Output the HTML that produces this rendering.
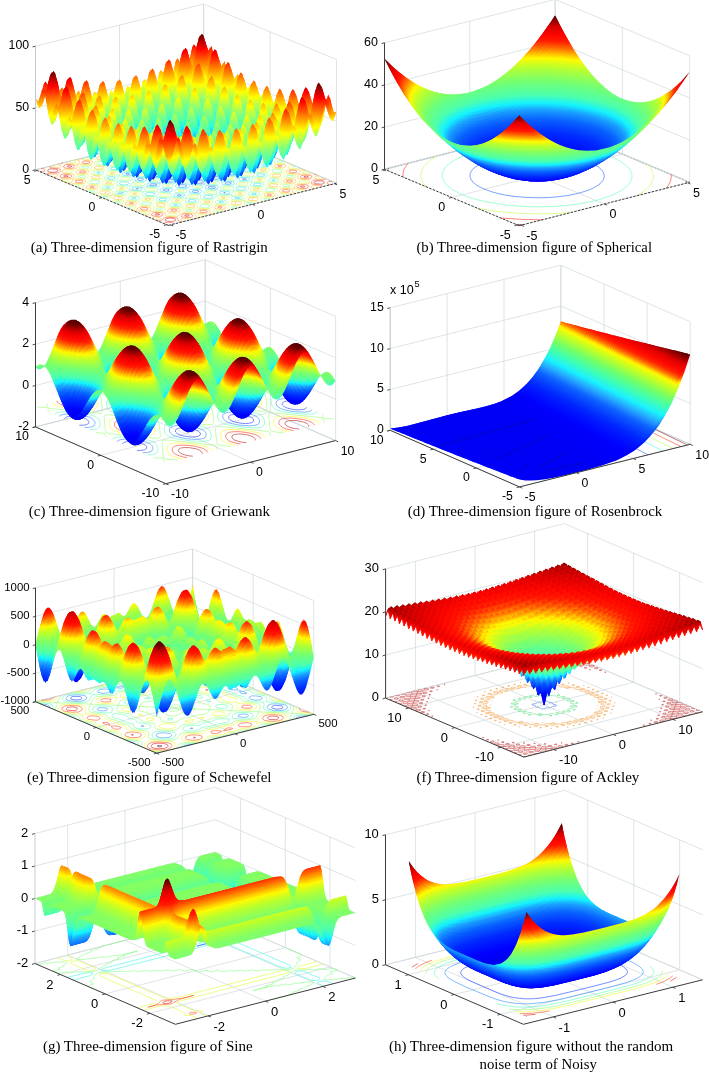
<!DOCTYPE html>
<html><head><meta charset="utf-8"><title>Three-dimension figures of benchmark functions</title>
<style>html,body{margin:0;padding:0;background:#fff}svg{display:block}</style></head>
<body><svg width="709" height="1073" viewBox="0 0 709 1073" font-family="'Liberation Sans',Arial,sans-serif" fill="#000">
<defs><linearGradient id="ga" gradientUnits="userSpaceOnUse" x1="842" y1="1152" x2="718" y2="659"><stop offset="0" stop-color="#0000e6"/><stop offset="0.1" stop-color="#000dff"/><stop offset="0.2" stop-color="#004cff"/><stop offset="0.3" stop-color="#0da6ff"/><stop offset="0.37" stop-color="#1af7f2"/><stop offset="0.43" stop-color="#52ffa8"/><stop offset="0.5" stop-color="#80ff80"/><stop offset="0.625" stop-color="#ffff00"/><stop offset="0.75" stop-color="#ff8000"/><stop offset="0.875" stop-color="#ff0000"/><stop offset="0.94" stop-color="#bf0000"/><stop offset="1" stop-color="#660000"/></linearGradient>
<clipPath id="ca"><rect x="0" y="0" width="356" height="258"/></clipPath>
<linearGradient id="gb" gradientUnits="userSpaceOnUse" x1="2596" y1="1128" x2="2463" y2="609"><stop offset="0" stop-color="#0000e6"/><stop offset="0.1" stop-color="#0000ff"/><stop offset="0.2" stop-color="#002bff"/><stop offset="0.28" stop-color="#0861ff"/><stop offset="0.34" stop-color="#1a9eff"/><stop offset="0.385" stop-color="#14f2ff"/><stop offset="0.44" stop-color="#4cffad"/><stop offset="0.53" stop-color="#73ff73"/><stop offset="0.63" stop-color="#b8ff2e"/><stop offset="0.695" stop-color="#fffa00"/><stop offset="0.735" stop-color="#ffad00"/><stop offset="0.775" stop-color="#ff6100"/><stop offset="0.82" stop-color="#ff1a00"/><stop offset="0.86" stop-color="#ff0500"/><stop offset="0.92" stop-color="#d90000"/><stop offset="1" stop-color="#590000"/></linearGradient>
<clipPath id="cb"><rect x="356" y="0" width="353" height="258"/></clipPath>
<linearGradient id="gc" gradientUnits="userSpaceOnUse" x1="830" y1="2311" x2="734" y2="1933"><stop offset="0" stop-color="#0000e6"/><stop offset="0.1" stop-color="#0000ff"/><stop offset="0.2" stop-color="#002bff"/><stop offset="0.28" stop-color="#0861ff"/><stop offset="0.34" stop-color="#1a9eff"/><stop offset="0.385" stop-color="#14f2ff"/><stop offset="0.44" stop-color="#4cffad"/><stop offset="0.53" stop-color="#73ff73"/><stop offset="0.63" stop-color="#b8ff2e"/><stop offset="0.695" stop-color="#fffa00"/><stop offset="0.735" stop-color="#ffad00"/><stop offset="0.775" stop-color="#ff6100"/><stop offset="0.82" stop-color="#ff1a00"/><stop offset="0.86" stop-color="#ff0500"/><stop offset="0.92" stop-color="#d90000"/><stop offset="1" stop-color="#590000"/></linearGradient>
<clipPath id="cc"><rect x="0" y="256" width="356" height="266"/></clipPath>
<linearGradient id="gd" gradientUnits="userSpaceOnUse" x1="2598" y1="2434" x2="2492" y2="2011"><stop offset="0" stop-color="#0000f2"/><stop offset="0.08" stop-color="#0000ff"/><stop offset="0.17" stop-color="#0026ff"/><stop offset="0.264" stop-color="#0d61ff"/><stop offset="0.327" stop-color="#26a6ff"/><stop offset="0.39" stop-color="#1af2ff"/><stop offset="0.47" stop-color="#40ffb2"/><stop offset="0.555" stop-color="#73ff66"/><stop offset="0.64" stop-color="#bfff26"/><stop offset="0.7" stop-color="#fffa00"/><stop offset="0.725" stop-color="#ffb800"/><stop offset="0.75" stop-color="#ff6b00"/><stop offset="0.79" stop-color="#ff2100"/><stop offset="0.83" stop-color="#ff0800"/><stop offset="0.9" stop-color="#de0000"/><stop offset="1" stop-color="#590000"/></linearGradient>
<clipPath id="cd"><rect x="356" y="256" width="353" height="266"/></clipPath>
<linearGradient id="ge" gradientUnits="userSpaceOnUse" x1="784" y1="3719" x2="673" y2="3272"><stop offset="0" stop-color="#0000e6"/><stop offset="0.1" stop-color="#0000ff"/><stop offset="0.2" stop-color="#002bff"/><stop offset="0.28" stop-color="#0861ff"/><stop offset="0.34" stop-color="#1a9eff"/><stop offset="0.385" stop-color="#14f2ff"/><stop offset="0.44" stop-color="#4cffad"/><stop offset="0.53" stop-color="#73ff73"/><stop offset="0.63" stop-color="#b8ff2e"/><stop offset="0.695" stop-color="#fffa00"/><stop offset="0.735" stop-color="#ffad00"/><stop offset="0.775" stop-color="#ff6100"/><stop offset="0.82" stop-color="#ff1a00"/><stop offset="0.86" stop-color="#ff0500"/><stop offset="0.92" stop-color="#d90000"/><stop offset="1" stop-color="#590000"/></linearGradient>
<clipPath id="ce"><rect x="0" y="520" width="356" height="270"/></clipPath>
<linearGradient id="gf" gradientUnits="userSpaceOnUse" x1="2620" y1="3786" x2="2507" y2="3340"><stop offset="0" stop-color="#0000e6"/><stop offset="0.1" stop-color="#0000ff"/><stop offset="0.2" stop-color="#002bff"/><stop offset="0.28" stop-color="#0861ff"/><stop offset="0.34" stop-color="#1a9eff"/><stop offset="0.385" stop-color="#14f2ff"/><stop offset="0.44" stop-color="#4cffad"/><stop offset="0.53" stop-color="#73ff73"/><stop offset="0.63" stop-color="#b8ff2e"/><stop offset="0.695" stop-color="#fffa00"/><stop offset="0.735" stop-color="#ffad00"/><stop offset="0.775" stop-color="#ff6100"/><stop offset="0.82" stop-color="#ff1a00"/><stop offset="0.86" stop-color="#ff0500"/><stop offset="0.92" stop-color="#d90000"/><stop offset="1" stop-color="#590000"/></linearGradient>
<clipPath id="cf"><rect x="356" y="520" width="353" height="270"/></clipPath>
<linearGradient id="gg" gradientUnits="userSpaceOnUse" x1="877" y1="5138" x2="725" y2="4546"><stop offset="0" stop-color="#0000e6"/><stop offset="0.1" stop-color="#0000ff"/><stop offset="0.2" stop-color="#002bff"/><stop offset="0.28" stop-color="#0861ff"/><stop offset="0.34" stop-color="#1a9eff"/><stop offset="0.385" stop-color="#14f2ff"/><stop offset="0.44" stop-color="#4cffad"/><stop offset="0.53" stop-color="#73ff73"/><stop offset="0.63" stop-color="#b8ff2e"/><stop offset="0.695" stop-color="#fffa00"/><stop offset="0.735" stop-color="#ffad00"/><stop offset="0.775" stop-color="#ff6100"/><stop offset="0.82" stop-color="#ff1a00"/><stop offset="0.86" stop-color="#ff0500"/><stop offset="0.92" stop-color="#d90000"/><stop offset="1" stop-color="#590000"/></linearGradient>
<clipPath id="cg"><rect x="0" y="786" width="356" height="290"/></clipPath>
<linearGradient id="gh" gradientUnits="userSpaceOnUse" x1="2617" y1="5122" x2="2495" y2="4628"><stop offset="0" stop-color="#0000e6"/><stop offset="0.1" stop-color="#0000ff"/><stop offset="0.2" stop-color="#002bff"/><stop offset="0.28" stop-color="#0861ff"/><stop offset="0.34" stop-color="#1a9eff"/><stop offset="0.385" stop-color="#14f2ff"/><stop offset="0.44" stop-color="#4cffad"/><stop offset="0.53" stop-color="#73ff73"/><stop offset="0.63" stop-color="#b8ff2e"/><stop offset="0.695" stop-color="#fffa00"/><stop offset="0.735" stop-color="#ffad00"/><stop offset="0.775" stop-color="#ff6100"/><stop offset="0.82" stop-color="#ff1a00"/><stop offset="0.86" stop-color="#ff0500"/><stop offset="0.92" stop-color="#d90000"/><stop offset="1" stop-color="#590000"/></linearGradient>
<clipPath id="ch"><rect x="356.5" y="786" width="353" height="290"/></clipPath></defs>
<rect width="709" height="1073" fill="#fff"/>
<g clip-path="url(#ca)"><path d="M168.4 225.4L35.5 169.8M35.5 169.8L35.5 46.2M252.4 204.3L119.5 148.7M119.5 148.7L119.5 25.1M336.5 183.2L203.6 127.6M203.6 127.6L203.6 4M168.4 225.4L336.5 183.2M336.5 183.2L336.5 59.6M102 197.6L270.1 155.4M270.1 155.4L270.1 31.8M35.5 169.8L203.6 127.6M203.6 127.6L203.6 4M35.5 169.8L203.6 127.6M203.6 127.6L336.5 183.2M35.5 108L203.6 65.8M203.6 65.8L336.5 121.4M35.5 46.2L203.6 4M203.6 4L336.5 59.6M35.5 169.8L203.6 127.6M336.5 183.2L203.6 127.6" fill="none" stroke="#ccd6d9" stroke-width=".65"/>
<g transform="scale(.2)"><g fill="none" stroke-width="3">
<path stroke="#317fff" d="M1126 965l-7-2 1-1 4 0zM896 981l-3 0-7-4 11-3 9 3zM985 962l-16 0-8-4 4-5 13-1 7 0 8 4 0 2zM1056 942l-7 0-8-4 0-2 6-4 21-1 9 4 0 2-6 4zM1140 921l-8 0-7-4 0-2 8-4 15 0 9 3-4 6zM1221 899l-9-4 10-3 10 4zM924 936l-16 1-10-2-7-4 1-1 5-5 12-2 12 1 11 2 2 6-1 1zM996 917l-18-2-6-4 1-4 6-4 15-1 10 1 11 3 2 5 0 1-8 4zM1080 896l-20-2-5-4 1-4 9-3 20 0 10 2 2 4-5 5zM836 956l-16-2-5-4 2-2 11-3 7 0 11 3 0 5zM1161 874l-14-1-5-5 1-2 10-3 8 0 11 3 0 5zM773 929l-21-2-3-5 2-2 11-2 20 2 2 5-1 1zM845 910l-15-2-5-5 6-6 13-1 11 0 13 2 3 5-2 3-8 4zM932 890l-10 0-12-2-4-5 1-3 7-4 14-1 10 0 12 2 4 5-1 3-7 4zM1016 869l-11 0-13-2-3-5 2-3 8-4 19 0 12 2 5 5-1 1-5 5zM1098 847l-20-2-2-5 1-1 10-3 21 2 3 5-2 2zM690 944l-8 1 4-3 4 1zM1174 823l-4-1 0-1 8-1zM881 862l-15 1-10-1-11-3-2-5 8-5 13-1 18 2 6 4-1 4zM707 902l-8 0-11-3 0-5 11-3 14 1 5 5-1 2zM779 883l-14-3-2-4 5-5 16-2 16 2 5 4-1 4-9 3zM951 842l-12-1-11-2-2-6 1-1 9-3 16-1 10 2 7 4-1 1-5 5zM1032 820l-7 0-11-3 0-5 10-3 16 2 5 4-2 2zM638 873l-10-4 12-3 8 4zM727 854l-15 0-9-3 4-6 13-1 8 0 7 4 0 2zM798 834l-6 0-9-4 0-2 6-4 22-1 8 4 0 2-6 4zM882 813l-7 0-8-4 0-2 8-4 16 0 8 4-4 5zM963 791l-9-3 10-4 10 4zM740 803l-4 0-2-3 7 2z"/>
<path stroke="#3fdff9" d="M1112 1015l-15-2-1-5 15-1 5 1 2 2zM1197 994l-17 0-4-1-1-1 3-6 18 1 3 0 2 2 0 3zM1280 973l-15 0-6-1-1-1 7-5 13 1zM1055 991l-25 0-10-3-2-6 5-4 12-2 25 2 6 4-2 6zM1140 971l-13 1-17-1-10-3-2-5 1-3 7-4 14-1 22 2 7 4-1 6zM1223 949l-12 2-19-1-10-3-1-5 2-3 8-4 16 0 15 2 7 4 0 3zM888 1027l-17 0-3-1 9-4 6 0zM967 1011l-15-1-10-3 0-5 1-2 11-2 20 1 6 4-3 5zM1293 929l-15-1-10-2 0-6 1-1 10-3 21 1 7 4-3 5zM1371 905l-12-2 1-2 14-2 1 1-2 5zM996 966l-15 1-26-2-8-3 0-9 5-5 13-1 35 1 8 4 1 5-5 6zM1081 946l-14 1-32-2-8-3 0-6 2-5 5-5 16 0 32 2 9 3 0 6-3 5zM1164 924l-12 2-35-2-7-3-1-6 3-5 8-4 16 0 26 2 9 3 0 5-1 4zM830 1002l-12 2-15-1-8-3 1-5 9-3 20 0 9 4zM908 986l-16 0-14-1-8-4-1-4 4-6 11-2 30 1 9 3 0 6-5 4zM1234 904l-31-1-8-4 0-4 4-6 10-2 17 0 13 1 9 4 1 5-5 4zM1313 881l-21 0-8-4 0-1 4-6 12-2 14 2 9 3-1 5zM847 960l-26 0-14-2-6-4 0-6 4-5 11-3 34 1 12 3 0 1 1 4-6 9zM920 941l-37-2-5-4 2-10 3-3 0-3 14-1 19 1 21 1 13 2-2 3 1 3-5 10-9 3zM1007 922l-47-3-1-3-2-1 4-13 3-5 55 2 14 2-3 2 2 4-4 9-7 5zM1091 901l-48-2-3-5 4-13 7-4 48 2 11 3 1 5-2 7-5 5zM1173 878l-27 0-15-1-5-5 1-6 4-5 10-3 34 2 11 3 3 5-1 3-5 5zM757 979l-25-2-6-4 2-6 9-4 25 1 11 2 1 6-5 5zM1236 856l-16-2-5-4 0-3 5-5 12-2 19 1 10 3 1 2 1 3-2 3-9 3zM661 995l-2-1-1-4 3-2 5 0 14 2-4 4zM1328 831l-15 0-3-5 2-2 7 0 14 2zM875 916l-47-2-13-3-4-4 3-10 4-3-1-2 15-1 55 2-1 6-5 12zM962 896l-73-3 3-5-1-1 4-12 2-1 1-5 73 3-3 5 1 1-4 12-2 1zM1043 873l-15 1-55-2 1-6 5-12 6-5 47 2 13 3 4 4-3 10-4 3zM705 950l-12 2-17 0-12-3-5-4 3-6 9-3 24 0 13 2 4 5-1 2zM784 934l-33-1-12-2-4-5 1-5 4-6 10-2 34 1 15 1 1 6-2 5-4 5zM1110 852l-34-1-15-1-1-6 2-5 4-5 10-3 33 1 12 2 4 5-1 5-4 6zM1189 829l-24 0-13-2-4-5 1-2 6-5 12-2 17 0 12 3 5 4-3 6zM614 968l-16 1-6-2-2-2 2-3 3-2 18 1 3 1 0 5zM1265 805l-21-1 0-6 7-2 17 2 2 2-2 3zM809 888l-48-2-11-3-1-5 2-7 5-5 13-2 48 2 3 5-2 7-2 6zM878 868l-37-2-14-2 3-2-2-4 4-9 7-5 14-1 47 3 1 3 2 1-4 13-3 5zM963 847l-40-2-13-2 2-3-1-3 5-10 9-3 37 0 15 2 5 4-2 10-3 3 0 3zM628 925l-19-1-10-3-2-5 2-3 9-3 17-1 15 2 5 4 0 3-5 5zM702 907l-17-2-11-3-3-5 1-3 5-5 10-2 27 0 15 1 5 5-1 6-4 5-10 3zM1044 825l-34-1-12-3 0-1-1-4 6-9 10-2 26 0 14 2 6 4 0 6-4 5zM1123 802l-25-1-11-2-1-6 5-5 12-2 25 2 6 4-2 6zM548 941l-7 0-14-2 5-5 15 0 3 5zM1199 777l-5 0-14-2 4-4 15-1 2 1 1 4zM740 859l-16 0-26-2-9-3 0-5 1-4 6-4 12-2 35 2 7 3 1 6-3 5zM826 839l-16 0-32-2-9-3 0-6 3-5 7-4 14-1 32 2 8 3 0 6-2 5zM908 817l-13 1-35-1-8-4-1-5 5-6 8-3 15-1 26 2 8 3 0 9zM572 895l-12 2-14-2-9-3 1-5 9-3 21 0 8 4zM651 878l-17 0-13-1-9-4-1-4 5-5 10-3 31 1 8 4 0 4-4 6zM976 796l-30-1-9-3 0-5 5-5 10-3 16 0 14 1 8 4 1 4-4 6zM1055 773l-20 0-9-4 0-1 4-5 12-2 15 1 8 3-1 5zM581 849l-21-1-7-4 3-5 11-3 15 1 10 2 0 6-1 1zM653 830l-15-2-7-4 0-3 6-5 12-2 18 1 11 3 1 5-2 3-8 4zM740 810l-22-2-7-4 1-6 8-4 13-1 17 1 10 3 2 5-1 3-7 4zM825 789l-25-2-6-4 2-6 9-3 25 0 10 3 2 6-5 4zM906 767l-20-1-6-4 3-5 10-3 15 1 10 3 0 5-1 2zM487 866l-2-1 2-5 2 0 12 2-1 2zM983 743l-6 0-5-4 3-1 17 1zM682 779l-21-1-2-2 0-3 4-2 6-1 15 2 1 1zM595 799l-13-1-3-5 16-1 6 1 1 1zM749 758l-5-1-2-2 6-5 15 2 1 5z"/>
<path stroke="#82ffa9" d="M1087 1061l-3-1 13-2zM1178 1043l-17-2-4-4 2-2 13-2 12 3 1 2zM1259 1022l-18-1-5-4 6-4 14-1 11 3 2 2-3 4M1332 1001l-8-1-5-4 8-4 7 0 13 3-1 5zM1412 979l8-4 3 1zM1123 1019l-15 1-15-1-11-2-4-5 0-4 5-5 13-2 22 1 13 2 5 5-1 1-4 6zM1194 1000l-21-1-12-2-3-5 1-7 6-4 15-1 20 1 14 3 4 4-3 7-7 4zM1279 979l-23 0-12-3-3-5 2-7 8-4 29 1 13 3 5 4-1 5-6 4zM945 1057l-15-2-3-5 9-3 21 1 2 5-2 2zM1019 1039l-15-3-4-4 4-6 11-3 17 1 13 2 5 4-5 6-10 3zM1344 957l-14-2-4-5 4-6 10-3 18 1 13 2 5 4-5 7-11 2zM1440 934l-8 0-14-2 0-5 1-2 12-2 14 3 5 4-1 1zM1066 996l-51-1-12-3 2-1-1-5 1-6-1-3 1-2-10-3-18-1-22-1-13 2-6 5-5 11-8 4-4-1-55-3-5 1-5-4 3-12-2-5-11-3-17-1-23-1-12 2 0 2-4 4-3 6-4 4 0 1-13 2-50-4-5-4 0-8 2-4-2-4 4-2-8 1-9-2-37-2-14-2-3-5 4-12-3-3 4-3-8 1-11-1-36-3-11-2-1-6 3-11 8-4 53 1 9-3 3-6 1-7-5-4-51-4-12-3 4-1 3-13 3-5-2-2 13-1 52 1 8-4 4-6 1-7-6-4-52-4 0-1-5-3 5-12 5-5 13-1 36 1 12-1 6 2-2-3 6-3 5-12 6-4 15-1 37 1 10-1 8 2-3-3 5-4 1-3 5-8 8-4 16 0 35 1 12 3-2 1 1 5-1 6 1 3-1 2 10 3 18 1 22 1 13-2 6-5 5-11 8-4 4 1 55 3 5-1 5 4-3 12 2 5 11 3 17 1 23 1 12-2 0-2 4-4 3-6 4-4 0-1 13-2 50 4 5 4 0 8-2 4 2 4-4 2 8-1 9 2 37 2 14 2 3 5-4 12 3 3-4 3 8-1 11 1 36 3 11 2 1 6-3 11-8 4-53-1-9 3-4 7 0 6 5 4 51 4 12 3-4 1-1 6-5 12 2 2-13 1-52-1-8 4-4 6-1 7 6 4 52 4 0 1 5 3-5 12-5 5-13 1-36-1-12 1-6-2 2 3-6 3-5 12-6 4-15 1-37-1-10 1-8-2 3 3-5 4-1 3-5 8zM888 1034l-24-1-10-4-2-5 2-5 9-3 16 0 21 2 7 4-2 5-6 4zM962 1015l-23-1-11-3-1-5 2-11 11-3 51 3 6 4-2 2-2 6-5 5-11 3zM1287 933l-25 0-11-3 2-4-1-2 3-6 0-5 10-3 34 2 15 2 6 4-1 8-5 4-11 3zM1383 910l-31 0-10-3-1-5 5-7 12-2 16 0 14 2 7 4 0 2-3 6zM794 1051l-12-3-1-3 6-4 21 0 6 4-6 5zM1445 887l-11-3 0-2 4-5 15-1 7 1 7 4-7 5zM1059 972l19 1 6-5-1-2 3-6-2-5-9-3-33-2-14 2-6 4-4 10 7 4zM1142 952l20 0 4-6 2-7 0-5-10-3-31-1-14 1-8 4-3 4-1 6 7 4zM829 1009l-24-1-15-1-8-4-1-5 2-6 0-2 8-4 52 2 9 3-6 11-5 5zM1324 886l-50-1-8-4 3-4 2-6 2-2 1-4 13-2 19 1 21 2 9 4 1 5-4 7zM736 1026l-19-1-8-4 0-6 8-4 14-1 17 2 9 3-1 6-7 4zM1387 863l-18-2-8-3 0-6 7-4 14-2 18 2 8 3 1 7-8 3zM654 1041l-10-3 11 2zM1473 835l-2 1-7-4zM913 965l11-1 8-3 3-7-3-5-11-3-28-1-12 1-6 5-2 7 5 4 15 2zM1002 942l3 0 8-4 2-4-3-5-11-3-21-1-13 1-7 4-1 6 5 5 15 2zM1085 921l5 0 6-4 1-4-2-5-11-3-19-1-14 1-8 4-2 7 6 4 14 2 15 0zM1160 903l16-2 5-5 2-5-1-5-12-3-22-1-15 1-8 4-3 5-1 4 6 4 14 2zM688 999l-13 2-15-1-13-2-7-4 1-6 0-1 8-4 14-1 22 1 12 2 0 6-2 4zM1339 836l-14 1-29-2-5-4 3-7 6-5 14-1 22 2 10 2 3 5-2 5zM594 1016l-18 0-3-5 3-2 13-2 11 3 1 2zM1399 811l-6 0-6-4 8-4 9 0 12 2-2 6zM758 959l18 0 10-3 3-10-3-5-12-3-33-1-12 2-5 5-2 6-2 2 3 5zM850 936l6 0 8-4 3-6-4-4-12-3-21-1-12 2-6 5-2 4 5 5 13 2zM1096 874l12-1 5-5 2-4-3-5-13-2-29 0-9 3-2 6 4 5 13 3zM1172 855l13 1 12-3 4-5 3-7 0-5-15-2-39 0-10 3-3 5-1 5 5 5 13 2zM914 914l23 0 8-4 1-4-3-5-12-2-14-1-13 2-7 4-1 4 5 4zM997 894l11 0 14-1 6-5 1-3-3-4-12-3-26 1-8 3-1 5 4 4zM612 974l-21-1-12-2-5-5 2-7 8-3 14-1 21 0 14 2 2 5-3 7-7 4zM1262 810l-21 0-14-2-2-5 3-7 7-4 13-1 21 1 12 2 5 5-2 7-8 3zM1353 778l0 4-3 2-13 2-13-2-3-5 8-4 18 1M507 987l0-4 3-2 13-2 13 2 3 5-8 4-18-1M691 931l19 0 10-3 3-5 1-5-5-5-13-2-31-2-12 3-4 5-3 7 0 5 15 2zM781 909l9-1 9-3 2-7-4-4-13-3-19 0-13 1-5 5-2 4 3 5 13 2zM869 887l3-1 8-3 1-5-4-4-14-3-11 0-14 1-6 5-1 3 3 4 12 3zM953 866l3-1 7-4 1-4-5-4-13-2-23 0-8 4-1 4 3 5 12 2 14 1zM1028 847l14-2 6-5 2-4-5-5-13-2-28 0-8 4-3 6 4 4 12 3zM1104 828l15 0 12-2 5-5 2-6 2-2-3-5-16-1-37-1-10 3-3 10 3 5 12 3zM546 947l-22-2-10-2-3-5 2-5 8-4 14-1 29 2 5 4-3 7-6 5zM1197 783l-22-1-12-2 0-6 2-4 7-4 13-2 15 1 13 2 7 4-1 7-8 4zM465 962l-9 0-12-2 2-6 15 0 6 0 6 4zM1271 758l-11-3-1-2 7-4 18 0 3 5-3 2zM708 883l19-1 8-4 4-9-6-4-14-2-22-1-13 2-5 5-2 5 1 5 12 3zM794 861l15-1 8-4 2-7-6-4-29-2-14 1-6 4-1 4 2 5 11 3zM877 840l16-1 7-4 1-6-5-5-27-2-14 1-8 4-2 4 3 5 11 3zM957 820l10 0 12-1 6-5 2-7-5-4-15-2-31 0-8 3-3 7 3 5 11 3zM573 902l-40-3-9-4-1-5 4-7 9-4 50 1 8 4-3 4-2 6-2 2-1 4zM1069 779l-52-2-9-3 6-11 5-5 12-2 24 1 15 1 8 4 1 5-2 6 0 2zM478 919l-18-2-8-3-1-6 8-4 14-2 18 2 8 3 0 6-7 4zM1129 755l-17-2-9-3 0-6 8-4 13-1 19 1 8 4 0 6-8 4zM396 933l-10-3 3-1zM1215 728l-10-3 3-1zM745 834l10-4 3-4 1-6-7-4-39-3-15 0-4 6-2 7 0 5 10 3 31 1zM829 813l3 0 6-4 3-4 1-6-7-4-36-3-17 0-6 5 1 2-3 6 2 5 9 3 33 2zM595 855l-49-4-6-4 0-6 6-6 11-3 41 0 11 3-2 4 1 2-3 6 0 5zM920 773l-51-3-6-4 2-2 2-6 5-5 11-3 15 0 23 1 11 3 1 5-2 11zM422 888l-15 1-7-1-7-4 0-1 7-4 16-1 10 3 0 2zM502 872l-16 0-14-2-7-4 0-2 3-6 9-3 31 0 10 3 1 5 0 2-5 5zM981 749l-21-2-7-4 2-5 6-4 11-3 24 1 10 4 2 3-2 7-9 3zM1073 724l-21 0-6-4 6-5 16-1 10 3 1 3zM609 805l-29-1-13-3-5-4 1-5 6-4 12-2 23 0 12 3 3 5-2 7zM680 785l-20-1-14-3-4-4 3-7 7-4 14-1 21 1 12 2 3 5-1 7-6 4zM764 764l-22-1-13-2-5-5 5-7 8-3 15-1 15 1 11 2 4 5 0 4-5 5zM429 842l-14-3-5-4 10-4 8 0 14 2 0 5-1 2zM503 823l-14-2-5-4 5-7 11-2 18 0 12 2 4 5-4 6-10 3zM828 741l-13-2-5-4 5-6 10-3 19 0 12 3 4 4-4 6-11 3zM924 718l-21-1-2-5 2-2 12-2 15 2 3 5zM533 773l-7 0-13-3 1-5 14-1 8 1 5 4zM688 732l-12-3-1-2 7-5 17 2 4 4-2 2zM440 790l-3-1 12-2zM764 708l9-4 3 1zM601 743l18 1 5 4-6 4-14 1-11-3-2-2 3-4"/>
<path stroke="#d9ff54" d="M1009 1085l-14-2-5-4 0-3 9-3 13 0 13 3 0 5M1083 1067l-14-3-5-4-1-2 3-6 11-2 25 1 11 2 3 5M1160 1047l-14-2-5-4 0-7 4-5 13-2 30 2 11 3 3 5M1240 1027l-14-2-5-4 1-9 4-4-5-4-16 1-37-2-13 2-7 4-6 9 1 3-8 3-54-1-13 1 0 2-5 4-3 5-5 5-10 3-43-1-13-2-2-5 1-2-1-9-8-4-26-1-18-1-11 3-5 4-8 11-12 2-31-1-19-1-10-3 1-11-2-5-9-3-17-2-27 0-11 2-7 11-6 5-14 1-42-3-8-4-1-5 1-6-2-4 1-1-12-2-53-4-5-4 2-3 1-9-4-5-12-2-36-2-15-2-8 4 2 3-6 9-8 4-15 0M1323 1006l-14-2-5-4 1-10 8-3 17 0 20 1 11 3 3 5M1409 985l-14-2-6-5 3-8 10-2 26 1 11 3 3 4M1500 962l-17-2-4-4 3-4 12-2 8 0 11 3 2 5M955 1062l-27-1-12-3-4-4 1-10 9-3 36 1 15 2 3 5-3 6-6 5zM1450 938l-35 1-13-3-2-5 2-6 3-5 13-2 28 2 13 2 5 4-1 4-4 5zM863 1079l-7 0-12-2-4-5 0-2 8-4 14-1 18 3 4 4-1 2-7 4zM1513 916l-18-3-3-5 1-1 6-4 19-1 13 2 5 4-1 3-8 3zM1049 1019l8 1 6-4 2-6-1-5-8-4-32-2-12 2-6 5-2 2-1 6 9 4zM1296 957l13 0 0-3 3-3 2-9-9-4-26-1-15 1-8 3-4 5 1 6 8 3zM1114 998l23-1 7-4 1-3-1-6-8-3-17-1-21 1-7 4-1 2 0 6 8 3zM1197 977l10 0 14-1 6-4 0-8-8-4-23-1-14 1-8 4-1 2-1 6 9 3zM806 1056l-27-2-10-3-3-5 1-6 7-5 16 0 35 2 6 4-5 9-7 4zM1456 892l-29-1-10-3 0-6 3-5 5-5 15-1 33 3 7 4 0 5-2 4-8 3zM1550 861l-5 4-13 2-8 0-10-3 0-5 7-3 17 0M698 1067l4-6 13-1 13 1 6 4-1 2-8 4-15 1M881 1012l21 0 10-3 3-6-2-5-10-3-27-1-11 2-6 5-1 5 7 4zM971 989l11 0 8-4 0-6-10-4-15 0-12 1-6 5 0 3 7 4zM1059 967l5 0 7-5-1-3-10-4-21 1-6 5 0 1 7 4zM1141 946l7 0 5-5-1-3-9-3-20 0-7 4-1 3 8 3zM1218 927l16-2 5-5-1-4-9-3-8 0-16 0-9 4-1 5 7 3zM1294 908l17 0 12-2 5-7-1-5-10-3-16-1-16 0-9 3-3 3-1 6 8 4zM1492 836l-6 5-13 1-25-1-8-3 3-8 8-4 15-1M748 1006l7 0 11-2 3-6 0-3-3-5-10-3-32-1-10 3-5 5-2 6 3 4zM1326 861l7 0 11-2 5-9-1-4 1-2-13-2-34-1-11 3-4 5 0 5 6 4 14 2zM626 1036l5-4 13-2 25 1 9 4-2 6-1 2-9 3-14 1M820 982l12 0 10-3 1-2-1-5-11-3-16-1-11 2-5 7 5 4zM912 959l7-4-1-3-11-3-15 2-3 3 4 4zM1164 896l2-6-12-2-10 0-8 4 5 4 9 1zM1233 879l8 0 11-2 5-6-2-3-11-3-20 0-10 3-2 5 6 4zM981 937l11 0 5-5-18-1-1 1zM1062 916l14 0 3-4-16-2-2 1zM1431 811l-6 4-13 2-21 0-16-2-5-4 5-10 8-3 15-1M684 978l13-3 4-5 0-2-4-5-11-3-25 0-11 2-6 9 5 4 13 3zM1262 833l13-3 6-8-3-5-13-2-26 0-11 2-4 6 0 2 5 5 13 2zM558 1008l6-4 13-2 29 1 12 2 0 6-5 6-8 4-15 1M756 954l8 0 10-3 1-2-3-5-12-2-8 0-11 2-4 4 4 4zM1168 851l5 0 12-3 2-2 0-4-1-1-13-3-12 0-10 4-1 2 4 4zM831 930l12 0 6-4-3-1-16 0zM920 907l3-1-3 0zM1003 886l4-1-3 0zM1078 868l17-1 0-4-13-1-5 5zM1368 784l-6 5-13 1-29 0-9-1-13 1 2 5-2 2-2 10 5 5 13 2 36 2 12 3-3 17 4 3 0 1 49 5 9 3 1 5-3 9-7 4-49 1-11 2-5 9 0 5 7 4 49 5 6 4-2 3-1 7-2 2 0 4-9 3-51 0-9 3-4 6-1 3 0 3-1 2 9 4 48 5 4 4-4 9-5 5-11 2-50 0-7 4-10 17-13 2-37-1-14 1-8 4-5 9 0 2-5 5 11 3 11-1 27 2 12 3 2 5M615 950l6 0 11-2 4-6 0-2-5-5-13-2-23-1-10 3-6 8 3 5 13 2zM1193 805l6 0 11-2 6-9-5-4-13-3-25 0-10 3-4 5 0 2 4 5 11 3zM492 981l6-5 13-1 29 0 9 1 13-1-2-5 2-2 2-10-5-5-13-2-36-2-12-3 3-17-4-3 0-1-49-5-9-3-1-5 3-9 7-4 49-1 11-2 5-9 0-5-7-4-49-5-6-4 2-3 1-7 2-2 0-4 9-3 51 0 9-3 4-6 1-3 0-3 1-2-9-4-48-5-4-4 4-9 5-5 11-2 50 0 7-4 10-17 13-2 37 1 14-1 8-4 5-9 0-2 5-5-11-3-11 1-27-2-12-3-2-5M687 927l12 0 10-4 1-2-4-4-14-3-5 0-12 3-2 2 1 5zM1100 823l8 0 11-2 4-4-4-4-15-2-8 0-10 3-1 2 3 5zM765 902l13 1 5-5-3-1-15 1zM853 880l3 0 1-1zM937 859l3 0 0-1zM1011 840l19 0-1-5-12 0-6 4zM1302 757l-6 4-13 2-29-1-12-2 0-6 5-6 8-4 15-1M429 954l6-4 13-2 21 0 16 2 5 4-5 10-8 3-15 1M543 924l15 0 11-3 4-5 0-5-6-4-14-2-26-1-11 2-5 9 1 4-1 2 13 2zM1121 779l15 0 10-3 5-5 2-6-3-4-17-2-28 0-11 2-3 6 0 3 3 5 10 3zM616 900l20 0 10-3 2-5-6-4-15-2-8 0-11 2-4 4 1 5zM706 877l10 0 8-4-5-4-9-1-14 1-2 6zM795 855l4-1-1-5-14 0-3 4zM878 834l4-1-3-5-11 0-5 5zM953 816l15-2 3-3-4-4-19-1-7 4 1 3zM1029 796l16 1 11-2 5-7-5-4-16-1-12 0-10 3-1 2 2 6zM1234 729l-5 4-13 2-25-1-9-4 2-6 1-2 9-3 14-1M368 929l6-5 13-1 25 1 8 3-3 8-8 4-15 1M561 875l14 0 9-3 3-3 1-6-8-4-14-2-17 0-12 2-4 5-1 2 1 5 10 3zM653 852l11-4 1-5-7-3-20-2-12 2-5 5 1 4 9 3zM902 789l5 0 6-5 0-3-7-4-12-1-16 0-8 4-1 1 1 5 10 4 15 0zM974 771l10 0 11-2 6-5 1-5-7-4-21-2-16 0-10 3-3 6 2 5 10 3zM717 830l20 0 7-4 1-3-8-3-11-2-14 1-5 5 1 3zM800 810l21-1 6-5 0-1-7-4-8-1-16 0-7 5 1 3zM420 894l-33-3-7-4 0-5 2-4 8-3 14-2 29 1 10 3 0 6-3 5-5 5zM1086 730l-16 0-35-2-6-4 5-9 7-4 13-2 27 2 10 3 3 5-1 6zM1162 698l-4 6-13 1-13-1-6-4 1-2 8-4 15-1M310 904l5-4 13-2 8 0 10 3 0 5-7 3-17 0M572 828l24-1 8-3 4-5-1-6-8-3-14-2-19-1-15 1 0 3-3 3-2 9 9 4zM658 806l20-1 8-4 1-2 1-6-9-3-16-2-10 0-14 1-6 4 0 8 8 4zM741 785l21-1 7-4 1-2 0-6-8-3-24-2-15 1-7 4-1 3 1 6 8 3zM820 766l16 0 12-2 6-5 2-2 1-6-9-4-45-2-6 4-2 6 1 5 8 4zM442 847l-28-2-13-2-5-4 1-4 4-5 9-3 35-1 13 3 2 5-2 6-3 5zM938 724l-36-1-15-2-3-5 3-6 6-5 12-2 27 1 12 3 4 4-1 10zM347 864l-18-3-5-4 1-3 8-3 19-1 13 2 3 5-1 1-6 4zM998 700l-18-3-4-4 1-2 7-4 20-1 12 2 4 5 0 2-8 4zM360 803l17 2 4 4-3 4-12 2-8 0-11-3-2-5M451 780l14 2 6 5-3 8-10 2-26-1-11-3-3-4M537 759l14 2 5 4-1 10-8 3-17 0-20-1-11-3-3-5M620 738l14 2 5 4-1 9-4 4 5 4 16-1 37 2 13-2 7-4 6-9-1-3 8-3 54 1 13-1 0-2 5-4 3-5 5-5 10-3 43 1 13 2 2 5-1 2 1 9 8 4 26 1 18 1 11-3 5-4 8-11 12-2 31 1 19 1 10 3-1 11 2 5 9 3 17 2 27 0 11-2 7-11 6-5 14-1 42 3 8 4 1 5-1 6 2 4-1 1 12 2 53 4 5 4-2 3-1 9 4 5 12 2 36 2 15 2 8-4-2-3 6-9 8-4 15 0M700 718l14 2 5 4 0 7-4 5-13 2-30-2-11-3-3-5M777 698l14 3 5 4 1 2-3 6-11 2-25-1-11-2-3-5M851 680l14 2 5 4 0 3-9 3-13 0-13-3 0-5"/>
<path stroke="#ffc22e" d="M844 1121zM923 1107l-14-2-6-5 1-3 7-5 25 0 12 3 2 5M995 1089l-13-3-6-4 0-11-4-2 0-3-4 1-56-2-10 3-9 10-7 4-13 2-12-1-18-1-12-2-4-5-1-11-8-3-55-3-4-1-2 2-5 2-8 11-8 3-15 1M1069 1070l-15-2-5-4 2-4-1-7-7-4-15-2-25 0-11 2-6 5-5 10 10 3 38 2 13 2 0 6M1142 1052l-8 0 0 2M1391 989l-5 0-4 2M1483 966l-17-1-4-5 2-2 0-7 3-3-6-4-49-1-10 4-5 7 2 5 10 4 33 2 12 3 1 5M1575 943l-15-2-5-4 1-4 6-4 14-1 12 1 11 2 3 5M1664 915l-1 0zM1099 1046l19 0 9-4 0-9-7-4-15-1-13 0-12 1-7 5-1 2 1 5 9 3zM1185 1024l15 0 7-5 0-6-7-4-22-1-13 1-8 5 1 6 10 3zM1268 1003l16 0 6-5 0-6-7-4-20-1-13 1-8 4-2 2 1 5 10 3zM1347 983l11 1 13-2 5-5 0-6-7-4-16-2-21 1-9 4-3 4 1 5 10 3zM1619 889l-6 5-13 1-12 0-13-2-3-5 2-3 8-4 15-1M883 1061l4 0 11-2-1-1 3-5-2-7-8-3-15-2-20 0-10 3-7 6 0 5-2 1 9 4zM1461 916l4 0 10-2 0-2 4-6 0-5 1-1-8-4-39 0-10 3-6 6 1 5 9 3 19 3zM757 1091l5-4 14-2 24 2 4 5-3 4-8 4-15 0M956 1037l7 0 10-3 1-7-9-3-19-1-12 2-4 5 0 3 8 3zM1369 934l14-2 4-6 0-3-8-3-19-1-5 0-11 4-1 6 9 3zM1028 1014l14 0 8-4 0-2-8-3-6-1-13 2-4 4zM1115 992l8-1 4-2-8-4-9 1-3 2zM1198 971l9-1 3-2-8-4-8 1-5 3zM1275 951l6 1 13-2 4-4-8-4-15 0-8 4 0 2zM1562 865l-7 5-13 1-34 0-14 1 2 2-4 5-2 7 0 6 9 3 32 3 13 3 5 4-1 4-3 6-8 4-14 1-33 0-11 2-4 6-3 8 0 5-3 1 8 0 5 2 33 3 11 3 4 4M805 1031l8 0 11-3 1-2 0-6-9-3-20-1-11 3-4 6 7 4zM1383 885l8 1 11-3 2-3 0-5-10-3-20-1-11 3-3 6 7 4zM684 1061l4-6 14-1 38 2 12-2 2-6 0-5-2-5-9-3-24-2-16 1-9 3-7 6-1 5-7 4-17 0M882 1006l7 0 9-3 0-1-10-3-11 2-1 1zM1294 902l15-2 1-2-13-3-10 3zM1503 841l-5 5-14 1-34 0-11 2-6 5 0 8 7 4 47 4 9-4 0-3 4-7 0-2 7-4 18 0M672 1025l7-1 5-5 0-3-3-4-10-3-29-1-10 3-6 9 6 4 15 2zM1413 839l11-3 5-6-1-6-12-2-27-1-12 2-5 5 0 5 6 4 20 2zM611 1031l1-2-7-1M728 1000l15 1 10-3 0-4-12-3-6 0-10 3-1 1zM1307 855l14 1 10-3 0-4-12-3-6 0-10 3-1 1zM1445 817l2 2 5 1M583 998l17 0 11-3 5-6-4-4-11-3-23 0-9 3-4 6 4 4zM1327 811l20 0 9-3 4-6-2-5-13-2-20 0-11 2-5 5 0 2 5 4zM666 971l7 1 11-3-1-2-9-2-10 3zM1244 826l7 1 11-3-1-2-9-2-11 3zM541 969l5-1 5-5 0-2-5-4-13-3-20 0-9 3-4 6 2 5 13 2 20 0zM1280 783l11-3 4-6-4-4-14-3-17 0-11 3-5 5 0 1 4 4 11 3zM599 943l9 2 11-3-3-3-7-1-11 3zM1177 798l9 2 10-3-2-3-7-1-11 3zM464 944l7 0 12-2 5-5 0-5-6-4-20-2-17 0-9 3-5 6 1 6 12 2zM1207 757l11 0 10-3 6-9-6-4-15-2-21 0-11 2-5 5 0 3 3 4 10 3zM541 919l6 0 10-3 1-1-5-5-14-1-10 3 0 4zM1119 774l6 0 10-3 1-1-4-5-15-1-10 3 0 4zM415 948l-2-2-5-1M1249 734l-1 2 7 1M486 894l11-3 3-6-7-4-24-2-11 3-2 3 0 5 10 3zM1064 749l11-3 3-5 1-1-7-4-25-2-11 3-1 2 0 6 9 3zM357 924l5-5 14-1 34 0 11-2 6-5 0-8-7-4-47-4-9 4 0 3-4 7 0 2-7 4-18 0M560 870l13-3-7-4-15 2-1 2zM972 766l12-3-6-4-7 0-9 3 0 1zM1176 704l-4 6-14 1-38-2-12 2-2 6 0 5 2 5 9 3 24 2 16-1 9-3 7-6 1-5 7-4 17 0M298 900l7-5 13-1 34 0 14-1-2-2 4-5 2-7 0-6-9-3-32-3-13-3-5-4 2-6 2-4 8-4 14-1 33 0 11-2 4-6 3-8 0-5 3-1-8 0-5-2-33-3-11-3-4-4M406 869l21 0 10-3 6-6-1-5-9-3-19-3-19 0-10 2 0 2-3 4-1 7-1 1 8 4zM500 846l5 0 11-4 1-6-9-3-20-2-11 2-4 6 0 3 8 3zM912 742l14-2 2-1 2-4 0-3-8-3-25-1-10 3 0 1-1 6 9 3zM985 724l20 0 10-3 7-6 0-5 2-1-9-4-18-1-24 0-11 2 1 1-3 5 2 7 8 3zM570 823l15 0 8-4 0-2-8-3-6-1-13 2-4 4zM658 801l8-1 5-3-9-3-9 1-3 2zM741 780l9-1 3-2-8-4-8 1-4 2zM818 760l6 1 13-2 4-4-9-4-14 0-8 4 0 2zM1103 674l-5 4-14 2-24-2-4-5 3-4 8-4 15 0M241 876l6-5 13-1 12 0 13 2 3 5-2 3-8 4-15 1M507 800l21-1 9-4 3-4-1-5-10-3-16-1-11-1-13 2-5 5 0 6 7 4zM593 778l17-1 8-4 2-2-1-5-10-3-17-1-16 0-6 5 0 6 7 4zM675 757l20-1 7-4 1-1-1-6-10-3-17-1-15 0-7 5 0 6 7 4zM755 737l13 0 12-1 7-5 1-2-1-5-9-3-20-2-16 0-9 4 0 9 7 4zM197 850l-1 0zM1016 644l-1 0zM285 822l15 2 5 4-1 4-6 4-14 1-12-1-11-2-3-5M377 799l17 1 4 5-2 2 0 7-3 3 6 4 49 1 10-4 5-7-2-5-10-4-33-2-12-3-1-5M469 776l5 0 4-2M718 713l8 0 0-2M791 695l15 2 5 4-2 4 1 7 7 4 15 2 25 0 11-2 6-5 5-10-10-3-38-2-13-2 0-6M865 676l13 3 6 4 0 11 4 2 0 3 4-1 56 2 10-3 9-10 7-4 13-2 18 1 12 1 12 2 4 5 1 11 8 3 55 3 4 1 2-2 5-2 8-11 8-3 15-1M937 658l14 2 6 5-1 3-7 5-25 0-12-3-2-5"/>
<path stroke="#ff602e" d="M910 1110l-14-2-5-4-2-11-6-4-37-3-16 1-10 3-9 10-8 4-15 1M979 1092l-12 4M1557 947l-12 4M1655 923l-16-2-4-4 2-6 8-4 16 0M820 1118l5-5 14-1 17 0 12 3 2 5M934 1087l16 1 10-3 3-6-1-4-7-4-15-2-17 0-11 3-6 6 0 5 10 3zM1512 942l16 1 10-3 3-6 1-5-7-4-16-1-19 0-10 3-5 5 2 5 9 3zM1008 1063l18 0 9-3 1-4-7-4-16-1-11 2-3 7zM1100 1040l5 0 5-2-2-4-2-1-15 1-2 3zM1348 978l9-1 1-2-6-4-9 0-7 4zM1422 959l13 1 11-2 4-6-7-4-21 0-10 3 0 5zM1178 1015l3 0-1-1zM1262 994l3 0zM1629 894l-7 4-12 2-33 0-12 2-5 5-2 7 1 5 10 3 31 3 11 3 4 5M783 1081l16 0 12-2 4-6-2-5-8-4-17-2-15 1-10 3-4 4-2 6 9 3zM1527 894l19 0 9-3 4-5 0-6-8-3-18-1-13 0-12 2-6 5 2 6 8 3zM743 1086l-8-4-2 0M863 1055l10 1 11-3 0-3-8-4-10 0-10 2-2 4zM1441 910l10 1 10-3 2-4-9-3-10 0-11 2-1 4zM1574 871l-1 0 10 4M726 1050l12-2 1-1 1-6-10-3-16 0-10 3-2 4 7 4zM1470 864l3 0 10-3 0-6-10-3-12-1-12 2-4 6 7 4zM649 1020l5 0 12-2 0-3-13-2-7 4zM1393 833l9 1 8-4 0-1-7-2-14 1zM593 989l3 0zM1330 804l3-1zM527 962l3-1zM1264 776l3 0zM467 938l5-2-5-4-9-1-8 4 0 1 7 2zM1206 752l4-1 4-3-3-3-5 0-12 2 0 3zM387 913l12 1 12-2 4-6-7-4-21-1-10 3 0 6zM1130 727l16 0 10-3 2-4-7-4-17-1-12 2-2 7zM327 889l13 0 12-2 6-5-2-6-8-3-17-2-17 0-9 3-4 5 0 6 8 3zM1070 703l17-1 10-3 4-4 2-6-9-3-17-2-16 0-12 2-4 6 2 5 8 4zM286 894l1 0-10-4M406 864l10 0 11-2 1-4-9-3-10-1-10 3-2 4zM984 719l10 0 10-2 2-4-9-3-10-1-11 3 0 3zM1117 679l8 4 2 0M231 871l7-4 12-2 33 0 12-2 5-5 2-7-1-5-10-3-31-3-11-3-4-5M341 841l19 0 10-3 5-5-2-5-9-3-32-3-10 3-3 6-1 5 7 4zM436 818l12-4 0-5-10-3-13-1-11 2-4 6 7 4zM848 714l10-2 3-7-9-3-18 0-9 3-1 4 7 4zM920 696l17 0 11-3 6-6 0-5-10-3-16-1-18-1-10 3-3 6 1 4 7 4zM508 794l9 0 7-4-12-3-9 1-1 2zM597 772l1-1-3 0zM680 751l2-1-3 0zM754 732l15-1 2-3-11-3-5 0-5 2 2 4zM1040 647l-5 5-14 1-17 0-12-3-2-5M205 842l16 2 4 4-2 6-8 4-16 0M303 818l12-4M881 673l12-4M950 655l14 2 5 4 2 11 6 4 16 2 37 0 10-3 9-10 8-4 15-1"/>
<path stroke="#d02e2e" d="M855 1107l7 0 12-2 4-5-1-4-8-4-14-2-15 1-10 3-3 3-1 6 10 3zM1598 920l11 1 10-4 3-8-7-4-28-1-12 2-5 5 2 5 9 3zM934 1082l12-3-6-4-5-1-11 3 0 2zM1512 937l12-3-6-4-6-1-10 3 0 2zM783 1075l14-2 1-2-8-3-6 0-9 4zM1527 888l6 0 9-3-8-4-14 2-1 2zM326 884l14-2 1-2-8-3-6 0-9 3zM1070 697l6 0 9-4-8-3-14 2-1 2zM262 861l11 0 12-2 5-5-2-5-9-3-28-2-10 4-3 8 7 4zM1005 675l15-1 10-3 3-3 1-6-10-3-19-1-7 0-12 2-4 5 1 4 8 4zM342 835l6 1 10-3 0-2-12-3-10 3zM920 690l5 1 11-3 0-2-12-3-10 3z"/>
</g>
<g fill="url(#ga)">
<path transform="translate(-660 -276)" d="M846 796l8 20 9-3 8-24 16-64 8-12 9 11 8 32 16 77 9 19 8-6 8-26 17-66 8-12 8 11 25 106 8 16 8-8 9-28 16-68 8-13 9 11 24 102 8 14 9-9 24-100 9-14 8 11 25 98 8 12 8-11 25-104 8-14 8 10 25 95 8 10 9-14 24-107 9-15 8 10 24 91 9 8 8-16 25-111 8-15 8 10 25 87 8 6 8-19 25-114 8-15 9 9 16 60 8 23 9 4 8-21 24-118 9-15 8 8 16 58 9 22 8 1 8-22 25-122 8-15 8 8 17 55 8 20 8-1 9-24-9-28-8 24-8 1-8-20-17-55-8-8-8 15-25 122-8 22-8-1-9-22-16-58-8-8-9 15-24 118-9 21-8-4-8-23-17-60-8-9-8 15-25 114-8 19-8-6-25-87-8-10-8 15-25 111-8 16-9-8-24-91-9-9-8 14-25 107-8 14-8-10-25-95-8-10-8 14-25 104-8 11-8-12-25-98-8-10-9 13-24 100-9 9-8-14-25-102-8-11-8 13-17 68-8 28-8 8-8-16-25-106-8-11-8 12-17 66-8 26-8 6-9-19-16-77-8-32-9-11-8 12-16 64-9 24-8 3-8-20z"/>
<path transform="translate(-652 -273)" d="M846 784l8 20 9-3 8-24 16-64 8-12 9 11 8 32 16 78 9 18 8-5 8-26 17-66 8-13 8 11 25 106 8 16 8-8 9-27 16-69 8-13 9 11 24 102 8 15 9-10 24-100 9-13 8 10 25 99 8 12 8-12 25-104 8-14 8 10 25 95 8 10 9-14 24-107 9-14 8 9 24 92 9 7 8-16 25-111 8-14 8 9 25 87 8 6 8-18 25-115 8-15 9 9 16 60 8 23 9 4 8-21 24-118 9-15 8 9 16 57 9 22 8 1 8-22 25-122 8-15 8 8 17 55 8 20 8 0 9-25-17-20-8 25-8 1-8-20-17-56-8-8-8 16-25 121-8 23-9-1-8-22-16-58-8-8-9 15-24 118-9 20-8-3-8-24-17-60-8-8-8 14-25 115-8 18-8-5-25-88-8-9-9 14-24 112-9 16-8-8-24-91-9-10-8 14-25 108-8 14-8-10-25-95-8-10-8 14-25 103-8 12-9-12-24-99-9-10-8 13-24 100-9 10-8-14-25-102-8-11-8 13-17 68-8 28-8 7-8-16-25-106-8-11-9 13-16 66-8 26-9 5-8-18-16-78-8-31-9-12-8 13-16 64-9 24-8 3-8-21z"/>
<path transform="translate(-644 -270)" d="M846 747l8 21 9-4 8-24 16-64 8-12 9 11 8 32 16 78 9 18 8-5 8-26 17-66 8-13 8 11 25 106 8 16 8-7 9-28 16-68 8-13 9 10 24 103 8 14 9-10 24-100 9-13 8 10 25 99 8 12 8-12 25-104 8-13 8 10 25 95 8 9 9-14 24-107 9-14 8 10 24 91 9 7 8-16 25-111 8-14 8 9 25 87 8 6 8-18 25-115 8-15 9 9 16 60 8 24 9 3 8-20 24-119 9-15 8 9 16 58 9 21 8 2 8-23 25-122 8-15 8 8 17 56 8 20 8-1 9-25-17 42-8 25-8 0-8-20-17-55-8-8-8 15-25 122-8 22-9-1-8-22-16-57-8-9-9 15-24 118-9 21-8-4-8-23-17-60-8-9-8 15-25 115-8 18-8-6-25-87-8-9-9 14-24 111-9 16-8-7-24-92-9-9-8 14-25 107-8 14-8-10-25-95-8-10-8 14-25 104-8 12-9-12-24-99-9-10-8 13-24 100-9 10-8-15-25-102-8-11-8 13-17 69-8 27-8 8-8-16-25-106-8-11-9 13-16 66-8 26-9 5-8-18-16-78-8-32-9-11-8 12-16 64-9 24-8 3-8-20z"/>
<path transform="translate(-636 -266)" d="M846 711l8 21 9-3 8-25 16-63 8-13 9 12 8 31 16 78 9 18 8-5 8-26 17-66 8-13 8 11 25 106 8 16 8-7 9-28 16-68 8-13 9 10 24 103 8 14 9-10 24-100 9-13 8 10 25 99 8 12 8-12 25-104 8-13 8 10 25 95 8 10 9-14 24-108 9-14 8 10 24 91 9 8 8-17 25-111 8-14 8 9 25 88 8 5 8-18 25-115 8-15 9 9 16 60 8 24 9 3 8-20 24-118 9-16 8 9 16 58 9 22 8 1 8-23 25-122 8-15 8 8 17 56 8 20 8-1 9-25-17 66-8 25-8 1-8-20-17-56-8-8-8 15-25 122-8 23-9-2-8-21-16-58-8-9-9 15-24 119-9 20-8-3-8-24-17-60-8-9-8 15-25 115-8 18-8-6-25-87-8-9-9 14-24 111-9 16-8-7-24-92-9-9-8 14-25 107-8 14-8-9-25-95-8-10-8 13-25 104-8 12-9-12-24-99-9-10-8 13-24 100-9 10-8-14-25-103-8-10-8 13-17 68-8 28-8 7-8-16-25-106-8-11-9 13-16 66-8 26-9 5-8-18-16-78-8-32-9-11-8 12-16 64-9 24-8 4-8-21z"/>
<path transform="translate(-628 -263)" d="M846 701l8 21 9-3 8-24 16-64 8-13 9 12 8 31 16 78 9 19 8-6 8-26 17-66 8-13 8 11 25 106 8 17 8-8 9-28 16-68 8-13 9 11 24 102 8 14 9-10 24-99 9-14 8 10 25 99 8 12 8-12 25-103 8-14 8 10 25 95 8 10 9-14 24-108 9-14 8 10 24 91 9 8 8-16 25-111 8-15 8 9 25 88 8 5 8-18 25-115 8-14 9 8 16 60 8 24 9 3 8-20 24-118 9-15 8 8 16 58 9 22 8 1 8-23 25-121 8-16 8 8 17 56 8 20 8-1 9-25-17 39-8 25-8 1-8-20-17-56-8-8-8 16-25 121-8 23-9-1-8-22-16-58-8-8-9 15-24 118-9 20-8-3-8-24-17-60-8-8-8 14-25 115-8 18-8-5-25-88-8-9-9 14-24 112-9 16-8-8-24-91-9-10-8 14-25 108-8 14-8-10-25-95-8-10-8 14-25 103-8 12-9-12-24-99-9-10-8 13-24 100-9 10-8-14-25-102-8-11-8 13-17 68-8 28-8 7-8-16-25-106-8-11-9 13-16 66-8 26-9 5-8-18-16-78-8-31-9-12-8 13-16 64-9 24-8 3-8-21z"/>
<path transform="translate(-620 -259)" d="M846 728l8 20 9-3 8-24 16-64 8-12 9 11 8 32 16 77 9 19 8-6 8-26 17-66 8-12 8 10 25 106 8 17 8-8 9-28 16-68 8-13 9 11 24 102 8 14 9-10 24-99 9-14 8 11 25 98 8 12 8-12 25-103 8-14 8 10 25 95 8 10 9-14 24-108 9-14 8 10 24 91 9 8 8-16 25-111 8-15 8 9 25 88 8 5 8-18 25-115 8-14 9 9 16 59 8 24 9 4 8-21 24-118 9-15 8 8 16 58 9 22 8 1 8-22 25-122 8-16 8 9 17 55 8 20 8-1 9-24-17-23-8 24-8 1-8-20-17-56-8-8-8 16-25 122-8 22-9-1-8-22-16-58-8-8-9 15-24 118-9 20-8-3-8-24-17-60-8-8-8 14-25 115-8 18-8-5-25-88-8-9-9 15-24 111-9 16-8-8-24-91-9-10-8 14-25 108-8 14-8-10-25-95-8-10-8 14-25 103-8 12-9-12-24-99-9-10-8 14-24 99-9 10-8-14-25-102-8-11-8 13-17 68-8 28-8 8-8-17-25-106-8-11-9 13-16 66-8 26-9 6-8-19-16-77-8-32-9-12-8 13-16 64-9 24-8 3-8-20z"/>
<path transform="translate(-612 -256)" d="M846 778l8 21 9-3 8-25 16-63 8-13 9 12 8 31 16 78 9 18 8-5 8-26 17-66 8-13 8 11 25 106 8 16 8-7 9-28 16-68 8-13 9 11 24 102 8 14 9-10 24-100 9-13 8 10 25 99 8 12 8-12 25-103 8-14 8 10 25 95 8 10 9-14 24-108 9-14 8 10 24 91 9 8 8-17 25-111 8-14 8 9 25 88 8 5 8-18 25-115 8-15 9 9 16 60 8 24 9 3 8-20 24-118 9-15 8 8 16 58 9 22 8 1 8-23 25-121 8-16 8 8 17 56 8 20 8-1 9-25-17-83-8 24-8 1-8-20-17-55-8-8-8 15-25 122-8 22-9-1-8-22-16-58-8-8-9 15-24 118-9 21-8-4-8-24-17-59-8-9-8 15-25 114-8 19-8-6-25-87-8-10-9 15-24 111-9 16-8-8-24-91-9-10-8 15-25 107-8 14-8-10-25-95-8-10-8 14-25 104-8 11-9-12-24-98-9-11-8 14-24 100-9 9-8-14-25-102-8-11-8 13-17 68-8 28-8 8-8-17-25-105-8-11-9 12-16 66-8 26-9 6-8-19-16-77-8-32-9-11-8 12-16 64-9 24-8 3-8-20z"/>
<path transform="translate(-604 -253)" d="M846 828l8 20 9-3 8-24 16-64 8-12 9 11 8 32 16 78 9 18 8-5 8-26 17-66 8-13 8 11 25 106 8 16 8-7 9-28 16-68 8-13 9 10 24 102 8 15 9-10 24-100 9-13 8 10 25 99 8 12 8-12 25-104 8-14 8 10 25 95 8 10 9-14 24-107 9-14 8 9 24 92 9 7 8-16 25-111 8-14 8 9 25 87 8 6 8-18 25-115 8-15 9 9 16 60 8 24 9 3 8-20 24-119 9-15 8 9 16 57 9 22 8 2 8-23 25-122 8-15 8 8 17 56 8 20 8-1 9-25-17-107-8 24-8 1-8-20-17-55-8-8-8 15-25 122-8 22-9-1-8-22-16-58-8-8-9 15-24 118-9 21-8-4-8-23-17-60-8-9-8 15-25 114-8 19-8-6-25-87-8-10-9 15-24 111-9 16-8-8-24-91-9-9-8 14-25 107-8 14-8-10-25-95-8-10-8 14-25 104-8 11-9-12-24-98-9-10-8 13-24 100-9 9-8-14-25-102-8-11-8 13-17 68-8 28-8 8-8-16-25-106-8-11-9 12-16 66-8 26-9 6-8-19-16-77-8-32-9-11-8 12-16 64-9 24-8 3-8-20z"/>
<path transform="translate(-596 -249)" d="M846 851l8 21 9-3 8-25 16-64 8-12 9 11 8 32 16 78 9 18 8-5 8-26 17-66 8-13 8 11 25 106 8 16 8-7 9-28 16-68 8-13 9 10 24 103 8 14 9-10 24-100 9-13 8 10 25 99 8 12 8-12 25-104 8-13 8 10 25 95 8 9 9-14 24-107 9-14 8 10 24 91 9 8 8-17 25-111 8-14 8 9 25 88 8 5 8-18 25-115 8-15 9 9 16 60 8 24 9 3 8-20 24-119 9-15 8 9 16 58 9 22 8 1 8-23 25-122 8-15 8 8 17 56 8 20 8-1 9-25-17-79-8 24-8 1-8-20-17-56-8-8-8 16-25 122-8 22-9-1-8-22-16-58-8-8-9 15-24 118-9 21-8-4-8-24-17-59-8-9-8 14-25 115-8 18-8-5-25-88-8-9-9 15-24 111-9 16-8-8-24-91-9-10-8 14-25 108-8 14-8-10-25-95-8-10-8 14-25 103-8 12-9-12-24-98-9-11-8 14-24 99-9 10-8-14-25-102-8-11-8 13-17 68-8 28-8 8-8-17-25-106-8-10-9 12-16 66-8 26-9 6-8-19-16-77-8-32-9-11-8 12-16 64-9 24-8 3-8-20z"/>
<path transform="translate(-588 -246)" d="M846 838l8 21 9-4 8-24 16-64 8-12 9 11 8 32 16 78 9 18 8-5 8-26 17-66 8-13 8 11 25 106 8 16 8-7 9-28 16-68 8-13 9 10 24 103 8 14 9-10 24-100 9-13 8 10 25 99 8 12 8-12 25-104 8-13 8 10 25 95 8 9 9-14 24-107 9-14 8 10 24 91 9 7 8-16 25-111 8-14 8 9 25 87 8 6 8-18 25-115 8-15 9 9 16 60 8 24 9 3 8-20 24-119 9-15 8 9 16 58 9 21 8 2 8-23 25-122 8-15 8 8 17 56 8 20 8-1 9-25-17-17-8 25-8 1-8-20-17-56-8-8-8 15-25 122-8 23-9-2-8-21-16-58-8-9-9 15-24 119-9 20-8-3-8-24-17-60-8-9-8 15-25 115-8 18-8-5-25-88-8-9-9 14-24 111-9 17-8-8-24-91-9-10-8 14-25 107-8 14-8-9-25-95-8-10-8 13-25 104-8 12-9-12-24-99-9-10-8 13-24 100-9 10-8-14-25-103-8-10-8 13-17 68-8 28-8 7-8-16-25-106-8-11-9 13-16 66-8 26-9 5-8-18-16-78-8-32-9-11-8 12-16 64-9 24-8 4-8-21z"/>
<path transform="translate(-579 -242)" d="M846 800l8 20 9-3 8-24 16-64 8-12 9 11 8 32 16 78 9 18 8-5 8-26 17-66 8-13 8 11 25 106 8 16 8-7 9-28 16-68 8-13 9 10 24 102 8 15 9-10 24-100 9-13 8 10 25 99 8 12 8-12 25-104 8-14 8 10 25 95 8 10 9-14 24-107 9-14 8 9 24 92 9 7 8-16 25-111 8-14 8 9 25 87 8 6 8-18 25-115 8-15 9 9 16 60 8 24 9 3 8-20 24-119 9-15 8 9 16 57 9 22 8 2 8-23 25-122 8-15 8 8 17 56 8 20 8-1 9-25-17 44-8 25-8 1-8-20-17-56-8-8-8 16-25 121-8 23-9-1-8-22-16-58-8-8-9 15-24 118-9 20-8-3-8-24-17-60-8-8-8 14-25 115-8 18-8-5-25-88-8-9-9 15-24 111-9 16-8-8-24-91-9-10-8 14-25 108-8 14-8-10-25-95-8-10-8 14-25 103-8 12-9-12-24-99-9-10-8 14-24 99-9 10-8-14-25-102-8-11-8 13-17 68-8 28-8 8-8-17-25-106-8-11-9 13-16 66-8 26-9 5-8-18-16-78-8-31-9-12-8 13-16 64-9 24-8 3-8-21z"/>
<path transform="translate(-571 -239)" d="M846 762l8 21 9-3 8-24 16-64 8-13 9 12 8 31 16 78 9 18 8-5 8-26 17-66 8-13 8 11 25 106 8 17 8-8 9-28 16-68 8-13 9 11 24 102 8 14 9-10 24-99 9-14 8 10 25 99 8 12 8-12 25-103 8-14 8 10 25 95 8 10 9-14 24-108 9-14 8 10 24 91 9 8 8-16 25-112 8-14 8 9 25 88 8 5 8-18 25-115 8-14 9 8 16 60 8 24 9 3 8-20 24-118 9-15 8 8 16 58 9 22 8 1 8-23 25-121 8-16 8 8 17 56 8 20 8-1 9-25-17 69-8 25-8 1-8-20-17-56-8-8-8 16-25 121-8 23-9-1-8-22-16-58-8-8-9 15-24 118-9 20-8-3-8-24-17-60-8-8-8 14-25 115-8 18-8-5-25-88-8-9-9 14-24 112-9 16-8-8-24-91-9-10-8 14-25 108-8 14-8-10-25-95-8-10-8 14-25 103-8 12-9-12-24-99-9-10-8 13-24 100-9 10-8-14-25-102-8-11-8 13-17 68-8 28-8 7-8-16-25-106-8-11-9 13-16 66-8 26-9 5-8-18-16-78-8-31-9-12-8 13-16 64-9 24-8 3-8-21z"/>
<path transform="translate(-563 -236)" d="M846 751l8 20 9-3 8-24 16-64 8-12 9 11 8 32 16 77 9 19 8-6 8-26 17-66 8-12 8 11 25 106 8 16 8-8 9-28 16-68 8-13 9 11 24 102 8 14 9-9 24-100 9-13 8 10 25 98 8 12 8-11 25-104 8-14 8 10 25 95 8 10 9-14 24-107 9-14 8 9 24 91 9 8 8-16 25-111 8-15 8 10 25 87 8 6 8-19 25-114 8-15 9 9 16 60 8 23 9 4 8-21 24-118 9-15 8 8 16 58 9 22 8 1 8-22 25-122 8-15 8 8 17 55 8 20 8-1 9-24-17 42-8 25-8 1-8-20-17-56-8-8-8 15-25 122-8 23-9-2-8-21-16-58-8-9-9 15-24 119-9 20-8-3-8-24-17-60-8-9-8 15-25 115-8 18-8-5-25-88-8-9-9 14-24 111-9 17-8-8-24-91-9-10-8 14-25 107-8 14-8-9-25-95-8-10-8 13-25 104-8 12-9-12-24-99-9-10-8 13-24 100-9 10-8-14-25-103-8-10-8 13-17 68-8 28-8 7-8-16-25-106-8-11-9 13-16 66-8 26-9 5-8-18-16-78-8-32-9-11-8 12-16 64-9 24-8 4-8-21z"/>
<path transform="translate(-555 -232)" d="M846 775l8 21 9-4 8-24 16-64 8-12 9 11 8 32 16 78 9 18 8-5 8-26 17-66 8-13 8 11 25 106 8 16 8-7 9-28 16-68 8-13 9 10 24 103 8 14 9-10 24-100 9-13 8 10 25 99 8 12 8-12 25-104 8-13 8 9 25 95 8 10 9-14 24-107 9-14 8 9 24 92 9 7 8-16 25-111 8-14 8 9 25 87 8 6 8-18 25-115 8-15 9 9 16 60 8 24 9 3 8-20 24-119 9-15 8 9 16 58 9 21 8 2 8-23 25-122 8-15 8 8 17 56 8 20 8-1 9-25-17-19-8 24-8 1-8-20-17-55-8-9-8 16-25 122-8 22-9-1-8-22-16-58-8-8-9 15-24 118-9 21-8-4-8-24-17-59-8-9-8 15-25 114-8 19-8-6-25-87-8-10-9 15-24 111-9 16-8-8-24-91-9-10-8 14-25 108-8 14-8-10-25-95-8-10-8 14-25 103-8 12-9-12-24-98-9-11-8 14-24 100-9 9-8-14-25-102-8-11-8 13-17 68-8 28-8 8-8-17-25-105-8-11-9 12-16 66-8 26-9 6-8-19-16-77-8-32-9-11-8 12-16 64-9 24-8 3-8-20z"/>
<path transform="translate(-547 -229)" d="M846 824l8 21 9-3 8-25 16-64 8-12 9 11 8 32 16 78 9 18 8-5 8-26 17-66 8-13 8 11 25 106 8 16 8-7 9-28 16-68 8-13 9 10 24 103 8 14 9-10 24-100 9-13 8 10 25 99 8 12 8-12 25-104 8-13 8 10 25 95 8 9 9-14 24-107 9-14 8 10 24 91 9 8 8-17 25-111 8-14 8 9 25 88 8 5 8-18 25-115 8-15 9 9 16 60 8 24 9 3 8-20 24-119 9-15 8 9 16 58 9 22 8 1 8-23 25-122 8-15 8 8 17 56 8 20 8-1 9-25-17-80-8 25-8 1-8-20-17-56-8-8-8 15-25 122-8 23-9-2-8-22-16-57-8-9-9 15-24 119-9 20-8-3-8-24-17-60-8-9-8 15-25 115-8 18-8-6-25-87-8-9-9 14-24 111-9 16-8-7-24-92-9-9-8 14-25 107-8 14-8-10-25-95-8-10-8 14-25 104-8 12-9-12-24-99-9-10-8 13-24 100-9 10-8-15-25-102-8-10-8 13-17 68-8 28-8 7-8-16-25-106-8-11-9 13-16 66-8 26-9 5-8-18-16-78-8-32-9-11-8 12-16 64-9 24-8 4-8-21z"/>
<path transform="translate(-539 -225)" d="M846 872l8 21 9-3 8-24 16-64 8-13 9 12 8 31 16 78 9 18 8-5 8-26 17-66 8-13 8 11 25 106 8 17 8-8 9-28 16-68 8-13 9 11 24 102 8 14 9-10 24-99 9-14 8 10 25 99 8 12 8-12 25-103 8-14 8 10 25 95 8 10 9-14 24-108 9-14 8 10 24 91 9 8 8-16 25-111 8-15 8 9 25 88 8 5 8-18 25-115 8-14 9 8 16 60 8 24 9 3 8-20 24-118 9-15 8 8 16 58 9 22 8 1 8-23 25-121 8-16 8 8 17 56 8 20 8-1 9-25-17-104-8 25-8 1-8-20-17-56-8-8-8 16-25 121-8 23-9-1-8-22-16-58-8-9-9 16-24 118-9 20-8-3-8-24-17-60-8-9-8 15-25 115-8 18-8-5-25-88-8-9-9 14-24 111-9 17-8-8-24-91-9-10-8 14-25 108-8 14-8-10-25-95-8-10-8 13-25 104-8 12-9-12-24-99-9-10-8 13-24 100-9 10-8-14-25-103-8-10-8 13-17 68-8 28-8 7-8-16-25-106-8-11-9 13-16 66-8 26-9 5-8-18-16-78-8-31-9-12-8 13-16 63-9 25-8 3-8-21z"/>
<path transform="translate(-531 -222)" d="M846 894l8 21 9-3 8-24 16-64 8-13 9 12 8 31 16 78 9 18 8-5 8-26 17-66 8-13 8 11 25 106 8 17 8-8 9-28 16-68 8-13 9 11 24 102 8 14 9-10 24-100 9-13 8 10 25 99 8 12 8-12 25-103 8-14 8 10 25 95 8 10 9-14 24-108 9-14 8 10 24 91 9 8 8-16 25-112 8-14 8 9 25 88 8 5 8-18 25-115 8-14 9 8 16 60 8 24 9 3 8-20 24-118 9-15 8 8 16 58 9 22 8 1 8-23 25-121 8-16 8 8 17 56 8 20 8-1 9-25-17-77-8 25-8 1-8-20-17-56-8-8-8 16-25 121-8 23-9-1-8-22-16-58-8-8-9 15-24 118-9 20-8-3-8-24-17-60-8-8-8 14-25 115-8 18-8-5-25-88-8-9-9 15-24 111-9 16-8-8-24-91-9-10-8 14-25 108-8 14-8-10-25-95-8-10-8 14-25 103-8 12-9-12-24-99-9-10-8 14-24 99-9 10-8-14-25-102-8-11-8 13-17 68-8 28-8 8-8-17-25-106-8-11-9 13-16 66-8 26-9 5-8-18-16-78-8-31-9-12-8 13-16 64-9 24-8 3-8-21z"/>
<path transform="translate(-523 -219)" d="M846 880l8 21 9-4 8-24 16-64 8-12 9 11 8 32 16 78 9 18 8-5 8-26 17-66 8-13 8 11 25 106 8 16 8-7 9-28 16-68 8-13 9 10 24 103 8 14 9-10 24-100 9-13 8 10 25 99 8 12 8-12 25-104 8-13 8 9 25 95 8 10 9-14 24-107 9-14 8 9 24 92 9 7 8-16 25-111 8-14 8 9 25 87 8 6 8-18 25-115 8-15 9 9 16 60 8 24 9 3 8-20 24-119 9-15 8 9 16 57 9 22 8 2 8-23 25-122 8-15 8 8 17 56 8 20 8-1 9-25-17-14-8 24-8 1-8-20-17-55-8-9-8 16-25 122-8 22-9-1-8-22-16-58-8-8-9 15-24 118-9 21-8-4-8-24-17-59-8-9-8 15-25 114-8 19-8-6-25-87-8-10-9 15-24 111-9 16-8-8-24-91-9-10-8 14-25 108-8 14-8-10-25-95-8-10-8 14-25 103-8 12-9-12-24-98-9-11-8 14-24 100-9 9-8-14-25-102-8-11-8 13-17 68-8 28-8 8-8-17-25-105-8-11-9 12-16 66-8 26-9 6-8-19-16-77-8-32-9-11-8 12-16 64-9 24-8 3-8-20z"/>
<path transform="translate(-515 -215)" d="M846 840l8 21 9-3 8-24 16-64 8-13 9 12 8 31 16 78 9 18 8-5 8-26 17-66 8-13 8 11 25 106 8 17 8-8 9-28 16-68 8-13 9 11 24 102 8 14 9-10 24-99 9-14 8 10 25 99 8 12 8-12 25-103 8-14 8 10 25 95 8 10 9-14 24-108 9-14 8 10 24 91 9 8 8-16 25-111 8-15 8 9 25 88 8 5 8-18 25-115 8-14 9 8 16 60 8 24 9 3 8-20 24-118 9-15 8 8 16 58 9 22 8 1 8-23 25-121 8-16 8 8 17 56 8 20 8-1 9-25-17 48-8 24-8 1-8-20-17-55-8-9-8 16-25 122-8 22-9-1-8-22-16-58-8-8-9 15-24 118-9 21-8-4-8-24-17-59-8-9-8 15-25 114-8 19-8-6-25-87-8-10-9 15-24 111-9 16-8-8-24-91-9-10-8 14-25 108-8 14-8-10-25-95-8-10-8 14-25 103-8 12-9-12-24-98-9-11-8 14-24 100-9 9-8-14-25-102-8-11-8 13-17 68-8 28-8 8-8-17-25-105-8-11-9 12-16 66-8 26-9 6-8-19-16-77-8-32-9-11-8 12-16 64-9 24-8 3-8-20z"/>
<path transform="translate(-506 -212)" d="M846 801l8 21 9-3 8-25 16-64 8-12 9 11 8 32 16 78 9 18 8-5 8-26 17-66 8-13 8 11 25 106 8 16 8-7 9-28 16-68 8-13 9 10 24 103 8 14 9-10 24-100 9-13 8 10 25 99 8 12 8-12 25-104 8-13 8 10 25 95 8 9 9-14 24-107 9-14 8 10 24 91 9 8 8-17 25-111 8-14 8 9 25 88 8 5 8-18 25-115 8-15 9 9 16 60 8 24 9 3 8-20 24-118 9-16 8 9 16 58 9 22 8 1 8-23 25-122 8-15 8 8 17 56 8 20 8-1 9-25-17 72-8 25-8 1-8-20-17-56-8-8-8 16-25 121-8 23-9-1-8-22-16-58-8-9-9 16-24 118-9 20-8-3-8-24-17-60-8-9-8 15-25 115-8 18-8-5-25-88-8-9-9 14-24 111-9 17-8-8-24-91-9-10-8 14-25 108-8 14-8-10-25-95-8-10-8 13-25 104-8 12-9-12-24-99-9-10-8 13-24 100-9 10-8-14-25-103-8-10-8 13-17 68-8 28-8 7-8-16-25-106-8-11-9 13-16 66-8 26-9 5-8-18-16-78-8-31-9-12-8 13-16 63-9 25-8 3-8-21z"/>
<path transform="translate(-498 -208)" d="M846 788l8 20 9-3 8-24 16-64 8-12 9 11 8 32 16 77 9 19 8-6 8-26 17-66 8-12 8 11 25 106 8 16 8-8 9-28 16-68 8-13 9 11 24 102 8 14 9-9 24-100 9-13 8 10 25 98 8 12 8-11 25-104 8-14 8 10 25 95 8 10 9-14 24-107 9-14 8 9 24 91 9 8 8-16 25-111 8-15 8 10 25 87 8 6 8-19 25-114 8-15 9 9 16 60 8 23 9 4 8-21 24-118 9-15 8 8 16 58 9 22 8 1 8-22 25-122 8-15 8 8 17 55 8 20 8-1 9-24-17 46-8 24-8 1-8-20-17-55-8-9-8 16-25 122-8 22-9-1-8-22-16-58-8-8-9 15-24 118-9 21-8-4-8-24-17-59-8-9-8 15-25 114-8 19-8-6-25-87-8-10-9 15-24 111-9 16-8-8-24-91-9-10-8 15-25 107-8 14-8-10-25-95-8-10-8 14-25 103-8 12-9-12-24-98-9-11-8 14-24 100-9 9-8-14-25-102-8-11-8 13-17 68-8 28-8 8-8-17-25-105-8-11-9 12-16 66-8 26-9 6-8-19-16-77-8-32-9-11-8 12-16 64-9 24-8 3-8-20z"/>
<path transform="translate(-490 -205)" d="M846 810l8 21 9-3 8-25 16-63 8-13 9 12 8 31 16 78 9 18 8-5 8-26 17-66 8-13 8 11 25 106 8 16 8-7 9-28 16-68 8-13 9 10 24 103 8 14 9-10 24-100 9-13 8 10 25 99 8 12 8-12 25-104 8-13 8 10 25 95 8 10 9-14 24-108 9-14 8 10 24 91 9 8 8-17 25-111 8-14 8 9 25 88 8 5 8-18 25-115 8-15 9 9 16 60 8 24 9 3 8-20 24-118 9-16 8 9 16 58 9 22 8 1 8-23 25-121 8-16 8 8 17 56 8 20 8-1 9-25-17-16-8 25-8 1-8-20-17-56-8-8-8 16-25 121-8 23-9-1-8-22-16-58-8-8-9 15-24 118-9 20-8-3-8-24-17-60-8-8-8 14-25 115-8 18-8-5-25-88-8-9-9 15-24 111-9 16-8-8-24-91-9-10-8 14-25 108-8 14-8-10-25-95-8-10-8 14-25 103-8 12-9-12-24-99-9-10-8 14-24 99-9 10-8-14-25-102-8-11-8 13-17 68-8 28-8 8-8-17-25-106-8-11-9 13-16 66-8 26-9 6-8-19-16-78-8-31-9-12-8 13-16 64-9 24-8 3-8-21z"/>
<path transform="translate(-482 -202)" d="M846 858l8 20 9-3 8-24 16-64 8-12 9 11 8 32 16 77 9 19 8-6 8-26 17-66 8-12 8 11 25 106 8 16 8-8 9-28 16-68 8-13 9 11 24 102 8 14 9-9 24-100 9-14 8 11 25 98 8 12 8-11 25-104 8-14 8 10 25 95 8 10 9-14 24-107 9-14 8 9 24 91 9 8 8-16 25-111 8-15 8 10 25 87 8 6 8-19 25-114 8-15 9 9 16 60 8 23 9 4 8-21 24-118 9-15 8 8 16 58 9 22 8 1 8-22 25-122 8-15 8 8 17 55 8 20 8-1 9-24-17-77-8 25-8 1-8-20-17-56-8-8-8 15-25 122-8 23-9-2-8-22-16-57-8-9-9 15-24 119-9 20-8-3-8-24-17-60-8-9-8 15-25 115-8 18-8-6-25-87-8-9-9 14-24 111-9 16-8-7-24-92-9-9-8 14-25 107-8 14-8-10-25-95-8-10-8 14-25 104-8 12-9-12-24-99-9-10-8 13-24 100-9 10-8-15-25-102-8-10-8 13-17 68-8 28-8 7-8-16-25-106-8-11-9 13-16 66-8 26-9 5-8-18-16-78-8-32-9-11-8 12-16 64-9 24-8 4-8-21z"/>
<path transform="translate(-474 -198)" d="M846 905l8 20 9-3 8-24 16-64 8-12 9 11 8 32 16 77 9 19 8-6 8-26 17-66 8-12 8 10 25 106 8 17 8-8 9-28 16-68 8-13 9 11 24 102 8 14 9-10 24-99 9-14 8 11 25 98 8 12 8-12 25-103 8-14 8 10 25 95 8 10 9-14 24-108 9-14 8 10 24 91 9 8 8-16 25-111 8-15 8 9 25 88 8 5 8-18 25-115 8-14 9 9 16 59 8 24 9 4 8-21 24-118 9-15 8 8 16 58 9 22 8 1 8-22 25-122 8-16 8 8 17 56 8 20 8-1 9-24-17-101-8 24-8 1-8-20-17-56-8-8-8 16-25 122-8 22-9-1-8-22-16-58-8-8-9 15-24 118-9 20-8-3-8-24-17-59-8-9-8 14-25 115-8 18-8-5-25-88-8-9-9 15-24 111-9 16-8-8-24-91-9-10-8 14-25 108-8 14-8-10-25-95-8-10-8 14-25 103-8 12-9-12-24-99-9-10-8 14-24 99-9 10-8-14-25-102-8-11-8 13-17 68-8 28-8 8-8-17-25-106-8-11-9 13-16 66-8 26-9 6-8-19-16-77-8-32-9-11-8 12-16 64-9 24-8 3-8-20z"/>
<path transform="translate(-466 -195)" d="M846 925l8 21 9-3 8-25 16-63 8-13 9 12 8 31 16 78 9 18 8-5 8-26 17-66 8-13 8 11 25 106 8 16 8-7 9-28 16-68 8-13 9 10 24 103 8 14 9-10 24-100 9-13 8 10 25 99 8 12 8-12 25-104 8-13 8 10 25 95 8 10 9-15 24-107 9-14 8 10 24 91 9 8 8-17 25-111 8-14 8 9 25 88 8 5 8-18 25-115 8-15 9 9 16 60 8 24 9 3 8-20 24-118 9-16 8 9 16 58 9 22 8 1 8-23 25-122 8-15 8 8 17 56 8 20 8-1 9-25-17-74-8 25-8 1-8-20-17-56-8-8-8 15-25 122-8 23-9-2-8-22-16-57-8-9-9 15-24 119-9 20-8-3-8-24-17-60-8-9-8 15-25 115-8 18-8-6-25-87-8-9-9 14-24 111-9 16-8-7-24-92-9-9-8 14-25 107-8 14-8-10-25-95-8-10-8 14-25 104-8 12-9-12-24-99-9-10-8 13-24 100-9 10-8-15-25-102-8-10-8 13-17 68-8 28-8 7-8-16-25-106-8-11-9 13-16 66-8 26-9 5-8-18-16-78-8-32-9-11-8 12-16 64-9 24-8 3-8-20z"/>
<path transform="translate(-458 -192)" d="M846 910l8 20 9-3 8-24 16-64 8-12 9 11 8 32 16 77 9 19 8-6 8-26 17-66 8-12 8 11 25 105 8 17 8-8 9-28 16-68 8-13 9 11 24 102 8 14 9-9 24-100 9-14 8 11 25 98 8 12 8-12 25-103 8-14 8 10 25 95 8 10 9-14 24-108 9-14 8 10 24 91 9 8 8-16 25-111 8-15 8 10 25 87 8 6 8-19 25-114 8-15 9 9 16 59 8 24 9 4 8-21 24-118 9-15 8 8 16 58 9 22 8 1 8-22 25-122 8-16 8 9 17 55 8 20 8-1 9-24-17-12-8 24-8 1-8-20-17-55-8-8-8 15-25 122-8 22-9-1-8-22-16-58-8-8-9 15-24 118-9 21-8-4-8-23-17-60-8-9-8 15-25 114-8 19-8-6-25-87-8-10-9 15-24 111-9 16-8-8-24-91-9-9-8 14-25 107-8 14-8-10-25-95-8-10-8 14-25 104-8 11-9-12-24-98-9-11-8 14-24 100-9 9-8-14-25-102-8-11-8 13-17 68-8 28-8 8-8-16-25-106-8-11-9 12-16 66-8 26-9 6-8-19-16-77-8-32-9-11-8 12-16 64-9 24-8 3-8-20z"/>
<path transform="translate(-450 -188)" d="M846 869l8 20 9-3 8-24 16-64 8-12 9 11 8 32 16 77 9 19 8-6 8-26 17-66 8-12 8 11 25 105 8 17 8-8 9-28 16-68 8-13 9 11 24 102 8 14 9-9 24-100 9-14 8 11 25 98 8 12 8-12 25-103 8-14 8 10 25 95 8 10 9-14 24-108 9-14 8 10 24 91 9 8 8-16 25-111 8-15 8 9 25 88 8 5 8-18 25-115 8-14 9 9 16 59 8 24 9 4 8-21 24-118 9-15 8 8 16 58 9 22 8 1 8-22 25-122 8-16 8 9 17 55 8 20 8-1 9-24-17 49-8 25-8 1-8-20-17-56-8-8-8 16-25 122-8 22-9-1-8-22-16-58-8-8-9 15-24 118-9 20-8-3-8-24-17-60-8-8-8 14-25 115-8 18-8-5-25-88-8-9-9 15-24 111-9 16-8-8-24-91-9-10-8 14-25 108-8 14-8-10-25-95-8-10-8 14-25 103-8 12-9-12-24-99-9-10-8 14-24 99-9 10-8-14-25-102-8-11-8 13-17 68-8 28-8 8-8-17-25-106-8-11-9 13-16 66-8 26-9 6-8-19-16-77-8-32-9-12-8 13-16 64-9 24-8 3-8-21z"/>
<path transform="translate(-442 -185)" d="M846 828l8 20 9-3 8-24 16-64 8-12 9 11 8 32 16 77 9 19 8-6 8-26 17-66 8-12 8 11 25 106 8 16 8-8 9-28 16-68 8-13 9 11 24 102 8 14 9-9 24-100 9-14 8 11 25 98 8 12 8-11 25-104 8-14 8 10 25 95 8 10 9-14 24-107 9-15 8 10 24 91 9 8 8-16 25-111 8-15 8 10 25 87 8 6 8-19 25-114 8-15 9 9 16 60 8 23 9 4 8-21 24-118 9-15 8 8 16 58 9 22 8 1 8-22 25-122 8-15 8 8 17 55 8 20 8-1 9-24-17 75-8 25-8 0-8-20-17-55-8-8-8 15-25 122-8 22-9-1-8-22-16-57-8-9-9 15-24 118-9 21-8-4-8-23-17-60-8-9-8 15-25 114-8 19-8-6-25-87-8-9-9 14-24 111-9 16-8-8-24-91-9-9-8 14-25 107-8 14-8-10-25-95-8-10-8 14-25 104-8 12-9-12-24-99-9-10-8 13-24 100-9 10-8-15-25-102-8-11-8 13-17 69-8 27-8 8-8-16-25-106-8-11-9 12-16 67-8 26-9 5-8-18-16-78-8-32-9-11-8 12-16 64-9 24-8 3-8-20z"/>
<path transform="translate(-434 -181)" d="M846 812l8 21 9-3 8-24 16-64 8-13 9 12 8 31 16 78 9 19 8-6 8-26 17-66 8-13 8 11 25 106 8 17 8-8 9-28 16-68 8-13 9 11 24 102 8 14 9-10 24-99 9-14 8 10 25 99 8 12 8-12 25-103 8-14 8 10 25 95 8 10 9-14 24-108 9-14 8 10 24 91 9 8 8-16 25-111 8-15 8 9 25 88 8 5 8-18 25-115 8-14 9 8 16 60 8 24 9 3 8-20 24-118 9-15 8 8 16 58 9 22 8 1 8-23 25-121 8-16 8 8 17 56 8 20 8-1 9-25-17 50-8 24-8 1-8-20-17-55-8-8-8 15-25 122-8 22-9-1-8-22-16-58-8-8-9 15-24 118-9 21-8-4-8-23-17-60-8-9-8 15-25 114-8 19-8-6-25-87-8-10-9 15-24 111-9 16-8-8-24-91-9-9-8 14-25 107-8 14-8-10-25-95-8-10-8 14-25 104-8 12-9-13-24-98-9-10-8 13-24 100-9 9-8-14-25-102-8-11-8 13-17 68-8 28-8 8-8-16-25-106-8-11-9 12-16 66-8 26-9 6-8-19-16-77-8-32-9-11-8 12-16 64-9 24-8 3-8-20z"/>
<path transform="translate(-425 -178)" d="M846 833l8 21 9-4 8-24 16-64 8-12 9 11 8 32 16 78 9 18 8-5 8-26 17-66 8-13 8 11 25 106 8 16 8-7 9-28 16-68 8-13 9 10 24 103 8 14 9-10 24-100 9-13 8 10 25 99 8 12 8-12 25-104 8-13 8 10 25 95 8 9 9-14 24-107 9-14 8 9 24 92 9 7 8-16 25-111 8-14 8 9 25 87 8 6 8-18 25-115 8-15 9 9 16 60 8 24 9 3 8-20 24-119 9-15 8 9 16 58 9 21 8 2 8-23 25-122 8-15 8 8 17 56 8 20 8-1 9-25-17-12-8 25-8 0-8-20-17-55-8-8-8 15-25 122-8 22-9-1-8-22-16-57-8-9-9 15-24 118-9 21-8-4-8-23-17-60-8-9-8 15-25 115-8 18-8-6-25-87-8-9-9 14-24 111-9 16-8-7-24-92-9-9-8 14-25 107-8 14-8-10-25-95-8-10-8 14-25 104-8 12-9-12-24-99-9-10-8 13-24 100-9 10-8-15-25-102-8-11-8 14-17 68-8 27-8 8-8-16-25-106-8-11-9 13-16 66-8 26-9 5-8-18-16-78-8-32-9-11-8 12-16 64-9 24-8 3-8-20z"/>
<path transform="translate(-417 -175)" d="M846 879l8 20 9-3 8-24 16-64 8-12 9 11 8 32 16 78 9 18 8-5 8-26 17-66 8-13 8 11 25 106 8 16 8-7 9-28 16-68 8-13 9 10 24 102 8 15 9-10 24-100 9-13 8 10 25 99 8 12 8-12 25-104 8-14 8 10 25 95 8 10 9-14 24-107 9-14 8 9 24 92 9 7 8-16 25-111 8-14 8 9 25 87 8 6 8-18 25-115 8-15 9 9 16 60 8 24 9 3 8-20 24-119 9-15 8 9 16 57 9 22 8 2 8-23 25-122 8-15 8 8 17 56 8 20 8-1 9-25-17-73-8 24-8 1-8-20-17-55-8-8-8 15-25 122-8 22-9-1-8-22-16-58-8-8-9 15-24 118-9 21-8-4-8-24-17-59-8-9-8 15-25 114-8 19-8-6-25-87-8-10-9 15-24 111-9 16-8-8-24-91-9-10-8 15-25 107-8 14-8-10-25-95-8-10-8 14-25 104-8 11-9-12-24-98-9-11-8 14-24 100-9 9-8-14-25-102-8-11-8 13-17 68-8 28-8 8-8-17-25-105-8-11-9 12-16 66-8 26-9 6-8-19-16-77-8-32-9-11-8 12-16 64-9 24-8 3-8-20z"/>
<path transform="translate(-409 -171)" d="M846 924l8 21 9-3 8-25 16-63 8-13 9 12 8 31 16 78 9 18 8-5 8-26 17-66 8-13 8 11 25 106 8 16 8-7 9-28 16-68 8-13 9 11 24 102 8 14 9-10 24-100 9-13 8 10 25 99 8 12 8-12 25-103 8-14 8 10 25 95 8 10 9-14 24-108 9-14 8 10 24 91 9 8 8-17 25-111 8-14 8 9 25 88 8 5 8-18 25-115 8-15 9 9 16 60 8 24 9 3 8-20 24-118 9-15 8 8 16 58 9 22 8 1 8-23 25-121 8-16 8 8 17 56 8 20 8-1 9-25-17-98-8 25-8 1-8-20-17-56-8-8-8 16-25 121-8 23-9-1-8-22-16-58-8-8-9 15-24 118-9 20-8-3-8-24-17-60-8-9-8 15-25 115-8 18-8-5-25-88-8-9-9 14-24 112-9 16-8-8-24-91-9-10-8 14-25 108-8 14-8-10-25-95-8-10-8 14-25 103-8 12-9-12-24-99-9-10-8 13-24 100-9 10-8-14-25-102-8-11-8 13-17 68-8 28-8 7-8-16-25-106-8-11-9 13-16 66-8 26-9 5-8-18-16-78-8-31-9-12-8 13-16 64-9 24-8 3-8-21z"/>
<path transform="translate(-401 -168)" d="M846 944l8 20 9-3 8-24 16-64 8-12 9 11 8 32 16 77 9 19 8-6 8-26 17-66 8-12 8 11 25 106 8 16 8-8 9-28 16-68 8-13 9 11 24 102 8 14 9-9 24-100 9-14 8 11 25 98 8 12 8-11 25-104 8-14 8 10 25 95 8 10 9-14 24-107 9-14 8 9 24 91 9 8 8-16 25-111 8-15 8 10 25 87 8 6 8-19 25-114 8-15 9 9 16 60 8 23 9 4 8-21 24-118 9-15 8 8 16 58 9 22 8 1 8-22 25-122 8-15 8 8 17 55 8 20 8-1 9-24-17-72-8 25-8 1-8-20-17-56-8-8-8 15-25 122-8 23-9-2-8-21-16-58-8-9-9 15-24 119-9 20-8-3-8-24-17-60-8-9-8 15-25 115-8 18-8-5-25-88-8-9-9 14-24 111-9 17-8-8-24-91-9-10-8 14-25 107-8 14-8-9-25-95-8-10-8 13-25 104-8 12-9-12-24-99-9-10-8 13-24 100-9 10-8-14-25-103-8-10-8 13-17 68-8 28-8 7-8-16-25-106-8-11-9 13-16 66-8 26-9 5-8-18-16-78-8-32-9-11-8 12-16 64-9 24-8 4-8-21z"/>
<path transform="translate(-393 -164)" d="M846 927l8 20 9-3 8-24 16-64 8-12 9 11 8 32 16 78 9 18 8-5 8-26 17-66 8-13 8 11 25 106 8 16 8-8 9-27 16-69 8-13 9 11 24 102 8 15 9-10 24-100 9-13 8 10 25 99 8 12 8-12 25-104 8-14 8 10 25 95 8 10 9-14 24-107 9-14 8 9 24 91 9 8 8-16 25-111 8-14 8 9 25 87 8 6 8-19 25-114 8-15 9 9 16 60 8 23 9 4 8-21 24-118 9-15 8 9 16 57 9 22 8 1 8-22 25-122 8-15 8 8 17 55 8 20 8 0 9-25-17-9-8 24-8 1-8-20-17-56-8-8-8 16-25 122-8 22-9-1-8-22-16-58-8-8-9 15-24 118-9 21-8-4-8-24-17-59-8-9-8 14-25 115-8 18-8-5-25-88-8-9-9 15-24 111-9 16-8-8-24-91-9-10-8 14-25 108-8 14-8-10-25-95-8-10-8 14-25 103-8 12-9-12-24-98-9-11-8 14-24 99-9 10-8-14-25-102-8-11-8 13-17 68-8 28-8 8-8-17-25-106-8-10-9 12-16 66-8 26-9 6-8-19-16-77-8-32-9-11-8 12-16 64-9 24-8 3-8-20z"/>
<path transform="translate(-385 -161)" d="M846 884l8 21 9-3 8-24 16-64 8-13 9 12 8 31 16 78 9 18 8-5 8-26 17-66 8-13 8 11 25 106 8 16 8-7 9-28 16-68 8-13 9 11 24 102 8 14 9-10 24-100 9-13 8 10 25 99 8 12 8-12 25-103 8-14 8 10 25 95 8 10 9-14 24-108 9-14 8 10 24 91 9 8 8-16 25-112 8-14 8 9 25 88 8 5 8-18 25-115 8-14 9 8 16 60 8 24 9 3 8-20 24-118 9-15 8 8 16 58 9 22 8 1 8-23 25-121 8-16 8 8 17 56 8 20 8-1 9-25-17 53-8 25-8 1-8-20-17-56-8-8-8 15-25 122-8 23-9-2-8-22-16-57-8-9-9 15-24 119-9 20-8-3-8-24-17-60-8-9-8 15-25 115-8 18-8-6-25-87-8-9-9 14-24 111-9 16-8-7-24-92-9-9-8 14-25 107-8 14-8-10-25-95-8-10-8 14-25 104-8 12-9-12-24-99-9-10-8 13-24 100-9 10-8-15-25-102-8-10-8 13-17 68-8 28-8 7-8-16-25-106-8-11-9 13-16 66-8 26-9 5-8-18-16-78-8-32-9-11-8 12-16 64-9 24-8 3-8-20z"/>
<path transform="translate(-377 -158)" d="M846 842l8 20 9-3 8-24 16-64 8-12 9 11 8 32 16 78 9 18 8-5 8-27 17-66 8-12 8 11 25 106 8 16 8-8 9-27 16-69 8-13 9 11 24 102 8 15 9-10 24-100 9-13 8 10 25 99 8 12 8-12 25-104 8-14 8 10 25 95 8 10 9-14 24-107 9-14 8 9 24 91 9 8 8-16 25-111 8-14 8 9 25 87 8 6 8-19 25-114 8-15 9 9 16 60 8 23 9 4 8-21 24-118 9-15 8 9 16 57 9 22 8 1 8-22 25-122 8-15 8 8 17 55 8 20 8 0 9-25-17 78-8 25-8 1-8-20-17-56-8-8-8 15-25 122-8 23-9-2-8-21-16-58-8-9-9 15-24 119-9 20-8-3-8-24-17-60-8-9-8 15-25 115-8 18-8-6-25-87-8-9-9 14-24 111-9 16-8-7-24-92-9-9-8 14-25 107-8 14-8-10-25-95-8-9-8 13-25 104-8 12-9-12-24-99-9-10-8 13-24 100-9 10-8-14-25-103-8-10-8 13-17 68-8 28-8 7-8-16-25-106-8-11-9 13-16 66-8 26-9 5-8-18-16-78-8-32-9-11-8 12-16 64-9 24-8 4-8-21z"/>
<path transform="translate(-369 -154)" d="M846 825l8 20 9-3 8-24 16-64 8-12 9 11 8 32 16 77 9 19 8-6 8-26 17-66 8-12 8 11 25 106 8 16 8-8 9-28 16-68 8-13 9 11 24 102 8 14 9-9 24-100 9-13 8 10 25 98 8 12 8-11 25-104 8-14 8 10 25 95 8 10 9-14 24-107 9-14 8 9 24 91 9 8 8-16 25-111 8-15 8 10 25 87 8 6 8-19 25-114 8-15 9 9 16 60 8 23 9 4 8-21 24-118 9-15 8 8 16 58 9 22 8 1 8-22 25-122 8-15 8 8 17 55 8 20 8-1 9-24-17 53-8 24-8 1-8-20-17-55-8-9-8 16-25 122-8 22-9-1-8-22-16-58-8-8-9 15-24 118-9 21-8-4-8-24-17-59-8-9-8 14-25 115-8 18-8-5-25-88-8-9-9 15-24 111-9 16-8-8-24-91-9-10-8 14-25 108-8 14-8-10-25-95-8-10-8 14-25 103-8 12-9-12-24-98-9-11-8 14-24 100-9 9-8-14-25-102-8-11-8 13-17 68-8 28-8 8-8-17-25-105-8-11-9 12-16 66-8 26-9 6-8-19-16-77-8-32-9-11-8 12-16 64-9 24-8 3-8-20z"/>
<path transform="translate(-361 -151)" d="M846 844l8 20 9-3 8-24 16-64 8-12 9 11 8 32 16 77 9 19 8-6 8-26 17-66 8-12 8 11 25 105 8 17 8-8 9-28 16-68 8-13 9 11 24 102 8 14 9-9 24-100 9-14 8 11 25 98 8 12 8-12 25-103 8-14 8 10 25 95 8 10 9-14 24-107 9-15 8 10 24 91 9 8 8-16 25-111 8-15 8 10 25 87 8 6 8-19 25-114 8-15 9 9 16 59 8 24 9 4 8-21 24-118 9-15 8 8 16 58 9 22 8 1 8-22 25-122 8-16 8 9 17 55 8 20 8-1 9-24-17-9-8 25-8 1-8-20-17-56-8-8-8 15-25 122-8 23-9-2-8-22-16-57-8-9-9 15-24 119-9 20-8-3-8-24-17-60-8-9-8 15-25 115-8 18-8-6-25-87-8-9-9 14-24 111-9 16-8-7-24-92-9-9-8 14-25 107-8 14-8-10-25-95-8-9-8 13-25 104-8 12-9-12-24-99-9-10-8 13-24 100-9 10-8-14-25-103-8-10-8 13-17 68-8 28-8 7-8-16-25-106-8-11-9 13-16 66-8 26-9 5-8-18-16-78-8-32-9-11-8 12-16 64-9 24-8 4-8-21z"/>
<path transform="translate(-353 -147)" d="M846 888l8 20 9-3 8-24 16-64 8-12 9 11 8 32 16 77 9 19 8-6 8-26 17-66 8-12 8 11 25 106 8 16 8-8 9-28 16-68 8-13 9 11 24 102 8 14 9-9 24-100 9-13 8 10 25 99 8 12 8-12 25-104 8-14 8 10 25 95 8 10 9-14 24-107 9-14 8 9 24 91 9 8 8-16 25-111 8-14 8 9 25 87 8 6 8-19 25-114 8-15 9 9 16 60 8 23 9 4 8-21 24-118 9-15 8 9 16 57 9 22 8 1 8-22 25-122 8-15 8 8 17 55 8 20 8-1 9-24-17-70-8 25-8 1-8-20-17-56-8-8-8 15-25 122-8 23-9-2-8-22-16-57-8-9-9 15-24 119-9 20-8-3-8-24-17-60-8-9-8 15-25 115-8 18-8-6-25-87-8-9-9 14-24 111-9 16-8-7-24-92-9-9-8 14-25 107-8 14-8-10-25-95-8-10-8 14-25 104-8 12-9-12-24-99-9-10-8 13-24 100-9 10-8-15-25-102-8-10-8 13-17 68-8 28-8 7-8-16-25-106-8-11-9 13-16 66-8 26-9 5-8-18-16-78-8-32-9-11-8 12-16 64-9 24-8 4-8-21z"/>
<path transform="translate(-344 -144)" d="M846 932l8 20 9-3 8-24 16-64 8-12 9 11 8 32 16 77 9 19 8-6 8-26 17-66 8-12 8 11 25 106 8 16 8-8 9-28 16-68 8-13 9 11 24 102 8 14 9-9 24-100 9-14 8 11 25 98 8 12 8-11 25-104 8-14 8 10 25 95 8 10 9-14 24-107 9-14 8 9 24 91 9 8 8-16 25-111 8-15 8 10 25 87 8 6 8-19 25-114 8-15 9 9 16 60 8 23 9 4 8-21 24-118 9-15 8 8 16 58 9 22 8 1 8-22 25-122 8-15 8 8 17 55 8 20 8-1 9-24-17-95-8 25-8 0-8-20-17-55-8-8-8 15-25 122-8 22-9-1-8-22-16-57-8-9-9 15-24 118-9 21-8-4-8-23-17-60-8-9-8 15-25 114-8 19-8-6-25-87-8-9-9 14-24 111-9 16-8-8-24-91-9-9-8 14-25 107-8 14-8-10-25-95-8-10-8 14-25 104-8 12-9-12-24-99-9-10-8 13-24 100-9 10-8-15-25-102-8-11-8 13-17 69-8 27-8 8-8-16-25-106-8-11-9 13-16 66-8 26-9 5-8-18-16-78-8-32-9-11-8 12-16 64-9 24-8 3-8-20z"/>
<path transform="translate(-336 -141)" d="M846 950l8 20 9-3 8-24 16-64 8-12 9 11 8 32 16 78 9 18 8-5 8-26 17-66 8-13 8 11 25 106 8 16 8-8 9-27 16-68 8-14 9 11 24 102 8 15 9-10 24-100 9-13 8 10 25 99 8 12 8-12 25-104 8-14 8 10 25 95 8 10 9-14 24-107 9-14 8 9 24 92 9 7 8-16 25-111 8-14 8 9 25 87 8 6 8-18 25-115 8-15 9 9 16 60 8 23 9 4 8-21 24-118 9-15 8 9 16 57 9 22 8 1 8-22 25-122 8-15 8 8 17 55 8 20 8 0 9-25-17-69-8 25-8 1-8-20-17-56-8-8-8 15-25 122-8 23-9-2-8-22-16-57-8-9-9 15-24 119-9 20-8-3-8-24-17-60-8-9-8 15-25 115-8 18-8-6-25-87-8-9-9 14-24 111-9 16-8-7-24-92-9-9-8 14-25 107-8 14-8-10-25-95-8-9-8 13-25 104-8 12-9-12-24-99-9-10-8 13-24 100-9 10-8-14-25-103-8-10-8 13-17 68-8 28-8 7-8-16-25-106-8-11-9 13-16 66-8 26-9 5-8-18-16-78-8-32-9-11-8 12-16 64-9 24-8 4-8-21z"/>
<path transform="translate(-328 -137)" d="M846 932l8 20 9-3 8-24 16-64 8-12 9 11 8 32 16 77 9 19 8-6 8-26 17-66 8-12 8 11 25 106 8 16 8-8 9-28 16-68 8-13 9 11 24 102 8 14 9-9 24-100 9-14 8 11 25 98 8 12 8-11 25-104 8-14 8 10 25 95 8 10 9-14 24-107 9-14 8 9 24 91 9 8 8-16 25-111 8-15 8 10 25 87 8 6 8-19 25-114 8-15 9 9 16 60 8 23 9 4 8-21 24-118 9-15 8 8 16 58 9 22 8 1 8-22 25-122 8-15 8 8 17 55 8 20 8-1 9-24-17-7-8 25-8 1-8-20-17-56-8-8-8 15-25 122-8 23-9-2-8-22-16-57-8-9-9 15-24 119-9 20-8-3-8-24-17-60-8-9-8 15-25 115-8 18-8-6-25-87-8-9-9 14-24 111-9 16-8-7-24-92-9-9-8 14-25 107-8 14-8-10-25-95-8-10-8 14-25 104-8 12-9-12-24-99-9-10-8 13-24 100-9 10-8-15-25-102-8-10-8 13-17 68-8 28-8 7-8-16-25-106-8-11-9 13-16 66-8 26-9 5-8-18-16-78-8-32-9-11-8 12-16 64-9 24-8 3-8-20z"/>
<path transform="translate(-320 -134)" d="M846 888l8 20 9-3 8-24 16-64 8-12 9 11 8 32 16 77 9 19 8-6 8-26 17-66 8-12 8 11 25 106 8 16 8-8 9-28 16-68 8-13 9 11 24 102 8 14 9-9 24-100 9-13 8 10 25 99 8 12 8-12 25-104 8-14 8 10 25 95 8 10 9-14 24-107 9-14 8 9 24 91 9 8 8-16 25-111 8-14 8 9 25 87 8 6 8-19 25-114 8-15 9 9 16 60 8 23 9 4 8-21 24-118 9-15 8 9 16 57 9 22 8 1 8-22 25-122 8-15 8 8 17 55 8 20 8-1 9-24-17 55-8 25-8 1-8-20-17-56-8-8-8 15-25 122-8 23-9-2-8-21-16-58-8-9-9 15-24 119-9 20-8-3-8-24-17-60-8-9-8 15-25 115-8 18-8-6-25-87-8-9-9 14-24 111-9 16-8-7-24-91-9-10-8 14-25 107-8 14-8-9-25-95-8-10-8 13-25 104-8 12-9-12-24-99-9-10-8 13-24 100-9 10-8-14-25-103-8-10-8 13-17 68-8 28-8 7-8-16-25-106-8-11-9 13-16 66-8 26-9 5-8-18-16-78-8-32-9-11-8 12-16 64-9 24-8 4-8-21z"/>
<path transform="translate(-312 -131)" d="M846 844l8 20 9-3 8-24 16-64 8-12 9 11 8 32 16 77 9 19 8-6 8-26 17-66 8-12 8 11 25 105 8 17 8-8 9-28 16-68 8-13 9 11 24 102 8 14 9-9 24-100 9-14 8 11 25 98 8 12 8-12 25-103 8-14 8 10 25 95 8 10 9-14 24-107 9-15 8 10 24 91 9 8 8-16 25-111 8-15 8 10 25 87 8 6 8-19 25-114 8-15 9 9 16 59 8 24 9 4 8-21 24-118 9-15 8 8 16 58 9 22 8 1 8-22 25-122 8-16 8 9 17 55 8 20 8-1 9-24-17 81-8 25-8 1-8-20-17-56-8-8-8 15-25 122-8 23-9-2-8-22-16-57-8-9-9 15-24 119-9 20-8-3-8-24-17-60-8-9-8 15-25 115-8 18-8-6-25-87-8-9-9 14-24 111-9 16-8-7-24-92-9-9-8 14-25 107-8 14-8-10-25-95-8-10-8 14-25 104-8 12-9-12-24-99-9-10-8 13-24 100-9 10-8-15-25-102-8-10-8 13-17 68-8 28-8 7-8-16-25-106-8-11-9 13-16 66-8 26-9 5-8-18-16-78-8-32-9-11-8 12-16 64-9 24-8 3-8-20z"/>
<path transform="translate(-304 -127)" d="M846 825l8 20 9-3 8-24 16-64 8-12 9 11 8 32 16 77 9 19 8-6 8-26 17-66 8-12 8 11 25 106 8 16 8-8 9-28 16-68 8-13 9 11 24 102 8 14 9-9 24-100 9-13 8 10 25 98 8 12 8-11 25-104 8-14 8 10 25 95 8 10 9-14 24-107 9-14 8 9 24 91 9 8 8-16 25-111 8-15 8 10 25 87 8 6 8-19 25-114 8-15 9 9 16 60 8 23 9 4 8-21 24-118 9-15 8 8 16 58 9 22 8 1 8-22 25-122 8-15 8 8 17 55 8 20 8-1 9-24-17 56-8 25-8 1-8-20-17-56-8-8-8 15-25 122-8 23-9-2-8-22-16-57-8-9-9 15-24 119-9 20-8-3-8-24-17-60-8-9-8 15-25 115-8 18-8-6-25-87-8-9-9 14-24 111-9 16-8-7-24-92-9-9-8 14-25 107-8 14-8-10-25-95-8-9-8 13-25 104-8 12-9-12-24-99-9-10-8 13-24 100-9 10-8-14-25-103-8-10-8 13-17 68-8 28-8 7-8-16-25-106-8-11-9 13-16 66-8 26-9 5-8-18-16-78-8-32-9-11-8 12-16 64-9 24-8 4-8-21z"/>
<path transform="translate(-296 -124)" d="M846 842l8 20 9-3 8-24 16-64 8-12 9 11 8 32 16 78 9 18 8-5 8-27 17-66 8-12 8 11 25 106 8 16 8-8 9-27 16-69 8-13 9 11 24 102 8 15 9-10 24-100 9-13 8 10 25 99 8 12 8-12 25-104 8-14 8 10 25 95 8 10 9-14 24-107 9-14 8 9 24 91 9 8 8-16 25-111 8-14 8 9 25 87 8 6 8-19 25-114 8-15 9 9 16 60 8 23 9 4 8-21 24-118 9-15 8 9 16 57 9 22 8 1 8-22 25-122 8-15 8 8 17 55 8 20 8 0 9-25-17-5-8 25-8 0-8-20-17-55-8-8-8 15-25 122-8 22-9-1-8-22-16-57-8-9-9 15-24 118-9 21-8-4-8-23-17-60-8-9-8 15-25 114-8 19-8-6-25-87-8-9-9 14-24 111-9 16-8-8-24-91-9-9-8 14-25 107-8 14-8-10-25-95-8-10-8 14-25 104-8 12-9-12-24-99-9-10-8 13-24 100-9 10-8-15-25-102-8-11-8 13-17 69-8 27-8 8-8-16-25-106-8-11-9 13-16 66-8 26-9 5-8-18-16-78-8-32-9-11-8 12-16 64-9 24-8 3-8-20z"/>
<path transform="translate(-288 -120)" d="M846 884l8 21 9-3 8-24 16-64 8-13 9 12 8 31 16 78 9 18 8-5 8-26 17-66 8-13 8 11 25 106 8 16 8-7 9-28 16-68 8-13 9 11 24 102 8 14 9-10 24-100 9-13 8 10 25 99 8 12 8-12 25-103 8-14 8 10 25 95 8 10 9-14 24-108 9-14 8 10 24 91 9 8 8-16 25-112 8-14 8 9 25 88 8 5 8-18 25-115 8-14 9 8 16 60 8 24 9 3 8-20 24-118 9-15 8 8 16 58 9 22 8 1 8-23 25-121 8-16 8 8 17 56 8 20 8-1 9-25-17-66-8 25-8 1-8-20-17-56-8-8-8 15-25 122-8 23-9-2-8-22-16-57-8-9-9 15-24 119-9 20-8-3-8-24-17-60-8-9-8 15-25 115-8 18-8-6-25-87-8-9-9 14-24 111-9 16-8-7-24-92-9-9-8 14-25 107-8 14-8-10-25-95-8-10-8 14-25 104-8 12-9-12-24-99-9-10-8 13-24 100-9 10-8-15-25-102-8-10-8 13-17 68-8 28-8 7-8-16-25-106-8-11-9 13-16 66-8 26-9 5-8-18-16-78-8-32-9-11-8 12-16 64-9 24-8 4-8-21z"/>
<path transform="translate(-280 -117)" d="M846 927l8 20 9-3 8-24 16-64 8-12 9 11 8 32 16 78 9 18 8-5 8-26 17-66 8-13 8 11 25 106 8 16 8-8 9-27 16-69 8-13 9 11 24 102 8 15 9-10 24-100 9-13 8 10 25 99 8 12 8-12 25-104 8-14 8 10 25 95 8 10 9-14 24-107 9-14 8 9 24 91 9 8 8-16 25-111 8-14 8 9 25 87 8 6 8-19 25-114 8-15 9 9 16 60 8 23 9 4 8-21 24-118 9-15 8 9 16 57 9 22 8 1 8-22 25-122 8-15 8 8 17 55 8 20 8 0 9-25-17-92-8 25-8 1-8-20-17-56-8-8-8 15-25 122-8 23-9-2-8-22-16-57-8-9-9 15-24 119-9 20-8-3-8-24-17-60-8-9-8 15-25 115-8 18-8-6-25-87-8-9-9 14-24 111-9 16-8-7-24-92-9-9-8 14-25 107-8 14-8-10-25-95-8-9-8 13-25 104-8 12-9-12-24-99-9-10-8 13-24 100-9 10-8-14-25-103-8-10-8 13-17 68-8 28-8 7-8-16-25-106-8-11-9 13-16 66-8 26-9 5-8-18-16-78-8-32-9-11-8 12-16 64-9 24-8 4-8-21z"/>
<path transform="translate(-271 -114)" d="M846 944l8 20 9-3 8-24 16-64 8-12 9 11 8 32 16 77 9 19 8-6 8-26 17-66 8-12 8 11 25 106 8 16 8-8 9-28 16-68 8-13 9 11 24 102 8 14 9-9 24-100 9-14 8 11 25 98 8 12 8-11 25-104 8-14 8 10 25 95 8 10 9-14 24-107 9-14 8 9 24 91 9 8 8-16 25-111 8-15 8 10 25 87 8 6 8-19 25-114 8-15 9 9 16 60 8 23 9 4 8-21 24-118 9-15 8 8 16 58 9 22 8 1 8-22 25-122 8-15 8 8 17 55 8 20 8-1 9-24-17-66-8 24-8 1-8-20-17-55-8-9-8 16-25 122-8 22-9-1-8-22-16-58-8-8-9 15-24 118-9 21-8-4-8-24-17-59-8-9-8 14-25 115-8 18-8-5-25-88-8-9-9 15-24 111-9 16-8-8-24-91-9-10-8 14-25 108-8 14-8-10-25-95-8-10-8 14-25 103-8 12-9-12-24-98-9-11-8 14-24 100-9 9-8-14-25-102-8-11-8 13-17 68-8 28-8 8-8-17-25-105-8-11-9 12-16 66-8 26-9 6-8-19-16-77-8-32-9-11-8 12-16 64-9 24-8 3-8-20z"/>
<path transform="translate(-263 -110)" d="M846 924l8 21 9-3 8-25 16-63 8-13 9 12 8 31 16 78 9 18 8-5 8-26 17-66 8-13 8 11 25 106 8 16 8-7 9-28 16-68 8-13 9 11 24 102 8 14 9-10 24-100 9-13 8 10 25 99 8 12 8-12 25-103 8-14 8 10 25 95 8 10 9-14 24-108 9-14 8 10 24 91 9 8 8-17 25-111 8-14 8 9 25 88 8 5 8-18 25-115 8-15 9 9 16 60 8 24 9 3 8-20 24-118 9-15 8 8 16 58 9 22 8 1 8-23 25-121 8-16 8 8 17 56 8 20 8-1 9-25-17-4-8 25-8 1-8-20-17-56-8-8-8 15-25 122-8 23-9-2-8-21-16-58-8-9-9 15-24 119-9 20-8-3-8-24-17-60-8-9-8 15-25 115-8 18-8-6-25-87-8-9-9 14-24 111-9 16-8-7-24-92-9-9-8 14-25 107-8 14-8-10-25-95-8-9-8 13-25 104-8 12-9-12-24-99-9-10-8 13-24 100-9 10-8-14-25-103-8-10-8 13-17 68-8 28-8 7-8-16-25-106-8-11-9 13-16 66-8 26-9 5-8-18-16-78-8-32-9-11-8 12-16 64-9 24-8 4-8-21z"/>
<path transform="translate(-255 -107)" d="M846 879l8 20 9-3 8-24 16-64 8-12 9 11 8 32 16 78 9 18 8-5 8-26 17-66 8-13 8 11 25 106 8 16 8-7 9-28 16-68 8-13 9 10 24 102 8 15 9-10 24-100 9-13 8 10 25 99 8 12 8-12 25-104 8-14 8 10 25 95 8 10 9-14 24-107 9-14 8 9 24 92 9 7 8-16 25-111 8-14 8 9 25 87 8 6 8-18 25-115 8-15 9 9 16 60 8 24 9 3 8-20 24-119 9-15 8 9 16 57 9 22 8 2 8-23 25-122 8-15 8 8 17 56 8 20 8-1 9-25-17 58-8 25-8 1-8-20-17-56-8-8-8 15-25 122-8 23-9-2-8-22-16-57-8-9-9 15-24 119-9 20-8-3-8-24-17-60-8-9-8 15-25 115-8 18-8-6-25-87-8-9-9 14-24 111-9 16-8-7-24-92-9-9-8 14-25 107-8 14-8-10-25-95-8-10-8 14-25 104-8 12-9-12-24-99-9-10-8 13-24 100-9 10-8-15-25-102-8-10-8 13-17 68-8 28-8 7-8-16-25-106-8-11-9 13-16 66-8 26-9 5-8-18-16-78-8-32-9-11-8 12-16 64-9 24-8 3-8-20z"/>
<path transform="translate(-247 -103)" d="M846 833l8 21 9-4 8-24 16-64 8-12 9 11 8 32 16 78 9 18 8-5 8-26 17-66 8-13 8 11 25 106 8 16 8-7 9-28 16-68 8-13 9 10 24 103 8 14 9-10 24-100 9-13 8 10 25 99 8 12 8-12 25-104 8-13 8 10 25 95 8 9 9-14 24-107 9-14 8 9 24 92 9 7 8-16 25-111 8-14 8 9 25 87 8 6 8-18 25-115 8-15 9 9 16 60 8 24 9 3 8-20 24-119 9-15 8 9 16 58 9 21 8 2 8-23 25-122 8-15 8 8 17 56 8 20 8-1 9-25-17 85-8 24-8 1-8-20-17-56-8-8-8 16-25 122-8 22-9-1-8-22-16-58-8-8-9 15-24 118-9 21-8-4-8-24-17-59-8-9-8 14-25 115-8 18-8-5-25-88-8-9-9 15-24 111-9 16-8-8-24-91-9-10-8 14-25 108-8 14-8-10-25-95-8-10-8 14-25 103-8 12-9-12-24-98-9-11-8 14-24 99-9 10-8-14-25-102-8-11-8 13-17 68-8 28-8 8-8-17-25-106-8-10-9 12-16 66-8 26-9 6-8-19-16-77-8-32-9-11-8 12-16 64-9 24-8 3-8-20z"/>
<path transform="translate(-239 -100)" d="M846 812l8 21 9-3 8-24 16-64 8-13 9 12 8 31 16 78 9 19 8-6 8-26 17-66 8-13 8 11 25 106 8 17 8-8 9-28 16-68 8-13 9 11 24 102 8 14 9-10 24-99 9-14 8 10 25 99 8 12 8-12 25-103 8-14 8 10 25 95 8 10 9-14 24-108 9-14 8 10 24 91 9 8 8-16 25-111 8-15 8 9 25 88 8 5 8-18 25-115 8-14 9 8 16 60 8 24 9 3 8-20 24-118 9-15 8 8 16 58 9 22 8 1 8-23 25-121 8-16 8 8 17 56 8 20 8-1 9-25-17 60-8 25-8 1-8-20-17-56-8-8-8 15-25 122-8 23-9-2-8-21-16-58-8-9-9 15-24 119-9 20-8-3-8-24-17-60-8-9-8 15-25 115-8 18-8-5-25-88-8-9-9 14-24 111-9 17-8-8-24-91-9-10-8 14-25 107-8 14-8-9-25-95-8-10-8 13-25 104-8 12-9-12-24-99-9-10-8 13-24 100-9 10-8-14-25-103-8-10-8 13-17 68-8 28-8 7-8-16-25-106-8-11-9 13-16 66-8 26-9 5-8-18-16-78-8-32-9-11-8 12-16 64-9 24-8 4-8-21z"/>
<path transform="translate(-231 -97)" d="M846 828l8 20 9-3 8-24 16-64 8-12 9 11 8 32 16 77 9 19 8-6 8-26 17-66 8-12 8 11 25 106 8 16 8-8 9-28 16-68 8-13 9 11 24 102 8 14 9-9 24-100 9-14 8 11 25 98 8 12 8-11 25-104 8-14 8 10 25 95 8 10 9-14 24-107 9-15 8 10 24 91 9 8 8-16 25-111 8-15 8 10 25 87 8 6 8-19 25-114 8-15 9 9 16 60 8 23 9 4 8-21 24-118 9-15 8 8 16 58 9 22 8 1 8-22 25-122 8-15 8 8 17 55 8 20 8-1 9-24-17-2-8 25-8 1-8-20-17-56-8-8-8 16-25 121-8 23-9-1-8-22-16-58-8-8-9 15-24 118-9 20-8-3-8-24-17-60-8-9-8 15-25 115-8 18-8-5-25-88-8-9-9 14-24 112-9 16-8-8-24-91-9-10-8 14-25 108-8 14-8-10-25-95-8-10-8 14-25 103-8 12-9-12-24-99-9-10-8 13-24 100-9 10-8-14-25-102-8-11-8 13-17 68-8 28-8 7-8-16-25-106-8-11-9 13-16 66-8 26-9 5-8-18-16-78-8-31-9-12-8 13-16 64-9 24-8 3-8-21z"/>
<path transform="translate(-223 -93)" d="M846 869l8 20 9-3 8-24 16-64 8-12 9 11 8 32 16 77 9 19 8-6 8-26 17-66 8-12 8 11 25 105 8 17 8-8 9-28 16-68 8-13 9 11 24 102 8 14 9-9 24-100 9-14 8 11 25 98 8 12 8-12 25-103 8-14 8 10 25 95 8 10 9-14 24-108 9-14 8 10 24 91 9 8 8-16 25-111 8-15 8 9 25 88 8 5 8-18 25-115 8-14 9 9 16 59 8 24 9 4 8-21 24-118 9-15 8 8 16 58 9 22 8 1 8-22 25-122 8-16 8 9 17 55 8 20 8-1 9-24-17-63-8 24-8 1-8-20-17-55-8-8-8 15-25 122-8 22-9-1-8-22-16-58-8-8-9 15-24 118-9 21-8-4-8-24-17-59-8-9-8 15-25 114-8 19-8-6-25-87-8-10-9 15-24 111-9 16-8-8-24-91-9-10-8 15-25 107-8 14-8-10-25-95-8-10-8 14-25 104-8 11-9-12-24-98-9-11-8 14-24 100-9 9-8-14-25-102-8-11-8 13-17 68-8 28-8 8-8-17-25-105-8-11-9 12-16 66-8 26-9 6-8-19-16-77-8-32-9-11-8 12-16 64-9 24-8 3-8-20z"/>
<path transform="translate(-215 -90)" d="M846 910l8 20 9-3 8-24 16-64 8-12 9 11 8 32 16 77 9 19 8-6 8-26 17-66 8-12 8 11 25 105 8 17 8-8 9-28 16-68 8-13 9 11 24 102 8 14 9-9 24-100 9-14 8 11 25 98 8 12 8-12 25-103 8-14 8 10 25 95 8 10 9-14 24-108 9-14 8 10 24 91 9 8 8-16 25-111 8-15 8 10 25 87 8 6 8-19 25-114 8-15 9 9 16 59 8 24 9 4 8-21 24-118 9-15 8 8 16 58 9 22 8 1 8-22 25-122 8-16 8 9 17 55 8 20 8-1 9-24-17-89-8 25-8 0-8-20-17-55-8-8-8 15-25 122-8 22-9-1-8-22-16-57-8-9-9 15-24 118-9 21-8-4-8-23-17-60-8-9-8 15-25 115-8 18-8-6-25-87-8-9-9 14-24 111-9 16-8-7-24-92-9-9-8 14-25 107-8 14-8-10-25-95-8-10-8 14-25 104-8 12-9-12-24-99-9-10-8 13-24 100-9 10-8-15-25-102-8-11-8 14-17 68-8 27-8 8-8-16-25-106-8-11-9 13-16 66-8 26-9 5-8-18-16-78-8-32-9-11-8 12-16 64-9 24-8 3-8-20z"/>
<path transform="translate(-207 -86)" d="M846 925l8 21 9-3 8-25 16-63 8-13 9 12 8 31 16 78 9 18 8-5 8-26 17-66 8-13 8 11 25 106 8 16 8-7 9-28 16-68 8-13 9 10 24 103 8 14 9-10 24-100 9-13 8 10 25 99 8 12 8-12 25-104 8-13 8 10 25 95 8 10 9-15 24-107 9-14 8 10 24 91 9 8 8-17 25-111 8-14 8 9 25 88 8 5 8-18 25-115 8-15 9 9 16 60 8 24 9 3 8-20 24-118 9-16 8 9 16 58 9 22 8 1 8-23 25-122 8-15 8 8 17 56 8 20 8-1 9-25-17-63-8 24-8 1-8-20-17-55-8-8-8 15-25 122-8 22-9-1-8-22-16-58-8-8-9 15-24 118-9 21-8-4-8-23-17-60-8-9-8 15-25 114-8 19-8-6-25-87-8-10-9 15-24 111-9 16-8-8-24-91-9-9-8 14-25 107-8 14-8-10-25-95-8-10-8 14-25 104-8 12-9-13-24-98-9-10-8 13-24 100-9 9-8-14-25-102-8-11-8 13-17 68-8 28-8 8-8-16-25-106-8-11-9 12-16 66-8 26-9 6-8-19-16-77-8-32-9-11-8 12-16 64-9 24-8 3-8-20z"/>
<path transform="translate(-199 -83)" d="M846 905l8 20 9-3 8-24 16-64 8-12 9 11 8 32 16 77 9 19 8-6 8-26 17-66 8-12 8 10 25 106 8 17 8-8 9-28 16-68 8-13 9 11 24 102 8 14 9-10 24-99 9-14 8 11 25 98 8 12 8-12 25-103 8-14 8 10 25 95 8 10 9-14 24-108 9-14 8 10 24 91 9 8 8-16 25-111 8-15 8 9 25 88 8 5 8-18 25-115 8-14 9 9 16 59 8 24 9 4 8-21 24-118 9-15 8 8 16 58 9 22 8 1 8-22 25-122 8-16 8 8 17 56 8 20 8-1 9-24-17-2-8 25-8 0-8-20-17-55-8-8-8 15-25 122-8 22-9-1-8-22-16-57-8-9-9 15-24 118-9 21-8-4-8-23-17-60-8-9-8 15-25 114-8 19-8-6-25-87-8-9-9 14-24 111-9 16-8-8-24-91-9-9-8 14-25 107-8 14-8-10-25-95-8-10-8 14-25 104-8 12-9-12-24-99-9-10-8 13-24 100-9 10-8-15-25-102-8-11-8 13-17 69-8 27-8 8-8-16-25-106-8-11-9 12-16 67-8 26-9 5-8-18-16-78-8-32-9-11-8 12-16 64-9 24-8 3-8-20z"/>
<path transform="translate(-190 -80)" d="M846 858l8 20 9-3 8-24 16-64 8-12 9 11 8 32 16 77 9 19 8-6 8-26 17-66 8-12 8 11 25 106 8 16 8-8 9-28 16-68 8-13 9 11 24 102 8 14 9-9 24-100 9-14 8 11 25 98 8 12 8-11 25-104 8-14 8 10 25 95 8 10 9-14 24-107 9-14 8 9 24 91 9 8 8-16 25-111 8-15 8 10 25 87 8 6 8-19 25-114 8-15 9 9 16 60 8 23 9 4 8-21 24-118 9-15 8 8 16 58 9 22 8 1 8-22 25-122 8-15 8 8 17 55 8 20 8-1 9-24-17 60-8 25-8 1-8-20-17-56-8-8-8 16-25 122-8 22-9-1-8-22-16-58-8-8-9 15-24 118-9 20-8-3-8-24-17-60-8-8-8 14-25 115-8 18-8-5-25-88-8-9-9 15-24 111-9 16-8-8-24-91-9-10-8 14-25 108-8 14-8-10-25-95-8-10-8 14-25 103-8 12-9-12-24-99-9-10-8 14-24 99-9 10-8-14-25-102-8-11-8 13-17 68-8 28-8 8-8-17-25-106-8-11-9 13-16 66-8 26-9 6-8-19-16-77-8-32-9-12-8 13-16 64-9 24-8 3-8-21z"/>
<path transform="translate(-182 -76)" d="M846 810l8 21 9-3 8-25 16-63 8-13 9 12 8 31 16 78 9 18 8-5 8-26 17-66 8-13 8 11 25 106 8 16 8-7 9-28 16-68 8-13 9 10 24 103 8 14 9-10 24-100 9-13 8 10 25 99 8 12 8-12 25-104 8-13 8 10 25 95 8 10 9-14 24-108 9-14 8 10 24 91 9 8 8-17 25-111 8-14 8 9 25 88 8 5 8-18 25-115 8-15 9 9 16 60 8 24 9 3 8-20 24-118 9-16 8 9 16 58 9 22 8 1 8-23 25-121 8-16 8 8 17 56 8 20 8-1 9-25-17 88-8 24-8 1-8-20-17-55-8-8-8 15-25 122-8 22-9-1-8-22-16-58-8-8-9 15-24 118-9 21-8-4-8-23-17-60-8-9-8 15-25 114-8 19-8-6-25-87-8-10-9 15-24 111-9 16-8-8-24-91-9-9-8 14-25 107-8 14-8-10-25-95-8-10-8 14-25 104-8 11-9-12-24-98-9-11-8 14-24 100-9 9-8-14-25-102-8-11-8 13-17 68-8 28-8 8-8-16-25-106-8-11-9 12-16 66-8 26-9 6-8-19-16-77-8-32-9-11-8 12-16 64-9 24-8 3-8-20z"/>
<path transform="translate(-174 -73)" d="M846 788l8 20 9-3 8-24 16-64 8-12 9 11 8 32 16 77 9 19 8-6 8-26 17-66 8-12 8 11 25 106 8 16 8-8 9-28 16-68 8-13 9 11 24 102 8 14 9-9 24-100 9-13 8 10 25 98 8 12 8-11 25-104 8-14 8 10 25 95 8 10 9-14 24-107 9-14 8 9 24 91 9 8 8-16 25-111 8-15 8 10 25 87 8 6 8-19 25-114 8-15 9 9 16 60 8 23 9 4 8-21 24-118 9-15 8 8 16 58 9 22 8 1 8-22 25-122 8-15 8 8 17 55 8 20 8-1 9-24-17 63-8 25-8 1-8-20-17-56-8-8-8 15-25 122-8 23-9-2-8-22-16-57-8-9-9 15-24 119-9 20-8-3-8-24-17-60-8-9-8 15-25 115-8 18-8-6-25-87-8-9-9 14-24 111-9 16-8-7-24-92-9-9-8 14-25 107-8 14-8-10-25-95-8-10-8 14-25 104-8 12-9-12-24-99-9-10-8 13-24 100-9 10-8-15-25-102-8-10-8 13-17 68-8 28-8 7-8-16-25-106-8-11-9 13-16 66-8 26-9 5-8-18-16-78-8-32-9-11-8 12-16 64-9 24-8 3-8-20z"/>
<path transform="translate(-166 -70)" d="M846 801l8 21 9-3 8-25 16-64 8-12 9 11 8 32 16 78 9 18 8-5 8-26 17-66 8-13 8 11 25 106 8 16 8-7 9-28 16-68 8-13 9 10 24 103 8 14 9-10 24-100 9-13 8 10 25 99 8 12 8-12 25-104 8-13 8 10 25 95 8 9 9-14 24-107 9-14 8 10 24 91 9 8 8-17 25-111 8-14 8 9 25 88 8 5 8-18 25-115 8-15 9 9 16 60 8 24 9 3 8-20 24-118 9-16 8 9 16 58 9 22 8 1 8-23 25-122 8-15 8 8 17 56 8 20 8-1 9-25-17 3-8 24-8 1-8-20-17-56-8-8-8 16-25 122-8 22-9-1-8-22-16-58-8-8-9 15-24 118-9 20-8-3-8-24-17-59-8-9-8 14-25 115-8 18-8-5-25-88-8-9-9 15-24 111-9 16-8-8-24-91-9-10-8 14-25 108-8 14-8-10-25-95-8-10-8 14-25 103-8 12-9-12-24-99-9-10-8 14-24 99-9 10-8-14-25-102-8-11-8 13-17 68-8 28-8 8-8-17-25-106-8-11-9 13-16 66-8 26-9 6-8-19-16-77-8-32-9-11-8 12-16 64-9 24-8 3-8-20z"/>
<path transform="translate(-158 -66)" d="M846 840l8 21 9-3 8-24 16-64 8-13 9 12 8 31 16 78 9 18 8-5 8-26 17-66 8-13 8 11 25 106 8 17 8-8 9-28 16-68 8-13 9 11 24 102 8 14 9-10 24-99 9-14 8 10 25 99 8 12 8-12 25-103 8-14 8 10 25 95 8 10 9-14 24-108 9-14 8 10 24 91 9 8 8-16 25-111 8-15 8 9 25 88 8 5 8-18 25-115 8-14 9 8 16 60 8 24 9 3 8-20 24-118 9-15 8 8 16 58 9 22 8 1 8-23 25-121 8-16 8 8 17 56 8 20 8-1 9-25-17-59-8 25-8 1-8-20-17-56-8-8-8 15-25 122-8 23-9-2-8-22-16-57-8-9-9 15-24 119-9 20-8-3-8-24-17-60-8-9-8 15-25 115-8 18-8-6-25-87-8-9-9 14-24 111-9 16-8-7-24-92-9-9-8 14-25 107-8 14-8-10-25-95-8-10-8 14-25 104-8 12-9-12-24-99-9-10-8 13-24 100-9 10-8-15-25-102-8-10-8 13-17 68-8 28-8 7-8-16-25-106-8-11-9 13-16 66-8 26-9 5-8-18-16-78-8-32-9-11-8 12-16 64-9 24-8 4-8-21z"/>
<path transform="translate(-150 -63)" d="M846 880l8 21 9-4 8-24 16-64 8-12 9 11 8 32 16 78 9 18 8-5 8-26 17-66 8-13 8 11 25 106 8 16 8-7 9-28 16-68 8-13 9 10 24 103 8 14 9-10 24-100 9-13 8 10 25 99 8 12 8-12 25-104 8-13 8 9 25 95 8 10 9-14 24-107 9-14 8 9 24 92 9 7 8-16 25-111 8-14 8 9 25 87 8 6 8-18 25-115 8-15 9 9 16 60 8 24 9 3 8-20 24-119 9-15 8 9 16 57 9 22 8 2 8-23 25-122 8-15 8 8 17 56 8 20 8-1 9-25-17-86-8 25-8 1-8-20-17-56-8-8-8 16-25 121-8 23-9-1-8-22-16-58-8-8-9 15-24 118-9 20-8-3-8-24-17-60-8-8-8 14-25 115-8 18-8-5-25-88-8-9-9 15-24 111-9 16-8-8-24-91-9-10-8 14-25 108-8 14-8-10-25-95-8-10-8 14-25 103-8 12-9-12-24-99-9-10-8 14-24 99-9 10-8-14-25-102-8-11-8 13-17 68-8 28-8 8-8-17-25-106-8-11-9 13-16 66-8 26-9 6-8-19-16-78-8-31-9-12-8 13-16 64-9 24-8 3-8-21z"/>
<path transform="translate(-142 -59)" d="M846 894l8 21 9-3 8-24 16-64 8-13 9 12 8 31 16 78 9 18 8-5 8-26 17-66 8-13 8 11 25 106 8 17 8-8 9-28 16-68 8-13 9 11 24 102 8 14 9-10 24-100 9-13 8 10 25 99 8 12 8-12 25-103 8-14 8 10 25 95 8 10 9-14 24-108 9-14 8 10 24 91 9 8 8-16 25-112 8-14 8 9 25 88 8 5 8-18 25-115 8-14 9 8 16 60 8 24 9 3 8-20 24-118 9-15 8 8 16 58 9 22 8 1 8-23 25-121 8-16 8 8 17 56 8 20 8-1 9-25-17-60-8 24-8 1-8-20-17-55-8-9-8 16-25 122-8 22-9-1-8-22-16-58-8-8-9 15-24 118-9 21-8-4-8-24-17-59-8-9-8 15-25 114-8 19-8-6-25-87-8-10-9 15-24 111-9 16-8-8-24-91-9-10-8 15-25 107-8 14-8-10-25-95-8-10-8 14-25 103-8 12-9-12-24-98-9-11-8 14-24 100-9 9-8-14-25-102-8-11-8 13-17 68-8 28-8 8-8-17-25-105-8-11-9 12-16 66-8 26-9 6-8-19-16-77-8-32-9-11-8 12-16 64-9 24-8 3-8-20z"/>
<path transform="translate(-134 -56)" d="M846 872l8 21 9-3 8-24 16-64 8-13 9 12 8 31 16 78 9 18 8-5 8-26 17-66 8-13 8 11 25 106 8 17 8-8 9-28 16-68 8-13 9 11 24 102 8 14 9-10 24-99 9-14 8 10 25 99 8 12 8-12 25-103 8-14 8 10 25 95 8 10 9-14 24-108 9-14 8 10 24 91 9 8 8-16 25-111 8-15 8 9 25 88 8 5 8-18 25-115 8-14 9 8 16 60 8 24 9 3 8-20 24-118 9-15 8 8 16 58 9 22 8 1 8-23 25-121 8-16 8 8 17 56 8 20 8-1 9-25-17 1-8 25-8 1-8-20-17-56-8-8-8 16-25 121-8 23-9-1-8-22-16-58-8-9-9 16-24 118-9 20-8-3-8-24-17-60-8-9-8 15-25 115-8 18-8-5-25-88-8-9-9 14-24 111-9 17-8-8-24-91-9-10-8 14-25 108-8 14-8-10-25-95-8-10-8 13-25 104-8 12-9-12-24-99-9-10-8 13-24 100-9 10-8-14-25-103-8-10-8 13-17 68-8 28-8 7-8-16-25-106-8-11-9 13-16 66-8 26-9 5-8-18-16-78-8-31-9-12-8 13-16 63-9 25-8 3-8-21z"/>
<path transform="translate(-126 -53)" d="M846 824l8 21 9-3 8-25 16-64 8-12 9 11 8 32 16 78 9 18 8-5 8-26 17-66 8-13 8 11 25 106 8 16 8-7 9-28 16-68 8-13 9 10 24 103 8 14 9-10 24-100 9-13 8 10 25 99 8 12 8-12 25-104 8-13 8 10 25 95 8 9 9-14 24-107 9-14 8 10 24 91 9 8 8-17 25-111 8-14 8 9 25 88 8 5 8-18 25-115 8-15 9 9 16 60 8 24 9 3 8-20 24-119 9-15 8 9 16 58 9 22 8 1 8-23 25-122 8-15 8 8 17 56 8 20 8-1 9-25-17 64-8 24-8 1-8-20-17-55-8-9-8 16-25 122-8 22-9-1-8-22-16-58-8-8-9 15-24 118-9 21-8-4-8-24-17-59-8-9-8 15-25 114-8 19-8-6-25-87-8-10-9 15-24 111-9 16-8-8-24-91-9-10-8 14-25 108-8 14-8-10-25-95-8-10-8 14-25 103-8 12-9-12-24-98-9-11-8 14-24 100-9 9-8-14-25-102-8-11-8 13-17 68-8 28-8 8-8-17-25-105-8-11-9 12-16 66-8 26-9 6-8-19-16-77-8-32-9-11-8 12-16 64-9 24-8 3-8-20z"/>
<path transform="translate(-118 -49)" d="M846 775l8 21 9-4 8-24 16-64 8-12 9 11 8 32 16 78 9 18 8-5 8-26 17-66 8-13 8 11 25 106 8 16 8-7 9-28 16-68 8-13 9 10 24 103 8 14 9-10 24-100 9-13 8 10 25 99 8 12 8-12 25-104 8-13 8 9 25 95 8 10 9-14 24-107 9-14 8 9 24 92 9 7 8-16 25-111 8-14 8 9 25 87 8 6 8-18 25-115 8-15 9 9 16 60 8 24 9 3 8-20 24-119 9-15 8 9 16 58 9 21 8 2 8-23 25-122 8-15 8 8 17 56 8 20 8-1 9-25-17 91-8 24-8 1-8-20-17-55-8-9-8 16-25 122-8 22-9-1-8-22-16-58-8-8-9 15-24 118-9 21-8-4-8-24-17-59-8-9-8 15-25 114-8 19-8-6-25-87-8-10-9 15-24 111-9 16-8-8-24-91-9-10-8 14-25 108-8 14-8-10-25-95-8-10-8 14-25 103-8 12-9-12-24-98-9-11-8 14-24 100-9 9-8-14-25-102-8-11-8 13-17 68-8 28-8 8-8-17-25-105-8-11-9 12-16 66-8 26-9 6-8-19-16-77-8-32-9-11-8 12-16 64-9 24-8 3-8-20z"/>
<path transform="translate(-109 -46)" d="M846 751l8 20 9-3 8-24 16-64 8-12 9 11 8 32 16 77 9 19 8-6 8-26 17-66 8-12 8 11 25 106 8 16 8-8 9-28 16-68 8-13 9 11 24 102 8 14 9-9 24-100 9-13 8 10 25 98 8 12 8-11 25-104 8-14 8 10 25 95 8 10 9-14 24-107 9-14 8 9 24 91 9 8 8-16 25-111 8-15 8 10 25 87 8 6 8-19 25-114 8-15 9 9 16 60 8 23 9 4 8-21 24-118 9-15 8 8 16 58 9 22 8 1 8-22 25-122 8-15 8 8 17 55 8 20 8-1 9-24-17 66-8 25-8 1-8-20-17-56-8-8-8 16-25 121-8 23-9-1-8-22-16-58-8-8-9 15-24 118-9 20-8-3-8-24-17-60-8-8-8 14-25 115-8 18-8-5-25-88-8-9-9 15-24 111-9 16-8-8-24-91-9-10-8 14-25 108-8 14-8-10-25-95-8-10-8 14-25 103-8 12-9-12-24-99-9-10-8 14-24 99-9 10-8-14-25-102-8-11-8 13-17 68-8 28-8 8-8-17-25-106-8-11-9 13-16 66-8 26-9 5-8-18-16-78-8-31-9-12-8 13-16 64-9 24-8 3-8-21z"/>
<path transform="translate(-101 -42)" d="M846 762l8 21 9-3 8-24 16-64 8-13 9 12 8 31 16 78 9 18 8-5 8-26 17-66 8-13 8 11 25 106 8 17 8-8 9-28 16-68 8-13 9 11 24 102 8 14 9-10 24-99 9-14 8 10 25 99 8 12 8-12 25-103 8-14 8 10 25 95 8 10 9-14 24-108 9-14 8 10 24 91 9 8 8-16 25-112 8-14 8 9 25 88 8 5 8-18 25-115 8-14 9 8 16 60 8 24 9 3 8-20 24-118 9-15 8 8 16 58 9 22 8 1 8-23 25-121 8-16 8 8 17 56 8 20 8-1 9-25-17 6-8 25-8 1-8-20-17-56-8-8-8 16-25 121-8 23-9-1-8-22-16-58-8-9-9 16-24 118-9 20-8-3-8-24-17-60-8-9-8 15-25 115-8 18-8-5-25-88-8-9-9 14-24 111-9 17-8-8-24-91-9-10-8 14-25 108-8 14-8-10-25-95-8-10-8 13-25 104-8 12-9-12-24-99-9-10-8 13-24 100-9 10-8-14-25-103-8-10-8 13-17 68-8 28-8 7-8-16-25-106-8-11-9 13-16 66-8 26-9 5-8-18-16-78-8-31-9-12-8 13-16 63-9 25-8 3-8-21z"/>
<path transform="translate(-93 -39)" d="M846 800l8 20 9-3 8-24 16-64 8-12 9 11 8 32 16 78 9 18 8-5 8-26 17-66 8-13 8 11 25 106 8 16 8-7 9-28 16-68 8-13 9 10 24 102 8 15 9-10 24-100 9-13 8 10 25 99 8 12 8-12 25-104 8-14 8 10 25 95 8 10 9-14 24-107 9-14 8 9 24 92 9 7 8-16 25-111 8-14 8 9 25 87 8 6 8-18 25-115 8-15 9 9 16 60 8 24 9 3 8-20 24-119 9-15 8 9 16 57 9 22 8 2 8-23 25-122 8-15 8 8 17 56 8 20 8-1 9-25-17-56-8 25-8 1-8-20-17-56-8-8-8 15-25 122-8 23-9-2-8-22-16-57-8-9-9 15-24 119-9 20-8-3-8-24-17-60-8-9-8 15-25 115-8 18-8-6-25-87-8-9-9 14-24 111-9 16-8-7-24-92-9-9-8 14-25 107-8 14-8-10-25-95-8-10-8 14-25 104-8 12-9-12-24-99-9-10-8 13-24 100-9 10-8-15-25-102-8-10-8 13-17 68-8 28-8 7-8-16-25-106-8-11-9 13-16 66-8 26-9 5-8-18-16-78-8-32-9-11-8 12-16 64-9 24-8 4-8-21z"/>
<path transform="translate(-85 -36)" d="M846 838l8 21 9-4 8-24 16-64 8-12 9 11 8 32 16 78 9 18 8-5 8-26 17-66 8-13 8 11 25 106 8 16 8-7 9-28 16-68 8-13 9 10 24 103 8 14 9-10 24-100 9-13 8 10 25 99 8 12 8-12 25-104 8-13 8 10 25 95 8 9 9-14 24-107 9-14 8 10 24 91 9 7 8-16 25-111 8-14 8 9 25 87 8 6 8-18 25-115 8-15 9 9 16 60 8 24 9 3 8-20 24-119 9-15 8 9 16 58 9 21 8 2 8-23 25-122 8-15 8 8 17 56 8 20 8-1 9-25-17-82-8 24-8 1-8-20-17-55-8-9-8 16-25 122-8 22-9-1-8-22-16-58-8-8-9 15-24 118-9 21-8-4-8-24-17-59-8-9-8 15-25 114-8 19-8-6-25-87-8-10-9 15-24 111-9 16-8-8-24-91-9-10-8 14-25 108-8 14-8-10-25-95-8-10-8 14-25 103-8 12-9-12-24-98-9-11-8 14-24 100-9 9-8-14-25-102-8-11-8 13-17 68-8 28-8 8-8-17-25-105-8-11-9 12-16 66-8 26-9 6-8-19-16-77-8-32-9-11-8 12-16 64-9 24-8 3-8-20z"/>
<path transform="translate(-77 -32)" d="M846 851l8 21 9-3 8-25 16-64 8-12 9 11 8 32 16 78 9 18 8-5 8-26 17-66 8-13 8 11 25 106 8 16 8-7 9-28 16-68 8-13 9 10 24 103 8 14 9-10 24-100 9-13 8 10 25 99 8 12 8-12 25-104 8-13 8 10 25 95 8 9 9-14 24-107 9-14 8 10 24 91 9 8 8-17 25-111 8-14 8 9 25 88 8 5 8-18 25-115 8-15 9 9 16 60 8 24 9 3 8-20 24-119 9-15 8 9 16 58 9 22 8 1 8-23 25-122 8-15 8 8 17 56 8 20 8-1 9-25-17-58-8 25-8 1-8-20-17-56-8-8-8 15-25 122-8 23-9-2-8-21-16-58-8-9-9 15-24 119-9 20-8-3-8-24-17-60-8-9-8 15-25 115-8 18-8-5-25-88-8-9-9 14-24 111-9 17-8-8-24-91-9-10-8 14-25 107-8 14-8-9-25-95-8-10-8 13-25 104-8 12-9-12-24-99-9-10-8 13-24 100-9 10-8-14-25-103-8-10-8 13-17 68-8 28-8 7-8-16-25-106-8-11-9 13-16 66-8 26-9 5-8-18-16-78-8-32-9-11-8 12-16 64-9 24-8 4-8-21z"/>
<path transform="translate(-69 -29)" d="M846 828l8 20 9-3 8-24 16-64 8-12 9 11 8 32 16 78 9 18 8-5 8-26 17-66 8-13 8 11 25 106 8 16 8-7 9-28 16-68 8-13 9 10 24 102 8 15 9-10 24-100 9-13 8 10 25 99 8 12 8-12 25-104 8-14 8 10 25 95 8 10 9-14 24-107 9-14 8 9 24 92 9 7 8-16 25-111 8-14 8 9 25 87 8 6 8-18 25-115 8-15 9 9 16 60 8 24 9 3 8-20 24-119 9-15 8 9 16 57 9 22 8 2 8-23 25-122 8-15 8 8 17 56 8 20 8-1 9-25-17 3-8 25-8 1-8-20-17-56-8-8-8 16-25 121-8 23-9-1-8-22-16-58-8-8-9 15-24 118-9 20-8-3-8-24-17-60-8-8-8 14-25 115-8 18-8-5-25-88-8-9-9 14-24 112-9 16-8-8-24-91-9-10-8 14-25 108-8 14-8-10-25-95-8-10-8 14-25 103-8 12-9-12-24-99-9-10-8 13-24 100-9 10-8-14-25-102-8-11-8 13-17 68-8 28-8 7-8-16-25-106-8-11-9 13-16 66-8 26-9 5-8-18-16-78-8-31-9-12-8 13-16 64-9 24-8 3-8-21z"/>
<path transform="translate(-61 -25)" d="M846 778l8 21 9-3 8-25 16-63 8-13 9 12 8 31 16 78 9 18 8-5 8-26 17-66 8-13 8 11 25 106 8 16 8-7 9-28 16-68 8-13 9 11 24 102 8 14 9-10 24-100 9-13 8 10 25 99 8 12 8-12 25-103 8-14 8 10 25 95 8 10 9-14 24-108 9-14 8 10 24 91 9 8 8-17 25-111 8-14 8 9 25 88 8 5 8-18 25-115 8-15 9 9 16 60 8 24 9 3 8-20 24-118 9-15 8 8 16 58 9 22 8 1 8-23 25-121 8-16 8 8 17 56 8 20 8-1 9-25-17 66-8 25-8 1-8-20-17-56-8-8-8 16-25 121-8 23-9-1-8-22-16-58-8-8-9 15-24 118-9 20-8-3-8-24-17-60-8-8-8 14-25 115-8 18-8-5-25-88-8-9-9 15-24 111-9 16-8-8-24-91-9-10-8 14-25 108-8 14-8-10-25-95-8-10-8 14-25 103-8 12-9-12-24-99-9-10-8 14-24 99-9 10-8-14-25-102-8-11-8 13-17 68-8 28-8 8-8-17-25-106-8-11-9 13-16 66-8 26-9 5-8-18-16-78-8-31-9-12-8 13-16 64-9 24-8 3-8-21z"/>
<path transform="translate(-53 -22)" d="M846 728l8 20 9-3 8-24 16-64 8-12 9 11 8 32 16 77 9 19 8-6 8-26 17-66 8-12 8 10 25 106 8 17 8-8 9-28 16-68 8-13 9 11 24 102 8 14 9-10 24-99 9-14 8 11 25 98 8 12 8-12 25-103 8-14 8 10 25 95 8 10 9-14 24-108 9-14 8 10 24 91 9 8 8-16 25-111 8-15 8 9 25 88 8 5 8-18 25-115 8-14 9 9 16 59 8 24 9 4 8-21 24-118 9-15 8 8 16 58 9 22 8 1 8-22 25-122 8-16 8 9 17 55 8 20 8-1 9-24-17 93-8 25-8 1-8-20-17-56-8-8-8 15-25 122-8 23-9-2-8-21-16-58-8-9-9 15-24 119-9 20-8-3-8-24-17-60-8-9-8 15-25 115-8 18-8-5-25-88-8-9-9 14-24 111-9 17-8-8-24-91-9-10-8 14-25 107-8 14-8-9-25-95-8-10-8 13-25 104-8 12-9-12-24-99-9-10-8 13-24 100-9 10-8-14-25-103-8-10-8 13-17 68-8 28-8 7-8-16-25-106-8-11-9 13-16 66-8 26-9 5-8-18-16-78-8-32-9-11-8 12-16 64-9 24-8 4-8-21z"/>
<path transform="translate(-45 -19)" d="M846 701l8 21 9-3 8-24 16-64 8-13 9 12 8 31 16 78 9 19 8-6 8-26 17-66 8-13 8 11 25 106 8 17 8-8 9-28 16-68 8-13 9 11 24 102 8 14 9-10 24-99 9-14 8 10 25 99 8 12 8-12 25-103 8-14 8 10 25 95 8 10 9-14 24-108 9-14 8 10 24 91 9 8 8-16 25-111 8-15 8 9 25 88 8 5 8-18 25-115 8-14 9 8 16 60 8 24 9 3 8-20 24-118 9-15 8 8 16 58 9 22 8 1 8-23 25-121 8-16 8 8 17 56 8 20 8-1 9-25-17 71-8 24-8 1-8-20-17-56-8-8-8 16-25 122-8 22-9-1-8-22-16-58-8-8-9 15-24 118-9 21-8-4-8-24-17-59-8-9-8 14-25 115-8 18-8-5-25-88-8-9-9 15-24 111-9 16-8-8-24-91-9-10-8 14-25 108-8 14-8-10-25-95-8-10-8 14-25 103-8 12-9-12-24-98-9-11-8 14-24 99-9 10-8-14-25-102-8-11-8 13-17 68-8 28-8 8-8-17-25-106-8-10-9 12-16 66-8 26-9 6-8-19-16-77-8-32-9-11-8 12-16 64-9 24-8 3-8-20z"/>
<path transform="translate(-36 -15)" d="M846 711l8 21 9-3 8-25 16-63 8-13 9 12 8 31 16 78 9 18 8-5 8-26 17-66 8-13 8 11 25 106 8 16 8-7 9-28 16-68 8-13 9 10 24 103 8 14 9-10 24-100 9-13 8 10 25 99 8 12 8-12 25-104 8-13 8 10 25 95 8 10 9-14 24-108 9-14 8 10 24 91 9 8 8-17 25-111 8-14 8 9 25 88 8 5 8-18 25-115 8-15 9 9 16 60 8 24 9 3 8-20 24-118 9-16 8 9 16 58 9 22 8 1 8-23 25-122 8-15 8 8 17 56 8 20 8-1 9-25-17 10-8 24-8 1-8-20-17-55-8-8-8 15-25 122-8 22-9-1-8-22-16-58-8-8-9 15-24 118-9 21-8-4-8-23-17-60-8-9-8 15-25 114-8 19-8-6-25-87-8-10-9 15-24 111-9 16-8-8-24-91-9-9-8 14-25 107-8 14-8-10-25-95-8-10-8 14-25 104-8 11-9-12-24-98-9-10-8 13-24 100-9 9-8-14-25-102-8-11-8 13-17 68-8 28-8 8-8-16-25-106-8-11-9 12-16 66-8 26-9 6-8-19-16-77-8-32-9-11-8 12-16 64-9 24-8 3-8-20z"/>
<path transform="translate(-28 -12)" d="M846 747l8 21 9-4 8-24 16-64 8-12 9 11 8 32 16 78 9 18 8-5 8-26 17-66 8-13 8 11 25 106 8 16 8-7 9-28 16-68 8-13 9 10 24 103 8 14 9-10 24-100 9-13 8 10 25 99 8 12 8-12 25-104 8-13 8 10 25 95 8 9 9-14 24-107 9-14 8 10 24 91 9 7 8-16 25-111 8-14 8 9 25 87 8 6 8-18 25-115 8-15 9 9 16 60 8 24 9 3 8-20 24-119 9-15 8 9 16 58 9 21 8 2 8-23 25-122 8-15 8 8 17 56 8 20 8-1 9-25-17-52-8 24-8 1-8-20-17-55-8-8-8 15-25 122-8 22-9-1-8-22-16-58-8-8-9 15-24 118-9 21-8-4-8-24-17-59-8-9-8 15-25 114-8 19-8-6-25-87-8-10-9 15-24 111-9 16-8-8-24-91-9-10-8 15-25 107-8 14-8-10-25-95-8-10-8 14-25 104-8 11-9-12-24-98-9-11-8 14-24 100-9 9-8-14-25-102-8-11-8 13-17 68-8 28-8 8-8-17-25-105-8-11-9 12-16 66-8 26-9 6-8-19-16-77-8-32-9-11-8 12-16 64-9 24-8 3-8-20z"/>
<path transform="translate(-20 -8)" d="M846 784l8 20 9-3 8-24 16-64 8-12 9 11 8 32 16 78 9 18 8-5 8-26 17-66 8-13 8 11 25 106 8 16 8-8 9-27 16-69 8-13 9 11 24 102 8 15 9-10 24-100 9-13 8 10 25 99 8 12 8-12 25-104 8-14 8 10 25 95 8 10 9-14 24-107 9-14 8 9 24 92 9 7 8-16 25-111 8-14 8 9 25 87 8 6 8-18 25-115 8-15 9 9 16 60 8 23 9 4 8-21 24-118 9-15 8 9 16 57 9 22 8 1 8-22 25-122 8-15 8 8 17 55 8 20 8 0 9-25-17-79-8 24-8 1-8-20-17-56-8-8-8 16-25 122-8 22-9-1-8-22-16-58-8-8-9 15-24 118-9 20-8-3-8-24-17-60-8-8-8 14-25 115-8 18-8-5-25-88-8-9-9 15-24 111-9 16-8-8-24-91-9-10-8 14-25 108-8 14-8-10-25-95-8-10-8 14-25 103-8 12-9-12-24-99-9-10-8 14-24 99-9 10-8-14-25-102-8-11-8 13-17 68-8 28-8 8-8-17-25-106-8-11-9 13-16 66-8 26-9 6-8-19-16-77-8-32-9-12-8 13-16 64-9 24-8 3-8-20z"/>
<path transform="translate(-12 -5)" d="M846 796l8 20 9-3 8-24 16-64 8-12 9 11 8 32 16 77 9 19 8-6 8-26 17-66 8-12 8 11 25 106 8 16 8-8 9-28 16-68 8-13 9 11 24 102 8 14 9-9 24-100 9-14 8 11 25 98 8 12 8-11 25-104 8-14 8 10 25 95 8 10 9-14 24-107 9-15 8 10 24 91 9 8 8-16 25-111 8-15 8 10 25 87 8 6 8-19 25-114 8-15 9 9 16 60 8 23 9 4 8-21 24-118 9-15 8 8 16 58 9 22 8 1 8-22 25-122 8-15 8 8 17 55 8 20 8-1 9-24-17-56-8 25-8 1-8-20-17-56-8-8-8 16-25 121-8 23-9-1-8-22-16-58-8-8-9 15-24 118-9 20-8-3-8-24-17-60-8-8-8 14-25 115-8 18-8-5-25-88-8-9-9 14-24 112-9 16-8-8-24-91-9-10-8 14-25 108-8 14-8-10-25-95-8-10-8 14-25 103-8 12-9-12-24-99-9-10-8 13-24 100-9 10-8-14-25-102-8-11-8 13-17 68-8 28-8 7-8-16-25-106-8-11-9 13-16 66-8 26-9 5-8-18-16-78-8-31-9-12-8 13-16 64-9 24-8 3-8-21z"/>
<path transform="translate(-4 -2)" d="M846 771l8 21 9-4 8-24 16-64 8-12 9 11 8 32 16 78 9 18 8-5 8-26 17-66 8-13 8 11 25 106 8 16 8-7 9-28 16-68 8-13 9 10 24 103 8 14 9-10 24-100 9-13 8 10 25 99 8 12 8-12 25-104 8-13 8 10 25 95 8 9 9-14 24-107 9-14 8 10 24 91 9 8 8-17 25-111 8-14 8 9 25 87 8 6 8-18 25-115 8-15 9 9 16 60 8 24 9 3 8-20 24-119 9-15 8 9 16 58 9 21 8 2 8-23 25-122 8-15 8 8 17 56 8 20 8-1 9-25-17 6-8 25-8 1-8-20-17-56-8-8-8 15-25 122-8 23-9-2-8-21-16-58-8-9-9 15-24 119-9 20-8-3-8-24-17-60-8-9-8 15-25 115-8 18-8-6-25-87-8-9-9 14-24 111-9 16-8-7-24-92-9-9-8 14-25 107-8 14-8-9-25-95-8-10-8 13-25 104-8 12-9-12-24-99-9-10-8 13-24 100-9 10-8-14-25-103-8-10-8 13-17 68-8 28-8 7-8-16-25-106-8-11-9 13-16 66-8 26-9 5-8-18-16-78-8-32-9-11-8 12-16 64-9 24-8 4-8-21z"/>
</g></g>
<path d="M170.4 224.9l2.7 1.1M252.4 204.3l2.7 1.1M334.5 183.7l2.7 1.1M166.8 224.7l-2.9 0.7M102 197.6l-2.9 0.7M37.1 170.5l-2.9 0.7M35.5 169.8l-2.9 0.7M35.5 108l-2.9 0.7M35.5 46.2l-2.9 0.7" fill="none" stroke="#3c3c3c" stroke-width=".9"/>
<path d="M168.4 225.4L336.5 183.2M168.4 225.4L35.5 169.8" fill="none" stroke="#3c3c3c" stroke-width="1" stroke-dasharray="2.4 1.4"/>
<path d="M35.5 169.8L35.5 46.2" fill="none" stroke="#b9c3c6" stroke-width=".8"/>
<g font-size="12.3"><text x="175.5" y="239.1">-5</text><text x="257.6" y="218.5">0</text><text x="339.6" y="197.9">5</text><g text-anchor="end"><text x="160.2" y="238">-5</text><text x="95.4" y="210.9">0</text><text x="30.5" y="183.7">5</text><text x="29.1" y="172.8">0</text><text x="29.1" y="111">50</text><text x="29.1" y="49.2">100</text></g></g></g>
<g clip-path="url(#cb)"><path d="M519.1 225.7L384.5 169.3M384.5 169.3L384.5 42.8M604.4 204L469.8 147.6M469.8 147.6L469.8 21.1M689.7 182.3L555.1 125.9M555.1 125.9L555.1 -0.6M519.1 225.7L689.7 182.3M689.7 182.3L689.7 55.8M451.8 197.5L622.4 154.1M622.4 154.1L622.4 27.6M384.5 169.3L555.1 125.9M555.1 125.9L555.1 -0.6M384.5 169.3L555.1 125.9M555.1 125.9L689.7 182.3M384.5 127.1L555.1 83.7M555.1 83.7L689.7 140.1M384.5 85L555.1 41.6M555.1 41.6L689.7 98M384.5 42.8L555.1 -0.6M555.1 -0.6L689.7 55.8M384.5 169.3L555.1 125.9M689.7 182.3L555.1 125.9" fill="none" stroke="#ccd6d9" stroke-width=".65"/><path d="M384.5 169.3L555.1 125.9M689.7 182.3L555.1 125.9" fill="none" stroke="#c3cbcd" stroke-width="1.7" stroke-dasharray="2 1.3"/>
<g transform="scale(.2)"><g fill="none" stroke-width="3">
<path stroke="#2363ff" d="M2836 978l-39 5-46 4-44 2-50-1-41-2-45-4-42-6-37-8-33-9-28-10-32-14-20-12-15-13-10-15-4-13 1-14 6-13 13-15 19-13 23-13 26-10 29-9 44-11 37-6 40-5 44-3 40-1 44 1 39 2 45 4 42 6 37 8 33 9 28 10 32 14 20 12 15 13 10 15 4 13-1 14-6 13-13 15-19 13-23 13-26 10-29 9-33 8z"/>
<path stroke="#62ffb6" d="M2886 1021l-52 6-58 5-63 2-58 0-56-3-66-6-58-8-51-9-45-11-49-16-33-14-35-20-25-19-11-12-6-9-5-10-3-11-1-11 1-8 3-10 4-8 8-11 9-11 24-19 29-16 34-15 48-16 42-10 59-12 58-7 65-6 63-2 58 0 56 3 66 6 58 8 51 9 45 11 49 16 33 14 35 20 25 19 11 12 6 9 5 10 3 11 1 11-1 8-3 10-4 8-8 11-9 11-24 19-29 16-34 15-48 16-54 13z"/>
<path stroke="#c2ff46" d="M2860 1061l-55 5-63 3-65 0-64-1-54-4-65-6-57-8-50-9M3240 824l14 18 6 10 4 10 2 11 1 11-4 18-4 9-6 12-18 20-24 20-27 16M2131 934l-14-18-6-10-4-10-2-11-1-11 4-18 4-9 6-12 18-20 24-20 27-16M2511 697l55-5 63-3 65 0 64 1 54 4 65 6 57 8 50 9"/>
<path stroke="#ff341f" d="M2713 1099l-105-2-105-7M3356 873l0 17-4 17-9 18-12 16M2015 885l0-17 4-18 9-17 12-16M2658 659l105 2 105 7"/>
<path stroke="#6d1f1f" d="M2616 1123l-36-1M3433 905l-5 12M1938 853l5-12M2755 635l36 1"/>
</g>
<g fill="url(#gb)">
<path transform="translate(-669 -280)" d="M2600 591l21 22 43 39 42 33 22 15 42 25 22 10 21 9 21 8 22 6 21 5 21 4 22 2 21 1 21-1 22-2 21-3 21-5 22-6 21-8 21-8 22-11 21-11 42-28 22-16 42-35 43-42 43-46 21-26 43-55 42-60 22-33-9-17-21 32-43 61-42 55-22 26-42 46-43 42-21 18-43 33-43 27-21 12-21 10-22 9-21 8-21 6-22 5-21 3-21 2-22 1-21-1-21-2-21-4-22-5-21-6-21-8-22-9-21-10-21-12-43-28-43-34-21-18-43-42z"/>
<path transform="translate(-660 -277)" d="M2600 605l42 41 22 19 42 33 22 15 42 25 22 10 21 10 21 7 22 7 21 4 21 4 22 2 21 1 21-1 22-2 21-3 21-5 22-6 21-7 21-9 22-10 21-12 42-27 43-33 21-19 43-41 43-47 21-25 43-56 21-29 43-63-17-34-21 32-43 60-43 56-21 25-43 47-42 41-22 19-42 33-43 27-21 12-22 10-21 9-21 7-22 6-21 5-21 3-22 2-21 1-21-1-22-2-21-4-21-4-22-7-21-7-21-10-22-10-21-12-42-28-43-33-21-19-43-41z"/>
<path transform="translate(-652 -273)" d="M2600 617l42 42 22 19 42 33 43 28 21 12 22 10 21 9 21 8 22 7 21 4 21 4 22 2 21 1 21-1 22-2 21-3 21-5 22-6 21-7 21-9 22-10 21-12 42-28 43-32 21-19 43-41 43-47 21-26 43-55 21-29 43-64-17-33-21 33-43 60-43 55-21 26-43 46-42 42-43 35-21 16-43 28-21 11-22 11-21 8-21 8-22 6-21 5-21 3-22 2-21 1-21-1-22-2-21-4-21-5-22-6-21-8-21-9-22-10-42-25-21-15-43-33-43-39-21-22z"/>
<path transform="translate(-644 -270)" d="M2600 630l42 42 22 18 42 34 43 28 21 12 22 10 21 9 21 8 22 6 21 5 21 4 22 2 21 1 21-1 22-2 21-3 21-5 22-6 21-8 21-9 22-10 21-11 42-28 43-33 21-18 43-42 43-46 21-26 43-55 21-30 43-63-17-33-43 64-21 29-43 55-21 26-43 47-42 41-22 19-42 32-43 28-21 12-22 10-21 9-21 7-22 6-21 5-21 3-22 2-21 1-21-1-22-2-21-4-21-5-22-6-21-8-21-9-22-10-42-25-21-15-43-33-21-19-43-42z"/>
<path transform="translate(-635 -266)" d="M2600 642l42 42 22 19 42 33 43 28 21 12 22 10 21 9 21 8 22 6 21 5 21 4 22 2 21 1 21-1 22-2 21-3 21-5 22-6 21-7 21-9 22-11 21-11 42-28 43-33 21-18 43-41 43-47 21-26 43-55 42-60 22-33-17-32-43 64-21 29-43 55-21 26-43 47-42 41-22 18-42 33-43 28-21 12-22 10-21 9-21 7-22 6-21 5-21 3-22 2-21 1-21-1-22-2-21-4-21-5-22-6-21-8-21-9-22-10-21-12-42-28-43-33-21-19-43-42z"/>
<path transform="translate(-627 -263)" d="M2600 654l42 42 22 19 42 33 43 28 21 12 22 10 21 9 21 8 22 6 21 5 21 4 22 2 21 1 21-1 22-2 21-3 21-5 22-6 21-8 21-8 22-11 21-11 42-28 43-33 21-18 43-41 43-47 21-26 43-55 21-29 43-64-17-31-43 63-21 30-43 55-21 26-43 46-42 42-22 18-42 33-43 27-21 12-22 10-21 9-21 8-22 6-21 5-21 3-22 2-21 1-21-1-22-2-21-4-21-5-22-6-21-8-21-9-22-11-21-11-42-28-43-34-21-18-43-42z"/>
<path transform="translate(-618 -259)" d="M2600 666l42 41 22 19 42 34 43 27 21 12 22 11 21 9 21 8 22 6 21 5 21 3 22 3 21 0 21 0 22-2 21-4 21-4 22-6 21-8 21-9 22-10 21-12 42-27 43-33 21-19 43-41 43-47 21-25 43-55 21-30 43-63-17-31-21 33-43 60-43 55-21 26-43 47-42 41-22 18-42 33-43 28-21 11-22 11-21 9-21 7-22 6-21 5-21 3-22 2-21 1-21-1-22-2-21-4-21-5-22-6-21-8-21-9-22-10-21-12-42-28-43-33-21-19-43-42z"/>
<path transform="translate(-610 -256)" d="M2600 677l42 42 22 18 42 34 43 28 21 12 22 10 21 9 21 8 22 6 21 5 21 4 22 2 21 1 21-1 22-2 21-3 21-5 22-6 21-8 21-9 22-10 21-11 42-28 43-33 21-18 43-42 43-46 21-26 43-55 21-30 43-63-17-30-43 64-21 29-43 55-21 26-43 46-42 42-22 18-42 33-43 28-21 11-22 11-21 8-21 8-22 6-21 5-21 3-22 2-21 1-21-1-22-2-21-4-21-5-22-6-21-8-21-9-22-10-21-12-42-28-43-33-21-19-43-42z"/>
<path transform="translate(-601 -252)" d="M2600 688l42 42 22 18 42 34 43 28 21 11 22 11 21 9 21 8 22 6 21 5 21 3 22 3 21 0 21 0 22-2 21-3 21-5 22-6 21-8 21-9 22-10 21-12 42-27 43-33 21-19 43-41 43-47 21-25 43-55 21-30 43-63-17-29-43 63-21 30-43 55-21 25-43 47-42 41-22 19-42 33-43 27-21 12-22 10-21 9-21 8-22 6-21 4-21 4-22 2-21 0-21-1-22-2-21-3-21-5-22-7-21-7-21-9-22-11-21-12-42-27-43-34-21-19-43-41z"/>
<path transform="translate(-593 -249)" d="M2600 698l21 22 43 39 42 33 43 28 21 12 22 10 21 9 21 8 22 7 21 4 21 4 22 2 21 1 21-1 22-2 21-3 21-5 22-6 21-7 21-9 22-10 21-12 42-28 43-32 21-19 43-41 43-47 21-25 43-56 21-29 43-64-17-28-43 63-21 30-43 55-21 25-43 47-42 42-22 18-42 33-43 27-21 12-22 10-21 9-21 8-22 6-21 5-21 3-22 2-21 0-21 0-22-2-21-4-21-5-22-6-21-8-21-9-22-11-21-11-42-28-43-34-21-18-43-42z"/>
<path transform="translate(-585 -245)" d="M2600 709l42 41 22 19 42 33 22 15 42 25 22 11 21 9 21 7 22 7 21 5 21 3 22 2 21 1 21 0 22-2 21-4 21-4 22-7 21-7 21-9 22-10 21-12 42-27 43-33 21-19 43-41 43-47 21-25 43-55 21-30 43-63-17-28-43 63-21 30-43 55-21 25-43 47-42 41-22 19-42 33-43 27-21 12-22 10-21 9-21 8-22 6-21 4-21 4-22 2-21 0-21 0-22-3-21-3-21-5-22-6-21-8-21-9-22-11-21-11-42-28-43-34-21-18-43-42z"/>
<path transform="translate(-576 -241)" d="M2600 719l42 41 22 19 42 33 22 15 42 25 22 10 21 10 21 7 22 7 21 4 21 4 22 2 21 1 21-1 22-2 21-3 21-5 22-6 21-7 21-9 22-10 21-12 42-27 43-33 21-19 43-41 43-47 21-25 43-56 42-60 22-32-17-28-43 64-21 29-43 55-21 26-43 47-42 41-22 18-42 33-43 28-21 12-22 10-21 9-21 7-22 6-21 5-21 3-22 2-21 1-21-1-22-2-21-4-21-5-22-6-21-8-21-9-22-10-21-12-42-28-43-33-43-39-21-22z"/>
<path transform="translate(-568 -238)" d="M2600 728l21 22 43 38 42 34 43 28 21 11 22 11 21 9 21 8 22 6 21 5 21 4 22 2 21 0 21 0 22-2 21-3 21-5 22-6 21-8 21-9 22-10 21-12 42-27 43-33 21-18 43-42 43-47 21-25 43-55 21-30 43-63-17-26-43 63-21 30-43 55-21 25-43 47-42 41-22 19-42 33-43 27-21 12-22 10-21 9-21 7-22 6-21 5-21 4-22 2-21 0-21-1-22-2-21-3-21-5-22-7-21-7-21-9-22-11-42-25-21-15-43-33-21-19-43-41z"/>
<path transform="translate(-559 -234)" d="M2600 737l42 42 22 19 42 33 43 28 21 12 22 10 21 9 21 8 22 6 21 5 21 4 22 2 21 1 21-1 22-2 21-3 21-5 22-6 21-8 21-8 22-11 21-11 42-28 43-33 21-18 43-42 43-46 21-26 43-55 21-29 43-64-17-26-21 33-43 60-43 55-21 26-43 47-42 41-22 19-42 32-43 28-21 12-22 10-21 9-21 7-22 6-21 5-21 3-22 2-21 1-21-1-22-2-21-4-21-5-22-6-21-8-21-9-22-10-42-25-21-15-43-33-21-19-43-42z"/>
<path transform="translate(-551 -231)" d="M2600 746l42 42 22 18 42 34 43 28 21 11 22 11 21 9 21 8 22 6 21 5 21 3 22 3 21 0 21 0 22-2 21-3 21-5 22-6 21-8 21-9 22-10 21-12 42-27 43-33 21-19 22-19 42-44 43-50 43-55 21-30 43-63-17-25-43 63-21 30-43 55-21 25-43 47-42 41-22 19-42 33-43 27-21 12-22 10-21 9-21 8-22 6-21 5-21 3-22 2-21 0-21 0-22-3-21-3-21-5-22-6-21-8-21-9-22-11-21-11-42-28-43-34-43-39-21-21z"/>
<path transform="translate(-543 -227)" d="M2600 754l21 22 43 39 42 33 43 28 21 12 22 10 21 9 21 8 22 6 21 5 21 4 22 2 21 1 21-1 22-2 21-3 21-5 22-6 21-7 21-9 22-10 21-12 42-28 43-33 21-18 43-41 43-47 21-26 43-55 21-29 43-64-17-24-43 63-21 30-43 55-21 26-43 46-42 42-22 18-42 33-43 28-21 11-22 10-21 9-21 8-22 6-21 5-21 3-22 2-21 1-21-1-22-2-21-4-21-5-22-6-21-8-21-9-22-10-21-12-42-28-43-33-21-19-43-42z"/>
<path transform="translate(-534 -224)" d="M2600 763l42 41 22 19 42 33 43 28 21 12 22 10 21 10 21 7 22 7 21 5 21 3 22 2 21 1 21-1 22-2 21-3 21-5 22-6 21-7 21-9 22-10 21-12 42-27 43-33 21-19 43-41 43-47 21-25 43-55 21-30 43-63-17-24-43 63-21 30-43 55-42 49-43 44-21 20-22 19-42 33-43 27-21 12-22 10-21 9-21 8-22 6-21 4-21 4-22 2-21 0-21 0-22-3-21-3-21-5-22-6-21-8-21-9-22-11-21-11-42-28-43-34-21-18-43-42z"/>
<path transform="translate(-526 -220)" d="M2600 770l42 42 22 19 42 33 22 15 42 25 22 10 21 9 21 8 22 6 21 5 21 4 22 2 21 1 21-1 22-2 21-3 21-5 22-6 21-7 21-9 22-11 21-11 42-28 43-33 21-18 43-41 43-47 21-26 43-55 21-29 43-64-17-23-43 64-21 29-43 55-21 26-43 47-42 41-22 18-42 33-43 28-21 11-22 11-21 9-21 7-22 6-21 5-21 3-22 2-21 1-21-1-22-2-21-4-21-5-22-6-21-8-21-9-22-10-21-12-42-28-43-33-43-39-21-22z"/>
<path transform="translate(-517 -217)" d="M2600 778l42 41 22 19 42 34 43 27 21 12 22 11 21 9 21 7 22 7 21 5 21 3 22 2 21 1 21 0 22-2 21-4 21-4 22-7 21-7 21-9 22-10 21-12 42-27 43-33 21-19 43-41 43-47 21-25 43-55 21-30 43-63-17-22-43 63-21 29-43 56-21 25-43 47-42 41-22 19-42 33-43 27-21 12-22 10-21 9-21 7-22 6-21 5-21 3-22 2-21 1-21-1-22-2-21-4-21-4-22-7-21-7-21-10-22-10-21-12-42-28-43-33-21-19-43-41z"/>
<path transform="translate(-509 -213)" d="M2600 785l42 41 22 19 42 34 22 14 42 25 22 11 21 9 21 8 22 6 21 5 21 3 22 3 21 0 21 0 22-2 21-4 21-4 22-6 21-8 21-9 22-10 21-12 42-27 43-33 21-19 43-41 43-47 21-25 43-55 21-30 43-63-17-22-43 64-21 29-43 55-21 26-43 47-42 41-22 18-42 33-43 28-21 11-22 11-21 9-21 7-22 6-21 5-21 3-22 2-21 1-21-1-22-2-21-4-21-5-22-6-21-8-21-9-22-10-42-25-21-15-43-33-21-19-43-42z"/>
<path transform="translate(-501 -210)" d="M2600 792l42 41 22 19 42 33 43 28 21 12 22 10 21 10 21 7 22 7 21 5 21 3 22 2 21 1 21-1 22-2 21-3 21-5 22-6 21-7 21-9 22-10 21-12 42-27 43-33 21-19 43-41 43-47 21-25 43-55 21-30 43-63-17-21-43 63-21 30-43 55-21 25-43 47-42 41-22 19-42 33-43 27-21 12-22 10-21 9-21 7-22 7-21 4-21 4-22 2-21 0-21-1-22-2-21-3-21-5-22-7-21-7-21-9-22-11-21-12-42-28-43-33-21-19-43-41z"/>
<path transform="translate(-492 -206)" d="M2600 798l42 42 22 18 42 34 43 28 21 11 22 11 21 9 21 8 22 6 21 5 21 3 22 3 21 0 21 0 22-2 21-3 21-5 22-6 21-8 21-9 22-10 21-12 42-27 43-33 21-19 43-41 43-47 21-25 43-55 42-61 22-32-17-20-43 63-21 30-43 55-21 25-43 47-42 41-22 19-42 33-43 27-21 12-22 10-21 9-21 8-22 6-21 4-21 4-22 2-21 0-21-1-22-2-21-3-21-5-22-7-21-7-21-9-22-11-42-25-21-14-43-34-21-19-43-41z"/>
<path transform="translate(-484 -203)" d="M2600 804l42 42 22 18 42 34 43 28 21 11 22 11 21 9 21 8 22 6 21 5 21 4 22 2 21 0 21 0 22-2 21-3 21-5 22-6 21-8 21-9 22-10 21-12 42-27 43-33 21-18 43-42 43-47 21-25 43-55 21-30 43-63-17-19-43 63-21 29-43 56-21 25-43 47-42 41-22 19-42 33-43 27-21 12-22 10-21 9-21 7-22 6-21 5-21 3-22 2-21 1-21-1-22-2-21-4-21-4-22-7-21-7-21-10-22-10-21-12-42-28-43-33-21-19-43-41z"/>
<path transform="translate(-475 -199)" d="M2600 810l21 21 43 39 42 33 43 28 21 12 22 11 21 9 21 7 22 7 21 5 21 3 22 2 21 1 21 0 22-2 21-4 21-4 22-7 21-7 21-9 22-10 21-12 42-27 43-33 21-19 43-41 43-47 21-25 43-55 42-61 22-32-17-19-21 32-43 61-43 55-21 25-43 47-42 41-22 19-42 33-43 27-21 12-22 10-21 9-21 8-22 6-21 4-21 4-22 2-21 0-21 0-22-3-21-3-21-5-22-6-21-8-21-9-22-11-21-11-42-28-43-34-21-18-43-42z"/>
<path transform="translate(-467 -196)" d="M2600 815l42 42 22 18 42 34 43 28 21 12 22 10 21 9 21 8 22 6 21 5 21 4 22 2 21 1 21-1 22-2 21-3 21-5 22-6 21-8 21-9 22-10 21-11 42-28 43-33 21-18 43-42 43-46 21-26 43-55 21-30 43-63-17-18-43 63-21 30-43 55-21 25-43 47-42 41-22 19-42 33-43 27-21 12-22 10-21 9-21 8-22 6-21 5-21 3-22 2-21 0-21 0-22-3-21-3-21-5-22-6-21-8-21-9-22-11-21-11-42-28-43-34-21-18-43-42z"/>
<path transform="translate(-458 -192)" d="M2600 820l42 42 22 18 42 34 43 28 21 12 22 10 21 9 21 8 22 6 21 5 21 4 22 2 21 1 21-1 22-2 21-3 21-5 22-6 21-8 21-9 22-10 21-11 42-28 43-33 21-18 43-42 43-46 21-26 43-55 42-61 22-32-17-17-21 32-43 61-43 55-21 25-43 47-42 41-22 19-42 33-43 27-21 12-22 10-21 9-21 7-22 6-21 5-21 4-22 2-21 0-21-1-22-2-21-3-21-5-22-7-21-7-21-9-22-11-21-12-42-28-43-33-43-39-21-21z"/>
<path transform="translate(-450 -189)" d="M2600 825l42 41 22 19 42 34 43 27 21 12 22 11 21 9 21 7 22 7 21 5 21 3 22 2 21 1 21 0 22-2 21-4 21-4 22-7 21-7 21-9 22-10 21-12 42-27 43-33 21-19 43-41 43-47 21-25 21-27 43-58 43-63-17-17-43 63-21 30-43 55-21 25-43 47-42 42-22 18-42 33-43 27-21 12-22 10-21 9-21 8-22 6-21 5-21 3-22 2-21 0-21 0-22-2-21-4-21-5-22-6-21-8-21-9-22-11-21-11-42-28-43-34-21-18-43-42z"/>
<path transform="translate(-442 -185)" d="M2600 829l42 42 22 18 42 34 43 28 21 12 22 10 21 9 21 8 22 6 21 5 21 4 22 2 21 1 21-1 22-2 21-3 21-5 22-6 21-8 21-9 22-10 21-12 42-27 43-33 21-18 43-42 43-46 21-26 43-55 21-30 43-63-17-16-21 32-43 61-43 55-21 26-43 46-42 42-22 18-42 33-43 27-21 12-22 10-21 9-21 8-22 6-21 5-21 3-22 2-21 1-21-1-22-2-21-4-21-5-22-6-21-8-21-9-22-11-21-11-42-28-43-34-21-18-43-42z"/>
<path transform="translate(-433 -182)" d="M2600 833l42 42 22 18 42 34 43 28 21 11 22 11 21 9 21 8 22 6 21 5 21 4 22 2 21 1 21-1 22-2 21-3 21-5 22-6 21-8 21-9 22-10 21-12 42-27 43-33 21-18 22-20 42-44 43-50 21-27 43-58 43-63-17-15-43 63-42 58-22 27-21 25-43 47-42 41-22 19-42 33-43 27-21 12-22 10-21 9-21 7-22 7-21 4-21 4-22 2-21 0-21-1-22-2-21-3-21-5-22-7-21-7-21-9-22-11-21-12-42-28-43-33-21-19-43-41z"/>
<path transform="translate(-425 -178)" d="M2600 837l42 41 22 19 42 33 43 28 21 12 22 11 21 9 21 7 22 7 21 5 21 3 22 2 21 1 21 0 22-2 21-4 21-5 22-6 21-7 21-9 22-10 21-12 42-27 43-33 21-19 43-41 43-47 21-25 43-55 21-30 43-63-17-15-43 63-21 30-43 55-21 25-43 47-42 42-22 18-42 33-43 27-21 12-22 10-21 9-21 8-22 6-21 5-21 3-22 2-21 0-21 0-22-2-21-4-21-5-22-6-21-8-21-9-22-11-21-11-42-28-43-34-21-18-43-42z"/>
<path transform="translate(-416 -174)" d="M2600 840l42 42 22 18 42 34 43 28 21 11 22 11 21 9 21 8 22 6 21 5 21 3 22 3 21 0 21 0 22-2 21-3 21-5 22-6 21-8 21-9 22-10 21-12 42-27 43-33 21-19 43-41 43-47 21-25 21-27 43-58 43-63-17-14-43 63-42 58-22 27-42 50-43 44-21 19-22 19-42 33-43 27-21 12-22 10-21 9-21 8-22 6-21 5-21 3-22 2-21 0-21 0-22-3-21-3-21-5-22-6-21-8-21-9-22-11-21-11-42-28-43-34-21-18-43-42z"/>
<path transform="translate(-408 -171)" d="M2600 843l42 42 22 18 42 34 43 27 21 12 22 11 21 9 21 8 22 6 21 5 21 3 22 3 21 0 21 0 22-2 21-4 21-4 22-6 21-8 21-9 22-10 21-12 42-27 43-33 21-19 22-20 42-44 43-49 21-27 43-58 43-63-17-13-43 63-21 30-43 55-21 25-43 47-42 41-22 19-42 33-43 27-21 12-22 10-21 9-21 7-22 6-21 5-21 4-22 1-21 1-21-1-22-2-21-3-21-5-22-7-21-7-21-9-22-11-21-12-42-28-43-33-21-19-43-41z"/>
<path transform="translate(-400 -167)" d="M2600 845l42 42 22 19 42 33 43 28 21 12 22 10 21 9 21 8 22 6 21 5 21 4 22 2 21 1 21-1 22-2 21-3 21-5 22-6 21-7 21-9 22-10 21-12 42-28 43-32 21-19 43-41 43-47 21-26 21-26 43-58 43-64-17-12-43 63-42 58-22 27-21 25-43 47-42 41-22 19-42 33-43 27-21 12-22 10-21 9-21 8-22 6-21 4-21 4-22 2-21 0-21 0-22-3-21-3-21-5-22-6-21-8-21-9-22-11-21-12-42-27-43-34-21-18-43-42z"/>
<path transform="translate(-391 -164)" d="M2600 848l42 41 22 19 42 33 43 28 21 12 22 11 21 9 21 7 22 7 21 5 21 3 22 2 21 1 21 0 22-2 21-4 21-4 22-7 21-7 21-9 22-10 21-12 42-27 43-33 21-19 43-41 43-47 21-25 43-55 21-30 43-63-17-12-43 63-42 58-22 27-42 49-43 44-21 20-22 19-42 33-43 27-21 12-22 10-21 9-21 8-22 6-21 4-21 4-22 2-21 0-21 0-22-3-21-3-21-5-22-6-21-8-21-9-22-11-21-12-42-27-43-34-21-19-43-41z"/>
<path transform="translate(-383 -160)" d="M2600 850l21 21 43 39 42 33 43 28 21 12 22 11 21 9 21 7 22 7 21 5 21 3 22 2 21 1 21 0 22-2 21-4 21-5 22-6 21-7 21-9 22-10 21-12 42-27 43-33 21-19 43-41 43-47 21-25 43-55 42-61 22-32-17-12-43 64-42 58-22 26-21 26-43 47-42 41-22 18-42 33-43 28-21 11-22 11-21 9-21 7-22 6-21 5-21 3-22 2-21 1-21-1-22-2-21-4-21-5-22-6-21-8-21-9-22-10-21-12-42-28-43-33-21-19-43-42z"/>
<path transform="translate(-374 -157)" d="M2600 851l42 42 22 19 42 33 43 28 21 12 22 10 21 9 21 8 22 6 21 5 21 4 22 2 21 1 21-1 22-2 21-3 21-5 22-6 21-8 21-8 22-11 21-11 42-28 43-33 21-18 43-42 43-46 21-26 43-55 21-29 43-64-17-10-43 63-21 30-43 55-21 25-43 47-42 41-22 19-42 33-43 27-21 12-22 10-21 9-21 7-22 6-21 5-21 4-22 2-21 0-21-1-22-2-21-3-21-5-22-7-21-7-21-9-22-11-21-12-42-28-43-33-21-19-43-41z"/>
<path transform="translate(-366 -153)" d="M2600 852l42 42 22 19 42 33 43 28 21 12 22 10 21 9 21 8 22 6 21 5 21 4 22 2 21 1 21-1 22-2 21-3 21-5 22-6 21-7 21-9 22-11 21-11 42-28 43-33 21-18 43-41 43-47 21-26 43-55 21-29 43-64-17-9-21 32-43 61-43 55-21 25-43 47-42 41-22 19-42 33-43 27-21 12-22 10-21 9-21 7-22 6-21 5-21 3-22 2-21 1-21-1-22-2-21-3-21-5-22-7-21-7-21-10-22-10-21-12-42-28-43-33-43-39-21-21z"/>
<path transform="translate(-358 -150)" d="M2600 853l21 22 43 39 42 33 43 28 21 12 22 10 21 9 21 8 22 6 21 5 21 4 22 2 21 1 21-1 22-2 21-3 21-5 22-6 21-8 21-8 22-11 21-11 42-28 43-33 21-18 43-42 43-46 21-26 43-55 42-60 22-33-17-9-43 63-21 30-43 55-21 26-43 46-42 42-22 18-42 33-43 28-21 11-22 10-21 9-21 8-22 6-21 5-21 3-22 2-21 1-21-1-22-2-21-4-21-5-22-6-21-8-21-9-22-10-21-12-42-28-43-33-21-19-43-42z"/>
<path transform="translate(-349 -146)" d="M2600 854l42 41 22 19 42 34 43 27 21 12 22 11 21 9 21 7 22 7 21 5 21 3 22 2 21 1 21 0 22-2 21-4 21-4 22-7 21-7 21-9 22-10 21-12 42-27 43-33 21-19 43-41 43-47 21-25 43-55 21-30 43-63-17-9-43 64-21 29-43 55-21 26-43 47-42 41-22 18-42 33-43 28-21 11-22 11-21 9-21 7-22 6-21 5-21 3-22 2-21 1-21-1-22-2-21-4-21-5-22-6-21-8-21-9-22-10-21-12-42-28-43-33-21-19-43-42z"/>
<path transform="translate(-341 -143)" d="M2600 854l42 42 22 18 42 34 43 28 21 11 22 11 21 9 21 8 22 6 21 5 21 3 22 3 21 0 21 0 22-2 21-4 21-4 22-6 21-8 21-9 22-10 21-12 42-27 43-33 21-19 22-20 42-44 43-49 21-27 43-58 43-63-17-8-21 33-43 60-43 55-21 26-43 46-42 42-22 18-42 33-43 28-21 11-22 11-21 8-21 8-22 6-21 5-21 3-22 2-21 1-21-1-22-2-21-4-21-5-22-6-21-8-21-9-22-10-21-12-42-28-43-33-43-39-21-22z"/>
<path transform="translate(-332 -139)" d="M2600 854l42 41 22 19 42 34 43 27 21 12 22 11 21 9 21 7 22 7 21 5 21 3 22 2 21 1 21 0 22-2 21-4 21-4 22-7 21-7 21-9 22-10 21-12 42-27 43-33 21-19 43-41 43-47 21-25 43-55 21-30 43-63-17-7-43 63-21 30-43 55-21 25-43 47-42 41-22 19-42 33-43 27-21 12-22 10-21 9-21 7-22 7-21 4-21 4-22 2-21 0-21-1-22-2-21-3-21-5-22-7-21-7-21-9-22-11-21-12-42-28-43-33-21-19-43-41z"/>
<path transform="translate(-324 -136)" d="M2600 853l21 22 43 39 42 33 43 28 21 12 22 10 21 9 21 8 22 6 21 5 21 4 22 2 21 1 21-1 22-2 21-3 21-5 22-6 21-8 21-8 22-11 21-11 42-28 43-33 21-18 43-42 43-46 21-26 43-55 42-60 22-33-17-6-43 63-42 58-22 27-42 49-43 44-21 20-22 19-42 33-43 27-21 12-22 10-21 9-21 8-22 6-21 4-21 4-22 2-21 0-21 0-22-3-21-3-21-5-22-6-21-8-21-9-22-11-21-12-42-27-43-34-21-18-43-42z"/>
<path transform="translate(-315 -132)" d="M2600 852l42 42 22 19 42 33 43 28 21 12 22 10 21 9 21 8 22 6 21 5 21 4 22 2 21 1 21-1 22-2 21-3 21-5 22-6 21-7 21-9 22-11 21-11 42-28 43-33 21-18 43-41 43-47 21-26 43-55 21-29 43-64-17-5-43 63-21 30-43 55-21 25-43 47-42 41-22 19-42 33-43 27-21 12-22 10-21 9-21 7-22 7-21 4-21 4-22 2-21 0-21-1-22-2-21-3-21-5-22-7-21-7-21-9-22-11-21-12-42-28-43-33-21-19-43-41z"/>
<path transform="translate(-307 -129)" d="M2600 851l42 42 22 19 42 33 43 28 21 12 22 10 21 9 21 8 22 6 21 5 21 4 22 2 21 1 21-1 22-2 21-3 21-5 22-6 21-8 21-8 22-11 21-11 42-28 43-33 21-18 43-42 43-46 21-26 43-55 21-29 43-64-17-5-21 33-43 60-43 55-21 26-43 46-42 42-22 18-42 33-43 28-21 11-22 11-21 8-21 8-22 6-21 5-21 3-22 2-21 1-21-1-22-2-21-4-21-5-22-6-21-8-21-9-22-10-21-12-42-28-43-33-43-39-21-22z"/>
<path transform="translate(-299 -125)" d="M2600 850l21 21 43 39 42 33 43 28 21 12 22 11 21 9 21 7 22 7 21 5 21 3 22 2 21 1 21 0 22-2 21-4 21-5 22-6 21-7 21-9 22-10 21-12 42-27 43-33 21-19 43-41 43-47 21-25 43-55 42-61 22-32-17-5-43 64-21 29-43 55-21 26-43 47-42 41-22 18-42 33-43 28-21 11-22 11-21 9-21 7-22 6-21 5-21 3-22 2-21 1-21-1-22-2-21-4-21-5-22-6-21-8-21-9-22-10-21-12-42-28-43-33-21-19-43-42z"/>
<path transform="translate(-290 -122)" d="M2600 848l42 41 22 19 42 33 43 28 21 12 22 11 21 9 21 7 22 7 21 5 21 3 22 2 21 1 21 0 22-2 21-4 21-4 22-7 21-7 21-9 22-10 21-12 42-27 43-33 21-19 43-41 43-47 21-25 43-55 21-30 43-63-17-4-43 63-21 30-43 55-21 26-43 46-42 42-22 18-42 33-43 28-21 11-22 10-21 9-21 8-22 6-21 5-21 3-22 2-21 1-21-1-22-2-21-4-21-5-22-6-21-8-21-9-22-10-21-12-42-28-43-33-21-19-43-42z"/>
<path transform="translate(-282 -118)" d="M2600 845l42 42 22 19 42 33 43 28 21 12 22 10 21 9 21 8 22 6 21 5 21 4 22 2 21 1 21-1 22-2 21-3 21-5 22-6 21-7 21-9 22-10 21-12 42-28 43-32 21-19 43-41 43-47 21-26 21-26 43-58 43-64-17-2-21 32-43 61-43 55-21 25-43 47-42 41-22 19-42 33-43 27-21 12-22 10-21 9-21 7-22 6-21 5-21 3-22 2-21 1-21-1-22-2-21-3-21-5-22-7-21-7-21-10-22-10-21-12-42-28-43-33-43-39-21-21z"/>
<path transform="translate(-273 -115)" d="M2600 843l42 42 22 18 42 34 43 27 21 12 22 11 21 9 21 8 22 6 21 5 21 3 22 3 21 0 21 0 22-2 21-4 21-4 22-6 21-8 21-9 22-10 21-12 42-27 43-33 21-19 22-20 42-44 43-49 21-27 43-58 43-63-17-2-43 63-21 30-43 55-21 25-43 47-42 41-22 19-42 33-43 27-21 12-22 10-21 9-21 7-22 6-21 5-21 4-22 2-21 0-21-1-22-2-21-3-21-5-22-7-21-7-21-9-22-11-21-12-42-28-43-33-21-19-43-41z"/>
<path transform="translate(-265 -111)" d="M2600 840l42 42 22 18 42 34 43 28 21 11 22 11 21 9 21 8 22 6 21 5 21 3 22 3 21 0 21 0 22-2 21-3 21-5 22-6 21-8 21-9 22-10 21-12 42-27 43-33 21-19 43-41 43-47 21-25 21-27 43-58 43-63-17-2-43 64-42 58-22 26-21 26-43 47-42 41-22 18-42 33-43 28-21 11-22 11-21 9-21 7-22 6-21 5-21 3-22 2-21 1-21-1-22-2-21-4-21-5-22-6-21-8-21-9-22-10-21-12-42-28-43-33-21-19-43-42z"/>
<path transform="translate(-257 -108)" d="M2600 837l42 41 22 19 42 33 43 28 21 12 22 11 21 9 21 7 22 7 21 5 21 3 22 2 21 1 21 0 22-2 21-4 21-5 22-6 21-7 21-9 22-10 21-12 42-27 43-33 21-19 43-41 43-47 21-25 43-55 21-30 43-63-17-1-43 63-42 58-22 27-42 49-43 44-21 20-22 19-42 33-43 27-21 12-22 10-21 9-21 8-22 6-21 4-21 4-22 2-21 0-21 0-22-3-21-3-21-5-22-6-21-8-21-9-22-11-21-12-42-27-43-34-21-19-43-41z"/>
<path transform="translate(-248 -104)" d="M2600 833l42 42 22 18 42 34 43 28 21 11 22 11 21 9 21 8 22 6 21 5 21 4 22 2 21 1 21-1 22-2 21-3 21-5 22-6 21-8 21-9 22-10 21-12 42-27 43-33 21-18 43-42 43-46 21-26 21-27 43-58 43-63-17 0-43 63-42 58-22 27-21 25-43 47-42 41-22 19-42 33-43 27-21 12-22 10-21 9-21 8-22 6-21 4-21 4-22 2-21 0-21 0-22-3-21-3-21-5-22-6-21-8-21-9-22-11-21-12-42-27-43-34-21-18-43-42z"/>
<path transform="translate(-240 -100)" d="M2600 829l42 42 22 18 42 34 43 28 21 12 22 10 21 9 21 8 22 6 21 5 21 4 22 2 21 1 21-1 22-2 21-3 21-5 22-6 21-8 21-9 22-10 21-12 42-27 43-33 21-18 43-42 43-46 21-26 43-55 21-30 43-63-17 1-43 63-21 30-43 55-21 25-43 47-42 41-22 19-42 33-43 27-21 12-22 10-21 9-21 7-22 6-21 5-21 4-22 1-21 1-21-1-22-2-21-3-21-5-22-7-21-7-21-9-22-11-21-12-42-28-43-33-21-19-43-41z"/>
<path transform="translate(-231 -97)" d="M2600 825l42 41 22 19 42 34 43 27 21 12 22 11 21 9 21 7 22 7 21 5 21 3 22 2 21 1 21 0 22-2 21-4 21-4 22-7 21-7 21-9 22-10 21-12 42-27 43-33 21-19 43-41 43-47 21-25 43-55 21-30 43-63-17 1-43 63-42 58-22 27-21 25-43 47-42 41-22 19-42 33-43 27-21 12-22 10-21 9-21 8-22 6-21 5-21 3-22 2-21 0-21 0-22-3-21-3-21-5-22-6-21-8-21-9-22-11-21-11-42-28-43-34-21-18-43-42z"/>
<path transform="translate(-223 -93)" d="M2600 820l42 42 22 18 42 34 43 28 21 12 22 10 21 9 21 8 22 6 21 5 21 4 22 2 21 1 21-1 22-2 21-3 21-5 22-6 21-8 21-9 22-10 21-11 42-28 43-33 21-18 43-42 43-46 21-26 43-55 42-61 22-32-17 2-43 63-21 30-43 55-21 25-43 47-42 42-22 18-42 33-43 27-21 12-22 10-21 9-21 8-22 6-21 5-21 3-22 2-21 0-21 0-22-2-21-4-21-5-22-6-21-8-21-9-22-11-21-11-42-28-43-34-21-18-43-42z"/>
<path transform="translate(-215 -90)" d="M2600 815l42 42 22 18 42 34 43 28 21 12 22 10 21 9 21 8 22 6 21 5 21 4 22 2 21 1 21-1 22-2 21-3 21-5 22-6 21-8 21-9 22-10 21-11 42-28 43-33 21-18 43-42 43-46 21-26 43-55 21-30 43-63-17 3-43 63-21 30-43 55-21 25-43 47-42 41-22 19-42 33-43 27-21 12-22 10-21 9-21 7-22 7-21 4-21 4-22 2-21 0-21-1-22-2-21-3-21-5-22-7-21-7-21-9-22-11-21-12-42-28-43-33-21-19-43-41z"/>
<path transform="translate(-206 -86)" d="M2600 810l21 21 43 39 42 33 43 28 21 12 22 11 21 9 21 7 22 7 21 5 21 3 22 2 21 1 21 0 22-2 21-4 21-4 22-7 21-7 21-9 22-10 21-12 42-27 43-33 21-19 43-41 43-47 21-25 43-55 42-61 22-32-17 3-21 32-43 61-43 55-21 26-43 46-42 42-22 18-42 33-43 27-21 12-22 10-21 9-21 8-22 6-21 5-21 3-22 2-21 1-21-1-22-2-21-4-21-5-22-6-21-8-21-9-22-11-21-11-42-28-43-34-21-18-43-42z"/>
<path transform="translate(-198 -83)" d="M2600 804l42 42 22 18 42 34 43 28 21 11 22 11 21 9 21 8 22 6 21 5 21 4 22 2 21 0 21 0 22-2 21-3 21-5 22-6 21-8 21-9 22-10 21-12 42-27 43-33 21-18 43-42 43-47 21-25 43-55 21-30 43-63-17 4-43 63-21 30-43 55-21 25-43 47-42 42-22 18-42 33-43 27-21 12-22 10-21 9-21 8-22 6-21 5-21 3-22 2-21 0-21 0-22-2-21-4-21-5-22-6-21-8-21-9-22-11-21-11-42-28-43-34-21-18-43-42z"/>
<path transform="translate(-189 -79)" d="M2600 798l42 42 22 18 42 34 43 28 21 11 22 11 21 9 21 8 22 6 21 5 21 3 22 3 21 0 21 0 22-2 21-3 21-5 22-6 21-8 21-9 22-10 21-12 42-27 43-33 21-19 43-41 43-47 21-25 43-55 42-61 22-32-17 5-21 32-43 61-43 55-21 25-43 47-42 41-22 19-42 33-43 27-21 12-22 10-21 9-21 7-22 6-21 5-21 4-22 2-21 0-21-1-22-2-21-3-21-5-22-7-21-7-21-9-22-11-21-12-42-28-43-33-43-39-21-21z"/>
<path transform="translate(-181 -76)" d="M2600 792l42 41 22 19 42 33 43 28 21 12 22 10 21 10 21 7 22 7 21 5 21 3 22 2 21 1 21-1 22-2 21-3 21-5 22-6 21-7 21-9 22-10 21-12 42-27 43-33 21-19 43-41 43-47 21-25 21-27 43-58 43-63-17 5-43 63-21 30-43 55-21 25-43 47-42 41-22 19-42 33-43 27-21 12-22 10-21 9-21 8-22 6-21 5-21 3-22 2-21 0-21 0-22-3-21-3-21-5-22-6-21-8-21-9-22-11-21-11-42-28-43-34-21-18-43-42z"/>
<path transform="translate(-172 -72)" d="M2600 785l42 41 22 19 42 34 43 27 21 12 22 11 21 9 21 8 22 6 21 5 21 3 22 3 21 0 21 0 22-2 21-4 21-4 22-6 21-8 21-9 22-10 21-12 42-27 43-33 21-19 43-41 43-47 21-25 43-55 21-30 43-63-17 6-21 32-43 61-43 55-21 25-43 47-42 41-22 19-42 33-43 27-21 12-22 10-21 9-21 8-22 6-21 4-21 4-22 2-21 0-21 0-22-3-21-3-21-5-22-6-21-8-21-9-22-11-21-11-42-28-43-34-21-18-43-42z"/>
<path transform="translate(-164 -69)" d="M2600 778l42 41 22 19 42 34 43 27 21 12 22 11 21 9 21 7 22 7 21 5 21 3 22 2 21 1 21 0 22-2 21-4 21-4 22-7 21-7 21-9 22-10 21-12 42-27 43-33 21-19 43-41 43-47 21-25 43-55 42-61 22-32-17 7-43 63-42 58-22 27-21 25-43 47-42 41-22 19-42 33-43 27-21 12-22 10-21 9-21 7-22 6-21 5-21 3-22 2-21 1-21-1-22-2-21-4-21-4-22-7-21-7-21-10-22-10-21-12-42-28-43-33-21-19-43-41z"/>
<path transform="translate(-156 -65)" d="M2600 770l42 42 22 19 42 33 22 15 42 25 22 10 21 9 21 8 22 6 21 5 21 4 22 2 21 1 21-1 22-2 21-3 21-5 22-6 21-7 21-9 22-11 21-11 42-28 43-33 21-18 43-41 43-47 21-26 43-55 21-29 43-64-17 8-43 63-21 30-43 55-21 25-43 47-42 41-22 19-42 33-43 27-21 12-22 10-21 9-21 8-22 6-21 4-21 4-22 2-21 0-21-1-22-2-21-3-21-5-22-7-21-7-21-9-22-11-21-12-42-27-43-34-21-19-43-41z"/>
<path transform="translate(-147 -62)" d="M2600 763l42 41 22 19 42 33 43 28 21 12 22 10 21 10 21 7 22 7 21 5 21 3 22 2 21 1 21-1 22-2 21-3 21-5 22-6 21-7 21-9 22-10 21-12 42-27 43-33 21-19 43-41 43-47 21-25 43-55 21-30 43-63-17 8-21 32-43 61-43 55-21 25-43 47-42 41-22 19-42 33-43 27-21 12-22 10-21 9-21 7-22 7-21 4-21 4-22 2-21 0-21-1-22-2-21-3-21-5-22-7-21-7-21-9-22-11-21-12-42-28-43-33-21-19-43-41z"/>
<path transform="translate(-139 -58)" d="M2600 754l21 22 43 39 42 33 43 28 21 12 22 10 21 9 21 8 22 6 21 5 21 4 22 2 21 1 21-1 22-2 21-3 21-5 22-6 21-7 21-9 22-10 21-12 42-28 43-33 21-18 43-41 43-47 21-26 43-55 21-29 43-64-17 9-43 64-21 29-43 55-21 26-43 47-42 41-22 18-42 33-43 28-21 11-22 11-21 9-21 7-22 6-21 5-21 3-22 2-21 1-21-1-22-2-21-4-21-5-22-6-21-8-21-9-22-10-42-25-21-15-43-33-21-19-43-42z"/>
<path transform="translate(-130 -55)" d="M2600 746l42 42 22 18 42 34 43 28 21 11 22 11 21 9 21 8 22 6 21 5 21 3 22 3 21 0 21 0 22-2 21-3 21-5 22-6 21-8 21-9 22-10 21-12 42-27 43-33 21-19 22-19 42-44 43-50 43-55 21-30 43-63-17 10-43 63-21 29-43 56-21 25-43 47-42 41-22 19-42 33-43 27-21 12-22 10-21 9-21 7-22 6-21 5-21 3-22 2-21 1-21-1-22-2-21-4-21-4-22-7-21-7-21-10-22-10-21-12-42-28-43-33-21-19-43-41z"/>
<path transform="translate(-122 -51)" d="M2600 737l42 42 22 19 42 33 43 28 21 12 22 10 21 9 21 8 22 6 21 5 21 4 22 2 21 1 21-1 22-2 21-3 21-5 22-6 21-8 21-8 22-11 21-11 42-28 43-33 21-18 43-42 43-46 21-26 43-55 21-29 43-64-17 10-43 64-21 29-43 55-21 26-43 47-42 41-22 18-42 33-43 28-21 11-22 11-21 9-21 7-22 6-21 5-21 3-22 2-21 1-21-1-22-2-21-4-21-5-22-6-21-8-21-9-22-10-21-12-42-28-43-33-43-39-21-22z"/>
<path transform="translate(-114 -48)" d="M2600 728l42 42 22 18 42 34 43 28 21 11 22 11 21 9 21 8 22 6 21 5 21 4 22 2 21 0 21 0 22-2 21-3 21-5 22-6 21-8 21-9 22-10 21-12 42-27 43-33 21-18 43-42 43-47 21-25 43-55 21-30 43-63-17 11-43 63-21 30-43 55-42 49-43 44-21 20-22 19-42 33-43 27-21 12-22 10-21 9-21 8-22 6-21 4-21 4-22 2-21 0-21 0-22-3-21-3-21-5-22-6-21-8-21-9-22-11-21-11-42-28-43-34-21-18-43-42z"/>
<path transform="translate(-105 -44)" d="M2600 719l42 41 22 19 42 33 22 15 42 25 22 10 21 10 21 7 22 7 21 4 21 4 22 2 21 1 21-1 22-2 21-3 21-5 22-6 21-7 21-9 22-10 21-12 42-27 43-33 21-19 43-41 43-47 21-25 43-56 21-29 43-63-17 11-43 63-21 30-43 55-21 26-43 46-42 42-22 18-42 33-43 28-21 11-22 10-21 9-21 8-22 6-21 5-21 3-22 2-21 1-21-1-22-2-21-4-21-5-22-6-21-8-21-9-22-10-21-12-42-28-43-33-21-19-43-42z"/>
<path transform="translate(-97 -41)" d="M2600 709l21 21 43 39 42 33 43 28 21 12 22 11 21 9 21 7 22 7 21 5 21 3 22 2 21 1 21 0 22-2 21-4 21-4 22-7 21-7 21-9 22-10 21-12 42-27 43-33 21-19 43-41 43-47 21-25 43-55 21-30 43-63-17 12-43 63-21 30-43 55-21 25-43 47-42 41-22 19-42 33-43 27-21 12-22 10-21 9-21 8-22 6-21 5-21 3-22 2-21 0-21 0-22-3-21-3-21-5-22-6-21-8-21-9-22-11-21-11-42-28-43-34-21-18-43-42z"/>
<path transform="translate(-88 -37)" d="M2600 698l42 42 22 19 42 33 43 28 21 12 22 10 21 9 21 8 22 7 21 4 21 4 22 2 21 1 21-1 22-2 21-3 21-5 22-6 21-7 21-9 22-10 21-12 42-28 43-32 21-19 22-20 42-44 43-49 43-56 42-60 22-33-17 13-43 64-21 29-43 55-21 26-43 47-42 41-22 19-42 32-43 28-21 12-22 10-21 9-21 7-22 6-21 5-21 3-22 2-21 1-21-1-22-2-21-4-21-5-22-6-21-8-21-9-22-10-42-25-21-15-43-33-21-19-43-42z"/>
<path transform="translate(-80 -33)" d="M2600 688l21 21 43 39 42 34 43 28 21 11 22 11 21 9 21 8 22 6 21 5 21 3 22 3 21 0 21 0 22-2 21-3 21-5 22-6 21-8 21-9 22-10 21-12 42-27 43-33 21-19 43-41 43-47 21-25 43-55 21-30 43-63-17 14-43 63-21 30-43 55-21 25-43 47-42 41-22 19-42 33-43 27-21 12-22 10-21 9-21 7-22 6-21 5-21 4-22 2-21 0-21-1-22-2-21-3-21-5-22-7-21-7-21-9-22-11-21-12-42-28-43-33-43-39-21-21z"/>
<path transform="translate(-72 -30)" d="M2600 677l42 42 22 18 42 34 22 14 42 26 22 10 21 9 21 8 22 6 21 5 21 4 22 2 21 1 21-1 22-2 21-3 21-5 22-6 21-8 21-9 22-10 21-11 42-28 43-33 21-18 43-42 43-46 21-26 43-55 42-61 22-32-17 14-21 33-43 60-43 55-42 50-43 44-21 20-22 18-42 33-43 28-21 12-22 10-21 9-21 7-22 6-21 5-21 3-22 2-21 1-21-1-22-2-21-4-21-5-22-6-21-8-21-9-22-10-21-12-42-28-43-33-21-19-43-42z"/>
<path transform="translate(-63 -26)" d="M2600 666l42 41 22 19 42 34 22 14 42 25 22 11 21 9 21 8 22 6 21 5 21 3 22 3 21 0 21 0 22-2 21-4 21-4 22-6 21-8 21-9 22-10 21-12 42-27 43-33 21-19 43-41 43-47 21-25 43-55 21-30 43-63-17 15-43 63-21 30-43 55-21 25-43 47-42 41-22 19-42 33-43 27-21 12-22 10-21 9-21 8-22 6-21 4-21 4-22 2-21 0-21 0-22-3-21-3-21-5-22-6-21-8-21-9-22-11-21-11-42-28-43-34-43-39-21-21z"/>
<path transform="translate(-55 -23)" d="M2600 654l42 42 22 19 42 33 43 28 21 12 22 10 21 9 21 8 22 6 21 5 21 4 22 2 21 1 21-1 22-2 21-3 21-5 22-6 21-8 21-8 22-11 21-11 42-28 43-33 21-18 43-41 43-47 21-26 43-55 21-29 43-64-17 16-21 32-43 61-43 55-21 25-43 47-42 42-22 18-42 33-43 27-21 12-22 10-21 9-21 8-22 6-21 5-21 3-22 2-21 0-21 0-22-2-21-4-21-5-22-6-21-8-21-9-22-11-42-25-21-14-43-34-21-18-43-42z"/>
<path transform="translate(-46 -19)" d="M2600 642l21 22 43 39 42 33 43 28 21 12 22 10 21 9 21 8 22 6 21 5 21 4 22 2 21 1 21-1 22-2 21-3 21-5 22-6 21-7 21-9 22-11 21-11 42-28 43-33 21-18 43-41 43-47 21-26 43-55 21-29 43-64-17 17-43 63-21 30-43 55-21 25-43 47-42 41-22 19-42 33-43 27-21 12-22 10-21 9-21 8-22 6-21 4-21 4-22 2-21 0-21-1-22-2-21-3-21-5-22-7-21-7-21-9-22-11-42-25-21-14-43-34-21-19-43-41z"/>
<path transform="translate(-38 -16)" d="M2600 630l42 42 22 18 42 34 22 14 42 26 22 10 21 9 21 8 22 6 21 5 21 4 22 2 21 1 21-1 22-2 21-3 21-5 22-6 21-8 21-9 22-10 21-11 42-28 22-16 42-35 43-42 43-46 21-26 43-55 21-30 43-63-17 17-43 64-21 29-43 55-21 26-43 46-42 42-22 18-42 33-43 28-21 11-22 11-21 8-21 8-22 6-21 5-21 3-22 2-21 1-21-1-22-2-21-4-21-5-22-6-21-8-21-9-22-10-21-12-42-28-43-33-21-19-43-42z"/>
<path transform="translate(-29 -12)" d="M2600 617l42 42 22 19 42 33 43 28 21 12 22 10 21 9 21 8 22 7 21 4 21 4 22 2 21 1 21-1 22-2 21-3 21-5 22-6 21-7 21-9 22-10 21-12 42-28 43-32 21-19 43-41 43-47 21-26 43-55 21-29 43-64-17 18-43 64-21 29-43 55-21 26-43 47-42 41-22 18-42 33-43 28-21 11-22 11-21 9-21 7-22 6-21 5-21 3-22 2-21 1-21-1-22-2-21-4-21-5-22-6-21-8-21-9-22-10-21-12-42-28-43-33-43-39-21-22z"/>
<path transform="translate(-21 -9)" d="M2600 605l42 41 22 19 42 33 22 15 42 25 22 10 21 10 21 7 22 7 21 4 21 4 22 2 21 1 21-1 22-2 21-3 21-5 22-6 21-7 21-9 22-10 21-12 42-27 43-33 21-19 43-41 43-47 21-25 43-56 21-29 43-63-17 18-43 63-21 30-43 55-21 26-43 46-42 42-43 35-21 16-43 27-21 12-22 10-21 9-21 8-22 6-21 5-21 3-22 2-21 1-21-1-22-2-21-4-21-5-22-6-21-8-21-9-22-11-42-25-21-14-43-34-21-18-43-42z"/>
<path transform="translate(-13 -5)" d="M2600 591l21 22 43 39 42 33 22 15 42 25 22 10 21 9 21 8 22 6 21 5 21 4 22 2 21 1 21-1 22-2 21-3 21-5 22-6 21-8 21-8 22-11 21-11 42-28 22-16 42-35 43-42 43-46 21-26 43-55 42-60 22-33-17 19-43 64-21 29-43 55-21 26-43 47-42 41-22 18-42 33-43 28-21 12-22 10-21 9-21 7-22 6-21 5-21 3-22 2-21 1-21-1-22-2-21-4-21-5-22-6-21-8-21-9-22-10-21-12-42-28-43-33-21-19-43-42z"/>
<path transform="translate(-4 -2)" d="M2600 578l42 41 22 19 42 33 43 28 21 12 22 11 21 9 21 7 22 7 21 5 21 3 22 2 21 1 21-1 22-1 21-4 21-5 22-6 21-7 21-9 22-10 21-12 42-27 43-33 21-19 43-41 43-47 21-25 43-55 42-61 22-32-17 19-43 64-21 29-43 55-21 26-43 47-42 41-22 19-42 32-43 28-21 12-22 10-21 9-21 7-22 6-21 5-21 3-22 2-21 1-21-1-22-2-21-4-21-5-22-6-21-8-21-9-22-10-42-25-21-15-43-33-21-19-43-42z"/>
</g></g>
<path d="M521.1 225.2l2.8 1.2M604.4 204l2.8 1.2M687.7 182.8l2.8 1.2M517.5 225l-2.9 0.7M451.8 197.5l-2.9 0.7M386.1 170l-2.9 0.7M384.5 169.3l-2.9 0.7M384.5 127.1l-2.9 0.7M384.5 85l-2.9 0.7M384.5 42.8l-2.9 0.7" fill="none" stroke="#3c3c3c" stroke-width=".9"/>
<path d="M519.1 225.7L689.7 182.3M519.1 225.7L384.5 169.3" fill="none" stroke="#3c3c3c" stroke-width="1" stroke-dasharray="2.4 1.4"/>
<path d="M384.5 169.3L384.5 42.8" fill="none" stroke="#3c3c3c" stroke-width="1"/>
<g font-size="12.5"><text x="526.3" y="239.6">-5</text><text x="609.6" y="218.4">0</text><text x="692.9" y="197.2">5</text><g text-anchor="end"><text x="510.8" y="238.5">-5</text><text x="445.1" y="211">0</text><text x="379.4" y="183.5">5</text><text x="378" y="172.3">0</text><text x="378" y="130.1">20</text><text x="378" y="88">40</text><text x="378" y="45.8">60</text></g></g></g>
<g clip-path="url(#cc)"><path d="M165.9 483.7L35.5 426.9M35.5 426.9L35.5 302.7M250.8 462.1L120.3 405.3M120.3 405.3L120.3 281.1M335.6 440.6L205.2 383.8M205.2 383.8L205.2 259.6M165.9 483.7L335.6 440.6M335.6 440.6L335.6 316.4M100.7 455.3L270.4 412.2M270.4 412.2L270.4 288M35.5 426.9L205.2 383.8M205.2 383.8L205.2 259.6M35.5 426.9L205.2 383.8M205.2 383.8L335.6 440.6M35.5 385.5L205.2 342.4M205.2 342.4L335.6 399.2M35.5 344.1L205.2 301M205.2 301L335.6 357.8M35.5 302.7L205.2 259.6M205.2 259.6L335.6 316.4M35.5 426.9L205.2 383.8M335.6 440.6L205.2 383.8" fill="none" stroke="#ccd6d9" stroke-width=".65"/>
<g transform="scale(.2)"><g fill="none" stroke-width="3">
<path stroke="#1f3dff" d="M977 2184l-20 1-21-2-18-3-14-4-11-4-9-6-6-6-1-9 7-7 9-2 5-2 20-1 32 3 29 8 10 4 8 6 5 6-1 9-9 6zM1227 2118l-25-2-17-4-15-3-11-5-9-5-5-6-2-8 1-3 9-7 5-1 9-2 21-1 30 4 28 7 10 5 8 5 4 7 0 7-8 7-13 3zM1533 2036l-6 8-13 4-18 1-27-1-17-4-14-3-12-5-8-5-6-6-1-3 0-5 2-4 9-5 16-3 22-1M611 2220l7-7 12-4 19-2 33 3 30 8 10 4 7 6 5 6-2 9-9 6-16 3-22 0M703 2055l-15 3-21 1-28-3-16-3-13-4-10-5-8-6-4-6 0-8 7-6 14-4 22-1 23 2 17 3 14 4 12 5 8 5 6 6 1 7-1 4zM957 1990l-20 1-27-2-20-4-14-4-10-5-7-6-5-6 1-8 9-6 14-4 20-1 31 4 23 5 11 5 9 5 6 6 1 7-1 3-7 7zM1244 1911l-6 7-13 4-19 1-33-3-29-7-11-5-7-6-5-6 2-9 10-5 16-3 22 0M322 2094l6-7 13-4 19-2 26 2 17 3 15 4 11 4 9 6 5 6 1 2 0 5-1 4-10 6-15 3-22 0"/>
<path stroke="#2c8cff" d="M983 2197l-24-1-31-3-34-7-13-4-12-4-9-6-6-6-6-9-1-10 4-8 8-6 14-4 19-1 24 0 41 5 25 4 20 7 11 5 8 5 6 6 4 9 0 10-4 7-10 6-14 3zM1253 2129l-24-1-35-3-30-6-17-4-11-5-9-5-7-6-6-11-1-10 5-8 10-5 14-4 20-1 24 1 38 4 32 7 13 4 10 5 8 5 6 6 4 7 1 11-4 8-9 6-13 3zM1561 2048l-8 7-13 4-18 2-23-1-28-2-27-4-30-7-11-5-9-5-6-5-5-7-3-7 1-9 6-7 10-5 15-3 21-1M584 2208l8-6 13-4 18-2 23 0 44 5 19 3 26 8 11 4 8 6 6 6 4 10 0 9-6 8-10 5-16 3-20 1M713 2069l-19 2-25-1-37-5-33-6-12-5-11-4-8-6-6-6-4-6-1-11 4-8 9-6 14-4 19-1 23 0 35 4 31 5 17 5 11 5 9 5 7 6 4 6 2 7 0 8-5 7-9 6zM982 2001l-18 2-25-1-41-4-32-7-13-4-10-5-8-5-6-6-4-7-1-12 5-8 9-5 15-4 20-1 24 1 31 3 33 6 14 4 11 5 9 5 7 6 4 6 3 7 0 7-4 8-9 6zM1271 1922l-8 7-13 4-18 2-22 0-45-5-19-4-26-7-10-5-8-5-6-6-5-10 1-10 5-7 11-5 15-3 20-1M295 2082l8-6 13-4 18-2 23 0 27 2 28 4 29 8 12 4 9 6 6 5 5 7 2 7-1 8-5 8-10 5-16 3-20 1"/>
<path stroke="#5efebd" d="M1027 2206l-20 1-24-1-38-3-57-8-31-7-11-5-9-5-6-6-4-6-4-10-2-10 1-10 4-8 8-6 14-4 19-1 51 3 43 4 36 6 29 8 10 5 8 5 5 6 6 14 2 12-2 9-4 8-9 6zM1297 2138l-20 1-24 0-41-4-58-7-30-8-12-4-8-6-7-5-4-7-4-11-1-11 1-9 5-8 8-5 15-4 20-1 49 3 41 5 36 5 29 8 10 5 8 6 5 6 7 13 1 11-1 9-4 8-8 6zM1585 2059l-8 6-13 5-18 1-23 0-55-5-47-6-30-8-11-4-9-5-6-6-5-7-4-14-1-8 2-9 5-8 10-5 15-3 21-1M560 2198l7-7 13-4 19-2 23 0 52 5 38 5 33 7 13 4 11 5 8 5 5 6 4 7 3 10 1 10-2 9-6 7-10 6-15 3-21 0M718 2081l-49-3-41-4-36-6-28-8-11-5-8-5-5-6-6-14-2-10 1-10 4-8 8-6 14-4 19-1 51 3 35 3 38 6 30 7 11 5 9 5 6 6 4 6 4 12 2 10-2 9-4 8-9 6-15 3zM988 2014l-51-3-42-5-37-6-28-7-10-5-8-6-6-6-3-6-3-9-1-11 1-9 5-7 9-6 14-4 20-1 25 1 58 6 37 5 30 7 11 5 9 5 6 6 5 7 3 9 2 11-1 9-4 8-8 6-13 4zM1296 1933l-8 6-12 5-19 1-23 0-52-4-39-5-33-7-13-4-10-5-8-6-6-6-3-6-3-10-1-10 2-9 5-8 10-5 16-3 20-1M271 2072l7-7 13-4 18-2 24 1 55 4 46 7 30 7 12 5 8 5 7 6 4 6 5 14 0 9-2 9-5 7-9 6-16 3-21 0"/>
<path stroke="#98ff6f" d="M820 2311l0-9-2-2 8-6 17 3 12 0 32 3M1087 2250l-3-9 1-6-6-6-12-4-205-22-28-3-20 1-2 6-2 2 1 6-1 4 6 51-1 4 2 6-1 9 6 3-12-2-13 1-30-3M1353 2182l-1-7-2-4 1-4-4-6-12-4-201-22-28-2-22 0-4 6-2 1 0 7-1 3 6 51 0 5 2 6-1 1 2 7 9 5 18 3 42 4M1621 2114l-1-7-2-4 3-4-3-6 20-1 31 3M1615 2072l-1 6 3 5-7 4 4 4-9-3-201-20-53-4-8 7 1 1-1 8 6 58 2 4-1 3 3 7 10 5 16 3 42 5M785 2191l9 1 3-4 4-2-1-6 2-4-7-55-3-7-1-7-7-5-14-4-40-5-185-19-21 1 1 3-5 5 1 3 0 7 4 45 2 14 3 3-2 4 6 6 16 4 62 6 158 16zM1055 2123l6 0 0-2 6-5-1-3 2-6-5-46-3-14-2-3 0-4-7-6-15-4-40-5-180-18-21 0-1 2-6 5 1 4-1 6 1 10 5 43 2 7 2 3 0 4 7 6 14 3 20 3 114 12 86 9zM1319 2056l13 0-1-3 4-5-1-4 1-6-5-45-2-14-2-4 1-4-6-6-15-3-220-23-16 0-9-1-2 4-5 3 1 5-1 4 6 55 3 8 1 6 8 6 14 4 60 7 137 14 28 2zM528 2184l1-3-2-6-5-4 2-3-11-1-8-2-26-3M1327 1947l-1 2 3 7 4 3-2 4 12 0 7 2 27 3M240 2058l1-6-3-4 7-4-3-5 8 3 202 21 53 3 7-6-1-1 1-9-6-58-2-4 1-3-3-7-9-5-17-3-41-4M235 2016l0 8 2 4-2 3 3 7-21 0-30-3M503 1948l0 8 2 3-1 4 5 6 12 5 201 21 27 2 23 0 3-5 3-2-1-6 1-3-6-52 1-4-2-6 0-1-2-7-9-5-17-4-42-4M769 1881l2 9 0 5 5 6 12 5 205 22 28 2 21 0 2-7 2-1-1-6 1-4-6-51 1-4-2-7 1-8-6-4 11 3 14-2 30 4M1035 1820l0 8 2 2-7 7-18-3-11 0-32-4"/>
<path stroke="#fdfb20" d="M1062 2256l-5-6-6-6-9-5-11-5-30-7-38-6-46-5-25-1-22 1-16 2-10 6-6 7-3 9 2 13 6 14 5 6 8 5 11 5 13 4 32 7M1328 2188l-5-6-6-6-9-5-11-5-30-7-37-6-42-4-48-1-17 2-11 5-6 7-3 9 1 14 6 14 6 6 8 5 10 5 28 8 18 3M1595 2121l-4-7-7-6-8-5-12-5-30-7-37-5-39-4-49-2-17 2-13 4-7 7-3 9 0 9 1 7 7 13 5 6 8 6 10 5 13 4 33 6M726 2176l10 1 17-2 12-5 7-7 3-8 0-13-6-14-5-6-7-6-9-5-27-8-35-6-41-5-43-3-21 1-16 2-11 6-6 7-2 9 1 10 5 14 5 6 8 6 9 5 27 8 35 6 51 6zM993 2109l12-1 17-2 11-5 6-7 3-8 0-5-1-7-2-7-3-7-5-6-8-6-9-5-27-8-35-6-40-5-39-2-22 0-17 2-11 5-7 7-2 9 0 4 0 8 2 7 4 6 5 6 7 6 9 5 27 8 35 6 54 6zM1259 2041l16 0 16-3 10-5 6-7 2-9 0-10-6-15-5-6-7-5-10-6-12-4-31-7-41-6-55-4-22 0-18 2-12 4-7 7-3 9 0 6 3 14 3 7 5 6 7 5 10 6 27 8 35 6 58 6zM260 2010l5 6 6 6 9 5 11 5 30 7 38 6 39 4 48 2 18-2 12-5 7-7 3-8 1-10-2-6-6-14-6-6-7-5-11-5-13-4-32-7M528 1942l4 6 7 6 8 6 12 4 30 8 37 5 42 4 47 1 17-2 12-5 6-7 3-8-1-15-7-13-5-6-8-6-10-5-29-7-17-4M794 1874l4 7 7 6 8 5 12 5 30 7 37 5 47 5 25 1 21 0 16-3 11-5 6-7 2-9-1-14-6-13-6-6-8-6-10-5-13-4-33-6"/>
<path stroke="#ff341f" d="M1039 2262l-4-7-7-5-9-6-11-4-30-8-37-5-25-1-21 0-16 3-11 5-6 7-1 10 1 3 5 9 12 9 11 5 27 8 18 3M1305 2194l-4-6-7-6-9-5-11-5-28-7-33-5-27-2-21 1-17 2-12 5-6 7-2 9 1 4 4 8 5 5 8 6 11 4 28 8 17 3M1573 2126l-5-6-6-6-9-5-12-5-23-6-35-5-27-3-23 1-17 2-12 4-8 7-2 8 1 7 4 6 6 6 8 6 10 5 13 4 32 7M708 2166l21-2 12-5 7-6 3-9-4-10-5-7-7-5-10-5-12-5-31-7-30-4-25-1-22 0-15 3-11 5-6 7-1 10 3 7 5 7 7 5 10 5 26 9 17 3 41 4zM976 2098l21-3 11-4 7-7 2-9-4-9-5-6-7-6-10-5-26-8-17-3-24-4-27-2-22 1-16 2-12 5-7 7-1 9 3 9 5 6 8 5 9 5 27 9 16 3 41 5zM1242 2030l24-3 11-5 6-7 1-9-3-8-5-6-8-6-9-5-27-8-17-3-21-3-27-2-23 0-17 2-12 4-8 7-2 8 3 11 5 6 8 6 10 5 12 4 30 7 30 4zM283 2004l4 7 7 5 9 6 11 4 24 6 35 6 27 2 22 0 17-2 13-5 7-6 3-9-2-6-3-7-6-6-8-5-11-5-12-4-33-7M550 1936l4 7 7 6 9 5 11 4 28 8 34 4 26 2 22 0 17-3 11-4 7-7 2-9-2-5-3-7-6-6-8-5-10-5-28-8-18-3M816 1869l5 6 6 6 9 5 12 5 29 7 37 5 26 2 21-1 16-3 11-5 6-7 1-9-1-4-6-9-12-9-10-5-28-8-17-3"/>
<path stroke="#b31f1f" d="M1010 2269l1-2-2-5-5-6-8-6-13-5-13-3-26-4-24 0-16 2-10 6-3 8 5 7 7 5 10 5 14 4 16 4 21 2M1276 2202l1-4-2-4-5-6-8-5-12-5-14-4-21-3-24-1-18 2-11 5-3 8 4 8 7 6 10 4 14 4 16 4 22 2M1543 2134l1-5-1-3-6-6-8-5-11-5-33-7-25-1-18 2-12 4-5 8 0 3 4 6 6 5 12 6 13 4 17 3 20 2M701 2153l14-5 5-8-3-6-6-6-9-5-13-5-34-6-23 0-17 2-10 6-2 5 0 4 2 3 7 6 9 5 12 5 16 3 19 3 17 0zM971 2084l11-5 3-8-2-5-6-6-10-5-12-4-28-6-25-1-18 2-10 5-3 6-1 3 3 4 6 6 9 5 12 5 16 3 20 3 18 0zM1237 2017l3-1 10-5 2-6 0-3-2-4-6-6-9-5-13-4-25-5-26-2-21 3-9 3-5 8 3 7 6 6 9 5 12 4 35 6 23 1zM312 1997l0 5 1 2 5 6 8 6 12 4 32 7 26 2 18-2 12-5 5-7-1-3-4-7-6-5-11-5-13-4-17-4-21-2M580 1929l-1 4 1 3 5 6 9 6 11 4 15 4 20 4 25 1 17-3 11-5 4-8-5-7-7-6-10-5-13-4-17-3-21-2M845 1861l0 2 1 6 5 6 9 5 13 5 13 4 26 3 23 1 16-3 11-5 2-9-4-6-7-6-11-5-13-4-16-3-22-2"/>
</g>
<g fill="url(#gc)">
<path transform="translate(-647 -282)" d="M835 2108l14 10 14-1 14-12 15-22 14-30 42-106 14-30 14-21 14-10 15 0 14 11 14 20 42 85 14 25 15 18 14 8 14-3 14-13 14-24 14-31 43-107 14-28 14-19 14-10 14 2 14 13 15 21 42 85 14 24 14 16 14 7 15-5 14-15 14-25 56-139 15-27 14-18 14-8 14 4 14 13 14 23 43 85 14 22 14 15 14 5 14-6 14-17-10 10-15 17-14 6-14-5-14-15-14-23-43-85-14-22-14-13-14-4-14 8-14 18-14 27-57 139-14 25-14 15-14 4-15-6-14-16-14-24-42-85-14-21-15-13-14-2-14 9-14 20-14 28-43 107-14 31-14 23-14 14-14 3-14-8-14-18-15-25-42-85-14-20-14-11-14 0-15 10-14 21-14 29-42 107-14 30-15 22-14 12-14 1-14-10z"/>
<path transform="translate(-636 -277)" d="M835 2098l14 10 14-1 14-12 15-22 14-30 42-106 14-29 14-21 14-11 15 0 14 11 14 20 42 85 14 25 15 18 14 8 14-2 14-14 14-24 14-31 43-106 14-29 14-19 14-9 14 2 14 12 15 21 42 85 14 24 14 16 14 7 15-5 14-15 14-25 56-139 15-27 14-18 14-7 14 3 14 14 14 22 43 85 14 23 14 14 14 5 14-6 14-17-21 15-14 17-15 6-14-5-14-15-14-22-42-85-15-22-14-14-14-4-14 8-14 18-14 27-57 139-14 25-14 15-14 5-14-7-15-16-14-24-42-85-14-21-14-13-15-2-14 10-14 19-14 28-42 107-15 31-14 24-14 13-14 3-14-8-14-18-14-25-43-85-14-20-14-11-14 0-14 10-15 21-14 30-42 106-14 30-14 22-15 12-14 1-14-10z"/>
<path transform="translate(-625 -272)" d="M835 2094l14 10 14-1 14-12 15-22 14-30 42-107 14-29 14-21 14-10 15 0 14 11 14 20 42 85 14 25 15 18 14 8 14-3 14-14 14-23 14-31 43-107 14-28 14-20 14-9 14 2 14 12 15 22 42 85 14 24 14 16 14 6 15-4 14-15 14-25 56-139 15-27 14-18 14-8 14 4 14 13 14 22 43 85 14 23 14 15 14 5 14-7 14-17-21 5-14 17-15 7-14-5-14-15-14-23-42-85-15-22-14-14-14-3-14 7-14 19-14 27-57 139-14 24-14 16-14 4-14-6-15-17-14-23-42-86-14-21-14-12-15-2-14 9-14 20-14 28-42 107-15 31-14 23-14 14-14 3-14-9-14-17-14-25-43-85-14-20-14-11-14-1-14 11-15 21-14 29-42 107-14 30-14 22-15 12-14 1-14-10z"/>
<path transform="translate(-614 -267)" d="M835 2095l14 10 14-1 14-12 15-22 14-30 42-107 14-29 14-21 14-10 15 0 14 11 14 20 42 85 14 25 15 18 14 8 14-3 14-14 14-23 14-31 43-107 14-28 14-20 14-9 14 2 14 13 15 21 42 85 14 24 14 16 14 6 15-4 14-15 14-25 56-139 15-27 14-18 14-8 14 4 14 13 14 22 43 85 14 23 14 15 14 5 14-6 14-17-21-6-14 17-15 6-14-5-14-15-14-23-42-85-15-22-14-13-14-4-14 8-14 18-14 27-57 139-14 25-14 15-14 4-14-6-15-16-14-24-42-85-14-21-14-13-15-2-14 9-14 20-14 28-42 107-15 31-14 23-14 14-14 3-14-8-14-18-14-25-43-85-14-20-14-11-14 0-14 10-15 21-14 29-42 107-14 30-14 22-15 12-14 1-14-10z"/>
<path transform="translate(-603 -263)" d="M835 2102l14 9 14-1 14-12 15-22 14-30 42-106 14-29 14-21 14-11 15 0 14 11 14 20 42 85 14 25 15 18 14 8 14-2 14-14 14-24 14-31 43-106 14-29 14-19 14-9 14 2 14 12 15 21 42 85 14 24 14 16 14 7 15-5 14-15 14-25 56-138 15-28 14-18 14-7 14 3 14 14 14 22 43 85 14 23 14 15 14 4 14-6 14-17-21-17-14 17-15 6-14-4-14-15-14-23-42-85-15-22-14-14-14-3-14 7-14 18-14 28-57 138-14 25-14 15-14 5-14-7-15-16-14-24-42-85-14-21-14-12-15-2-14 9-14 19-14 29-42 106-15 31-14 24-14 14-14 2-14-8-14-18-14-25-43-85-14-20-14-11-14 0-14 11-15 21-14 29-42 106-14 30-14 22-15 12-14 1-14-9z"/>
<path transform="translate(-592 -258)" d="M835 2113l14 10 14-1 14-12 15-22 14-30 42-107 14-29 14-21 14-10 15 0 14 11 14 20 42 85 14 25 15 18 14 8 14-3 14-13 14-24 14-31 43-107 14-28 14-20 14-9 14 2 14 13 15 21 42 85 14 24 14 16 14 7 15-5 14-15 14-25 56-139 15-27 14-18 14-8 14 4 14 13 14 22 43 85 14 23 14 15 14 5 14-6 14-17-21-28-14 17-15 6-14-4-14-15-14-23-42-85-15-22-14-14-14-3-14 7-14 18-14 28-57 138-14 25-14 16-14 4-14-6-15-17-14-24-42-85-14-21-14-12-15-2-14 9-14 19-14 29-42 106-15 32-14 23-14 14-14 2-14-8-14-18-14-24-43-86-14-20-14-11-14 0-14 11-15 21-14 29-42 106-14 30-14 23-15 11-14 1-14-9z"/>
<path transform="translate(-581 -253)" d="M835 2129l14 10 14-1 14-12 15-22 14-30 42-106 14-30 14-21 14-10 15 0 14 11 14 20 42 85 14 25 15 18 14 8 14-3 14-13 14-24 14-31 43-107 14-28 14-19 14-10 14 2 14 13 15 21 42 85 14 24 14 16 14 7 15-5 14-15 14-25 56-139 15-27 14-18 14-8 14 4 14 14 14 22 43 85 14 22 14 15 14 5 14-6 14-17-21-37-14 17-15 6-14-5-14-15-14-23-42-85-15-22-14-13-14-4-14 8-14 18-14 27-57 139-14 25-14 15-14 4-14-6-15-16-14-24-42-85-14-21-14-13-15-2-14 9-14 20-14 28-42 107-15 31-14 23-14 14-14 3-14-8-14-18-14-25-43-85-14-20-14-11-14 0-14 10-15 21-14 29-42 107-14 30-14 22-15 12-14 1-14-10z"/>
<path transform="translate(-570 -249)" d="M835 2149l14 10 14-1 14-12 15-22 14-30 42-107 14-29 14-21 14-10 15 0 14 11 14 20 42 85 14 25 15 18 14 8 14-3 14-14 14-23 14-31 43-107 14-28 14-20 14-9 14 2 14 13 15 21 42 85 14 24 14 16 14 6 15-4 14-15 14-25 56-139 15-27 14-18 14-8 14 4 14 13 14 22 43 85 14 23 14 15 14 5 14-6 14-17-21-46-14 17-15 6-14-4-14-15-14-23-42-85-15-22-14-14-14-3-14 7-14 18-14 28-57 138-14 25-14 16-14 4-14-6-15-17-14-24-42-85-14-21-14-12-15-2-14 9-14 20-14 28-42 107-15 31-14 23-14 14-14 2-14-8-14-17-14-25-43-85-14-20-14-11-14-1-14 11-15 21-14 29-42 107-14 30-14 22-15 12-14 1-14-10z"/>
<path transform="translate(-560 -244)" d="M835 2171l14 10 14-1 14-12 15-22 14-30 42-106 14-30 14-21 14-10 15 0 14 11 14 20 42 85 14 25 15 18 14 8 14-3 14-13 14-24 14-31 43-107 14-28 14-19 14-10 14 2 14 13 15 21 42 85 14 24 14 16 14 7 15-5 14-15 14-25 56-139 15-27 14-18 14-8 14 4 14 14 14 22 43 85 14 22 14 15 14 5 14-6 14-17-21-52-14 17-15 7-14-5-14-15-14-23-42-85-15-22-14-14-14-3-14 7-14 19-14 27-57 139-14 24-14 16-14 4-14-6-15-17-14-23-42-86-14-21-14-12-15-2-14 9-14 20-14 28-42 107-15 31-14 23-14 14-14 3-14-9-14-17-14-25-43-85-14-20-14-11-14-1-14 11-15 21-14 29-42 107-14 30-14 22-15 12-14 1-14-10z"/>
<path transform="translate(-549 -239)" d="M835 2195l14 10 14-1 14-12 15-22 14-30 42-107 14-29 14-21 14-11 15 1 14 11 14 20 42 85 14 25 15 17 14 9 14-3 14-14 14-23 14-31 43-107 14-28 14-20 14-9 14 2 14 12 15 21 42 86 14 24 14 16 14 6 15-4 14-16 14-24 56-139 15-27 14-19 14-7 14 3 14 14 14 22 43 85 14 23 14 15 14 5 14-7 14-17-21-55-14 17-15 6-14-4-14-15-14-23-42-85-15-22-14-14-14-3-14 7-14 18-14 28-57 138-14 25-14 16-14 4-14-6-15-17-14-24-42-85-14-21-14-12-15-2-14 9-14 19-14 29-42 106-15 32-14 23-14 14-14 2-14-8-14-18-14-24-43-86-14-20-14-11-14 0-14 11-15 21-14 29-42 106-14 30-14 23-15 11-14 1-14-9z"/>
<path transform="translate(-538 -234)" d="M835 2218l14 10 14-1 14-12 15-22 14-30 42-106 14-30 14-20 14-11 15 0 14 11 14 20 42 85 14 25 15 18 14 8 14-3 14-13 14-24 14-31 43-106 14-29 14-19 14-9 14 2 14 12 15 21 42 85 14 24 14 16 14 7 15-5 14-15 14-25 56-139 15-27 14-18 14-8 14 4 14 14 14 22 43 85 14 23 14 14 14 5 14-6 14-17-21-57-14 17-15 7-14-5-14-15-14-23-42-85-15-22-14-14-14-3-14 7-14 19-14 27-57 139-14 24-14 16-14 4-14-6-15-17-14-23-42-86-14-21-14-12-15-2-14 9-14 20-14 28-42 107-15 31-14 23-14 14-14 3-14-9-14-17-14-25-43-85-14-20-14-11-14-1-14 11-15 21-14 29-42 107-14 30-14 22-15 12-14 1-14-10z"/>
<path transform="translate(-527 -230)" d="M835 2241l14 9 14 0 14-12 15-22 14-30 42-107 14-29 14-21 14-11 15 1 14 11 14 20 42 85 14 25 15 17 14 8 14-2 14-14 14-23 14-32 43-106 14-28 14-20 14-9 14 2 14 12 15 21 42 85 14 24 14 17 14 6 15-4 14-16 14-25 56-138 15-28 14-18 14-7 14 3 14 14 14 22 43 85 14 23 14 15 14 4 14-6 14-17-21-55-14 17-15 6-14-5-14-14-14-23-42-85-15-22-14-14-14-4-14 8-14 18-14 27-57 139-14 25-14 15-14 5-14-7-15-16-14-24-42-85-14-21-14-12-15-2-14 9-14 19-14 28-42 107-15 31-14 24-14 13-14 3-14-8-14-18-14-25-43-85-14-20-14-11-14 0-14 11-15 20-14 30-42 106-14 30-14 22-15 12-14 1-14-10z"/>
<path transform="translate(-516 -225)" d="M835 2260l14 10 14-1 14-12 15-22 14-30 42-106 14-30 14-20 14-11 15 0 14 11 14 20 42 85 14 25 15 18 14 8 14-2 14-14 14-24 14-31 43-106 14-29 14-19 14-9 14 2 14 12 15 21 42 85 14 24 14 16 14 7 15-5 14-15 14-25 56-139 15-27 14-18 14-8 14 4 14 14 14 22 43 85 14 23 14 14 14 5 14-6 14-17-21-52-14 17-15 7-14-5-14-15-14-23-42-85-15-22-14-14-14-3-14 8-14 18-14 27-57 139-14 25-14 15-14 4-14-6-15-16-14-24-42-86-14-21-14-12-15-2-14 9-14 20-14 28-42 107-15 31-14 23-14 14-14 3-14-8-14-18-14-25-43-85-14-20-14-11-14-1-14 11-15 21-14 29-42 107-14 30-14 22-15 12-14 1-14-10z"/>
<path transform="translate(-505 -220)" d="M835 2277l14 9 14-1 14-11 15-22 14-31 42-106 14-29 14-21 14-11 15 0 14 11 14 20 42 86 14 24 15 18 14 8 14-2 14-14 14-23 14-32 43-106 14-29 14-19 14-9 14 2 14 12 15 21 42 85 14 24 14 17 14 6 15-4 14-16 14-25 56-138 15-28 14-18 14-7 14 3 14 14 14 22 43 85 14 23 14 15 14 4 14-6 14-17-21-45-14 17-15 6-14-5-14-15-14-22-42-86-15-22-14-13-14-4-14 8-14 18-14 27-57 139-14 25-14 15-14 5-14-7-15-16-14-24-42-85-14-21-14-13-15-2-14 10-14 19-14 28-42 107-15 31-14 24-14 13-14 3-14-8-14-18-14-25-43-85-14-20-14-11-14 0-14 10-15 21-14 29-42 107-14 30-14 22-15 12-14 1-14-10z"/>
<path transform="translate(-494 -215)" d="M835 2288l14 10 14-1 14-12 15-22 14-30 42-107 14-29 14-21 14-10 15 0 14 11 14 20 42 85 14 25 15 18 14 8 14-3 14-13 14-24 14-31 43-107 14-28 14-19 14-10 14 2 14 13 15 21 42 85 14 24 14 16 14 7 15-5 14-15 14-25 56-139 15-27 14-18 14-8 14 4 14 13 14 22 43 86 14 22 14 15 14 5 14-6 14-17-21-38-14 17-15 7-14-5-14-15-14-23-42-85-15-22-14-14-14-3-14 8-14 18-14 27-57 139-14 25-14 15-14 4-14-6-15-16-14-24-42-85-14-22-14-12-15-2-14 9-14 20-14 28-42 107-15 31-14 23-14 14-14 3-14-8-14-18-14-25-43-85-14-20-14-11-14-1-14 11-15 21-14 29-42 107-14 30-14 22-15 12-14 1-14-10z"/>
<path transform="translate(-484 -211)" d="M835 2295l14 10 14-1 14-12 15-22 14-30 42-107 14-29 14-21 14-11 15 1 14 11 14 20 42 85 14 25 15 17 14 9 14-3 14-14 14-23 14-31 43-107 14-28 14-20 14-9 14 2 14 12 15 21 42 85 14 24 14 17 14 6 15-4 14-16 14-25 56-138 15-27 14-19 14-7 14 3 14 14 14 22 43 85 14 23 14 15 14 4 14-6 14-17-21-27-14 17-15 6-14-5-14-15-14-23-42-85-15-22-14-13-14-4-14 8-14 18-14 27-57 139-14 25-14 15-14 5-14-7-15-16-14-24-42-85-14-21-14-13-15-2-14 9-14 20-14 28-42 107-15 31-14 24-14 13-14 3-14-8-14-18-14-25-43-85-14-20-14-11-14 0-14 10-15 21-14 29-42 107-14 30-14 22-15 12-14 1-14-10z"/>
<path transform="translate(-473 -206)" d="M835 2296l14 10 14-1 14-12 15-22 14-30 42-107 14-29 14-21 14-11 15 1 14 11 14 20 42 85 14 25 15 17 14 9 14-3 14-14 14-23 14-31 43-107 14-28 14-20 14-9 14 2 14 12 15 21 42 85 14 24 14 17 14 6 15-4 14-16 14-25 56-138 15-27 14-19 14-7 14 3 14 14 14 22 43 85 14 23 14 15 14 5 14-7 14-17-21-17-14 17-15 7-14-5-14-15-14-23-42-85-15-22-14-14-14-3-14 7-14 19-14 27-57 138-14 25-14 16-14 4-14-6-15-17-14-24-42-85-14-21-14-12-15-2-14 9-14 20-14 28-42 107-15 31-14 23-14 14-14 3-14-9-14-17-14-25-43-85-14-20-14-11-14-1-14 11-15 21-14 29-42 107-14 30-14 22-15 12-14 1-14-10z"/>
<path transform="translate(-462 -201)" d="M835 2291l14 10 14-1 14-12 15-22 14-30 42-106 14-30 14-21 14-10 15 0 14 11 14 20 42 85 14 25 15 18 14 8 14-3 14-13 14-24 14-31 43-107 14-28 14-19 14-10 14 2 14 13 15 21 42 85 14 24 14 16 14 7 15-5 14-15 14-25 56-139 15-27 14-18 14-8 14 4 14 13 14 23 43 85 14 22 14 15 14 5 14-6 14-17-21-6-14 17-15 6-14-5-14-15-14-22-42-85-15-23-14-13-14-4-14 8-14 18-14 27-57 139-14 25-14 15-14 5-14-7-15-16-14-24-42-85-14-21-14-13-15-2-14 10-14 19-14 28-42 107-15 31-14 24-14 13-14 3-14-8-14-18-14-25-43-85-14-20-14-11-14 0-14 10-15 21-14 30-42 106-14 30-14 22-15 12-14 1-14-10z"/>
<path transform="translate(-451 -196)" d="M835 2281l14 10 14-1 14-12 15-22 14-30 42-106 14-29 14-21 14-11 15 0 14 11 14 20 42 85 14 25 15 18 14 8 14-2 14-14 14-24 14-31 43-106 14-29 14-19 14-9 14 2 14 12 15 21 42 85 14 24 14 16 14 7 15-5 14-15 14-25 56-139 15-27 14-18 14-7 14 3 14 14 14 22 43 85 14 23 14 14 14 5 14-6 14-17-21 5-14 17-15 6-14-5-14-15-14-22-42-85-15-22-14-14-14-4-14 8-14 18-14 27-57 139-14 25-14 15-14 5-14-7-15-16-14-24-42-85-14-21-14-13-15-1-14 9-14 19-14 28-42 107-15 31-14 24-14 13-14 3-14-8-14-18-14-25-43-85-14-20-14-11-14 0-14 10-15 21-14 30-42 106-14 30-14 22-15 12-14 1-14-10z"/>
<path transform="translate(-440 -192)" d="M835 2267l14 10 14-1 14-12 15-22 14-30 42-107 14-29 14-21 14-11 15 1 14 11 14 20 42 85 14 25 15 18 14 8 14-3 14-14 14-23 14-31 43-107 14-28 14-20 14-9 14 2 14 12 15 21 42 86 14 24 14 16 14 6 15-4 14-15 14-25 56-139 15-27 14-18 14-8 14 3 14 14 14 22 43 85 14 23 14 15 14 5 14-7 14-17-21 15-14 17-15 7-14-5-14-15-14-23-42-85-15-22-14-14-14-3-14 7-14 19-14 27-57 138-14 25-14 16-14 4-14-6-15-17-14-23-42-86-14-21-14-12-15-2-14 9-14 20-14 28-42 107-15 31-14 23-14 14-14 3-14-9-14-17-14-25-43-85-14-20-14-11-14-1-14 11-15 21-14 29-42 107-14 30-14 22-15 12-14 1-14-10z"/>
<path transform="translate(-429 -187)" d="M835 2248l14 10 14-1 14-12 15-22 14-30 42-106 14-29 14-21 14-11 15 0 14 11 14 20 42 85 14 25 15 18 14 8 14-2 14-14 14-24 14-31 43-106 14-29 14-19 14-9 14 2 14 12 15 21 42 85 14 24 14 16 14 7 15-5 14-15 14-25 56-139 15-27 14-18 14-8 14 4 14 14 14 22 43 85 14 23 14 14 14 5 14-6 14-17-21 23-14 17-15 7-14-5-14-15-14-23-42-85-15-22-14-13-14-4-14 8-14 18-14 27-57 139-14 25-14 15-14 4-14-6-15-16-14-24-42-85-14-22-14-12-15-2-14 9-14 20-14 28-42 107-15 31-14 23-14 14-14 3-14-8-14-18-14-25-43-85-14-20-14-11-14 0-14 10-15 21-14 29-42 107-14 30-14 22-15 12-14 1-14-10z"/>
<path transform="translate(-418 -182)" d="M835 2227l14 10 14-1 14-12 15-22 14-30 42-107 14-29 14-21 14-10 15 0 14 11 14 20 42 85 14 25 15 18 14 8 14-3 14-14 14-23 14-31 43-107 14-28 14-20 14-9 14 2 14 13 15 21 42 85 14 24 14 16 14 6 15-4 14-15 14-25 56-139 15-27 14-18 14-8 14 4 14 13 14 22 43 85 14 23 14 15 14 5 14-6 14-17-21 30-14 17-15 6-14-5-14-14-14-23-42-85-15-22-14-14-14-3-14 7-14 18-14 27-57 139-14 25-14 15-14 5-14-7-15-16-14-24-42-85-14-21-14-12-15-2-14 9-14 19-14 29-42 106-15 31-14 24-14 14-14 2-14-8-14-18-14-25-43-85-14-20-14-11-14 0-14 11-15 21-14 29-42 106-14 30-14 22-15 12-14 1-14-10z"/>
<path transform="translate(-408 -178)" d="M835 2204l14 10 14-1 14-12 15-22 14-30 42-107 14-29 14-21 14-11 15 1 14 11 14 20 42 85 14 25 15 18 14 8 14-3 14-14 14-23 14-31 43-107 14-28 14-20 14-9 14 2 14 12 15 22 42 85 14 24 14 16 14 6 15-4 14-15 14-25 56-139 15-27 14-18 14-8 14 3 14 14 14 22 43 85 14 23 14 15 14 5 14-7 14-17-21 35-14 17-15 7-14-5-14-15-14-23-42-85-15-22-14-14-14-3-14 8-14 18-14 27-57 139-14 25-14 15-14 4-14-6-15-16-14-24-42-85-14-22-14-12-15-2-14 9-14 20-14 28-42 107-15 31-14 23-14 14-14 3-14-8-14-18-14-25-43-85-14-20-14-11-14 0-14 10-15 21-14 29-42 107-14 30-14 22-15 12-14 1-14-10z"/>
<path transform="translate(-397 -173)" d="M835 2180l14 10 14-1 14-12 15-22 14-30 42-106 14-30 14-20 14-11 15 0 14 11 14 20 42 85 14 25 15 18 14 8 14-3 14-13 14-24 14-31 43-106 14-29 14-19 14-9 14 2 14 12 15 21 42 85 14 24 14 16 14 7 15-5 14-15 14-25 56-139 15-27 14-18 14-8 14 4 14 14 14 22 43 85 14 23 14 14 14 5 14-6 14-17-21 37-14 17-15 6-14-4-14-15-14-23-42-85-15-22-14-14-14-3-14 7-14 18-14 28-57 138-14 25-14 16-14 4-14-6-15-17-14-24-42-85-14-21-14-12-15-2-14 9-14 19-14 29-42 106-15 32-14 23-14 14-14 2-14-8-14-17-14-25-43-85-14-20-14-11-14-1-14 11-15 21-14 29-42 106-14 31-14 22-15 11-14 1-14-9z"/>
<path transform="translate(-386 -168)" d="M835 2158l14 10 14-1 14-12 15-22 14-30 42-107 14-29 14-21 14-11 15 1 14 11 14 20 42 85 14 25 15 17 14 8 14-2 14-14 14-23 14-31 43-107 14-28 14-20 14-9 14 2 14 12 15 21 42 85 14 24 14 17 14 6 15-4 14-16 14-25 56-138 15-27 14-19 14-7 14 3 14 14 14 22 43 85 14 23 14 15 14 4 14-6 14-17-21 37-14 17-15 6-14-5-14-14-14-23-42-85-15-22-14-14-14-3-14 7-14 18-14 27-57 139-14 25-14 15-14 5-14-7-15-16-14-24-42-85-14-21-14-12-15-2-14 9-14 19-14 29-42 106-15 31-14 24-14 14-14 2-14-8-14-18-14-25-43-85-14-20-14-11-14 0-14 11-15 21-14 29-42 106-14 30-14 22-15 12-14 1-14-10z"/>
<path transform="translate(-375 -163)" d="M835 2137l14 10 14-1 14-12 15-22 14-30 42-107 14-29 14-21 14-10 15 0 14 11 14 20 42 85 14 25 15 18 14 8 14-3 14-13 14-24 14-31 43-107 14-28 14-20 14-9 14 2 14 13 15 21 42 85 14 24 14 16 14 7 15-5 14-15 14-25 56-139 15-27 14-18 14-8 14 4 14 13 14 22 43 85 14 23 14 15 14 5 14-6 14-17-21 33-14 17-15 7-14-5-14-15-14-23-42-85-15-22-14-14-14-3-14 8-14 18-14 27-57 139-14 25-14 15-14 4-14-6-15-16-14-24-42-86-14-21-14-12-15-2-14 9-14 20-14 28-42 107-15 31-14 23-14 14-14 3-14-8-14-18-14-25-43-85-14-20-14-11-14-1-14 11-15 21-14 29-42 107-14 30-14 22-15 12-14 1-14-10z"/>
<path transform="translate(-364 -159)" d="M835 2120l14 10 14-1 14-12 15-22 14-30 42-107 14-29 14-21 14-11 15 1 14 11 14 20 42 85 14 25 15 17 14 9 14-3 14-14 14-23 14-31 43-107 14-28 14-20 14-9 14 2 14 12 15 21 42 86 14 23 14 17 14 6 15-4 14-16 14-24 56-139 15-27 14-19 14-7 14 3 14 14 14 22 43 85 14 23 14 15 14 5 14-7 14-17-21 29-14 17-15 6-14-5-14-15-14-22-42-86-15-22-14-13-14-4-14 8-14 18-14 27-57 139-14 25-14 15-14 5-14-7-15-16-14-24-42-85-14-21-14-13-15-2-14 10-14 19-14 28-42 107-15 31-14 24-14 13-14 3-14-8-14-18-14-25-43-85-14-20-14-11-14 0-14 10-15 21-14 30-42 106-14 30-14 22-15 12-14 1-14-10z"/>
<path transform="translate(-353 -154)" d="M835 2107l14 10 14-1 14-12 15-22 14-30 42-107 14-29 14-21 14-11 15 1 14 11 14 20 42 85 14 25 15 17 14 8 14-2 14-14 14-23 14-31 43-107 14-28 14-20 14-9 14 2 14 12 15 21 42 85 14 24 14 17 14 6 15-4 14-16 14-25 56-138 15-28 14-18 14-7 14 3 14 14 14 22 43 85 14 23 14 15 14 4 14-6 14-17-21 21-14 17-15 6-14-4-14-15-14-23-42-85-15-22-14-14-14-3-14 7-14 18-14 28-57 138-14 25-14 16-14 4-14-6-15-17-14-24-42-85-14-21-14-12-15-2-14 9-14 20-14 28-42 106-15 32-14 23-14 14-14 2-14-8-14-17-14-25-43-85-14-20-14-11-14-1-14 11-15 21-14 29-42 107-14 30-14 22-15 12-14 0-14-9z"/>
<path transform="translate(-342 -149)" d="M835 2099l14 9 14-1 14-12 15-22 14-30 42-106 14-29 14-21 14-11 15 0 14 11 14 20 42 85 14 25 15 18 14 8 14-2 14-14 14-24 14-31 43-106 14-29 14-19 14-9 14 2 14 12 15 21 42 85 14 24 14 17 14 6 15-5 14-15 14-25 56-138 15-28 14-18 14-7 14 3 14 14 14 22 43 85 14 23 14 15 14 4 14-6 14-17-21 12-14 17-15 6-14-5-14-14-14-23-42-85-15-22-14-14-14-4-14 8-14 18-14 27-57 139-14 25-14 15-14 5-14-7-15-16-14-24-42-85-14-21-14-13-15-1-14 9-14 19-14 28-42 107-15 31-14 24-14 13-14 3-14-8-14-18-14-25-43-85-14-20-14-11-14 0-14 11-15 20-14 30-42 106-14 30-14 22-15 12-14 1-14-10z"/>
<path transform="translate(-331 -144)" d="M835 2096l14 10 14-1 14-12 15-22 14-30 42-107 14-29 14-21 14-11 15 1 14 11 14 20 42 85 14 25 15 17 14 9 14-3 14-14 14-23 14-31 43-107 14-28 14-20 14-9 14 2 14 12 15 21 42 85 14 24 14 17 14 6 15-4 14-16 14-25 56-138 15-27 14-19 14-7 14 3 14 14 14 22 43 85 14 23 14 15 14 5 14-7 14-17-21 2-14 17-15 6-14-5-14-15-14-22-42-86-15-22-14-13-14-4-14 8-14 18-14 27-57 139-14 25-14 15-14 5-14-7-15-16-14-24-42-85-14-21-14-13-15-2-14 10-14 19-14 28-42 107-15 31-14 24-14 13-14 3-14-8-14-18-14-25-43-85-14-20-14-11-14 0-14 10-15 21-14 30-42 106-14 30-14 22-15 12-14 1-14-10z"/>
<path transform="translate(-321 -140)" d="M835 2099l14 9 14-1 14-12 15-22 14-30 42-106 14-29 14-21 14-11 15 0 14 11 14 20 42 85 14 25 15 18 14 8 14-2 14-14 14-24 14-31 43-106 14-29 14-19 14-9 14 2 14 12 15 21 42 85 14 24 14 17 14 6 15-5 14-15 14-25 56-138 15-28 14-18 14-7 14 3 14 14 14 22 43 85 14 23 14 15 14 4 14-6 14-17-21-9-14 17-15 6-14-5-14-15-14-23-42-85-15-22-14-13-14-4-14 8-14 18-14 27-57 139-14 25-14 15-14 5-14-7-15-16-14-24-42-85-14-21-14-13-15-2-14 9-14 20-14 28-42 107-15 31-14 24-14 13-14 3-14-8-14-18-14-25-43-85-14-20-14-11-14 0-14 10-15 21-14 29-42 107-14 30-14 22-15 12-14 1-14-10z"/>
<path transform="translate(-310 -135)" d="M835 2107l14 10 14-1 14-12 15-22 14-30 42-107 14-29 14-21 14-11 15 1 14 11 14 20 42 85 14 25 15 17 14 8 14-2 14-14 14-23 14-31 43-107 14-28 14-20 14-9 14 2 14 12 15 21 42 85 14 24 14 17 14 6 15-4 14-16 14-25 56-138 15-28 14-18 14-7 14 3 14 14 14 22 43 85 14 23 14 15 14 4 14-6 14-17-21-20-14 17-15 6-14-5-14-15-14-22-42-85-15-22-14-14-14-4-14 8-14 18-14 27-57 139-14 25-14 15-14 5-14-7-15-16-14-24-42-85-14-21-14-13-15-2-14 10-14 19-14 28-42 107-15 31-14 24-14 13-14 3-14-8-14-18-14-25-43-85-14-20-14-11-14 0-14 10-15 21-14 30-42 106-14 30-14 22-15 12-14 1-14-10z"/>
<path transform="translate(-299 -130)" d="M835 2120l14 10 14-1 14-12 15-22 14-30 42-107 14-29 14-21 14-11 15 1 14 11 14 20 42 85 14 25 15 17 14 9 14-3 14-14 14-23 14-31 43-107 14-28 14-20 14-9 14 2 14 12 15 21 42 86 14 23 14 17 14 6 15-4 14-16 14-24 56-139 15-27 14-19 14-7 14 3 14 14 14 22 43 85 14 23 14 15 14 5 14-7 14-17-21-30-14 17-15 6-14-5-14-15-14-23-42-85-15-22-14-13-14-4-14 8-14 18-14 27-57 139-14 25-14 15-14 5-14-7-15-16-14-24-42-85-14-21-14-13-15-2-14 9-14 20-14 28-42 107-15 31-14 24-14 13-14 3-14-8-14-18-14-25-43-85-14-20-14-11-14 0-14 10-15 21-14 29-42 107-14 30-14 22-15 12-14 1-14-10z"/>
<path transform="translate(-288 -125)" d="M835 2137l14 10 14-1 14-12 15-22 14-30 42-107 14-29 14-21 14-10 15 0 14 11 14 20 42 85 14 25 15 18 14 8 14-3 14-13 14-24 14-31 43-107 14-28 14-20 14-9 14 2 14 13 15 21 42 85 14 24 14 16 14 7 15-5 14-15 14-25 56-139 15-27 14-18 14-8 14 4 14 13 14 22 43 85 14 23 14 15 14 5 14-6 14-17-21-40-14 17-15 6-14-5-14-15-14-22-42-86-15-22-14-13-14-4-14 8-14 18-14 27-57 139-14 25-14 15-14 5-14-7-15-16-14-24-42-85-14-21-14-13-15-2-14 10-14 19-14 28-42 107-15 31-14 24-14 13-14 3-14-8-14-18-14-25-43-85-14-20-14-11-14 0-14 10-15 21-14 30-42 106-14 30-14 22-15 12-14 1-14-10z"/>
<path transform="translate(-277 -121)" d="M835 2158l14 10 14-1 14-12 15-22 14-30 42-107 14-29 14-21 14-11 15 1 14 11 14 20 42 85 14 25 15 17 14 8 14-2 14-14 14-23 14-31 43-107 14-28 14-20 14-9 14 2 14 12 15 21 42 85 14 24 14 17 14 6 15-4 14-16 14-25 56-138 15-27 14-19 14-7 14 3 14 14 14 22 43 85 14 23 14 15 14 4 14-6 14-17-21-47-14 17-15 6-14-5-14-14-14-23-42-85-15-22-14-14-14-4-14 8-14 18-14 27-57 139-14 25-14 15-14 5-14-7-15-16-14-24-42-85-14-21-14-13-15-1-14 9-14 19-14 28-42 107-15 31-14 24-14 13-14 3-14-8-14-18-14-25-43-85-14-20-14-11-14 0-14 11-15 20-14 30-42 106-14 30-14 22-15 12-14 1-14-10z"/>
<path transform="translate(-266 -116)" d="M835 2180l14 10 14-1 14-12 15-22 14-30 42-106 14-30 14-20 14-11 15 0 14 11 14 20 42 85 14 25 15 18 14 8 14-3 14-13 14-24 14-31 43-106 14-29 14-19 14-9 14 2 14 12 15 21 42 85 14 24 14 16 14 7 15-5 14-15 14-25 56-139 15-27 14-18 14-8 14 4 14 14 14 22 43 85 14 23 14 14 14 5 14-6 14-17-21-53-14 17-15 6-14-4-14-15-14-23-42-85-15-22-14-14-14-3-14 7-14 18-14 28-57 138-14 25-14 16-14 4-14-6-15-17-14-24-42-85-14-21-14-12-15-2-14 9-14 20-14 28-42 106-15 32-14 23-14 14-14 2-14-8-14-17-14-25-43-85-14-20-14-11-14-1-14 11-15 21-14 29-42 107-14 30-14 22-15 12-14 0-14-9z"/>
<path transform="translate(-255 -111)" d="M835 2204l14 10 14-1 14-12 15-22 14-30 42-107 14-29 14-21 14-11 15 1 14 11 14 20 42 85 14 25 15 18 14 8 14-3 14-14 14-23 14-31 43-107 14-28 14-20 14-9 14 2 14 12 15 22 42 85 14 24 14 16 14 6 15-4 14-15 14-25 56-139 15-27 14-18 14-8 14 3 14 14 14 22 43 85 14 23 14 15 14 5 14-7 14-17-21-55-14 17-15 6-14-5-14-15-14-22-42-86-15-22-14-13-14-4-14 8-14 18-14 27-57 139-14 25-14 15-14 5-14-7-15-16-14-24-42-85-14-21-14-13-15-2-14 10-14 19-14 28-42 107-15 31-14 24-14 13-14 3-14-8-14-18-14-25-43-85-14-20-14-11-14 0-14 10-15 21-14 30-42 106-14 30-14 22-15 12-14 1-14-10z"/>
<path transform="translate(-245 -107)" d="M835 2227l14 10 14-1 14-12 15-22 14-30 42-107 14-29 14-21 14-10 15 0 14 11 14 20 42 85 14 25 15 18 14 8 14-3 14-14 14-23 14-31 43-107 14-28 14-20 14-9 14 2 14 13 15 21 42 85 14 24 14 16 14 6 15-4 14-15 14-25 56-139 15-27 14-18 14-8 14 4 14 13 14 22 43 85 14 23 14 15 14 5 14-6 14-17-21-57-14 17-15 7-14-5-14-15-14-23-42-85-15-22-14-14-14-3-14 8-14 18-14 27-57 139-14 25-14 15-14 4-14-6-15-16-14-24-42-86-14-21-14-12-15-2-14 9-14 20-14 28-42 107-15 31-14 23-14 14-14 3-14-8-14-18-14-25-43-85-14-20-14-11-14-1-14 11-15 21-14 29-42 107-14 30-14 22-15 12-14 1-14-10z"/>
<path transform="translate(-234 -102)" d="M835 2248l14 10 14-1 14-12 15-22 14-30 42-106 14-29 14-21 14-11 15 0 14 11 14 20 42 85 14 25 15 18 14 8 14-2 14-14 14-24 14-31 43-106 14-29 14-19 14-9 14 2 14 12 15 21 42 85 14 24 14 16 14 7 15-5 14-15 14-25 56-139 15-27 14-18 14-8 14 4 14 14 14 22 43 85 14 23 14 14 14 5 14-6 14-17-21-54-14 17-15 6-14-5-14-14-14-23-42-85-15-22-14-14-14-3-14 7-14 18-14 27-57 139-14 25-14 15-14 5-14-7-15-16-14-24-42-85-14-21-14-12-15-2-14 9-14 19-14 29-42 106-15 31-14 24-14 14-14 2-14-8-14-18-14-25-43-85-14-20-14-11-14 0-14 11-15 21-14 29-42 106-14 30-14 22-15 12-14 1-14-10z"/>
<path transform="translate(-223 -97)" d="M835 2267l14 10 14-1 14-12 15-22 14-30 42-107 14-29 14-21 14-11 15 1 14 11 14 20 42 85 14 25 15 18 14 8 14-3 14-14 14-23 14-31 43-107 14-28 14-20 14-9 14 2 14 12 15 21 42 86 14 24 14 16 14 6 15-4 14-15 14-25 56-139 15-27 14-18 14-8 14 3 14 14 14 22 43 85 14 23 14 15 14 5 14-7 14-17-21-49-14 17-15 6-14-4-14-15-14-23-42-85-15-22-14-14-14-3-14 7-14 18-14 28-57 138-14 25-14 16-14 4-14-6-15-17-14-24-42-85-14-21-14-12-15-2-14 9-14 19-14 29-42 106-15 32-14 23-14 14-14 2-14-8-14-17-14-25-43-85-14-20-14-11-14-1-14 11-15 21-14 29-42 106-14 31-14 22-15 11-14 1-14-9z"/>
<path transform="translate(-212 -92)" d="M835 2281l14 10 14-1 14-12 15-22 14-30 42-106 14-29 14-21 14-11 15 0 14 11 14 20 42 85 14 25 15 18 14 8 14-2 14-14 14-24 14-31 43-106 14-29 14-19 14-9 14 2 14 12 15 21 42 85 14 24 14 16 14 7 15-5 14-15 14-25 56-139 15-27 14-18 14-7 14 3 14 14 14 22 43 85 14 23 14 14 14 5 14-6 14-17-21-43-14 17-15 7-14-5-14-15-14-23-42-85-15-22-14-14-14-3-14 8-14 18-14 27-57 139-14 25-14 15-14 4-14-6-15-16-14-24-42-85-14-22-14-12-15-2-14 9-14 20-14 28-42 107-15 31-14 23-14 14-14 3-14-8-14-18-14-25-43-85-14-20-14-11-14 0-14 10-15 21-14 29-42 107-14 30-14 22-15 12-14 1-14-10z"/>
<path transform="translate(-201 -88)" d="M835 2291l14 10 14-1 14-12 15-22 14-30 42-106 14-30 14-21 14-10 15 0 14 11 14 20 42 85 14 25 15 18 14 8 14-3 14-13 14-24 14-31 43-107 14-28 14-19 14-10 14 2 14 13 15 21 42 85 14 24 14 16 14 7 15-5 14-15 14-25 56-139 15-27 14-18 14-8 14 4 14 13 14 23 43 85 14 22 14 15 14 5 14-6 14-17-21-34-14 17-15 6-14-5-14-14-14-23-42-85-15-22-14-14-14-3-14 7-14 18-14 27-57 139-14 25-14 15-14 5-14-7-15-16-14-24-42-85-14-21-14-12-15-2-14 9-14 19-14 29-42 106-15 31-14 24-14 14-14 2-14-8-14-18-14-25-43-85-14-20-14-11-14 0-14 11-15 21-14 29-42 106-14 30-14 22-15 12-14 1-14-10z"/>
<path transform="translate(-190 -83)" d="M835 2296l14 10 14-1 14-12 15-22 14-30 42-107 14-29 14-21 14-11 15 1 14 11 14 20 42 85 14 25 15 17 14 9 14-3 14-14 14-23 14-31 43-107 14-28 14-20 14-9 14 2 14 12 15 21 42 85 14 24 14 17 14 6 15-4 14-16 14-25 56-138 15-27 14-19 14-7 14 3 14 14 14 22 43 85 14 23 14 15 14 5 14-7 14-17-21-24-14 17-15 7-14-5-14-15-14-23-42-85-15-22-14-13-14-4-14 8-14 18-14 27-57 139-14 25-14 15-14 4-14-6-15-16-14-24-42-85-14-22-14-12-15-2-14 9-14 20-14 28-42 107-15 31-14 23-14 14-14 3-14-8-14-18-14-25-43-85-14-20-14-11-14 0-14 10-15 21-14 29-42 107-14 30-14 22-15 12-14 1-14-10z"/>
<path transform="translate(-179 -78)" d="M835 2295l14 10 14-1 14-12 15-22 14-30 42-107 14-29 14-21 14-11 15 1 14 11 14 20 42 85 14 25 15 17 14 9 14-3 14-14 14-23 14-31 43-107 14-28 14-20 14-9 14 2 14 12 15 21 42 85 14 24 14 17 14 6 15-4 14-16 14-25 56-138 15-27 14-19 14-7 14 3 14 14 14 22 43 85 14 23 14 15 14 4 14-6 14-17-21-13-14 17-15 7-14-5-14-15-14-23-42-85-15-22-14-14-14-3-14 7-14 19-14 27-57 138-14 25-14 16-14 4-14-6-15-17-14-23-42-86-14-21-14-12-15-2-14 9-14 20-14 28-42 107-15 31-14 23-14 14-14 3-14-9-14-17-14-25-43-85-14-20-14-11-14-1-14 11-15 21-14 29-42 107-14 30-14 22-15 12-14 1-14-10z"/>
<path transform="translate(-168 -73)" d="M835 2288l14 10 14-1 14-12 15-22 14-30 42-107 14-29 14-21 14-10 15 0 14 11 14 20 42 85 14 25 15 18 14 8 14-3 14-13 14-24 14-31 43-107 14-28 14-19 14-10 14 2 14 13 15 21 42 85 14 24 14 16 14 7 15-5 14-15 14-25 56-139 15-27 14-18 14-8 14 4 14 13 14 22 43 86 14 22 14 15 14 5 14-6 14-17-21-2-14 17-15 6-14-5-14-15-14-22-42-85-15-22-14-14-14-4-14 8-14 18-14 27-57 139-14 25-14 15-14 5-14-7-15-16-14-24-42-85-14-21-14-13-15-1-14 9-14 19-14 28-42 107-15 31-14 24-14 13-14 3-14-8-14-18-14-25-43-85-14-20-14-11-14 0-14 10-15 21-14 30-42 106-14 30-14 22-15 12-14 1-14-10z"/>
<path transform="translate(-158 -69)" d="M835 2277l14 9 14-1 14-11 15-22 14-31 42-106 14-29 14-21 14-11 15 0 14 11 14 20 42 86 14 24 15 18 14 8 14-2 14-14 14-23 14-32 43-106 14-29 14-19 14-9 14 2 14 12 15 21 42 85 14 24 14 17 14 6 15-4 14-16 14-25 56-138 15-28 14-18 14-7 14 3 14 14 14 22 43 85 14 23 14 15 14 4 14-6 14-17-21 9-14 17-15 6-14-5-14-15-14-22-42-85-15-23-14-13-14-4-14 8-14 18-14 27-57 139-14 25-14 15-14 5-14-7-15-16-14-24-42-85-14-21-14-13-15-2-14 10-14 19-14 28-42 107-15 31-14 24-14 13-14 3-14-8-14-18-14-25-43-85-14-20-14-11-14 0-14 10-15 21-14 30-42 106-14 30-14 22-15 12-14 1-14-10z"/>
<path transform="translate(-147 -64)" d="M835 2260l14 10 14-1 14-12 15-22 14-30 42-106 14-30 14-20 14-11 15 0 14 11 14 20 42 85 14 25 15 18 14 8 14-2 14-14 14-24 14-31 43-106 14-29 14-19 14-9 14 2 14 12 15 21 42 85 14 24 14 16 14 7 15-5 14-15 14-25 56-139 15-27 14-18 14-8 14 4 14 14 14 22 43 85 14 23 14 14 14 5 14-6 14-17-21 18-14 17-15 7-14-5-14-15-14-23-42-85-15-22-14-14-14-3-14 7-14 19-14 27-57 138-14 25-14 16-14 4-14-6-15-17-14-24-42-85-14-21-14-12-15-2-14 9-14 20-14 28-42 107-15 31-14 23-14 14-14 3-14-9-14-17-14-25-43-85-14-20-14-11-14-1-14 11-15 21-14 29-42 107-14 30-14 22-15 12-14 1-14-10z"/>
<path transform="translate(-136 -59)" d="M835 2241l14 9 14 0 14-12 15-22 14-30 42-107 14-29 14-21 14-11 15 1 14 11 14 20 42 85 14 25 15 17 14 8 14-2 14-14 14-23 14-32 43-106 14-28 14-20 14-9 14 2 14 12 15 21 42 85 14 24 14 17 14 6 15-4 14-16 14-25 56-138 15-28 14-18 14-7 14 3 14 14 14 22 43 85 14 23 14 15 14 4 14-6 14-17-21 27-14 17-15 6-14-5-14-15-14-23-42-85-15-22-14-13-14-4-14 8-14 18-14 27-57 139-14 25-14 15-14 5-14-7-15-16-14-24-42-85-14-21-14-13-15-2-14 9-14 20-14 28-42 107-15 31-14 24-14 13-14 3-14-8-14-18-14-25-43-85-14-20-14-11-14 0-14 10-15 21-14 29-42 107-14 30-14 22-15 12-14 1-14-10z"/>
<path transform="translate(-125 -54)" d="M835 2218l14 10 14-1 14-12 15-22 14-30 42-106 14-30 14-20 14-11 15 0 14 11 14 20 42 85 14 25 15 18 14 8 14-3 14-13 14-24 14-31 43-106 14-29 14-19 14-9 14 2 14 12 15 21 42 85 14 24 14 16 14 7 15-5 14-15 14-25 56-139 15-27 14-18 14-8 14 4 14 14 14 22 43 85 14 23 14 14 14 5 14-6 14-17-21 32-14 17-15 7-14-5-14-15-14-23-42-85-15-22-14-14-14-3-14 8-14 18-14 27-57 139-14 25-14 15-14 4-14-6-15-16-14-24-42-85-14-22-14-12-15-2-14 9-14 20-14 28-42 107-15 31-14 23-14 14-14 3-14-8-14-18-14-25-43-85-14-20-14-11-14-1-14 11-15 21-14 29-42 107-14 30-14 22-15 12-14 1-14-10z"/>
<path transform="translate(-114 -50)" d="M835 2195l14 10 14-1 14-12 15-22 14-30 42-107 14-29 14-21 14-11 15 1 14 11 14 20 42 85 14 25 15 17 14 9 14-3 14-14 14-23 14-31 43-107 14-28 14-20 14-9 14 2 14 12 15 21 42 86 14 24 14 16 14 6 15-4 14-16 14-24 56-139 15-27 14-19 14-7 14 3 14 14 14 22 43 85 14 23 14 15 14 5 14-7 14-17-21 37-14 17-15 6-14-5-14-15-14-22-42-86-15-22-14-13-14-4-14 8-14 18-14 27-57 139-14 25-14 15-14 5-14-7-15-16-14-24-42-85-14-21-14-13-15-2-14 10-14 19-14 28-42 107-15 31-14 24-14 13-14 3-14-8-14-18-14-25-43-85-14-20-14-11-14 0-14 10-15 21-14 29-42 107-14 30-14 22-15 12-14 1-14-10z"/>
<path transform="translate(-103 -45)" d="M835 2171l14 10 14-1 14-12 15-22 14-30 42-106 14-30 14-21 14-10 15 0 14 11 14 20 42 85 14 25 15 18 14 8 14-3 14-13 14-24 14-31 43-107 14-28 14-19 14-10 14 2 14 13 15 21 42 85 14 24 14 16 14 7 15-5 14-15 14-25 56-139 15-27 14-18 14-8 14 4 14 14 14 22 43 85 14 22 14 15 14 5 14-6 14-17-21 37-14 17-15 7-14-5-14-15-14-23-42-85-15-22-14-14-14-3-14 8-14 18-14 27-57 139-14 25-14 15-14 4-14-6-15-16-14-24-42-86-14-21-14-12-15-2-14 9-14 20-14 28-42 107-15 31-14 23-14 14-14 3-14-8-14-18-14-25-43-85-14-20-14-11-14-1-14 11-15 21-14 29-42 107-14 30-14 22-15 12-14 1-14-10z"/>
<path transform="translate(-92 -40)" d="M835 2149l14 10 14-1 14-12 15-22 14-30 42-107 14-29 14-21 14-10 15 0 14 11 14 20 42 85 14 25 15 18 14 8 14-3 14-14 14-23 14-31 43-107 14-28 14-20 14-9 14 2 14 13 15 21 42 85 14 24 14 16 14 6 15-4 14-15 14-25 56-139 15-27 14-18 14-8 14 4 14 13 14 22 43 85 14 23 14 15 14 5 14-6 14-17-21 36-14 17-15 6-14-5-14-14-14-23-42-85-15-22-14-14-14-4-14 8-14 18-14 27-57 139-14 25-14 15-14 5-14-7-15-16-14-24-42-85-14-21-14-12-15-2-14 9-14 19-14 28-42 107-15 31-14 24-14 13-14 3-14-8-14-18-14-25-43-85-14-20-14-11-14 0-14 11-15 20-14 30-42 106-14 30-14 22-15 12-14 1-14-10z"/>
<path transform="translate(-82 -36)" d="M835 2129l14 10 14-1 14-12 15-22 14-30 42-106 14-30 14-21 14-10 15 0 14 11 14 20 42 85 14 25 15 18 14 8 14-3 14-13 14-24 14-31 43-107 14-28 14-19 14-10 14 2 14 13 15 21 42 85 14 24 14 16 14 7 15-5 14-15 14-25 56-139 15-27 14-18 14-8 14 4 14 14 14 22 43 85 14 22 14 15 14 5 14-6 14-17-21 32-14 17-15 7-14-5-14-15-14-23-42-85-15-22-14-14-14-3-14 7-14 19-14 27-57 139-14 24-14 16-14 4-14-6-15-17-14-23-42-86-14-21-14-12-15-2-14 9-14 20-14 28-42 107-15 31-14 23-14 14-14 3-14-9-14-17-14-25-43-85-14-20-14-11-14-1-14 11-15 21-14 29-42 107-14 30-14 22-15 12-14 1-14-10z"/>
<path transform="translate(-71 -31)" d="M835 2113l14 10 14-1 14-12 15-22 14-30 42-107 14-29 14-21 14-10 15 0 14 11 14 20 42 85 14 25 15 18 14 8 14-3 14-13 14-24 14-31 43-107 14-28 14-20 14-9 14 2 14 13 15 21 42 85 14 24 14 16 14 7 15-5 14-15 14-25 56-139 15-27 14-18 14-8 14 4 14 13 14 22 43 85 14 23 14 15 14 5 14-6 14-17-21 26-14 17-15 6-14-4-14-15-14-23-42-85-15-22-14-14-14-3-14 7-14 18-14 28-57 138-14 25-14 16-14 4-14-6-15-17-14-24-42-85-14-21-14-12-15-2-14 9-14 19-14 29-42 106-15 32-14 23-14 14-14 2-14-8-14-18-14-24-43-86-14-20-14-11-14 0-14 11-15 21-14 29-42 106-14 30-14 23-15 11-14 1-14-9z"/>
<path transform="translate(-60 -26)" d="M835 2102l14 9 14-1 14-12 15-22 14-30 42-106 14-29 14-21 14-11 15 0 14 11 14 20 42 85 14 25 15 18 14 8 14-2 14-14 14-24 14-31 43-106 14-29 14-19 14-9 14 2 14 12 15 21 42 85 14 24 14 16 14 7 15-5 14-15 14-25 56-138 15-28 14-18 14-7 14 3 14 14 14 22 43 85 14 23 14 15 14 4 14-6 14-17-21 18-14 17-15 7-14-5-14-15-14-23-42-85-15-22-14-14-14-3-14 7-14 19-14 27-57 139-14 24-14 16-14 4-14-6-15-17-14-23-42-86-14-21-14-12-15-2-14 9-14 20-14 28-42 107-15 31-14 23-14 14-14 3-14-9-14-17-14-25-43-85-14-20-14-11-14-1-14 11-15 21-14 29-42 107-14 30-14 22-15 12-14 1-14-10z"/>
<path transform="translate(-49 -21)" d="M835 2095l14 10 14-1 14-12 15-22 14-30 42-107 14-29 14-21 14-10 15 0 14 11 14 20 42 85 14 25 15 18 14 8 14-3 14-14 14-23 14-31 43-107 14-28 14-20 14-9 14 2 14 13 15 21 42 85 14 24 14 16 14 6 15-4 14-15 14-25 56-139 15-27 14-18 14-8 14 4 14 13 14 22 43 85 14 23 14 15 14 5 14-6 14-17-21 8-14 17-15 6-14-4-14-15-14-23-42-85-15-22-14-14-14-3-14 7-14 18-14 28-57 138-14 25-14 16-14 4-14-6-15-17-14-24-42-85-14-21-14-12-15-2-14 9-14 20-14 28-42 107-15 31-14 23-14 14-14 2-14-8-14-17-14-25-43-85-14-20-14-11-14-1-14 11-15 21-14 29-42 107-14 30-14 22-15 12-14 1-14-10z"/>
<path transform="translate(-38 -17)" d="M835 2094l14 10 14-1 14-12 15-22 14-30 42-107 14-29 14-21 14-10 15 0 14 11 14 20 42 85 14 25 15 18 14 8 14-3 14-14 14-23 14-31 43-107 14-28 14-20 14-9 14 2 14 12 15 22 42 85 14 24 14 16 14 6 15-4 14-15 14-25 56-139 15-27 14-18 14-8 14 4 14 13 14 22 43 85 14 23 14 15 14 5 14-7 14-17-21-1-14 17-15 6-14-5-14-15-14-23-42-85-15-22-14-13-14-4-14 8-14 18-14 27-57 139-14 25-14 15-14 4-14-6-15-16-14-24-42-85-14-21-14-13-15-2-14 9-14 20-14 28-42 107-15 31-14 23-14 14-14 3-14-8-14-18-14-25-43-85-14-20-14-11-14 0-14 10-15 21-14 29-42 107-14 30-14 22-15 12-14 1-14-10z"/>
<path transform="translate(-27 -12)" d="M835 2098l14 10 14-1 14-12 15-22 14-30 42-106 14-29 14-21 14-11 15 0 14 11 14 20 42 85 14 25 15 18 14 8 14-2 14-14 14-24 14-31 43-106 14-29 14-19 14-9 14 2 14 12 15 21 42 85 14 24 14 16 14 7 15-5 14-15 14-25 56-139 15-27 14-18 14-7 14 3 14 14 14 22 43 85 14 23 14 14 14 5 14-6 14-17-21-13-14 17-15 6-14-4-14-15-14-23-42-85-15-22-14-14-14-3-14 7-14 18-14 28-57 138-14 25-14 16-14 4-14-6-15-17-14-24-42-85-14-21-14-12-15-2-14 9-14 19-14 29-42 106-15 32-14 23-14 14-14 2-14-8-14-18-14-24-43-86-14-20-14-11-14 0-14 11-15 21-14 29-42 106-14 30-14 23-15 11-14 1-14-9z"/>
<path transform="translate(-16 -7)" d="M835 2108l14 10 14-1 14-12 15-22 14-30 42-106 14-30 14-21 14-10 15 0 14 11 14 20 42 85 14 25 15 18 14 8 14-3 14-13 14-24 14-31 43-107 14-28 14-19 14-10 14 2 14 13 15 21 42 85 14 24 14 16 14 7 15-5 14-15 14-25 56-139 15-27 14-18 14-8 14 4 14 13 14 23 43 85 14 22 14 15 14 5 14-6 14-17-21-24-14 17-15 6-14-4-14-15-14-23-42-85-15-22-14-14-14-3-14 7-14 18-14 28-57 138-14 25-14 15-14 5-14-7-15-16-14-24-42-85-14-21-14-12-15-2-14 9-14 19-14 29-42 106-15 31-14 24-14 14-14 2-14-8-14-18-14-25-43-85-14-20-14-11-14 0-14 11-15 21-14 29-42 106-14 30-14 22-15 12-14 1-14-9z"/>
<path transform="translate(-5 -2)" d="M835 2123l14 10 14-1 14-12 15-22 14-30 42-107 14-29 14-21 14-11 15 1 14 11 14 20 42 85 14 25 15 17 14 9 14-3 14-14 14-23 14-31 43-107 14-28 14-20 14-9 14 2 14 12 15 21 42 85 14 24 14 17 14 6 15-4 14-16 14-25 56-138 15-27 14-19 14-7 14 3 14 14 14 22 43 85 14 23 14 15 14 5 14-7 14-17-21-33-14 17-15 6-14-5-14-15-14-23-42-85-15-22-14-13-14-4-14 8-14 18-14 27-57 139-14 25-14 15-14 4-14-6-15-16-14-24-42-85-14-21-14-13-15-2-14 9-14 20-14 28-42 107-15 31-14 23-14 14-14 3-14-8-14-18-14-25-43-85-14-20-14-11-14 0-14 10-15 21-14 29-42 107-14 30-14 22-15 12-14 1-14-10z"/>
</g></g>
<path d="M165.9 483.7l2.7 1.2M250.8 462.1l2.7 1.2M335.6 440.6l2.7 1.2M165.9 483.7l-2.9 0.7M100.7 455.3l-2.9 0.7M35.5 426.9l-2.9 0.7M35.5 426.9l-2.9 0.7M35.5 385.5l-2.9 0.7M35.5 344.1l-2.9 0.7M35.5 302.7l-2.9 0.7" fill="none" stroke="#3c3c3c" stroke-width=".9"/>
<path d="M165.9 483.7L335.6 440.6M165.9 483.7L35.5 426.9" fill="none" stroke="#3c3c3c" stroke-width="1"/>
<path d="M35.5 426.9L35.5 302.7" fill="none" stroke="#3c3c3c" stroke-width="1"/>
<g font-size="12.3"><text x="171" y="497.9">-10</text><text x="255.9" y="476.3">0</text><text x="340.7" y="454.8">10</text><g text-anchor="end"><text x="159.3" y="497">-10</text><text x="94.1" y="468.6">0</text><text x="28.9" y="440.2">10</text><text x="29.1" y="429.9">-2</text><text x="29.1" y="388.5">0</text><text x="29.1" y="347.1">2</text><text x="29.1" y="305.7">4</text></g></g></g>
<g clip-path="url(#cd)"><path d="M519.5 486.9L390.2 430.3M390.2 430.3L390.2 307.8M576.4 472.7L447.1 416.1M447.1 416.1L447.1 293.6M633.3 458.5L504 401.9M504 401.9L504 279.4M690.2 444.3L560.9 387.7M560.9 387.7L560.9 265.2M519.5 486.9L690.2 444.3M690.2 444.3L690.2 321.8M476.4 468L647.1 425.4M647.1 425.4L647.1 302.9M433.3 449.2L604 406.6M604 406.6L604 284.1M390.2 430.3L560.9 387.7M560.9 387.7L560.9 265.2M390.2 430.3L560.9 387.7M560.9 387.7L690.2 444.3M390.2 389.5L560.9 346.9M560.9 346.9L690.2 403.5M390.2 348.6L560.9 306M560.9 306L690.2 362.6M390.2 307.8L560.9 265.2M560.9 265.2L690.2 321.8M390.2 430.3L560.9 387.7M690.2 444.3L560.9 387.7" fill="none" stroke="#ccd6d9" stroke-width=".65"/>
<g transform="scale(.2)"><g fill="none" stroke-width="3">
<path stroke="#2767ff" d="M2656 1976l358 181 226 117"/>
<path stroke="#43f8e3" d="M2722 1959l594 296"/>
<path stroke="#abff58" d="M2767 1948l599 295"/>
<path stroke="#ff431f" d="M2803 1939l602 294"/>
<path stroke="#941f1f" d="M3235 2127l202 98"/>
</g>
<g fill="url(#gd)">
<path transform="translate(-641 -281)" d="M2603 2427l43-4 42-8 43-10 156-43 157-35 43-11 42-13 29-11 28-14 29-16 28-20 14-12 29-26 28-33 29-39 28-46 28-55 29-65 28-75-10-3-29 75-28 64-29 55-28 46-29 39-28 33-29 26-14 12-28 20-29 16-28 13-29 11-42 13-43 11-99 22-57 13-157 43-43 11-42 8-43 4z"/>
<path transform="translate(-630 -276)" d="M2603 2427l43-4 42-8 43-10 156-43 157-35 43-11 42-13 29-12 28-13 29-16 28-21 14-11 29-27 28-33 29-39 28-47 28-55 29-64 28-76-21-5-29 75-28 64-29 54-28 47-28 39-29 32-28 27-15 11-28 20-28 16-29 14-28 10-43 14-43 10-99 22-57 13-157 43-42 11-43 8-43 4z"/>
<path transform="translate(-620 -271)" d="M2603 2427l43-4 28-5 28-6 185-50 157-35 43-11 42-14 29-11 28-13 29-17 28-20 14-12 29-27 28-33 29-39 28-47 28-55 29-65 28-75-21-6-29 75-28 64-29 55-28 47-28 39-29 32-28 27-15 12-28 20-28 16-29 13-28 11-43 13-43 11-156 36-157 42-42 11-43 8-43 4z"/>
<path transform="translate(-609 -266)" d="M2603 2426l43-3 28-5 28-6 185-49 185-43 43-13 43-16 28-14 29-16 28-21 14-12 29-27 28-33 29-39 28-47 28-56 29-65 28-75-21-6-29 75-28 65-29 55-28 47-28 39-29 32-28 27-15 12-28 20-28 17-29 13-28 11-43 13-43 11-156 36-157 42-42 11-43 8-43 4z"/>
<path transform="translate(-598 -262)" d="M2603 2426l43-3 28-5 28-6 185-49 185-43 43-13 43-16 28-14 29-17 28-20 14-12 29-28 28-33 29-39 28-48 28-55 29-65 28-76-21-6-29 76-28 64-29 56-28 46-28 40-29 32-28 28-15 11-28 21-28 16-29 14-28 11-43 13-43 11-156 36-185 49-29 7-28 5-43 3z"/>
<path transform="translate(-587 -257)" d="M2603 2426l43-4 28-4 28-6 185-49 185-43 43-13 43-17 28-14 29-16 28-21 14-12 29-28 28-33 29-40 28-47 28-56 29-65 28-76-21-6-29 76-28 65-29 55-28 47-28 40-29 33-28 27-15 12-28 20-28 17-29 13-43 17-42 12-185 43-185 49-29 7-28 4-43 4z"/>
<path transform="translate(-576 -252)" d="M2603 2425l43-3 28-4 28-6 43-11 142-38 143-33 42-11 43-12 43-17 28-14 29-17 28-21 14-12 29-27 28-34 29-40 28-47 28-56 29-66 28-76-21-6-29 76-28 65-29 56-28 47-28 40-29 33-28 27-15 12-28 21-28 16-29 14-43 16-42 13-185 43-185 49-29 7-28 4-43 4z"/>
<path transform="translate(-566 -248)" d="M2603 2425l43-3 28-4 28-6 43-11 142-38 143-33 42-11 43-13 43-16 28-14 29-17 28-21 14-12 29-28 28-34 29-40 28-47 28-57 29-65 28-77-21-5-29 76-28 65-29 56-28 47-28 40-29 33-28 28-15 12-28 20-28 17-29 14-43 16-42 13-185 43-185 49-29 6-28 5-43 3z"/>
<path transform="translate(-555 -243)" d="M2603 2425l43-3 28-5 28-5 43-11 142-38 143-33 42-11 43-13 43-17 28-14 29-17 28-21 14-12 29-28 28-34 29-40 28-48 28-56 29-66 28-77-21-5-29 76-28 65-29 56-28 48-28 40-29 33-28 28-15 12-28 21-28 17-29 14-43 16-42 13-43 11-142 33-142 38-43 10-29 6-28 5-43 3z"/>
<path transform="translate(-544 -238)" d="M2603 2424l43-2 28-5 28-5 43-11 142-37 143-34 42-11 43-13 43-17 28-14 29-17 28-22 14-12 29-28 28-34 29-40 28-48 28-57 29-66 28-77-21-5-29 76-28 66-29 56-28 48-28 40-29 33-28 28-15 12-28 21-28 17-29 14-43 17-42 13-43 11-142 33-142 38-43 10-29 6-28 5-43 3z"/>
<path transform="translate(-533 -233)" d="M2603 2424l43-3 28-4 28-5 43-11 142-37 143-34 42-11 43-13 43-17 28-15 29-17 28-21 14-12 29-29 28-34 29-40 28-48 28-57 29-66 28-77-21-6-29 77-28 66-29 56-28 48-28 40-29 34-28 28-15 12-28 21-28 17-29 14-43 17-42 13-43 11-142 33-142 38-43 10-29 6-28 4-43 3z"/>
<path transform="translate(-523 -229)" d="M2603 2424l43-3 28-4 28-6 43-10 142-37 171-41 43-12 42-16 29-13 14-8 29-18 28-21 14-12 29-29 28-34 29-40 28-49 28-57 29-66 28-77-21-6-29 77-28 66-29 57-28 47-28 41-29 34-28 28-15 12-28 21-28 17-29 15-43 17-42 13-43 11-142 33-142 38-43 10-29 6-28 4-43 3z"/>
<path transform="translate(-512 -224)" d="M2603 2423l43-2 28-4 28-6 43-10 142-37 171-41 43-13 42-15 29-14 28-16 29-19 14-12 28-26 29-31 14-18 29-41 28-48 28-57 29-67 28-77-21-6-29 77-28 67-29 56-28 48-28 41-29 34-28 28-15 12-28 22-28 17-29 14-43 17-42 14-43 11-142 33-142 38-43 10-29 6-28 4-43 3z"/>
<path transform="translate(-501 -219)" d="M2603 2423l14 0 29-2 28-4 28-6 43-10 142-37 171-41 43-13 42-16 29-13 28-16 29-20 14-11 28-26 29-32 14-18 29-41 28-48 28-58 29-66 28-78-21-6-29 77-28 67-29 57-28 48-28 41-29 34-28 28-15 13-28 21-28 18-15 7-28 13-43 16-42 13-171 40-142 38-43 10-29 6-28 4-43 2z"/>
<path transform="translate(-490 -215)" d="M2603 2422l14 0 29-2 28-3 28-6 57-13 128-34 157-37 43-12 42-15 43-20 28-16 29-19 14-12 28-26 29-32 14-18 29-41 28-49 28-57 29-67 28-78-21-6-29 78-28 66-29 58-28 48-28 41-15 18-28 31-29 26-14 11-28 20-29 16-28 13-43 16-42 13-171 41-142 37-43 10-29 5-28 5-43 2z"/>
<path transform="translate(-479 -210)" d="M2603 2422l28-1 29-2 28-5 29-6 170-44 157-37 43-12 42-15 43-20 28-16 29-20 14-12 28-26 29-32 14-18 29-41 28-49 28-58 29-67 28-78-21-6-29 78-28 67-29 57-28 49-28 41-15 18-28 31-29 26-14 12-28 19-29 16-28 14-43 16-42 13-171 41-142 37-43 10-29 5-28 4-28 2-15 0z"/>
<path transform="translate(-469 -205)" d="M2603 2422l28-1 29-3 28-4 29-6 42-10 128-33 157-38 43-13 42-15 43-19 28-17 29-20 14-11 28-27 29-32 14-18 29-41 28-49 28-58 29-68 28-78-21-5-29 77-28 67-29 58-28 49-28 41-15 18-28 31-29 27-14 11-28 20-29 16-42 19-43 15-43 12-156 38-128 33-57 14-29 5-28 4-28 2-15 0z"/>
<path transform="translate(-458 -200)" d="M2603 2421l28 0 29-3 28-4 29-6 42-10 128-33 157-38 43-13 42-15 43-20 28-16 29-20 14-12 28-27 29-32 14-18 29-42 28-49 28-58 29-67 28-79-21-5-29 78-28 67-29 57-28 49-28 42-15 18-28 32-29 26-14 11-28 20-29 17-42 19-43 15-43 12-156 38-171 44-28 6-29 4-28 3-29 1z"/>
<path transform="translate(-447 -196)" d="M2603 2421l28 0 29-3 28-4 29-6 42-10 128-33 157-38 43-13 42-15 43-20 28-17 29-20 14-12 28-26 29-33 14-18 29-42 28-49 28-58 29-68 28-79-21-5-29 78-28 67-29 58-28 49-28 42-15 18-28 32-29 26-14 12-28 20-29 16-42 20-43 15-43 12-156 38-128 33-43 11-28 5-29 5-28 3-29 0z"/>
<path transform="translate(-436 -191)" d="M2603 2421l28-1 29-2 28-5 29-5 327-81 43-13 42-15 43-20 28-17 29-21 14-11 28-27 29-32 14-19 29-42 28-50 28-58 29-68 28-79-21-5-29 78-28 68-29 58-28 49-28 42-15 18-28 32-29 27-14 11-28 20-29 17-42 20-43 15-43 12-156 38-128 33-43 11-28 5-29 5-28 2-29 1z"/>
<path transform="translate(-426 -186)" d="M2603 2420l28 0 29-3 28-4 29-5 42-10 128-33 157-39 43-12 42-16 43-20 28-17 29-20 14-12 28-27 29-32 14-19 29-42 28-50 28-58 29-69 28-79-21-5-29 78-28 68-29 58-28 50-28 42-15 18-28 32-29 27-14 12-28 20-29 16-42 20-43 16-43 12-156 38-128 33-43 10-28 6-29 4-28 3-29 0z"/>
<path transform="translate(-415 -182)" d="M2603 2420l28 0 29-3 28-4 29-5 42-10 128-33 143-35 57-16 42-16 43-20 28-17 29-21 14-12 28-27 29-32 14-19 29-42 28-50 28-59 29-68 28-80-21-5-29 79-28 68-29 58-28 50-28 42-15 18-28 32-29 27-14 12-28 20-29 17-42 20-43 16-43 12-327 81-28 6-29 4-28 3-29 0z"/>
<path transform="translate(-404 -177)" d="M2603 2419l28 0 29-2 28-4 29-5 42-10 128-33 143-35 57-16 42-16 43-21 28-17 29-21 14-11 28-28 29-32 14-19 29-43 28-50 28-58 29-69 28-80-21-5-29 79-28 68-29 59-28 49-28 43-15 18-28 33-29 27-14 11-28 21-29 17-42 20-43 15-43 13-156 39-128 32-43 10-28 6-29 4-28 3-29 0z"/>
<path transform="translate(-393 -172)" d="M2603 2419l28 0 29-2 28-4 29-6 57-13 256-64 57-17 42-16 43-20 28-17 29-21 14-12 28-28 29-32 14-19 29-43 28-50 28-59 29-69 28-79-21-6-29 79-28 69-29 58-28 50-28 43-15 18-28 33-29 27-14 12-28 20-29 17-42 21-43 15-57 17-142 35-128 32-43 10-28 6-29 4-28 2-29 0z"/>
<path transform="translate(-383 -167)" d="M2603 2418l28 1 29-2 28-4 29-6 57-13 256-64 57-17 42-16 43-21 28-17 29-21 14-12 28-27 29-33 14-19 29-43 28-50 28-60 29-69 28-79-21-6-29 79-28 69-29 59-28 50-28 42-15 19-28 33-29 27-14 12-28 21-29 17-42 20-43 16-57 17-142 35-128 32-43 10-28 6-29 4-28 2-29 0z"/>
<path transform="translate(-372 -163)" d="M2603 2418l28 0 29-2 28-4 29-5 57-13 256-64 57-17 42-16 43-21 28-17 29-21 14-13 28-27 29-33 14-19 29-43 28-51 28-59 29-69 28-80-21-6-29 80-28 68-29 59-28 51-28 42-15 19-28 33-29 27-14 12-28 21-29 17-42 21-43 16-57 17-256 64-57 13-28 5-29 4-28 3-29-1z"/>
<path transform="translate(-361 -158)" d="M2603 2418l28 0 29-2 28-4 29-5 57-13 256-64 57-17 42-16 43-21 28-18 29-21 14-12 28-28 29-33 14-19 29-43 28-51 28-60 29-69 28-80-21-6-29 80-28 69-29 59-28 51-28 42-15 19-28 33-29 28-14 12-28 21-29 17-42 21-43 16-57 17-256 64-57 13-28 5-29 4-28 2-29 0z"/>
<path transform="translate(-350 -153)" d="M2603 2417l28 1 29-2 28-4 29-5 57-13 241-60 57-17 43-15 43-19 28-16 14-10 29-21 14-12 28-28 29-33 14-19 29-44 28-51 28-59 29-70 28-80-21-6-29 80-28 69-29 60-28 50-28 43-15 19-28 33-29 28-14 12-28 21-29 18-42 20-43 17-57 17-256 64-57 13-28 5-29 4-28 2-29 0z"/>
<path transform="translate(-339 -149)" d="M2603 2417l28 0 29-2 28-3 29-5 57-13 241-60 57-17 43-15 43-20 28-16 14-9 29-21 14-13 28-28 29-33 14-20 29-43 28-51 28-60 29-70 28-80-21-6-29 80-28 70-29 59-28 51-28 43-15 19-28 33-29 28-14 12-28 22-29 17-42 21-43 16-57 18-256 64-57 13-28 5-29 4-28 2-29-1z"/>
<path transform="translate(-329 -144)" d="M2603 2416l28 1 29-2 28-3 29-5 71-16 227-57 57-17 43-15 43-20 28-16 14-10 29-21 14-12 28-29 29-33 14-20 29-43 28-52 28-60 29-69 28-81-21-6-29 81-28 69-29 60-28 51-28 43-15 19-28 34-29 28-14 12-28 21-14 9-29 16-43 20-42 15-57 16-242 61-57 13-28 5-29 3-28 2-29 0z"/>
<path transform="translate(-318 -139)" d="M2603 2416l28 1 29-2 28-4 29-4 71-16 227-57 57-17 43-16 43-19 28-17 14-9 29-22 14-12 28-29 29-33 14-20 29-43 28-52 28-60 29-70 28-81-21-6-29 81-28 70-29 59-28 52-28 43-15 19-28 34-29 28-14 12-28 21-14 10-29 16-43 19-42 16-57 16-242 61-57 12-28 5-29 4-28 2-29-1z"/>
<path transform="translate(-307 -134)" d="M2603 2415l28 1 29-1 28-4 43-7 57-13 227-57 57-17 43-16 43-20 28-16 14-10 29-22 14-12 28-28 29-35 14-19 29-44 28-51 28-61 29-70 28-81-21-6-29 81-28 70-29 60-28 51-28 44-15 19-28 34-29 28-14 12-28 22-14 9-29 17-43 19-42 16-57 16-228 57-71 16-28 5-29 4-28 1-29 0z"/>
<path transform="translate(-296 -130)" d="M2603 2415l28 1 29-2 28-3 43-7 71-17 213-54 57-16 43-16 43-20 28-17 14-9 29-22 14-13 28-28 29-35 14-19 29-44 28-52 28-60 29-71 28-81-21-6-29 81-28 70-29 61-28 51-28 44-15 19-28 34-29 28-14 13-28 21-14 10-29 16-43 20-42 15-57 17-228 57-71 16-28 5-29 3-28 2-29-1z"/>
<path transform="translate(-286 -125)" d="M2603 2414l28 1 29-1 28-3 43-8 71-16 213-54 57-17 43-16 43-20 28-16 14-10 29-22 14-13 28-28 29-35 14-19 29-44 28-52 28-61 29-71 28-81-21-6-29 81-28 71-29 60-28 52-28 44-15 19-28 34-29 29-14 12-28 22-14 9-29 17-43 20-42 15-57 17-228 57-57 13-42 8-29 3-28 2-29-1z"/>
<path transform="translate(-275 -120)" d="M2603 2414l28 1 29-1 28-3 43-8 71-16 199-50 57-16 29-10 28-11 43-20 28-17 14-10 29-22 14-12 28-29 29-35 14-19 29-45 28-52 28-61 29-71 28-81-21-6-29 82-28 70-29 61-28 52-28 44-15 19-28 34-29 29-14 12-28 22-14 10-29 16-43 20-42 16-57 17-214 54-71 16-42 8-29 3-28 1-29-1z"/>
<path transform="translate(-264 -116)" d="M2603 2413l28 2 29-2 28-3 43-7 71-16 199-50 57-16 29-10 28-11 43-21 28-17 14-9 29-22 14-13 28-29 29-35 14-19 29-45 28-52 28-61 29-71 28-82-21-6-29 82-28 71-29 60-28 52-28 45-15 19-28 34-29 29-14 13-28 22-14 9-29 17-43 20-42 16-57 17-214 54-71 16-42 7-29 4-28 1-29-1z"/>
<path transform="translate(-253 -111)" d="M2603 2413l28 1 29-1 28-3 43-7 71-16 199-50 57-17 29-9 28-11 43-21 28-17 14-10 29-22 14-13 28-29 29-35 14-19 29-45 28-53 28-61 29-71 28-82-21-6-29 82-28 71-29 61-28 52-28 44-15 20-28 34-29 29-14 13-28 22-14 10-29 16-43 21-28 11-28 9-57 17-200 50-71 16-42 7-29 3-28 2-29-2z"/>
<path transform="translate(-242 -106)" d="M2603 2412l28 2 29-1 28-3 43-7 71-16 199-50 57-17 29-9 28-12 43-20 28-18 14-9 29-23 14-13 28-29 29-35 14-20 29-44 28-53 28-62 29-71 28-82-21-6-29 82-28 71-29 61-28 53-28 44-15 20-28 34-29 30-14 12-28 22-14 10-29 17-43 20-28 12-28 9-57 17-200 50-71 16-42 7-29 3-28 1-29-1z"/>
<path transform="translate(-232 -101)" d="M2603 2412l28 1 29 0 28-3 43-7 85-19 185-47 57-17 29-10 28-11 43-21 28-17 14-10 29-23 14-12 28-30 29-35 14-20 29-45 28-53 28-61 29-72 28-82-21-6-29 82-28 72-29 61-28 52-28 45-15 20-28 35-29 29-14 12-28 23-14 10-29 17-43 20-28 11-28 10-57 17-200 50-71 16-42 7-29 3-28 1-29-2z"/>
<path transform="translate(-221 -97)" d="M2603 2411l28 2 29-1 28-3 43-6 85-19 185-47 57-17 29-10 28-11 43-21 28-18 14-10 29-22 14-13 28-30 29-35 14-20 29-45 28-53 28-62 29-72 28-83-21-5-29 83-28 71-29 61-28 53-28 45-15 20-28 35-29 29-14 13-28 22-14 10-29 17-43 21-28 11-28 10-57 17-200 50-71 15-42 7-29 3-28 1-29-1z"/>
<path transform="translate(-210 -92)" d="M2603 2411l28 2 29-1 28-3 43-7 85-19 171-42 71-21 29-10 28-12 43-21 28-17 14-10 29-23 14-13 28-30 29-35 14-20 29-45 28-53 28-63 29-72 28-83-21-5-29 83-28 71-29 62-28 53-28 45-15 20-28 35-29 29-14 13-28 23-14 9-29 18-43 20-28 12-28 10-57 16-185 47-86 19-42 7-29 3-28 1-29-2z"/>
<path transform="translate(-199 -87)" d="M2603 2410l28 2 29 0 28-3 43-7 71-15 171-43 71-20 28-9 29-11 42-20 29-16 14-9 29-21 14-12 28-27 29-33 14-18 28-42 29-49 14-28 28-62 29-72 28-84-21-5-29 83-28 72-29 62-28 53-28 45-15 20-28 35-29 29-14 13-28 23-14 10-29 17-43 21-28 12-28 10-57 16-185 47-86 19-42 7-29 3-28 1-29-2z"/>
<path transform="translate(-189 -83)" d="M2603 2410l28 2 29-1 28-2 29-4 42-9 43-9 157-39 71-20 57-19 28-11 28-14 29-16 14-9 29-21 14-12 28-28 29-33 14-18 28-42 29-50 14-27 28-63 29-72 28-84-21-5-29 83-28 72-29 62-28 53-28 46-15 20-28 35-29 30-14 13-28 22-14 10-29 18-43 21-28 11-28 10-72 21-170 43-86 19-42 7-29 2-28 1-29-2z"/>
<path transform="translate(-178 -78)" d="M2603 2409l28 2 29 0 28-3 29-4 42-8 43-9 157-39 71-20 57-19 28-12 28-13 29-17 14-9 29-21 14-12 28-28 29-33 14-18 28-42 29-50 14-28 28-63 29-72 28-84-21-5-29 83-28 72-29 63-14 27-28 50-29 41-14 19-28 32-29 28-14 12-28 21-15 9-28 16-43 20-28 10-29 10-71 20-171 42-71 16-42 6-29 3-28 1-29-2z"/>
<path transform="translate(-167 -73)" d="M2603 2409l28 2 29-1 28-2 43-6 71-15 157-39 71-20 57-19 28-12 28-14 29-16 14-10 29-21 14-12 28-28 29-33 14-18 28-43 29-49 14-28 28-63 29-73 28-84-21-5-29 83-28 73-29 62-14 28-28 49-29 42-14 19-28 33-29 27-14 12-28 21-15 9-28 17-29 13-28 12-57 19-71 19-157 39-42 10-43 8-28 4-29 3-28 0-29-2z"/>
<path transform="translate(-156 -68)" d="M2603 2408l28 2 29 0 28-2 43-6 43-9 42-10 143-35 71-20 57-20 28-11 28-14 29-17 14-9 29-22 14-12 28-28 29-33 14-18 28-43 29-50 14-28 28-63 29-73 28-84-21-5-29 83-28 73-29 63-14 27-28 50-29 42-14 19-28 33-29 27-14 12-28 22-15 9-28 16-29 14-28 12-57 19-71 19-157 39-42 10-43 8-28 4-29 2-28 1-29-2z"/>
<path transform="translate(-145 -64)" d="M2603 2408l28 2 29 0 28-2 43-7 43-8 42-10 143-35 71-20 57-20 28-12 28-14 29-16 14-10 29-21 14-13 28-28 29-33 14-19 28-42 29-50 14-28 28-64 29-73 28-84-21-5-29 84-28 72-29 63-14 28-28 50-29 42-14 19-28 33-29 28-14 12-28 21-15 9-28 17-29 13-28 12-57 20-71 19-157 39-71 15-42 7-29 2-28 0-29-2z"/>
<path transform="translate(-135 -59)" d="M2603 2407l28 3 29-1 28-2 29-3 42-8 43-10 142-35 86-23 57-20 28-12 28-14 29-17 14-9 29-22 14-12 28-28 29-34 14-19 28-42 29-51 14-28 28-63 29-74 28-84-21-5-29 84-28 73-29 63-14 28-28 50-29 42-14 19-28 33-29 28-14 12-28 21-15 10-28 16-29 14-28 12-57 19-71 20-142 36-43 10-43 8-42 6-29 3-28 0-29-2z"/>
<path transform="translate(-124 -54)" d="M2603 2407l28 2 29 0 28-2 29-4 42-7 43-10 142-35 86-24 57-19 28-13 28-14 29-16 14-10 29-22 14-12 28-28 29-34 14-19 28-43 29-50 14-28 28-64 29-73 28-85-21-5-29 84-28 73-29 63-14 28-28 50-29 43-14 19-28 33-29 28-14 12-28 22-15 9-28 17-29 14-28 12-57 19-71 20-142 36-43 9-43 9-42 6-29 2-28 1-29-3z"/>
<path transform="translate(-113 -50)" d="M2603 2406l28 3 29 0 28-2 43-6 43-8 42-10 128-32 86-24 57-20 28-12 28-14 29-17 14-10 29-21 14-13 28-28 29-34 14-19 28-43 29-51 14-28 28-64 29-73 28-85-21-5-29 84-28 73-29 64-14 28-28 50-29 43-14 19-28 33-29 28-14 13-28 21-15 10-28 16-29 14-28 12-57 20-85 24-143 35-42 9-43 8-28 4-29 2-28 0-29-2z"/>
<path transform="translate(-102 -45)" d="M2603 2405l28 3 29 0 28-2 43-5 43-9 42-9 128-32 86-24 57-20 28-12 28-15 29-17 14-9 29-22 14-13 28-28 29-34 14-19 28-43 29-51 14-29 28-63 29-74 28-85-21-6-29 85-28 74-29 63-14 28-28 51-29 43-14 19-28 33-29 28-14 13-28 22-15 9-28 17-29 14-28 12-57 20-85 24-143 35-42 9-43 8-28 4-29 2-28 0-29-3z"/>
<path transform="translate(-92 -40)" d="M2603 2405l28 3 29 0 28-2 43-6 43-8 42-9 128-32 86-24 57-20 28-13 28-14 29-17 14-10 29-22 14-12 28-29 29-34 14-19 28-44 29-51 14-28 28-64 29-74 28-85-21-6-29 85-28 74-29 64-14 28-28 51-29 43-14 19-28 33-29 29-14 12-28 22-15 10-28 16-29 15-28 12-57 20-85 24-128 31-43 10-43 8-42 6-29 2-28 0-29-2z"/>
<path transform="translate(-81 -35)" d="M2603 2404l28 3 29 1 28-2 43-6 43-8 42-9 128-32 86-24 57-21 28-12 28-15 29-17 14-9 29-23 14-12 28-29 29-34 14-19 28-44 29-51 14-29 28-64 29-74 28-85-21-6-29 85-28 74-29 64-14 28-28 51-29 44-14 19-28 33-29 29-14 12-28 22-15 10-28 17-29 14-28 13-57 20-85 24-128 31-43 10-43 8-42 6-29 2-28 0-29-3z"/>
<path transform="translate(-70 -31)" d="M2603 2404l28 3 29 0 28-2 29-3 42-7 43-9 128-31 85-24 43-14 29-11 28-12 28-15 29-17 14-10 29-22 14-13 28-29 29-34 14-19 28-44 29-51 14-29 28-65 29-74 28-86-21-5-29 85-28 74-29 64-14 29-28 51-29 43-14 20-28 34-29 28-14 13-28 22-15 9-28 17-29 15-28 12-57 20-85 25-128 31-43 10-43 8-42 6-29 1-28 0-29-3z"/>
<path transform="translate(-59 -26)" d="M2603 2403l28 3 29 1 28-2 29-3 42-7 43-9 128-32 85-23 43-14 29-11 28-13 28-15 29-17 14-10 29-22 14-13 28-29 29-34 14-20 28-43 29-52 14-29 28-64 29-75 28-86-21-5-29 86-28 74-29 64-14 29-28 51-29 43-14 20-28 34-29 28-14 13-28 22-15 10-28 17-29 14-28 13-57 20-85 24-128 32-43 10-43 8-42 5-29 2-28 0-29-3z"/>
<path transform="translate(-48 -21)" d="M2603 2403l28 3 29 0 28-1 29-3 42-8 43-8 128-32 85-23 43-15 29-11 28-12 28-15 29-17 14-10 29-23 14-13 28-29 29-34 14-20 28-44 29-51 14-29 28-65 29-75 28-86-21-5-29 86-28 74-29 64-14 29-28 51-29 44-14 19-28 35-29 29-14 12-28 22-15 10-28 17-29 15-28 13-28 10-43 14-85 24-129 31-42 9-43 8-28 3-29 2-28-1-29-3z"/>
<path transform="translate(-38 -17)" d="M2603 2402l28 3 29 1 28-2 29-3 42-7 43-9 128-31 85-24 43-14 29-11 28-13 28-15 29-17 14-10 29-23 14-13 28-29 29-34 14-20 28-44 29-52 14-29 28-65 29-75 28-86-21-5-29 86-28 74-29 65-14 29-28 51-29 44-14 19-28 35-29 29-14 12-28 23-15 10-28 17-29 15-28 12-28 11-43 14-85 24-129 31-42 9-43 7-28 4-29 1-28 0-29-3z"/>
<path transform="translate(-27 -12)" d="M2603 2401l28 4 29 0 28-1 43-5 43-8 42-9 114-28 85-24 43-14 29-11 28-13 28-15 29-18 14-10 29-22 14-13 28-30 29-34 14-20 28-44 29-52 14-29 28-65 29-76 28-86-21-5-29 86-28 75-29 64-14 29-28 52-29 44-14 19-28 35-29 29-14 13-28 22-15 10-28 18-29 14-28 13-28 11-43 14-85 24-129 31-42 9-43 7-28 3-29 2-28-1-29-3z"/>
<path transform="translate(-16 -7)" d="M2603 2401l28 3 29 1 28-1 43-5 43-8 42-9 114-28 85-24 43-14 29-12 28-13 28-15 29-17 14-10 29-23 14-13 28-30 29-35 14-19 28-45 29-52 14-29 28-65 29-76 28-86-21-5-29 86-28 75-29 65-14 29-28 51-29 45-14 19-28 35-29 29-14 13-28 23-15 9-28 18-29 15-28 13-28 11-43 14-85 24-129 31-42 9-43 7-28 3-29 1-28 0-29-4z"/>
<path transform="translate(-5 -2)" d="M2603 2400l28 4 29 1 28-2 43-5 43-7 42-9 114-28 85-24 43-15 29-11 28-13 28-15 29-18 14-10 29-23 14-13 28-30 29-35 14-19 28-45 29-52 14-30 28-65 29-76 28-86-21-6-29 87-28 75-29 65-14 29-28 52-29 45-14 19-28 35-29 29-14 13-28 23-15 10-28 18-29 14-28 13-28 11-43 15-85 24-114 28-43 9-43 8-42 5-29 1-28-1-29-3z"/>
</g></g>
<path d="M440 445.7L533 419.8M482 462l8-7.5M496 459.6L546.7 435.5M520 471l9-7.5M536.6 468.5L568.3 452M548 470L582 463" fill="none" stroke="#0a0a3c" stroke-width=".9" stroke-dasharray=".9 2.3"/><path d="M519.5 486.9l2.7 1.2M576.4 472.7l2.7 1.2M633.3 458.5l2.7 1.2M690.2 444.3l2.7 1.2M519.5 486.9l-2.9 0.7M476.4 468l-2.9 0.7M433.3 449.2l-2.9 0.7M390.2 430.3l-2.9 0.7M390.2 430.3l-2.9 0.7M390.2 389.5l-2.9 0.7M390.2 348.6l-2.9 0.7M390.2 307.8l-2.9 0.7" fill="none" stroke="#3c3c3c" stroke-width=".9"/>
<path d="M519.5 486.9L690.2 444.3M519.5 486.9L390.2 430.3" fill="none" stroke="#3c3c3c" stroke-width="1"/>
<path d="M390.2 430.3L390.2 307.8" fill="none" stroke="#b9c3c6" stroke-width=".8"/>
<g font-size="12.3"><text x="524.6" y="501.1">-5</text><text x="581.5" y="486.9">0</text><text x="638.4" y="472.7">5</text><text x="695.3" y="458.5">10</text><g text-anchor="end"><text x="512.9" y="500.2">-5</text><text x="469.8" y="481.3">0</text><text x="426.7" y="462.5">5</text><text x="383.6" y="443.6">10</text><text x="383.8" y="433.3">0</text><text x="383.8" y="392.4">5</text><text x="383.8" y="351.6">10</text><text x="383.8" y="310.8">15</text></g></g></g>
<g clip-path="url(#ce)"><path d="M156.7 753.2L35.5 701.7M35.5 701.7L35.5 587.9M235.2 733.8L114.1 682.2M114.1 682.2L114.1 568.5M313.8 714.3L192.6 662.8M192.6 662.8L192.6 549M156.7 753.2L313.8 714.3M313.8 714.3L313.8 600.5M96.1 727.5L253.2 688.5M253.2 688.5L253.2 574.8M35.5 701.7L192.6 662.8M192.6 662.8L192.6 549M35.5 701.7L192.6 662.8M192.6 662.8L313.8 714.3M35.5 673.2L192.6 634.3M192.6 634.3L313.8 685.8M35.5 644.8L192.6 605.9M192.6 605.9L313.8 657.4M35.5 616.4L192.6 577.4M192.6 577.4L313.8 628.9M35.5 587.9L192.6 549M192.6 549L313.8 600.5M35.5 701.7L192.6 662.8M313.8 714.3L192.6 662.8" fill="none" stroke="#ccd6d9" stroke-width=".65"/>
<g transform="scale(.2)"><g fill="none" stroke-width="3">
<path stroke="#1f1ffb" d="M959 3352l-22-1 7-5 12 0z"/>
<path stroke="#1f45ff" d="M1385 3546l-23-5-4-6 5-4 8-4 8 0 27 2 4 0 2 2 3 7-7 5zM1089 3407l-10 0 2-3 8 1zM980 3361l-24 3-25-1-21-5-4-9 3-5 16-6 32-2 24 4 10 8 0 4zM376 3500l-21-5-3-5 8-6 4-2 31 0 8 1 5 5 2 4-9 6zM778 3394l-9-1 1-2 9-1z"/>
<path stroke="#3098ff" d="M919 3732l17-7 22-2M1475 3595l7-7 17-7 25-2 14 0M1400 3553l-37-2-20-5-8-8 5-11 15-7 28-1 22 2 23 4 9 8-1 8-13 8zM821 3689l-14 0-22-5-5-9 1-3 14-7 27-1 29 4 8 8-1 3-12 8zM1230 3586l-11 1-25-3-3-1 4-11 1 0 28-2 13 2 6 6-2 3zM962 3644l-11-1 2-3 10 0zM649 3709l19 4 11 9M1280 3501l-26-4-9-10 13-8 24 1 24 4 4 4 0 5-6 6zM718 3632l-12 0 2-4 10 1zM1233 3468l-26 0-11-15 34 9zM1157 3449l-17-6 0-1 12-8 23 1 12 7 3 8zM532 3554l-29 0-10-1-7-6 1-3 10-5 14-1 22 3 5 2zM1089 3420l-16-1-25-4-9-8 2-7 15-7 29-1 11 1 20 5 7 10-10 9zM392 3507l-37-2-20-5-6-9 6-8 15-7 26-2 22 0 26 4 10 8-4 11-14 7zM970 3370l-26 0-31-3-20-5-6-9 1-5 8-9 17-7 25-2 36 2 23 4 11 8 0 10-2 5-13 7zM514 3467l-24-5-2-6 4-5 8-4 26-2 24 2 6 9-16 8zM670 3427l-32-2 9-7 17-6 23 1 6 9-2 1zM774 3406l-15-1-22-5-2-9 15-9 23-3 11 0 27 3 9 8-3 7-15 7zM608 3441l-25-2 7-6 40-6zM201 3519l14 1 22 4 12 8 1 7"/>
<path stroke="#62ffb7" d="M775 3762l20 1M899 3737l10-10 16-7 25-2 31-1M1055 3699l17-8 32-4M1155 3674l5-1M1210 3660l23-7 8 0M1303 3637l6-4 14-7 23-4 21-1M1457 3599l5-7 8-10 17-6 26-2 42 1M1437 3555l-24 3-31 0-36-3-21-5-7-8 0-11 4-10-4-3 4-8-19 1-16-2-31-3-21-5-10-7-4-9-17-6-22-5-25-14-21-5-17-6-4-10-8-8-23-4-30-3-23-5-11-7 0-8 1-2 4-9 14-7 29-1 39 3 6 1 19 5 8 9 2 9 8 9 46 9 14 6 10 8 34 12 10 8 14 6 24 5 21 5 9 8 2 10-2 10 25 4 9 0 54 5 22 4 11 8 0 10-3 8zM836 3696l-48-2-20-6-8-8 4-15 14-7 27-2 43 2 25 4 8 9-8 14-14 8zM1246 3593l-27 2-30-1-30-3 5-7-2-3 6-8 12-8 24-3 31 1 24 4 9 8-6 11zM959 3656l-17 0-23-5-4-9 2-4 14-8 42-3 15 1 17-6 4-3 8-5 45-7 2-2 11-6 19-5 16-1 37 2-2 8 1 2-10 7-21 4-24 3-35 12-48 6 1 2-10 7-14 7zM631 3701l30 4 22 4 10 8 2 11M717 3645l-17-1-23-4-8-9-4-8 3-2-41-10-26-14-21-5-17-6-3-8 3-2 4-8 36 2 15 3 14 6 7 7 0 2 37 11 5 5 1 4 12 7 15 0 38 7 7 9 0 4-11 8zM1126 3542l-15 0-28-3-3-4-1-5 4-6 27-2 24 4 6 8zM860 3600l-21-1 2-7 23 1zM536 3661l28 7 10 9M1052 3510l-12-1-10-8 24 4zM493 3642l4 2M1009 3492l-16-2-19-5 4-6 26-2 9 8zM430 3616l7 1 17 9M557 3564l-31 0-29-2-24-4-11-8 3-12 15-7 27-1 31 1 21 5 5 9-1 8-5 4zM672 3521l-30 0-14-2-7-8 12-7 25-3 26 4-2 7-4 5zM906 3462l-30-4-8-8 2-4 11-8 24-3 19 1 21 5 5 9-1 3-14 8zM736 3495l-12 0 2-5 26-1zM797 3481l-17 1 1-7 15-7 25 4-2 6zM333 3575l20 2 19 6 9 8 2 5M430 3510l-25 3-37-1-30-2-20-6-6-8 2-9 9-9 16-6 25-3 56 0 8 1 28-2 5-9 11-10 14-7 51-5 19-5 15-7 43-8 16-7 18-5 52-5 14-7 9-9 14-7 23-4 46 0 27 4 9 8-4 11-7 7-16 7-26 2-30 0-26 2-14 8-12 8-20 4-25 3-35 12-25 2-21 5-11 8-15 7-25 2-32 0-17 1-17-2-3 7-5 2-5 11-8 10zM1019 3338l3 2 3 10-1 3-4 8 0 4-12 8-23 3-59-2-32-2-21-5-4-9 2-4 2-8 3-3 9-9 5-2M189 3513l40 3 25 4 10 8 1 10-1 7M911 3327l16-2 32 1 30 2 14 3"/>
<path stroke="#96ff71" d="M882 3742l14-21 15-6 26-3 61 0 14-3M1023 3707l12-6 11-8 15-7 49-6 19-5 16-6 42-9 17-6 18-5 49-6 16-7 11-8 13-8 23-3 55-1M1438 3604l6-6 4-7 1-4 6-8-2-4 12-8-174-8 1 10-4 2-5 11-8 10-16 6-81 5-27 15-21 5-23 3-37 11-23 3-21 5-12 7-16 7-24 3-31 0-27 2-15 7-14 20-12 8-25 3-33-1-47-3-22-5-6-9 1-14 2-6-10-8-25-4-29-3-21-5-10-8-6-9-17-6-20-5-26-14-20-5-17-6-6-9-8-8-74-12-10-8-1-10 4-11-2-3 9-9-174-8 5 9-5 4-1 8-2 4-1 7 1 7M762 3757l49 2M1468 3528l1 7-1 7-2 4-1 8-5 4 5 9 104 5M1256 3557l35 2 9-9-2-3 4-10-1-11-10-8-75-12-8-8-6-9-16-6-21-5-26-14-20-5-17-6-6-9-9-8-22-5-29-3-25-4-9-8 1-6 1-14-5-9-22-5-33-2-47-2-25 3-12 8-14 20-16 7-27 2-30 0-25 3-15 7-13 7-20 5-24 3-36 11-24 3-20 5-27 15-81 5-16 6-10 11-4 10-4 2 2 10 139 6-4-9 5-3 6-11 14-7 25-3 29-1 18-5 14-7 44-8 14-7 19-6 28-1 26-2 13-8 7-10 12-8 24-3 34 1 23 1 21 5 5 9-2 11 7 8 23 5 27 3 13 7 9 8 36 12 8 8 13 7 27 3 23 5 7 8-3 11 2 4-10 9zM834 3652l24 0 24-3 12-8 7-10 12-8 26-2 29-1 18-6 15-7 43-8 15-7 18-5 29-1 25-3 13-7 6-11 5-3-3-9-105-5-6 12-8 8-21 4-26 3-35 11-25 3-22 4-8 9-12 8-28 2-22-1-26-4 0-2-5-7-1-10-18-6-22-4-25-15-22-4-18-6-1-9 3-12-104-5-11 9 2 4-2 11 7 8 22 5 27 3 14 7 8 8 36 12 8 8 14 7 27 3 23 5 6 8-2 11 6 9 20 5zM607 3691l12 4 58 6 23 4 10 8-3 21M1012 3546l35 2 4-12-2-9-17-6-23-4-24-15-23-4-18-6-1-10-5-7 0-2-26-4-21-1-28 2-12 8-9 9-22 4-25 3-35 11-25 3-21 4-9 8-6 12 70 3 17-6 11-8 46-7 12-8 17-6 34 1 12 8 4 9 39 10 5 10 12 7zM841 3579l34 1 17-6 11-8 46-7 11-8 18-6-70-3-27 14-28-1-15-17-69-3 12 7 4 10 39 10 5 9zM873 3540l35 2-14-17-28-1-28 14zM1148 3393l7 6 4 9 9 8 43 10 14 6 11 8 34 12 11 7 14 7 43 10 9 8 4 9 7 8 20 6 52 6M316 3567l52 6 20 6 7 8 4 9 10 8 43 10 14 7 11 7 33 12 11 8 14 6 44 10 9 8 4 9 7 6M1039 3346l-2 21 9 8 23 4 58 6 12 4M178 3508l104 5 12-8-2-4 5-8 2-4 4-7 6-6M357 3464l55-1 24-3 13-8 11-8 15-7 49-6 19-5 16-6 42-9 17-6 18-5 50-6 15-7 11-8 11-6M734 3371l15-3 60 0 26-3 16-6 13-21M936 3321l48 2"/>
<path stroke="#f0fc28" d="M856 3748l5-2 10-9 2-3 3-8 2-4-5-9-20-5-33-2-58-2-24 3-11 8-1 4-4 8 0 3 2 10 3 2M980 3707l29-4 15-7 9-9 14-7 51-5 19-5 16-7 42-8 16-7 18-5 51-5 15-7 10-10 5-9 28-2 8 1 57 0 24-3 17-6 8-9 3-9-6-8-20-6-31-2-37-1-24 3-13 8-8 10-5 11-6 2-2 7-18-2-17 1-32 0-24 2-15 7-12 8-21 5-24 2-36 12-24 3-21 4-11 8-14 8-26 2-31 0-26 2-16 7-6 7-4 11 8 8 27 4zM743 3749l15 3 29 2 32 1 16-2M1483 3535l-2 7 1 10 11 8 24 4 41 3M705 3694l2 0 15-7 5-11-1-8-11-7-23-5-29-3-24-4-7-8-5-10-16-6-21-5-26-14-21-5-17-6-5-9-9-7-22-5-31-3-15-2-19 1 3-8-3-3 3-10 0-11-6-8-22-5-36-3-31 0-24 3-12 8-4 8 1 10 11 8 21 4 55 5 8 0 26 4-3 10 3 10 8 8 21 5 25 5 13 6 10 8 35 12 10 8 13 6 47 9 8 9 1 9 9 9 19 5 6 1 39 3zM1244 3550l22-1 15-7 3-12-10-8-24-4-30-2-31 0-1 7-4 4-1 8 5 9 21 5zM822 3644l19 1 24-3 12-8 2-4-8-8-31-4-28 1-15 8-1 3 5 9zM1088 3579l26-3 12-7 0-1-8-7-13-2-30 0-6 4-5 5-1 7zM926 3608l24 4 15-7 2-7-18 1-22 3zM994 3591l27-1 1-5-12 0zM1363 3484l3 5 8 8 19 6 21 2M1159 3510l21 2 4-8 3-2-4-8-17-6-21-5-25-14-41-10 2-2-3-8-8-9-24-4-17-1-25 2-11 8-1 4 7 9 39 7 15 0 11 7 1 4 5 5 37 11 1 2 7 7 13 6 16 3zM743 3603l26-2 4-6-19-5-17-2-4 7zM1292 3454l17 9 7 1M692 3575l24 4-10-8-11-1zM1250 3436l4 2M636 3558l27-2 4-6 0-5-3-4-10-2-19-1-14 0-14 8 6 8zM883 3487l23 1 2-7-21-1zM1172 3403l11 9 27 7M555 3517l12-2 12-8 5-8-1-3 4-7-30-3-30-1-26 2-16 7-6 11 8 8 25 4 31 1zM934 3423l34-1 15-7 4-15-8-8-20-6-48-2-24 3-14 8-8 14 9 9 25 4zM636 3487l17-1 18-5 12-6 2-2 44-7 9-5 4-3 17-6 14 1 43-3 13-8 3-4-4-9-23-5-18 0-25 3-15 7-9 7 1 2-48 6-35 12-25 3-21 4-9 7 1 2-2 8zM1052 3352l1 11 11 8 22 4 29 4M192 3505l41 1 27-2 16-6 9-10 5-7M379 3459l22-1 22-4 15-7 6-4M505 3427l8 0 23-7M586 3407l5-1M642 3393l32-4 18-8M766 3363l31-1 25-2 16-7 10-10M951 3317l21 1"/>
<path stroke="#ff511f" d="M807 3750l26-2 17-7 8-9 2-5-7-9-19-5-31-3-26 0-23 4-13 7-3 5 0 10 12 8 22 4zM962 3701l11 0 24-3 14-9-2-9-22-5-15-1-27 2-15 7-4 7 9 8zM1233 3634l14-1 7-4 4-5-1-6-22-5-29 3-15 8 5 9zM1349 3606l22 0 25-2 16-7 5-8-6-9-19-5-38-2-23 3-14 7-4 11 9 8zM1059 3667l23 1 17-6 10-7-32-2-22 4-1 1zM1117 3653l40-6 7-6-26-2zM1496 3541l2 7 11 8 23 4 13 1M651 3687l11 1 28-1 15-7 3-7-10-8-25-4-15-1-25 3-9 9 0 1 7 9zM1235 3542l14-1 11-5 0-3-6-6-10-1-30 0-5 11 0 1zM571 3645l24 1 12-8-1-1-17-6-33-1 4 8zM536 3623l14 4-10-15-26 0 2 6zM465 3600l24 1 12-8-8-10-26-4-25 2-6 6 0 5 5 4zM1028 3451l10 1 2-4-11 0zM380 3560l12 0 15-7 5-11-8-8-20-5-38-2-23 4-13 8-1 8 10 8 23 4 22 2zM545 3509l7-1 3-11-3-1-25-3-11 1-11 5-2 3 6 6 14 2zM920 3416l31-1 15-7 1-3-6-9-22-5-14 0-24 2-13 8-1 3 9 8zM783 3440l11 0 1-3-11-1zM1068 3358l10 9 20 4M208 3501l14 0 25-2 17-7 8-7M788 3357l22-2 17-7"/>
<path stroke="#dd1f1f" d="M790 3744l31-2 16-6 4-5-5-9-20-5-25-1-24 3-12 9 0 4 11 8zM1378 3598l9-2 7-6-2-5-21-5-25 2-9 6 2 4 5 5zM968 3690l8-1 1-2-8-1zM657 3675l8 1 2-3-9 0zM367 3553l8 0 8-4 5-4-4-6-22-5-24 3-6 5 2 7 3 2z"/>
<path stroke="#6d1f1f" d="M790 3734l12 0 8-5-23-1z"/>
</g>
<g fill="url(#ge)">
<path transform="translate(-601 -255)" d="M789 3536l19-83 20-68 10-22 9-12 10 0 10 10 10 20 10 27 29 89 10 21 10 12 10 1 9-10 10-20 30-87 10-25 9-15 10-5 10 7 10 15 19 39 10 13 10 4 10-8 29-52 10-5 10 5 10 9 10 3 9-8 20-8 10-7 10 2 10 10 9 5 10-6 30-51 9-8 10 3 10 14 20 39 10 15 9 6 10-4 10-16 10-24 29-87 10-20 10-10 10 1 10 11 9 21 30 90 10 27 10 19 9 11 10-1 10-11 10-22 19-69 20-82-10-57-20 83-19 68-10 22-10 12-10 0-10-10-9-20-10-27-30-89-10-21-9-12-10-1-10 10-10 20-29 87-10 25-10 15-10 5-10-7-9-15-20-39-10-13-10-4-9 8-30 52-10 5-10-5-9-9-10-3-10 8-20 8-9 7-10-2-10-10-10-5-10 6-29 51-10 8-10-3-10-14-19-39-10-15-10-6-10 4-10 16-9 24-30 87-10 20-9 10-10-1-10-11-10-21-29-90-10-27-10-19-10-11-10 1-9 11-10 22-20 69-20 82z"/>
<path transform="translate(-591 -251)" d="M789 3585l19-82 20-69 10-22 9-11 10-1 10 11 10 19 10 27 29 90 10 21 10 11 10 1 9-10 10-20 30-87 10-24 9-16 10-4 10 6 10 15 19 39 10 14 10 3 10-8 29-51 10-6 10 5 10 10 10 2 9-7 20-8 10-8 10 3 10 9 9 5 10-5 30-52 9-8 10 4 10 13 20 39 10 15 9 7 10-5 10-15 10-25 29-87 10-20 10-10 10 1 10 12 9 21 30 89 10 27 10 20 9 10 10 0 10-12 10-22 19-68 20-83-20-110-20 82-19 69-10 22-10 11-10 1-10-10-10-20-9-27-30-89-10-21-9-12-10-1-10 10-10 20-29 87-10 24-10 16-10 4-10-6-9-15-20-39-10-13-10-4-10 8-29 52-10 5-10-5-9-10-10-2-10 8-20 7-10 8-9-3-10-9-10-5-10 5-29 52-10 8-10-4-10-13-19-39-10-15-10-7-10 5-10 16-9 24-30 87-10 20-10 10-9-1-10-12-10-21-29-89-10-27-10-20-10-10-10 0-10 12-9 22-20 68-20 83z"/>
<path transform="translate(-581 -247)" d="M789 3625l19-83 20-68 10-22 9-12 10 0 10 10 10 20 10 27 29 89 10 21 10 12 10 1 9-10 10-20 30-87 10-25 9-15 10-5 10 7 10 15 19 39 10 13 10 4 10-8 29-52 10-5 10 5 10 9 10 3 9-8 20-8 10-7 10 2 10 10 9 5 10-6 30-51 9-8 10 3 10 14 20 39 10 15 9 6 10-4 10-16 10-24 29-87 10-20 10-10 10 1 10 11 9 21 30 90 10 27 10 19 9 11 10-1 10-11 10-22 19-69 20-82-20-98-20 83-19 68-10 22-10 12-10 0-10-10-10-20-9-27-30-89-10-21-9-12-10-1-10 10-10 20-29 87-10 25-10 15-10 5-10-7-9-15-20-39-10-13-10-4-10 8-29 52-10 5-10-5-9-9-10-3-10 8-20 7-10 8-9-2-10-10-10-5-10 5-29 52-10 8-10-3-10-14-19-39-10-15-10-6-10 4-10 16-9 24-30 87-10 20-10 10-9-1-10-11-10-21-29-90-10-27-10-19-10-11-10 1-10 11-9 22-20 69-20 82z"/>
<path transform="translate(-571 -242)" d="M789 3649l19-83 20-68 10-22 9-12 10 0 10 10 10 20 10 26 29 90 10 21 10 12 10 1 9-10 10-20 30-87 10-25 9-15 10-5 10 6 10 16 19 39 10 13 10 3 10-7 29-52 10-5 10 5 10 9 10 3 9-8 20-8 10-8 10 3 10 9 9 6 10-6 30-51 9-8 10 3 10 14 20 39 10 15 9 6 10-5 10-15 10-24 29-87 10-20 10-11 10 1 10 12 9 21 30 90 10 27 10 19 9 11 10-1 10-12 10-22 19-68 20-83-20-72-20 83-19 68-10 22-10 12-10 1-10-11-10-19-9-27-30-90-10-21-9-12-10 0-10 10-10 20-29 87-10 24-10 15-10 5-10-6-9-15-20-39-10-14-10-3-10 8-29 51-10 6-10-6-9-9-10-3-10 8-20 8-10 8-9-3-10-9-10-5-10 5-29 52-10 7-10-3-10-13-19-39-10-16-10-6-10 5-10 15-9 25-30 87-10 20-10 10-9-1-10-12-10-21-29-90-10-26-10-20-10-10-10 0-10 12-9 22-20 68-20 83z"/>
<path transform="translate(-561 -238)" d="M789 3654l19-83 20-68 10-22 9-12 10 0 10 10 10 20 10 26 29 90 10 21 10 12 10 1 9-11 10-20 30-87 10-24 9-15 10-5 10 6 10 15 19 39 10 14 10 3 10-8 29-51 10-6 10 6 10 9 10 3 9-8 20-8 10-8 10 3 10 9 9 6 10-6 30-52 9-7 10 3 10 13 20 40 10 15 9 6 10-5 10-15 10-24 29-88 10-20 10-10 10 1 10 12 9 21 30 90 10 26 10 20 9 10 10 0 10-12 10-22 19-68 20-83-20-37-20 83-19 68-10 22-10 12-10 0-10-10-10-20-9-27-30-89-10-21-9-12-10-1-10 10-10 20-29 87-10 25-10 15-10 5-10-7-9-15-20-39-10-13-10-4-10 8-29 52-10 5-10-5-9-9-10-3-10 8-20 7-10 8-9-2-10-10-10-5-10 5-29 52-10 8-10-3-10-14-19-39-10-15-10-6-10 4-10 16-9 24-30 87-10 20-10 10-9-1-10-11-10-21-29-90-10-27-10-19-10-11-10 1-10 11-9 22-20 69-20 82z"/>
<path transform="translate(-550 -234)" d="M789 3639l19-83 20-68 10-22 9-12 10 0 10 10 10 20 10 27 29 89 10 21 10 12 10 1 9-10 10-20 30-87 10-25 9-15 10-5 10 7 10 15 19 39 10 13 10 4 10-8 29-52 10-5 10 5 10 9 10 3 9-8 20-8 10-7 10 2 10 10 9 5 10-6 30-51 9-8 10 3 10 14 20 39 10 15 9 6 10-4 10-16 10-24 29-87 10-20 10-10 10 1 10 11 9 21 30 90 10 27 10 19 9 11 10-1 10-11 10-22 19-69 20-82-20 1-20 83-19 68-10 22-10 11-10 1-10-10-10-20-9-27-30-89-10-21-9-12-10-1-10 10-10 20-29 87-10 24-10 16-10 5-10-7-9-15-20-39-10-13-10-4-10 8-29 52-10 5-10-5-9-9-10-3-10 8-20 7-10 8-9-2-10-10-10-5-10 5-29 52-10 8-10-4-10-13-19-39-10-15-10-6-10 4-10 16-9 24-30 87-10 20-10 10-9-1-10-12-10-21-29-89-10-27-10-20-10-10-10 1-10 11-9 22-20 69-20 82z"/>
<path transform="translate(-540 -230)" d="M789 3608l19-83 20-68 10-22 9-12 10 0 10 10 10 20 10 26 29 90 10 21 10 12 10 1 9-10 10-20 30-88 10-24 9-15 10-5 10 6 10 15 19 40 10 13 10 3 10-7 29-52 10-6 10 6 10 9 10 3 9-8 20-8 10-8 10 3 10 9 9 6 10-6 30-51 9-8 10 3 10 14 20 39 10 15 9 6 10-5 10-15 10-24 29-87 10-20 10-11 10 1 10 12 9 21 30 90 10 26 10 20 9 10 10 0 10-12 10-22 19-68 20-83-20 38-20 82-19 69-10 22-10 11-10 1-10-11-10-19-9-27-30-89-10-22-9-11-10-1-10 10-10 20-29 87-10 24-10 16-10 4-10-6-9-15-20-39-10-14-10-3-10 8-29 52-10 5-10-5-9-10-10-2-10 8-20 7-10 8-9-3-10-9-10-5-10 5-29 52-10 8-10-4-10-13-19-39-10-15-10-7-10 5-10 15-9 25-30 87-10 20-10 10-9-1-10-12-10-21-29-89-10-27-10-20-10-10-10 0-10 12-9 22-20 68-20 83z"/>
<path transform="translate(-530 -225)" d="M789 3566l19-83 20-68 10-22 9-12 10 0 10 10 10 20 10 26 29 90 10 21 10 12 10 1 9-10 10-20 30-87 10-25 9-15 10-5 10 6 10 16 19 39 10 13 10 3 10-7 29-52 10-5 10 5 10 9 10 3 9-8 20-8 10-8 10 3 10 9 9 6 10-6 30-51 9-8 10 3 10 14 20 39 10 15 9 6 10-5 10-15 10-24 29-87 10-20 10-11 10 1 10 12 9 21 30 90 10 27 10 19 9 11 10-1 10-12 10-22 19-68 20-83-20 65-20 83-19 68-10 22-10 12-10 0-10-10-10-20-9-27-30-89-10-21-9-12-10-1-10 10-10 20-29 87-10 25-10 15-10 5-10-7-9-15-20-39-10-13-10-4-10 8-29 52-10 5-10-5-9-9-10-3-10 8-20 8-10 7-9-2-10-10-10-5-10 6-29 51-10 8-10-3-10-14-19-39-10-15-10-6-10 4-10 16-9 24-30 87-10 20-10 10-9-1-10-11-10-21-29-90-10-27-10-19-10-11-10 1-10 11-9 22-20 69-20 82z"/>
<path transform="translate(-520 -221)" d="M789 3521l19-83 20-68 10-22 9-12 10 0 10 10 10 20 10 27 29 89 10 21 10 12 10 1 9-10 10-20 30-87 10-24 9-16 10-5 10 7 10 15 19 39 10 13 10 4 10-8 29-52 10-5 10 5 10 9 10 3 9-8 20-7 10-8 10 2 10 10 9 5 10-5 30-52 9-8 10 3 10 14 20 39 10 15 9 6 10-4 10-16 10-24 29-87 10-20 10-10 10 1 10 11 9 22 30 89 10 27 10 19 9 11 10-1 10-11 10-22 19-69 20-82-20 78-20 83-19 68-10 22-10 11-10 1-10-10-10-20-9-27-30-89-10-21-9-12-10-1-10 10-10 20-29 87-10 24-10 16-10 4-10-6-9-15-20-39-10-13-10-4-10 8-29 52-10 5-10-5-9-10-10-2-10 8-20 7-10 8-9-3-10-9-10-5-10 5-29 52-10 8-10-4-10-13-19-39-10-15-10-7-10 5-10 16-9 24-30 87-10 20-10 10-9-1-10-12-10-21-29-89-10-27-10-20-10-10-10 1-10 11-9 22-20 68-20 83z"/>
<path transform="translate(-510 -217)" d="M789 3482l19-83 20-68 10-22 9-11 10-1 10 10 10 20 10 27 29 89 10 21 10 12 10 1 9-10 10-20 30-87 10-24 9-16 10-5 10 7 10 15 19 39 10 13 10 4 10-8 29-52 10-5 10 5 10 9 10 3 9-8 20-7 10-8 10 2 10 10 9 5 10-5 30-52 9-8 10 4 10 13 20 39 10 15 9 6 10-4 10-16 10-24 29-87 10-20 10-10 10 1 10 12 9 21 30 89 10 27 10 20 9 10 10-1 10-11 10-22 19-69 20-82-20 75-20 83-19 68-10 22-10 11-10 1-10-10-10-20-9-27-30-89-10-21-9-12-10-1-10 10-10 20-29 87-10 24-10 16-10 5-10-7-9-15-20-39-10-13-10-4-10 8-29 52-10 5-10-5-9-9-10-3-10 8-20 7-10 8-9-2-10-10-10-5-10 5-29 52-10 8-10-4-10-13-19-39-10-15-10-6-10 4-10 16-9 24-30 87-10 20-10 10-9-1-10-12-10-21-29-89-10-27-10-20-10-10-10 1-10 11-9 22-20 69-20 82z"/>
<path transform="translate(-500 -212)" d="M789 3457l19-83 20-68 10-22 9-12 10 0 10 10 10 20 10 26 29 90 10 21 10 12 10 1 9-10 10-20 30-88 10-24 9-15 10-5 10 6 10 15 19 40 10 13 10 3 10-7 29-52 10-6 10 6 10 9 10 3 9-8 20-8 10-8 10 3 10 9 9 6 10-6 30-51 9-8 10 3 10 13 20 40 10 15 9 6 10-5 10-15 10-24 29-87 10-20 10-11 10 1 10 12 9 21 30 90 10 26 10 20 9 10 10 0 10-12 10-22 19-68 20-83-20 56-20 83-19 68-10 22-10 12-10 0-10-10-10-20-9-27-30-89-10-21-9-12-10-1-10 10-10 20-29 87-10 25-10 15-10 5-10-7-9-15-20-39-10-13-10-3-10 7-29 52-10 5-10-5-9-9-10-3-10 8-20 8-10 7-9-2-10-10-10-5-10 6-29 51-10 8-10-3-10-14-19-39-10-15-10-6-10 4-10 16-9 24-30 87-10 20-10 10-9-1-10-11-10-21-29-90-10-27-10-19-10-11-10 1-10 11-9 22-20 69-20 82z"/>
<path transform="translate(-490 -208)" d="M789 3450l19-83 20-68 10-22 9-12 10 0 10 10 10 20 10 26 29 90 10 21 10 12 10 1 9-10 10-20 30-87 10-25 9-15 10-5 10 6 10 16 19 39 10 13 10 3 10-7 29-52 10-5 10 5 10 9 10 3 9-8 20-8 10-8 10 3 10 9 9 6 10-6 30-51 9-8 10 3 10 14 20 39 10 15 9 6 10-5 10-15 10-24 29-87 10-20 10-11 10 1 10 12 9 21 30 90 10 27 10 19 9 11 10-1 10-12 10-22 19-68 20-83-20 24-20 83-19 68-10 22-10 12-10 0-10-10-10-20-9-26-30-90-10-21-9-12-10-1-10 10-10 20-29 87-10 25-10 15-10 5-10-6-9-16-20-39-10-13-10-3-10 7-29 52-10 5-10-5-9-9-10-3-10 8-20 8-10 8-9-3-10-9-10-6-10 6-29 51-10 8-10-3-10-14-19-39-10-15-10-6-10 5-10 15-9 24-30 87-10 20-10 11-9-1-10-12-10-21-29-90-10-27-10-19-10-11-10 1-10 12-9 22-20 68-20 83z"/>
<path transform="translate(-480 -204)" d="M789 3462l19-82 20-69 10-22 9-11 10-1 10 11 10 19 10 27 29 90 10 21 10 11 10 1 9-10 10-20 30-87 10-24 9-16 10-4 10 6 10 15 19 39 10 14 10 3 10-8 29-52 10-5 10 5 10 10 10 2 9-8 20-7 10-8 10 3 10 9 9 5 10-5 30-52 9-8 10 4 10 13 20 39 10 15 9 7 10-5 10-15 10-25 29-87 10-20 10-10 10 1 10 12 9 21 30 89 10 27 10 20 9 10 10 0 10-12 10-22 19-68 20-83-20-14-20 82-19 69-10 22-10 11-10 1-10-10-10-20-9-27-30-89-10-21-9-12-10-1-10 10-10 20-29 87-10 24-10 16-10 4-10-6-9-15-20-39-10-13-10-4-10 8-29 52-10 5-10-5-9-10-10-2-10 8-20 7-10 8-9-3-10-9-10-5-10 5-29 52-10 8-10-4-10-13-19-39-10-15-10-7-10 5-10 16-9 24-30 87-10 20-10 10-9-1-10-12-10-21-29-89-10-27-10-20-10-10-10 1-10 11-9 22-20 68-20 83z"/>
<path transform="translate(-470 -200)" d="M789 3491l19-83 20-68 10-22 9-12 10 0 10 10 10 20 10 27 29 89 10 21 10 12 10 1 9-10 10-20 30-87 10-25 9-15 10-5 10 6 10 16 19 39 10 13 10 3 10-7 29-52 10-5 10 5 10 9 10 3 9-8 20-8 10-7 10 2 10 10 9 5 10-6 30-51 9-8 10 3 10 14 20 39 10 15 9 6 10-4 10-16 10-24 29-87 10-20 10-10 10 0 10 12 9 21 30 90 10 27 10 19 9 11 10-1 10-11 10-22 19-69 20-82-20-50-20 83-19 68-10 22-10 11-10 1-10-10-10-20-9-27-30-89-10-21-9-12-10-1-10 10-10 20-29 87-10 24-10 16-10 5-10-7-9-15-20-39-10-13-10-4-10 8-29 52-10 5-10-5-9-9-10-3-10 8-20 7-10 8-9-2-10-10-10-5-10 5-29 52-10 8-10-4-10-13-19-39-10-15-10-6-10 4-10 16-9 24-30 87-10 20-10 10-9-1-10-12-10-21-29-89-10-27-10-20-10-10-10 1-10 11-9 22-20 69-20 82z"/>
<path transform="translate(-460 -195)" d="M789 3528l19-83 20-68 10-22 9-12 10 0 10 10 10 20 10 26 29 90 10 21 10 12 10 1 9-10 10-20 30-88 10-24 9-15 10-5 10 6 10 15 19 40 10 13 10 3 10-7 29-52 10-6 10 6 10 9 10 3 9-8 20-8 10-8 10 3 10 9 9 6 10-6 30-51 9-8 10 3 10 13 20 40 10 15 9 6 10-5 10-15 10-24 29-87 10-20 10-11 10 1 10 12 9 21 30 90 10 26 10 20 9 10 10 0 10-12 10-22 19-68 20-83-20-74-20 83-19 68-10 22-10 12-10 1-10-11-10-20-9-26-30-90-10-21-9-12-10-1-10 11-10 20-29 87-10 24-10 15-10 5-10-6-9-15-20-39-10-14-10-3-10 8-29 51-10 6-10-6-9-9-10-3-10 8-20 8-10 8-9-3-10-9-10-6-10 6-29 52-10 7-10-3-10-13-19-39-10-16-10-6-10 5-10 15-9 25-30 87-10 20-10 10-9-1-10-12-10-21-29-90-10-26-10-20-10-10-10 0-10 12-9 22-20 68-20 83z"/>
<path transform="translate(-449 -191)" d="M789 3563l19-83 20-68 10-22 9-12 10 0 10 10 10 20 10 27 29 89 10 21 10 12 10 1 9-10 10-20 30-87 10-25 9-15 10-5 10 7 10 15 19 39 10 13 10 4 10-8 29-52 10-5 10 5 10 9 10 3 9-8 20-8 10-7 10 2 10 10 9 5 10-6 30-51 9-8 10 3 10 14 20 39 10 15 9 6 10-4 10-16 10-24 29-87 10-20 10-10 10 1 10 11 9 21 30 90 10 27 10 19 9 11 10-1 10-11 10-22 19-69 20-82-20-81-20 83-19 68-10 22-10 12-10 0-10-10-10-20-9-27-30-89-10-21-9-12-10-1-10 10-10 20-29 87-10 24-10 16-10 5-10-7-9-15-20-39-10-13-10-4-10 8-29 52-10 5-10-5-9-9-10-3-10 8-20 7-10 8-9-2-10-10-10-5-10 5-29 52-10 8-10-4-10-13-19-39-10-15-10-6-10 4-10 16-9 24-30 87-10 20-10 10-9-1-10-11-10-22-29-89-10-27-10-19-10-11-10 1-10 11-9 22-20 69-20 82z"/>
<path transform="translate(-439 -187)" d="M789 3587l19-83 20-68 10-22 9-12 10-1 10 11 10 19 10 27 29 90 10 21 10 12 10 1 9-11 10-20 30-87 10-24 9-15 10-5 10 6 10 15 19 39 10 14 10 3 10-8 29-51 10-6 10 6 10 9 10 3 9-8 20-8 10-8 10 3 10 9 9 5 10-5 30-52 9-7 10 3 10 13 20 39 10 16 9 6 10-5 10-15 10-25 29-87 10-20 10-10 10 1 10 12 9 21 30 90 10 26 10 20 9 10 10 0 10-12 10-22 19-68 20-83-20-67-20 82-19 69-10 22-10 11-10 1-10-10-10-20-9-27-30-89-10-21-9-12-10-1-10 10-10 20-29 87-10 24-10 16-10 4-10-6-9-15-20-39-10-13-10-4-10 8-29 52-10 5-10-5-9-10-10-2-10 8-20 7-10 8-9-3-10-9-10-5-10 5-29 52-10 8-10-4-10-13-19-39-10-15-10-7-10 5-10 16-9 24-30 87-10 20-10 10-9-1-10-12-10-21-29-89-10-27-10-20-10-10-10 1-10 11-9 22-20 68-20 83z"/>
<path transform="translate(-429 -182)" d="M789 3592l19-83 20-68 10-22 9-12 10 0 10 10 10 20 10 27 29 89 10 21 10 12 10 1 9-10 10-20 30-87 10-25 9-15 10-5 10 7 10 15 19 39 10 13 10 4 10-8 29-52 10-5 10 5 10 9 10 3 9-8 20-8 10-7 10 2 10 10 9 5 10-6 30-51 9-8 10 3 10 14 20 39 10 15 9 6 10-4 10-16 10-24 29-87 10-20 10-10 10 1 10 11 9 21 30 90 10 27 10 19 9 11 10-1 10-11 10-22 19-69 20-82-20-38-20 83-19 68-10 22-10 12-10 0-10-10-10-20-9-27-30-89-10-21-9-12-10-1-10 10-10 20-29 87-10 25-10 15-10 5-10-7-9-15-20-39-10-13-10-4-10 8-29 52-10 5-10-5-9-9-10-3-10 8-20 7-10 8-9-2-10-10-10-5-10 5-29 52-10 8-10-3-10-14-19-39-10-15-10-6-10 4-10 16-9 24-30 87-10 20-10 10-9-1-10-11-10-22-29-89-10-27-10-19-10-11-10 1-10 11-9 22-20 69-20 82z"/>
<path transform="translate(-419 -178)" d="M789 3578l19-82 20-69 10-22 9-11 10-1 10 10 10 20 10 27 29 89 10 21 10 12 10 1 9-10 10-20 30-87 10-24 9-16 10-4 10 6 10 15 19 39 10 13 10 4 10-8 29-52 10-5 10 5 10 10 10 2 9-8 20-7 10-8 10 3 10 9 9 5 10-5 30-52 9-8 10 4 10 13 20 39 10 15 9 7 10-5 10-16 10-24 29-87 10-20 10-10 10 1 10 12 9 21 30 89 10 27 10 20 9 10 10-1 10-11 10-22 19-68 20-83-20 0-20 82-19 69-10 22-10 11-10 1-10-11-10-19-9-27-30-90-10-21-9-11-10-1-10 10-10 20-29 87-10 24-10 16-10 4-10-6-9-15-20-39-10-14-10-3-10 8-29 51-10 6-10-5-9-10-10-2-10 7-20 8-10 8-9-3-10-9-10-5-10 5-29 52-10 8-10-4-10-13-19-39-10-15-10-7-10 5-10 15-9 25-30 87-10 20-10 10-9-1-10-12-10-21-29-89-10-27-10-20-10-10-10 0-10 12-9 22-20 68-20 83z"/>
<path transform="translate(-409 -174)" d="M789 3551l19-83 20-68 10-22 9-12 10 0 10 10 10 20 10 27 29 89 10 21 10 12 10 1 9-10 10-20 30-87 10-24 9-16 10-5 10 7 10 15 19 39 10 13 10 4 10-8 29-52 10-5 10 5 10 9 10 3 9-8 20-7 10-8 10 2 10 10 9 5 10-5 30-52 9-8 10 3 10 14 20 39 10 15 9 6 10-4 10-16 10-24 29-87 10-20 10-10 10 1 10 11 9 22 30 89 10 27 10 19 9 11 10-1 10-11 10-22 19-69 20-82-20 32-20 83-19 68-10 22-10 12-10 0-10-10-10-20-9-27-30-89-10-21-9-12-10-1-10 10-10 20-29 87-10 25-10 15-10 5-10-7-9-15-20-39-10-13-10-4-10 8-29 52-10 5-10-5-9-9-10-3-10 8-20 8-10 7-9-2-10-10-10-5-10 6-29 51-10 8-10-3-10-14-19-39-10-15-10-6-10 4-10 16-9 24-30 87-10 20-10 10-9-1-10-11-10-21-29-90-10-27-10-19-10-11-10 1-10 11-9 22-20 69-20 82z"/>
<path transform="translate(-399 -170)" d="M789 3522l19-83 20-68 10-22 9-12 10 0 10 10 10 20 10 26 29 90 10 21 10 12 10 1 9-11 10-19 30-88 10-24 9-15 10-5 10 6 10 15 19 40 10 13 10 3 10-7 29-52 10-6 10 6 10 9 10 3 9-8 20-8 10-8 10 3 10 9 9 6 10-6 30-51 9-8 10 3 10 13 20 40 10 15 9 6 10-5 10-15 10-24 29-88 10-19 10-11 10 1 10 12 9 21 30 90 10 26 10 20 9 10 10 0 10-12 10-22 19-68 20-83-20 48-20 83-19 68-10 22-10 12-10 0-10-10-10-20-9-26-30-90-10-21-9-12-10-1-10 10-10 20-29 88-10 24-10 15-10 5-10-6-9-15-20-40-10-13-10-3-10 7-29 52-10 6-10-6-9-9-10-3-10 8-20 8-10 8-9-3-10-9-10-6-10 6-29 51-10 8-10-3-10-13-19-40-10-15-10-6-10 5-10 15-9 24-30 87-10 20-10 11-9-1-10-12-10-21-29-90-10-26-10-20-10-10-10 0-10 12-9 22-20 68-20 83z"/>
<path transform="translate(-389 -165)" d="M789 3503l19-83 20-68 10-22 9-12 10 0 10 10 10 20 10 26 29 90 10 21 10 12 10 1 9-10 10-20 30-87 10-25 9-15 10-5 10 6 10 16 19 39 10 13 10 3 10-7 29-52 10-6 10 6 10 9 10 3 9-8 20-8 10-8 10 3 10 9 9 6 10-6 30-51 9-8 10 3 10 14 20 39 10 15 9 6 10-5 10-15 10-24 29-87 10-20 10-11 10 1 10 12 9 21 30 90 10 26 10 20 9 10 10 0 10-12 10-22 19-68 20-83-20 40-20 83-19 68-10 22-10 12-10 0-10-10-10-20-9-27-30-89-10-21-9-12-10-1-10 10-10 20-29 87-10 25-10 15-10 5-10-7-9-15-20-39-10-13-10-3-10 7-29 52-10 5-10-5-9-9-10-3-10 8-20 8-10 7-9-2-10-10-10-5-10 6-29 51-10 8-10-3-10-14-19-39-10-15-10-6-10 4-10 16-9 24-30 87-10 20-10 10-9-1-10-11-10-21-29-90-10-27-10-19-10-11-10 1-10 11-9 22-20 69-20 82z"/>
<path transform="translate(-379 -161)" d="M789 3502l19-82 20-68 10-23 9-11 10-1 10 11 10 19 10 27 29 90 10 21 10 12 10 0 9-10 10-20 30-87 10-24 9-16 10-4 10 6 10 15 19 39 10 14 10 3 10-8 29-51 10-6 10 5 10 10 10 3 9-8 20-8 10-8 10 3 10 9 9 5 10-5 30-52 9-7 10 3 10 13 20 39 10 16 9 6 10-5 10-15 10-25 29-87 10-20 10-10 10 1 10 12 9 21 30 89 10 27 10 20 9 10 10 0 10-12 10-22 19-68 20-83-20 11-20 82-19 69-10 22-10 11-10 1-10-10-10-20-9-27-30-89-10-21-9-12-10-1-10 10-10 20-29 87-10 24-10 16-10 4-10-6-9-15-20-39-10-13-10-4-10 8-29 52-10 5-10-5-9-10-10-2-10 8-20 7-10 8-9-3-10-9-10-5-10 5-29 52-10 8-10-4-10-13-19-39-10-15-10-7-10 5-10 16-9 24-30 87-10 20-10 10-9-1-10-12-10-21-29-89-10-27-10-20-10-10-10 0-10 12-9 22-20 68-20 83z"/>
<path transform="translate(-369 -157)" d="M789 3520l19-83 20-68 10-22 9-12 10 0 10 10 10 20 10 26 29 90 10 21 10 12 10 1 9-11 10-20 30-87 10-24 9-15 10-5 10 6 10 15 19 39 10 14 10 3 10-8 29-51 10-6 10 6 10 9 10 3 9-8 20-8 10-8 10 3 10 9 9 6 10-6 30-52 9-7 10 3 10 13 20 40 10 15 9 6 10-5 10-15 10-25 29-87 10-20 10-10 10 1 10 12 9 21 30 90 10 26 10 20 9 10 10 0 10-12 10-22 19-68 20-83-20-25-20 83-19 68-10 22-10 11-10 1-10-10-10-20-9-27-30-89-10-21-9-12-10-1-10 10-10 20-29 87-10 24-10 16-10 5-10-7-9-15-20-39-10-13-10-4-10 8-29 52-10 5-10-5-9-9-10-3-10 8-20 7-10 8-9-3-10-9-10-5-10 5-29 52-10 8-10-4-10-13-19-39-10-15-10-6-10 4-10 16-9 24-30 87-10 20-10 10-9-1-10-12-10-21-29-89-10-27-10-20-10-10-10 1-10 11-9 22-20 68-20 83z"/>
<path transform="translate(-359 -152)" d="M789 3542l19-83 20-68 10-22 9-12 10 0 10 10 10 20 10 27 29 89 10 21 10 12 10 1 9-10 10-20 30-87 10-25 9-15 10-5 10 7 10 15 19 39 10 13 10 4 10-8 29-52 10-5 10 5 10 9 10 3 9-8 20-7 10-8 10 2 10 10 9 5 10-6 30-51 9-8 10 3 10 14 20 39 10 15 9 6 10-4 10-16 10-24 29-87 10-20 10-10 10 1 10 11 9 21 30 90 10 27 10 19 9 11 10-1 10-11 10-22 19-69 20-82-20-48-20 82-19 69-10 22-10 11-10 1-10-11-10-19-9-27-30-90-10-21-9-11-10-1-10 10-10 20-29 87-10 24-10 16-10 4-10-6-9-15-20-39-10-14-10-3-10 8-29 51-10 6-10-5-9-10-10-2-10 7-20 8-10 8-9-3-10-9-10-5-10 5-29 52-10 8-10-4-10-13-19-39-10-15-10-7-10 5-10 15-9 25-30 87-10 20-10 10-9-1-10-12-10-21-29-89-10-27-10-20-10-10-10 0-10 12-9 22-20 68-20 83z"/>
<path transform="translate(-348 -148)" d="M789 3553l19-83 20-68 10-22 9-12 10 0 10 10 10 20 10 27 29 89 10 21 10 12 10 1 9-10 10-20 30-87 10-24 9-16 10-5 10 7 10 15 19 39 10 13 10 4 10-8 29-52 10-5 10 5 10 9 10 3 9-8 20-7 10-8 10 2 10 10 9 5 10-5 30-52 9-8 10 4 10 13 20 39 10 15 9 6 10-4 10-16 10-24 29-87 10-20 10-10 10 1 10 12 9 21 30 89 10 27 10 20 9 10 10-1 10-11 10-22 19-69 20-82-20-42-20 82-19 69-10 22-10 11-10 1-10-11-10-19-9-27-30-90-10-21-9-11-10-1-10 10-10 20-29 87-10 24-10 16-10 4-10-6-9-15-20-39-10-14-10-3-10 8-29 52-10 5-10-5-9-10-10-2-10 8-20 7-10 8-9-3-10-9-10-5-10 5-29 52-10 8-10-4-10-13-19-39-10-15-10-7-10 5-10 15-9 25-30 87-10 20-10 10-9-1-10-12-10-21-29-89-10-27-10-20-10-10-10 0-10 12-9 22-20 68-20 83z"/>
<path transform="translate(-338 -144)" d="M789 3545l19-83 20-68 10-22 9-11 10-1 10 10 10 20 10 27 29 89 10 21 10 12 10 1 9-10 10-20 30-87 10-24 9-16 10-5 10 7 10 15 19 39 10 13 10 4 10-8 29-52 10-5 10 5 10 9 10 3 9-8 20-7 10-8 10 2 10 10 9 5 10-5 30-52 9-8 10 4 10 13 20 39 10 15 9 6 10-4 10-16 10-24 29-87 10-20 10-10 10 1 10 12 9 21 30 89 10 27 10 20 9 10 10-1 10-11 10-22 19-69 20-82-20-12-20 83-19 68-10 22-10 12-10 0-10-10-10-20-9-27-30-89-10-21-9-12-10-1-10 10-10 20-29 87-10 25-10 15-10 5-10-7-9-15-20-39-10-13-10-4-10 8-29 52-10 5-10-5-9-9-10-3-10 8-20 8-10 7-9-2-10-10-10-5-10 6-29 51-10 8-10-3-10-14-19-39-10-15-10-6-10 4-10 16-9 24-30 87-10 20-10 10-9-1-10-11-10-21-29-90-10-27-10-19-10-11-10 1-10 11-9 22-20 69-20 82z"/>
<path transform="translate(-328 -139)" d="M789 3530l19-82 20-69 10-22 9-11 10-1 10 11 10 19 10 27 29 90 10 21 10 11 10 1 9-10 10-20 30-87 10-24 9-16 10-4 10 6 10 15 19 39 10 14 10 3 10-8 29-51 10-6 10 5 10 10 10 2 9-7 20-8 10-8 10 3 10 9 9 5 10-5 30-52 9-8 10 4 10 13 20 39 10 15 9 7 10-5 10-15 10-25 29-87 10-20 10-10 10 1 10 12 9 21 30 89 10 27 10 20 9 10 10 0 10-12 10-22 19-68 20-83-20 14-20 83-19 68-10 22-10 12-10 0-10-10-10-20-9-26-30-90-10-21-9-12-10-1-10 10-10 20-29 87-10 25-10 15-10 5-10-6-9-16-20-39-10-13-10-3-10 7-29 52-10 5-10-5-9-9-10-3-10 8-20 8-10 8-9-3-10-9-10-6-10 6-29 51-10 8-10-3-10-14-19-39-10-15-10-6-10 5-10 15-9 24-30 87-10 20-10 10-9 0-10-12-10-21-29-90-10-27-10-19-10-11-10 1-10 12-9 22-20 68-20 82z"/>
<path transform="translate(-318 -135)" d="M789 3531l19-82 20-69 10-22 9-11 10-1 10 10 10 20 10 27 29 89 10 21 10 12 10 1 9-10 10-20 30-87 10-24 9-16 10-4 10 6 10 15 19 39 10 13 10 4 10-8 29-52 10-5 10 5 10 10 10 2 9-8 20-7 10-8 10 3 10 9 9 5 10-5 30-52 9-8 10 4 10 13 20 39 10 15 9 7 10-5 10-16 10-24 29-87 10-20 10-10 10 1 10 12 9 21 30 89 10 27 10 20 9 10 10 0 10-12 10-22 19-68 20-83-20 5-20 83-19 68-10 22-10 12-10 0-10-10-10-20-9-26-30-90-10-21-9-12-10-1-10 10-10 20-29 87-10 25-10 15-10 5-10-6-9-16-20-39-10-13-10-3-10 7-29 52-10 5-10-5-9-9-10-3-10 8-20 8-10 8-9-3-10-9-10-6-10 6-29 51-10 8-10-3-10-14-19-39-10-15-10-6-10 5-10 15-9 24-30 87-10 20-10 11-9-1-10-12-10-21-29-90-10-26-10-20-10-11-10 1-10 12-9 22-20 68-20 83z"/>
<path transform="translate(-308 -131)" d="M789 3535l19-83 20-68 10-22 9-12 10 0 10 10 10 20 10 27 29 89 10 21 10 12 10 1 9-10 10-20 30-87 10-24 9-16 10-5 10 7 10 15 19 39 10 13 10 4 10-8 29-52 10-5 10 5 10 9 10 3 9-8 20-7 10-8 10 2 10 10 9 5 10-5 30-52 9-8 10 4 10 13 20 39 10 15 9 6 10-4 10-16 10-24 29-87 10-20 10-10 10 1 10 11 9 22 30 89 10 27 10 19 9 11 10-1 10-11 10-22 19-69 20-82-20-13-20 82-19 69-10 22-10 11-10 1-10-11-10-19-9-27-30-90-10-21-9-12-10 0-10 10-10 20-29 87-10 24-10 16-10 4-10-6-9-15-20-39-10-14-10-3-10 8-29 51-10 6-10-5-9-10-10-2-10 7-20 8-10 8-9-3-10-9-10-5-10 5-29 52-10 7-10-3-10-13-19-39-10-16-10-6-10 5-10 15-9 25-30 87-10 20-10 10-9-1-10-12-10-21-29-89-10-27-10-20-10-10-10 0-10 12-9 22-20 68-20 83z"/>
<path transform="translate(-298 -127)" d="M789 3539l19-83 20-68 10-22 9-12 10 0 10 10 10 20 10 27 29 89 10 21 10 12 10 1 9-10 10-20 30-87 10-25 9-15 10-5 10 7 10 15 19 39 10 13 10 3 10-7 29-52 10-5 10 5 10 9 10 3 9-8 20-8 10-7 10 2 10 10 9 5 10-6 30-51 9-8 10 3 10 14 20 39 10 15 9 6 10-4 10-16 10-24 29-87 10-20 10-10 10 1 10 11 9 21 30 90 10 27 10 19 9 11 10-1 10-11 10-22 19-69 20-82-20-17-20 83-19 68-10 22-10 12-10 0-10-10-10-20-9-26-30-90-10-21-9-12-10-1-10 10-10 20-29 88-10 24-10 15-10 5-10-6-9-15-20-40-10-13-10-3-10 7-29 52-10 6-10-6-9-9-10-3-10 8-20 8-10 8-9-3-10-9-10-6-10 6-29 51-10 8-10-3-10-13-19-40-10-15-10-6-10 5-10 15-9 24-30 88-10 19-10 11-9-1-10-12-10-21-29-90-10-26-10-20-10-10-10 0-10 12-9 22-20 68-20 83z"/>
<path transform="translate(-288 -122)" d="M789 3540l19-83 20-68 10-22 9-12 10 0 10 10 10 20 10 26 29 90 10 21 10 12 10 1 9-10 10-20 30-88 10-24 9-15 10-5 10 6 10 15 19 40 10 13 10 3 10-7 29-52 10-6 10 6 10 9 10 3 9-8 20-8 10-8 10 3 10 9 9 6 10-6 30-51 9-8 10 3 10 13 20 40 10 15 9 6 10-5 10-15 10-24 29-88 10-19 10-11 10 1 10 12 9 21 30 90 10 26 10 20 9 10 10 0 10-12 10-22 19-68 20-83-20-13-20 83-19 68-10 22-10 12-10 0-10-10-10-20-9-27-30-89-10-21-9-12-10-1-10 10-10 20-29 87-10 25-10 15-10 5-10-6-9-16-20-39-10-13-10-3-10 7-29 52-10 5-10-5-9-9-10-3-10 8-20 8-10 7-9-2-10-10-10-5-10 6-29 51-10 8-10-3-10-14-19-39-10-15-10-6-10 4-10 16-9 24-30 87-10 20-10 10-9 0-10-12-10-21-29-90-10-27-10-19-10-11-10 1-10 11-9 22-20 69-20 82z"/>
<path transform="translate(-278 -118)" d="M789 3525l19-83 20-68 10-22 9-12 10 0 10 10 10 20 10 27 29 89 10 21 10 12 10 1 9-10 10-20 30-87 10-25 9-15 10-5 10 7 10 15 19 39 10 13 10 4 10-8 29-52 10-5 10 5 10 9 10 3 9-8 20-7 10-8 10 2 10 10 9 5 10-6 30-51 9-8 10 3 10 14 20 39 10 15 9 6 10-4 10-16 10-24 29-87 10-20 10-10 10 1 10 11 9 21 30 90 10 27 10 19 9 11 10-1 10-11 10-22 19-69 20-82-20 5-20 83-19 68-10 22-10 12-10 0-10-10-10-20-9-27-30-89-10-21-9-12-10-1-10 10-10 20-29 87-10 25-10 15-10 5-10-7-9-15-20-39-10-13-10-4-10 8-29 52-10 5-10-5-9-9-10-3-10 8-20 7-10 8-9-2-10-10-10-5-10 5-29 52-10 8-10-3-10-14-19-39-10-15-10-6-10 4-10 16-9 24-30 87-10 20-10 10-9-1-10-11-10-22-29-89-10-27-10-19-10-11-10 1-10 11-9 22-20 69-20 82z"/>
<path transform="translate(-268 -114)" d="M789 3517l19-83 20-68 10-22 9-12 10 0 10 10 10 20 10 27 29 89 10 21 10 12 10 1 9-10 10-20 30-87 10-25 9-15 10-5 10 7 10 15 19 39 10 13 10 4 10-8 29-52 10-5 10 5 10 9 10 3 9-8 20-7 10-8 10 2 10 10 9 5 10-5 30-52 9-8 10 3 10 14 20 39 10 15 9 6 10-4 10-16 10-24 29-87 10-20 10-10 10 1 10 11 9 21 30 90 10 27 10 19 9 11 10-1 10-11 10-22 19-69 20-82-20 14-20 82-19 69-10 22-10 11-10 1-10-10-10-20-9-27-30-89-10-21-9-12-10-1-10 10-10 20-29 87-10 24-10 16-10 4-10-6-9-15-20-39-10-13-10-4-10 8-29 52-10 5-10-5-9-10-10-2-10 8-20 7-10 8-9-3-10-9-10-5-10 5-29 52-10 8-10-4-10-13-19-39-10-15-10-7-10 5-10 16-9 24-30 87-10 20-10 10-9-1-10-12-10-21-29-89-10-27-10-20-10-10-10 0-10 12-9 22-20 68-20 83z"/>
<path transform="translate(-258 -109)" d="M789 3528l19-83 20-68 10-22 9-11 10-1 10 10 10 20 10 27 29 89 10 21 10 12 10 1 9-10 10-20 30-87 10-24 9-16 10-5 10 7 10 15 19 39 10 13 10 4 10-8 29-52 10-5 10 5 10 9 10 3 9-8 20-7 10-8 10 2 10 10 9 5 10-5 30-52 9-8 10 4 10 13 20 39 10 15 9 6 10-4 10-16 10-24 29-87 10-20 10-10 10 1 10 12 9 21 30 89 10 27 10 20 9 10 10-1 10-11 10-22 19-69 20-82-20-12-20 83-19 68-10 22-10 12-10 0-10-10-10-20-9-27-30-89-10-21-9-12-10-1-10 10-10 20-29 87-10 25-10 15-10 5-10-7-9-15-20-39-10-13-10-4-10 8-29 52-10 5-10-5-9-9-10-3-10 8-20 8-10 7-9-2-10-10-10-5-10 6-29 51-10 8-10-3-10-14-19-39-10-15-10-6-10 4-10 16-9 24-30 87-10 20-10 10-9-1-10-11-10-21-29-90-10-27-10-19-10-11-10 1-10 11-9 22-20 69-20 82z"/>
<path transform="translate(-247 -105)" d="M789 3551l19-83 20-68 10-22 9-12 10-1 10 11 10 19 10 27 29 90 10 21 10 12 10 0 9-10 10-20 30-87 10-24 9-15 10-5 10 6 10 15 19 39 10 14 10 3 10-8 29-51 10-6 10 6 10 9 10 3 9-8 20-8 10-8 10 3 10 9 9 5 10-5 30-52 9-7 10 3 10 13 20 39 10 16 9 6 10-5 10-15 10-25 29-87 10-20 10-10 10 1 10 12 9 21 30 90 10 26 10 20 9 10 10 0 10-12 10-22 19-68 20-83-20-42-20 83-19 68-10 22-10 12-10 0-10-10-10-20-9-27-30-89-10-21-9-12-10-1-10 10-10 20-29 87-10 25-10 15-10 5-10-7-9-15-20-39-10-13-10-4-10 8-29 52-10 5-10-5-9-9-10-3-10 8-20 8-10 7-9-2-10-10-10-5-10 6-29 51-10 8-10-3-10-14-19-39-10-15-10-6-10 4-10 16-9 24-30 87-10 20-10 10-9-1-10-11-10-21-29-90-10-27-10-19-10-11-10 1-10 11-9 22-20 69-20 82z"/>
<path transform="translate(-237 -101)" d="M789 3568l19-83 20-68 10-22 9-12 10 0 10 10 10 20 10 26 29 90 10 21 10 12 10 1 9-11 10-19 30-88 10-24 9-15 10-5 10 6 10 15 19 40 10 13 10 3 10-8 29-51 10-6 10 6 10 9 10 3 9-8 20-8 10-8 10 3 10 9 9 6 10-6 30-52 9-7 10 3 10 13 20 40 10 15 9 6 10-5 10-15 10-24 29-88 10-20 10-10 10 1 10 12 9 21 30 90 10 26 10 20 9 10 10 0 10-12 10-22 19-68 20-83-20-48-20 83-19 68-10 22-10 12-10 0-10-10-10-20-9-26-30-90-10-21-9-12-10-1-10 10-10 20-29 87-10 25-10 15-10 5-10-6-9-16-20-39-10-13-10-3-10 7-29 52-10 5-10-5-9-9-10-3-10 8-20 8-10 8-9-3-10-9-10-6-10 6-29 51-10 8-10-3-10-14-19-39-10-15-10-6-10 5-10 15-9 24-30 87-10 20-10 11-9-1-10-12-10-21-29-90-10-26-10-20-10-11-10 1-10 12-9 22-20 68-20 83z"/>
<path transform="translate(-227 -97)" d="M789 3567l19-82 20-69 10-22 9-11 10-1 10 11 10 19 10 27 29 90 10 21 10 11 10 1 9-10 10-20 30-87 10-24 9-16 10-4 10 6 10 15 19 39 10 14 10 3 10-8 29-51 10-6 10 5 10 10 10 2 9-7 20-8 10-8 10 3 10 9 9 5 10-5 30-52 9-8 10 4 10 13 20 39 10 15 9 7 10-5 10-15 10-25 29-87 10-20 10-10 10 1 10 12 9 21 30 89 10 27 10 20 9 10 10 0 10-12 10-22 19-68 20-83-20-25-20 82-19 69-10 22-10 11-10 1-10-11-10-19-9-27-30-90-10-21-9-11-10-1-10 10-10 20-29 87-10 24-10 16-10 4-10-6-9-15-20-39-10-14-10-3-10 8-29 51-10 6-10-5-9-10-10-2-10 7-20 8-10 8-9-3-10-9-10-5-10 5-29 52-10 8-10-4-10-13-19-39-10-15-10-7-10 5-10 15-9 25-30 87-10 20-10 10-9-1-10-12-10-21-29-89-10-27-10-20-10-10-10 0-10 12-9 22-20 68-20 83z"/>
<path transform="translate(-217 -92)" d="M789 3548l19-82 20-69 10-22 9-11 10-1 10 11 10 19 10 27 29 90 10 21 10 11 10 1 9-10 10-20 30-87 10-24 9-16 10-4 10 6 10 15 19 39 10 14 10 3 10-8 29-51 10-6 10 5 10 10 10 2 9-7 20-8 10-8 10 3 10 9 9 5 10-5 30-52 9-7 10 3 10 13 20 39 10 15 9 7 10-5 10-15 10-25 29-87 10-20 10-10 10 1 10 12 9 21 30 89 10 27 10 20 9 10 10 0 10-12 10-22 19-68 20-83-20 11-20 82-19 69-10 22-10 11-10 1-10-11-10-19-9-27-30-89-10-22-9-11-10-1-10 10-10 20-29 87-10 24-10 16-10 4-10-6-9-15-20-39-10-14-10-3-10 8-29 52-10 5-10-5-9-10-10-2-10 8-20 7-10 8-9-3-10-9-10-5-10 5-29 52-10 8-10-4-10-13-19-39-10-15-10-7-10 5-10 16-9 24-30 87-10 20-10 10-9-1-10-12-10-21-29-89-10-27-10-20-10-10-10 0-10 12-9 22-20 68-20 83z"/>
<path transform="translate(-207 -88)" d="M789 3519l19-83 20-68 10-22 9-12 10 0 10 10 10 20 10 27 29 89 10 21 10 12 10 1 9-10 10-20 30-87 10-24 9-16 10-5 10 7 10 15 19 39 10 13 10 4 10-8 29-52 10-5 10 5 10 9 10 3 9-8 20-7 10-8 10 2 10 10 9 5 10-5 30-52 9-8 10 4 10 13 20 39 10 15 9 6 10-4 10-16 10-24 29-87 10-20 10-10 10 1 10 11 9 22 30 89 10 27 10 20 9 10 10-1 10-11 10-22 19-69 20-82-20 39-20 83-19 68-10 22-10 12-10 1-10-11-10-19-9-27-30-90-10-21-9-12-10-1-10 11-10 20-29 87-10 24-10 15-10 5-10-6-9-15-20-39-10-14-10-3-10 8-29 51-10 6-10-6-9-9-10-3-10 8-20 8-10 8-9-3-10-9-10-5-10 5-29 52-10 7-10-3-10-13-19-39-10-16-10-6-10 5-10 15-9 25-30 87-10 20-10 10-9-1-10-12-10-21-29-90-10-26-10-20-10-10-10 0-10 12-9 22-20 68-20 83z"/>
<path transform="translate(-197 -84)" d="M789 3492l19-83 20-68 10-22 9-12 10 0 10 10 10 20 10 27 29 89 10 21 10 12 10 1 9-10 10-20 30-87 10-25 9-15 10-5 10 7 10 15 19 39 10 13 10 4 10-8 29-52 10-5 10 5 10 9 10 3 9-8 20-8 10-7 10 2 10 10 9 5 10-6 30-51 9-8 10 3 10 14 20 39 10 15 9 6 10-4 10-16 10-24 29-87 10-20 10-10 10 1 10 11 9 21 30 90 10 27 10 19 9 11 10-1 10-11 10-22 19-69 20-82-20 48-20 82-19 69-10 22-10 11-10 1-10-11-10-19-9-27-30-90-10-21-9-12-10 0-10 10-10 20-29 87-10 24-10 16-10 4-10-6-9-15-20-39-10-14-10-3-10 8-29 51-10 6-10-5-9-10-10-2-10 7-20 8-10 8-9-3-10-9-10-5-10 5-29 52-10 7-10-3-10-13-19-39-10-16-10-6-10 5-10 15-9 25-30 87-10 20-10 10-9-1-10-12-10-21-29-89-10-27-10-20-10-10-10 0-10 12-9 22-20 68-20 83z"/>
<path transform="translate(-187 -79)" d="M789 3478l19-83 20-68 10-22 9-11 10-1 10 10 10 20 10 27 29 89 10 21 10 12 10 1 9-10 10-20 30-87 10-24 9-16 10-5 10 7 10 15 19 39 10 13 10 4 10-8 29-52 10-5 10 5 10 9 10 3 9-8 20-7 10-8 10 3 10 9 9 5 10-5 30-52 9-8 10 4 10 13 20 39 10 15 9 6 10-4 10-16 10-24 29-87 10-20 10-10 10 1 10 12 9 21 30 89 10 27 10 20 9 10 10-1 10-11 10-22 19-68 20-83-20 32-20 83-19 68-10 22-10 12-10 0-10-10-10-20-9-27-30-89-10-21-9-12-10-1-10 10-10 20-29 87-10 25-10 15-10 5-10-6-9-16-20-39-10-13-10-3-10 7-29 52-10 5-10-5-9-9-10-3-10 8-20 8-10 8-9-3-10-10-10-5-10 6-29 51-10 8-10-3-10-14-19-39-10-15-10-6-10 4-10 16-9 24-30 87-10 20-10 10-9 0-10-12-10-21-29-90-10-27-10-19-10-11-10 1-10 11-9 23-20 68-20 82z"/>
<path transform="translate(-177 -75)" d="M789 3484l19-83 20-68 10-22 9-12 10 0 10 10 10 20 10 26 29 90 10 21 10 12 10 1 9-11 10-20 30-87 10-24 9-15 10-5 10 6 10 15 19 39 10 14 10 3 10-8 29-51 10-6 10 6 10 9 10 3 9-8 20-8 10-8 10 3 10 9 9 6 10-6 30-52 9-7 10 3 10 13 20 39 10 16 9 6 10-5 10-15 10-25 29-87 10-20 10-10 10 1 10 12 9 21 30 90 10 26 10 20 9 10 10 0 10-12 10-22 19-68 20-83-20 0-20 83-19 68-10 22-10 12-10 0-10-10-10-20-9-27-30-89-10-21-9-12-10-1-10 10-10 20-29 87-10 25-10 15-10 5-10-7-9-15-20-39-10-13-10-4-10 8-29 52-10 5-10-5-9-9-10-3-10 8-20 7-10 8-9-2-10-10-10-5-10 5-29 52-10 8-10-3-10-14-19-39-10-15-10-6-10 4-10 16-9 24-30 87-10 20-10 10-9-1-10-11-10-21-29-90-10-27-10-19-10-11-10 1-10 11-9 22-20 69-20 82z"/>
<path transform="translate(-167 -71)" d="M789 3507l19-82 20-69 10-22 9-11 10-1 10 10 10 20 10 27 29 89 10 21 10 12 10 1 9-10 10-20 30-87 10-24 9-16 10-4 10 6 10 15 19 39 10 13 10 4 10-8 29-52 10-5 10 5 10 10 10 2 9-8 20-7 10-8 10 3 10 9 9 5 10-5 30-52 9-8 10 4 10 13 20 39 10 15 9 7 10-5 10-16 10-24 29-87 10-20 10-10 10 1 10 12 9 21 30 89 10 27 10 20 9 10 10 0 10-12 10-22 19-68 20-83-20-38-20 83-19 68-10 22-10 12-10 0-10-10-10-20-9-26-30-90-10-21-9-12-10-1-10 10-10 20-29 87-10 25-10 15-10 5-10-6-9-16-20-39-10-13-10-3-10 7-29 52-10 6-10-6-9-9-10-3-10 8-20 8-10 8-9-3-10-9-10-6-10 6-29 51-10 8-10-3-10-14-19-39-10-15-10-6-10 5-10 15-9 24-30 87-10 20-10 11-9-1-10-12-10-21-29-90-10-26-10-20-10-10-10 0-10 12-9 22-20 68-20 83z"/>
<path transform="translate(-157 -67)" d="M789 3542l19-82 20-69 10-22 9-11 10-1 10 11 10 19 10 27 29 90 10 21 10 11 10 1 9-10 10-20 30-87 10-24 9-16 10-4 10 6 10 15 19 39 10 14 10 3 10-8 29-51 10-6 10 5 10 10 10 2 9-7 20-8 10-8 10 3 10 9 9 5 10-5 30-52 9-8 10 4 10 13 20 39 10 15 9 7 10-5 10-15 10-25 29-87 10-20 10-10 10 1 10 12 9 21 30 89 10 27 10 20 9 10 10 0 10-12 10-22 19-68 20-83-20-67-20 82-19 69-10 22-10 11-10 1-10-11-10-19-9-27-30-90-10-21-9-11-10-1-10 10-10 20-29 87-10 24-10 16-10 4-10-6-9-15-20-39-10-14-10-3-10 8-29 52-10 5-10-5-9-10-10-2-10 8-20 7-10 8-9-3-10-9-10-5-10 5-29 52-10 8-10-4-10-13-19-39-10-15-10-7-10 5-10 15-9 25-30 87-10 20-10 10-9-1-10-12-10-21-29-89-10-27-10-20-10-10-10 0-10 12-9 22-20 68-20 83z"/>
<path transform="translate(-146 -62)" d="M789 3579l19-82 20-69 10-22 9-11 10-1 10 11 10 19 10 27 29 89 10 22 10 11 10 1 9-10 10-20 30-87 10-24 9-16 10-4 10 6 10 15 19 39 10 13 10 4 10-8 29-52 10-5 10 5 10 10 10 2 9-8 20-7 10-8 10 3 10 9 9 5 10-5 30-52 9-8 10 4 10 13 20 39 10 15 9 7 10-5 10-16 10-24 29-87 10-20 10-10 10 1 10 12 9 21 30 89 10 27 10 20 9 10 10 0 10-12 10-22 19-68 20-83-20-81-20 83-19 68-10 22-10 12-10 0-10-10-10-20-9-26-30-90-10-21-9-12-10-1-10 10-10 20-29 88-10 24-10 15-10 5-10-6-9-15-20-40-10-13-10-3-10 7-29 52-10 6-10-6-9-9-10-3-10 8-20 8-10 8-9-3-10-9-10-6-10 6-29 51-10 8-10-3-10-13-19-40-10-15-10-6-10 5-10 15-9 24-30 88-10 19-10 11-9-1-10-12-10-21-29-90-10-26-10-20-10-10-10 0-10 12-9 22-20 68-20 83z"/>
<path transform="translate(-136 -58)" d="M789 3608l19-83 20-68 10-22 9-12 10 0 10 10 10 20 10 26 29 90 10 21 10 12 10 1 9-10 10-20 30-87 10-25 9-15 10-5 10 6 10 16 19 39 10 13 10 3 10-7 29-52 10-5 10 5 10 9 10 3 9-8 20-8 10-8 10 3 10 9 9 6 10-6 30-51 9-8 10 3 10 14 20 39 10 15 9 6 10-5 10-15 10-24 29-87 10-20 10-11 10 1 10 12 9 21 30 90 10 26 10 20 9 11 10-1 10-12 10-22 19-68 20-83-20-73-20 82-19 68-10 23-10 11-10 1-10-11-10-19-9-27-30-90-10-21-9-12-10 0-10 10-10 20-29 87-10 24-10 16-10 4-10-6-9-15-20-39-10-14-10-3-10 8-29 51-10 6-10-5-9-10-10-3-10 8-20 8-10 8-9-3-10-9-10-5-10 5-29 52-10 7-10-3-10-13-19-39-10-16-10-6-10 5-10 15-9 25-30 87-10 20-10 10-9-1-10-12-10-21-29-89-10-27-10-20-10-10-10 0-10 12-9 22-20 68-20 83z"/>
<path transform="translate(-126 -54)" d="M789 3620l19-82 20-69 10-22 9-11 10-1 10 11 10 19 10 27 29 90 10 21 10 11 10 1 9-10 10-20 30-87 10-24 9-16 10-4 10 6 10 15 19 39 10 14 10 3 10-8 29-52 10-5 10 5 10 10 10 2 9-8 20-7 10-8 10 3 10 9 9 5 10-5 30-52 9-8 10 4 10 13 20 39 10 15 9 7 10-5 10-15 10-25 29-87 10-20 10-10 10 1 10 12 9 21 30 89 10 27 10 20 9 10 10 0 10-12 10-22 19-68 20-83-20-50-20 83-19 68-10 22-10 12-10 0-10-10-10-20-9-26-30-90-10-21-9-12-10-1-10 11-10 19-29 88-10 24-10 15-10 5-10-6-9-15-20-40-10-13-10-3-10 8-29 51-10 6-10-6-9-9-10-3-10 8-20 8-10 8-9-3-10-9-10-6-10 6-29 52-10 7-10-3-10-13-19-40-10-15-10-6-10 5-10 15-9 24-30 88-10 19-10 11-9-1-10-12-10-21-29-90-10-26-10-20-10-10-10 0-10 12-9 22-20 68-20 83z"/>
<path transform="translate(-116 -49)" d="M789 3613l19-82 20-69 10-22 9-11 10-1 10 11 10 19 10 27 29 90 10 21 10 11 10 1 9-10 10-20 30-87 10-24 9-16 10-4 10 6 10 15 19 39 10 14 10 3 10-8 29-51 10-6 10 5 10 10 10 2 9-7 20-8 10-8 10 3 10 9 9 5 10-5 30-52 9-8 10 4 10 13 20 39 10 15 9 7 10-5 10-15 10-25 29-87 10-20 10-10 10 1 10 12 9 21 30 89 10 27 10 20 9 10 10 0 10-12 10-22 19-68 20-83-20-14-20 83-19 68-10 22-10 11-10 1-10-10-10-20-9-27-30-89-10-21-9-12-10-1-10 10-10 20-29 87-10 24-10 16-10 5-10-7-9-15-20-39-10-13-10-4-10 8-29 52-10 5-10-5-9-9-10-3-10 8-20 7-10 8-9-2-10-10-10-5-10 5-29 52-10 8-10-4-10-13-19-39-10-15-10-6-10 4-10 16-9 24-30 87-10 20-10 10-9-1-10-12-10-21-29-89-10-27-10-20-10-10-10 1-10 11-9 22-20 69-20 82z"/>
<path transform="translate(-106 -45)" d="M789 3588l19-83 20-68 10-22 9-12 10 0 10 10 10 20 10 27 29 89 10 21 10 12 10 1 9-10 10-20 30-87 10-25 9-15 10-5 10 7 10 15 19 39 10 13 10 4 10-8 29-52 10-5 10 5 10 9 10 3 9-8 20-7 10-8 10 2 10 10 9 5 10-5 30-52 9-8 10 3 10 14 20 39 10 15 9 6 10-4 10-16 10-24 29-87 10-20 10-10 10 1 10 11 9 21 30 90 10 27 10 19 9 11 10-1 10-11 10-22 19-69 20-82-20 23-20 83-19 68-10 22-10 12-10 1-10-11-10-20-9-26-30-90-10-21-9-12-10-1-10 11-10 20-29 87-10 24-10 15-10 5-10-6-9-15-20-39-10-14-10-3-10 8-29 51-10 6-10-6-9-9-10-3-10 8-20 8-10 8-9-3-10-9-10-6-10 6-29 52-10 7-10-3-10-13-19-39-10-16-10-6-10 5-10 15-9 25-30 87-10 20-10 10-9-1-10-12-10-21-29-90-10-26-10-20-10-10-10 0-10 12-9 22-20 68-20 83z"/>
<path transform="translate(-96 -41)" d="M789 3549l19-83 20-68 10-22 9-12 10 0 10 10 10 20 10 27 29 89 10 21 10 12 10 1 9-10 10-20 30-87 10-24 9-16 10-5 10 7 10 15 19 39 10 13 10 4 10-8 29-52 10-5 10 5 10 9 10 3 9-8 20-7 10-8 10 2 10 10 9 5 10-5 30-52 9-8 10 4 10 13 20 39 10 15 9 6 10-4 10-16 10-24 29-87 10-20 10-10 10 1 10 11 9 22 30 89 10 27 10 20 9 10 10-1 10-11 10-22 19-69 20-82-20 56-20 82-19 68-10 23-10 11-10 1-10-11-10-19-9-27-30-90-10-21-9-12-10 0-10 10-10 20-29 87-10 24-10 16-10 4-10-6-9-15-20-39-10-14-10-3-10 8-29 51-10 6-10-5-9-10-10-3-10 8-20 8-10 8-9-3-10-9-10-5-10 5-29 52-10 7-10-3-10-13-19-39-10-16-10-6-10 5-10 15-9 25-30 87-10 20-10 10-9-1-10-12-10-21-29-89-10-27-10-20-10-10-10 0-10 12-9 22-20 68-20 83z"/>
<path transform="translate(-86 -36)" d="M789 3504l19-82 20-69 10-22 9-11 10-1 10 11 10 19 10 27 29 90 10 21 10 11 10 1 9-10 10-20 30-87 10-24 9-16 10-4 10 6 10 15 19 39 10 14 10 3 10-8 29-52 10-5 10 5 10 10 10 2 9-8 20-7 10-8 10 3 10 9 9 5 10-5 30-52 9-8 10 4 10 13 20 39 10 15 9 7 10-5 10-15 10-25 29-87 10-20 10-10 10 1 10 12 9 21 30 89 10 27 10 20 9 10 10 0 10-12 10-22 19-68 20-83-20 75-20 83-19 68-10 22-10 12-10 0-10-10-10-20-9-27-30-89-10-21-9-12-10-1-10 10-10 20-29 87-10 25-10 15-10 5-10-7-9-15-20-39-10-13-10-4-10 8-29 52-10 5-10-5-9-9-10-3-10 8-20 8-10 7-9-2-10-10-10-5-10 6-29 51-10 8-10-3-10-14-19-39-10-15-10-6-10 4-10 16-9 24-30 87-10 20-10 10-9-1-10-11-10-21-29-90-10-27-10-19-10-11-10 1-10 11-9 22-20 69-20 82z"/>
<path transform="translate(-76 -32)" d="M789 3462l19-82 20-69 10-22 9-11 10-1 10 11 10 19 10 27 29 90 10 21 10 11 10 1 9-10 10-20 30-87 10-24 9-16 10-4 10 6 10 15 19 39 10 14 10 3 10-8 29-51 10-6 10 5 10 10 10 2 9-7 20-8 10-8 10 3 10 9 9 5 10-5 30-52 9-8 10 4 10 13 20 39 10 15 9 7 10-5 10-15 10-25 29-87 10-20 10-10 10 1 10 12 9 21 30 89 10 27 10 20 9 10 10 0 10-12 10-22 19-68 20-83-20 78-20 83-19 68-10 22-10 12-10 0-10-10-10-20-9-27-30-89-10-21-9-12-10-1-10 10-10 20-29 87-10 25-10 15-10 5-10-6-9-16-20-39-10-13-10-3-10 7-29 52-10 5-10-5-9-9-10-3-10 8-20 8-10 8-9-3-10-10-10-5-10 6-29 51-10 8-10-3-10-14-19-39-10-15-10-6-10 4-10 16-9 24-30 87-10 20-10 10-9 0-10-12-10-21-29-90-10-27-10-19-10-11-10 1-10 11-9 23-20 68-20 82z"/>
<path transform="translate(-66 -28)" d="M789 3431l19-83 20-68 10-22 9-11 10-1 10 10 10 20 10 27 29 89 10 21 10 12 10 1 9-10 10-20 30-87 10-24 9-16 10-4 10 6 10 15 19 39 10 13 10 4 10-8 29-52 10-5 10 5 10 9 10 3 9-8 20-7 10-8 10 3 10 9 9 5 10-5 30-52 9-8 10 4 10 13 20 39 10 15 9 7 10-5 10-16 10-24 29-87 10-20 10-10 10 1 10 12 9 21 30 89 10 27 10 20 9 10 10-1 10-11 10-22 19-68 20-83-20 64-20 83-19 68-10 22-10 12-10 0-10-10-10-20-9-26-30-90-10-21-9-12-10-1-10 11-10 20-29 87-10 24-10 15-10 5-10-6-9-15-20-39-10-14-10-3-10 8-29 51-10 6-10-6-9-9-10-3-10 8-20 8-10 8-9-3-10-9-10-6-10 6-29 52-10 7-10-3-10-13-19-39-10-16-10-6-10 5-10 15-9 25-30 87-10 20-10 10-9-1-10-12-10-21-29-90-10-26-10-20-10-10-10 0-10 12-9 22-20 68-20 83z"/>
<path transform="translate(-56 -24)" d="M789 3416l19-82 20-68 10-23 9-11 10-1 10 11 10 19 10 27 29 90 10 21 10 12 10 0 9-10 10-20 30-87 10-24 9-16 10-4 10 6 10 15 19 39 10 14 10 3 10-8 29-51 10-6 10 5 10 10 10 3 9-8 20-8 10-8 10 3 10 9 9 5 10-5 30-52 9-7 10 3 10 13 20 39 10 16 9 6 10-5 10-15 10-25 29-87 10-20 10-10 10 1 10 12 9 21 30 90 10 26 10 20 9 10 10 0 10-12 10-22 19-68 20-83-20 38-20 82-19 68-10 23-10 11-10 1-10-11-10-19-9-27-30-90-10-21-9-12-10 0-10 10-10 20-29 87-10 24-10 15-10 5-10-6-9-15-20-39-10-14-10-3-10 8-29 51-10 6-10-6-9-9-10-3-10 8-20 8-10 8-9-3-10-9-10-5-10 5-29 52-10 7-10-3-10-13-19-39-10-16-10-6-10 5-10 15-9 25-30 87-10 20-10 10-9-1-10-12-10-21-29-90-10-26-10-20-10-10-10 0-10 12-9 22-20 68-20 83z"/>
<path transform="translate(-45 -19)" d="M789 3421l19-82 20-69 10-22 9-11 10-1 10 11 10 19 10 27 29 90 10 21 10 11 10 1 9-10 10-20 30-87 10-24 9-16 10-4 10 6 10 15 19 39 10 14 10 3 10-8 29-52 10-5 10 5 10 10 10 2 9-8 20-7 10-8 10 3 10 9 9 5 10-5 30-52 9-8 10 4 10 13 20 39 10 15 9 7 10-5 10-15 10-25 29-87 10-20 10-10 10 1 10 12 9 21 30 89 10 27 10 20 9 10 10 0 10-12 10-22 19-68 20-83-20 1-20 83-19 68-10 22-10 12-10 0-10-10-10-20-9-26-30-90-10-21-9-12-10-1-10 10-10 20-29 87-10 25-10 15-10 5-10-6-9-15-20-40-10-13-10-3-10 7-29 52-10 6-10-6-9-9-10-3-10 8-20 8-10 8-9-3-10-9-10-6-10 6-29 51-10 8-10-3-10-14-19-39-10-15-10-6-10 5-10 15-9 24-30 87-10 20-10 11-9-1-10-12-10-21-29-90-10-26-10-20-10-10-10 0-10 12-9 22-20 68-20 83z"/>
<path transform="translate(-35 -15)" d="M789 3445l19-82 20-69 10-22 9-11 10-1 10 10 10 20 10 27 29 89 10 21 10 12 10 1 9-10 10-20 30-87 10-24 9-16 10-4 10 6 10 15 19 39 10 13 10 4 10-8 29-52 10-5 10 5 10 10 10 2 9-8 20-7 10-8 10 3 10 9 9 5 10-5 30-52 9-8 10 4 10 13 20 39 10 15 9 7 10-5 10-16 10-24 29-87 10-20 10-10 10 1 10 12 9 21 30 89 10 27 10 20 9 10 10 0 10-12 10-22 19-68 20-83-20-37-20 82-19 69-10 22-10 11-10 1-10-11-10-19-9-27-30-90-10-21-9-11-10-1-10 10-10 20-29 87-10 24-10 16-10 4-10-6-9-15-20-39-10-14-10-3-10 8-29 51-10 6-10-5-9-10-10-2-10 7-20 8-10 8-9-3-10-9-10-5-10 5-29 52-10 8-10-4-10-13-19-39-10-15-10-7-10 5-10 15-9 25-30 87-10 20-10 10-9-1-10-12-10-21-29-89-10-27-10-20-10-10-10 0-10 12-9 22-20 68-20 83z"/>
<path transform="translate(-25 -11)" d="M789 3485l19-83 20-68 10-22 9-12 10 0 10 10 10 20 10 26 29 90 10 21 10 12 10 1 9-10 10-20 30-87 10-25 9-15 10-5 10 6 10 15 19 40 10 13 10 3 10-7 29-52 10-6 10 6 10 9 10 3 9-8 20-8 10-8 10 3 10 9 9 6 10-6 30-51 9-8 10 3 10 14 20 39 10 15 9 6 10-5 10-15 10-24 29-87 10-20 10-11 10 1 10 12 9 21 30 90 10 26 10 20 9 10 10 0 10-12 10-22 19-68 20-83-20-72-20 83-19 68-10 22-10 12-10 0-10-10-10-20-9-26-30-90-10-21-9-12-10-1-10 11-10 20-29 87-10 24-10 15-10 5-10-6-9-15-20-39-10-14-10-3-10 8-29 51-10 6-10-6-9-9-10-3-10 8-20 8-10 8-9-3-10-9-10-6-10 6-29 52-10 7-10-3-10-13-19-39-10-16-10-6-10 5-10 15-9 25-30 87-10 20-10 10-9-1-10-12-10-21-29-90-10-26-10-20-10-10-10 0-10 12-9 22-20 68-20 83z"/>
<path transform="translate(-15 -6)" d="M789 3534l19-82 20-69 10-22 9-11 10-1 10 10 10 20 10 27 29 89 10 21 10 12 10 1 9-10 10-20 30-87 10-24 9-16 10-4 10 6 10 15 19 39 10 13 10 4 10-8 29-52 10-5 10 5 10 10 10 2 9-8 20-7 10-8 10 3 10 9 9 5 10-5 30-52 9-8 10 4 10 13 20 39 10 15 9 7 10-5 10-16 10-24 29-87 10-20 10-10 10 1 10 12 9 21 30 89 10 27 10 20 9 10 10-1 10-11 10-22 19-68 20-83-20-98-20 83-19 68-10 22-10 12-10 0-10-10-10-20-9-26-30-90-10-21-9-12-10-1-10 10-10 20-29 88-10 24-10 15-10 5-10-6-9-15-20-40-10-13-10-3-10 7-29 52-10 6-10-6-9-9-10-3-10 8-20 8-10 8-9-3-10-9-10-6-10 6-29 51-10 8-10-3-10-13-19-40-10-15-10-6-10 5-10 15-9 24-30 88-10 19-10 11-9-1-10-12-10-21-29-90-10-26-10-20-10-10-10 0-10 12-9 22-20 68-20 83z"/>
<path transform="translate(-5 -2)" d="M789 3586l19-82 20-69 10-22 9-11 10-1 10 11 10 19 10 27 29 90 10 21 10 11 10 1 9-10 10-20 30-87 10-24 9-16 10-4 10 6 10 15 19 39 10 14 10 3 10-8 29-51 10-6 10 5 10 10 10 2 9-7 20-8 10-8 10 3 10 9 9 5 10-5 30-52 9-7 10 3 10 13 20 39 10 15 9 7 10-5 10-15 10-25 29-87 10-20 10-10 10 1 10 12 9 21 30 89 10 27 10 20 9 10 10 0 10-12 10-22 19-68 20-83-20-110-20 83-19 68-10 22-10 11-10 1-10-10-10-20-9-27-30-89-10-21-9-12-10-1-10 10-10 20-29 87-10 24-10 16-10 4-10-6-9-15-20-39-10-13-10-4-10 8-29 52-10 5-10-5-9-9-10-3-10 8-20 7-10 8-9-3-10-9-10-5-10 5-29 52-10 8-10-4-10-13-19-39-10-15-10-7-10 5-10 16-9 24-30 87-10 20-10 10-9-1-10-12-10-21-29-89-10-27-10-20-10-10-10 1-10 11-9 22-20 68-20 83z"/>
</g></g>
<path d="M156.7 753.2l2.5 1.1M235.2 733.8l2.5 1.1M313.8 714.3l2.5 1.1M156.7 753.2l-2.7 0.7M96.1 727.5l-2.7 0.7M35.5 701.7l-2.7 0.7M35.5 701.7l-2.7 0.7M35.5 673.2l-2.7 0.7M35.5 644.8l-2.7 0.7M35.5 616.4l-2.7 0.7M35.5 587.9l-2.7 0.7" fill="none" stroke="#3c3c3c" stroke-width=".9"/>
<path d="M156.7 753.2L313.8 714.3M156.7 753.2L35.5 701.7" fill="none" stroke="#3c3c3c" stroke-width="1"/>
<path d="M35.5 701.7L35.5 587.9" fill="none" stroke="#3c3c3c" stroke-width="1"/>
<g font-size="11.4"><text x="161.4" y="766.3">-500</text><text x="240" y="746.9">0</text><text x="318.5" y="727.4">500</text><g text-anchor="end"><text x="150.6" y="765.5">-500</text><text x="90" y="739.8">0</text><text x="29.4" y="714">500</text><text x="29.6" y="704.4">-1000</text><text x="29.6" y="676">-500</text><text x="29.6" y="647.5">0</text><text x="29.6" y="619.1">500</text><text x="29.6" y="590.6">1000</text></g></g></g>
<g clip-path="url(#cf)"><path d="M553.7 749.5L415.4 690.5M415.4 690.5L415.4 561.3M613.3 734.5L475 675.5M475 675.5L475 546.2M672.9 719.3L534.6 660.3M534.6 660.3L534.6 531.1M500.8 747.3L679.7 702M679.7 702L679.7 572.8M454.8 727.6L633.6 682.3M633.6 682.3L633.6 553.1M408.7 707.9L587.5 662.6M587.5 662.6L587.5 533.4M385.6 698.1L564.4 652.8M564.4 652.8L702.7 711.8M385.6 655L564.4 609.7M564.4 609.7L702.7 668.7M385.6 612L564.4 566.7M564.4 566.7L702.7 625.7M385.6 568.9L564.4 523.6M564.4 523.6L702.7 582.6M385.6 698.1L564.4 652.8M702.7 711.8L564.4 652.8" fill="none" stroke="#ccd6d9" stroke-width=".65"/>
<g transform="scale(.2)"><g fill="none" stroke-width="3">
<path stroke="#4d7fe6" d="M2767 3545l-2-1zM2720 3545l-14-1-7-6-20-3-3-7-16-4 2-4 18-2 8-7 22-1 11-5 14 0 7 6 21 3 2 7 16 4-1 5-19 2-8 7-22 0zM2662 3540l1-1zM2781 3510l-2 0zM2676 3506l-2-1z"/>
<path stroke="#66e08c" d="M2756 3580l-7 0-3-4 14 2zM2789 3574l-15 0-6-6-17 0-11 5-23 0-10-5-5-1-14 5-23-2-7-6-16-2-11 6-13-1-2-6 18-3-4-2-6-1-14 4-17-2 0-6 16-3-2-2-8-2-12 5-16-2 1-5 18-2-1-5-16-4 2-8 16-3 0-2-13-4 4-8 19-2 5-5-16-4 3-4 17-1 8 6 9-1 3-2-13-5 5-5 18 0 10 5 7-1 5-2-15-4 6-5 14 0 7 6 16-1 12-5 23 1 10 5 5 0 14-4 22 1 7 6 16 2 11-5 14 1 1 5-17 3 3 3 6 1 14-4 17 1 1 6-16 4 1 2 8 2 12-5 16 2 0 4-19 2 1 6 17 4-2 7-16 4-1 1 13 5-4 7-18 2-6 6 17 3-4 5-16 0-8-5-9 1-3 2 12 4-5 6-18 0-10-5-6 0-6 3 15 4zM2876 3550l-10 1 0-5 11 2zM2705 3579l-11 0-3-6 22 1zM2884 3534l-17 1 3-7 16 2zM2651 3576l-7 0-1-4 14 0zM2890 3516l-13 1 4-5 9 1zM2561 3537l-9-1 0-2 12-1zM2799 3477l-14 0 5-4 8 1zM2572 3522l-16-2 1-4 18-1zM2751 3477l-22-1 7-6 11 1zM2576 3503l-12-1 2-3 10 0zM2695 3473l-13-1 3-3 8 0z"/>
<path stroke="#f2a24e" d="M2840 3636l-3 0 0-1 4 0zM2871 3629l-6 0 0-2 7 0zM2901 3622l-7 0 0-3 9 1zM2931 3615l-8 0 0-4 10 1zM2961 3607l-8 0 0-3 10 1zM2990 3599l-6 0 0-2 7 0zM3019 3591l-4 0 1-1 3 0zM2758 3642l-4 0 0-2 5 1zM2790 3635l-9 0-1-4 12 1zM2821 3628l-13 0-1-6 18 2zM2852 3621l-16 0-2-7 23 2zM2883 3614l-19 0-3-7-18 0-9 6-24 1-8 6-23 0-7-6-9 0-9 4 23 2-6 7-19-1-2-7-23 0-8 6-21 0-4-7-19-1-9 6-20-1-3-7-23-1-7 6-19-1 0-7 23 0-5-5-8-1-12 6-23-2-3-7-22-2-5-7-16-2-9 7-18-2 0-6 22-1-3-5-14-2-9 6-20-1 1-7 21-1-2-5-15-2-8 6-19-1 0-7 22 0-2-6-19-3 0-8-21-3 2-8 19-2 0-3-14-3-6 8-21-2 2-6 22-1 1-7-20-3 2-7 21-1 3-7-20-2 3-7 22-1 4-8-20-2 3-6 21 0 1 7 15-1 2-3-16-4 4-8 22 0 7-8 20-1 6-6-20-2 4-7 20 0 3 8 15-1 6-5-19-3 5-6 20 0 4 7 14-1 7-5-20-2 5-7 19 1 3 7 17-1 10-6 23 0 8-7 24 1 7 6 9 0 8-5-22-2 6-7 18 1 2 7 23 1 8-7 21 1 4 7 19 1 9-7 21 1 3 7 22 2 8-7 18 1 1 7-23 0 5 5 8 1 11-5 24 1 2 7 23 3 4 6 17 2 8-6 19 1 0 7-22 0 3 6 14 2 8-7 20 2 0 6-21 2 2 5 15 2 8-7 19 2-1 6-21 1 1 6 19 3 1 8 20 2-2 8-18 2 0 3 13 3 7-7 20 2-1 6-22 0-2 8 20 3-2 7-21 1-2 6 19 3-3 7-22 1-4 7 21 3-3 6-22 0 0-8-15 2-3 3 17 3-5 8-22 1-6 7-21 2-6 5 21 3-5 6-19 0-3-7-16 1-6 4 20 3-5 7-20 0-4-7-15 0-7 5 21 3zM2971 3591l-18 0 1-7 21 2zM3000 3583l-15 0 1-6 16 2zM3028 3575l-10 0 1-4 10 1zM3056 3566l-4 0 0-1 4 0zM2706 3640l-6 0 0-3 8 1zM2738 3634l-12-1-1-5 17 1zM3036 3558l-14 0 1-5 15 1zM3063 3549l-6 0 0-2 7 0zM2653 3638l-6-1 0-2 8 0zM2686 3632l-13-1-1-6 19 1zM3044 3541l-17 0 3-6 15 2zM3070 3532l-7 0 1-3 7 1zM2712 3613l3 0zM2981 3545l2 0 0-1zM2599 3635l-3 0 0-2 4 1zM2633 3629l-12-1-1-4 17 0zM3050 3523l-15 1 2-6 14 1zM3076 3514l-4 0 0-1 4 0zM2659 3611l3 0zM2988 3528l2-1zM2578 3626l-8 0 0-4 12 1zM3055 3505l-11 0 3-3 9 1zM2523 3623l-3 0 0-1 4 0zM2557 3617l-12-1-1-4 19 0zM3034 3496l-17 1 4-6 14 1zM3060 3487l-4 0 0-1 4 0zM2501 3614l-5-1 0-2 7 0zM2536 3608l-16-1 0-6 23 0zM3013 3487l-22 1 6-8 17 2zM3038 3478l-8 0 2-3 6 1zM2479 3604l-7 0 0-3 10 0zM3016 3468l-10 0 2-3 8 1zM2457 3594l-9 0 1-3 10 0zM2993 3459l-11 0 3-4 8 1zM2433 3584l-7 0 0-3 10 0zM2970 3449l-10 0 2-4 8 1zM2409 3574l-6 0 1-2 7 0zM2445 3569l-17-1 1-6 22 0zM2922 3448l-23 0 6-7 17 2zM2946 3438l-8 0 2-2 6 0zM2385 3564l-3 0 0-1 4 0zM2420 3559l-14-2 1-4 17 0zM2897 3438l-18 0 5-6 13 1zM2921 3428l-4 0 1-1 3 0zM2395 3548l-10-1 1-3 11 0zM2872 3427l-12 0 3-4 9 1zM2451 3522l3 0zM2781 3439l2 0zM2369 3537l-4-1 0-1 5 0zM2404 3532l-14-2 1-4 16 0zM2821 3426l-17-1 5-5 12 1zM2846 3416l-5 0 1-2 4 1zM2458 3505l2 0-2-1zM2728 3437l2-1-3 0zM2377 3520l-6-1 0-1 7-1zM2412 3515l-16-2 2-4 16-1zM2770 3424l-20-1 5-5 14 1zM2794 3414l-7 0 2-2 5 0zM2384 3503l-7-1 1-2 7 0zM2418 3497l-15-2 2-4 15 0zM2716 3421l-17 0 4-5 12 0zM2742 3412l-8 0 2-2 5 0zM2390 3485l-5-1 1-1 4 0zM2423 3479l-11-1 2-3 9 0zM2456 3472l-17-1 3-5 14 0zM2488 3466l-21-2 3-6 18 0zM2607 3436l-22-2 4-6 17 0zM2634 3427l-17-1 3-5 13 0zM2661 3418l-12-1 3-3 9 1zM2688 3409l-5 0 1-1 3 0zM2426 3460l-4-1 1-1 3 0zM2457 3453l-7-1 1-2 7 0zM2488 3446l-9-1 1-3 8 1zM2519 3439l-11-1 2-3 8 0zM2548 3431l-10-1 2-3 8 1zM2577 3423l-8-1 2-2 5 0zM2605 3414l-4 0 0-1 4 0z"/>
<path stroke="#c84040" d="M2613 3783l15 0M2640 3780l2-5 17 0M2669 3773l2-6 19 1M2698 3766l2-7 21 1M2727 3758l2-7 23 1M2755 3751l2-8 26 1M2784 3744l1-8-23-1-5 8-26-1 0-8-21-1-6 8-26-2-1-7-19-1-7 7 27 1-5 9-24-1 2-9-26-1-5 8-24-1 2-8 27 1-1-8-19 0-7 7-26-1 0-8-21-1-6 8-25-2 0-8-23-1-5 8M2789 3735l24 1-1-7-18-1zM2822 3726l18 1-1-5-13 0zM2855 3718l12 1-1-4-8 0zM2888 3710l6 0 0-2-5 0zM2921 3701M3189 3633M3216 3626l6 1 0-2-5 0zM3244 3620l10 1 1-4-10 0zM3271 3613l16 1 1-6-15 0zM3298 3606l21 2 2-8-20 0zM3350 3600l3-8 25 1M3381 3592l3-7 22 1M3412 3585l3-7 20 1M3443 3577l2-6 19 1M3474 3569l2-6 17 1M3505 3561l2-5M2634 3771l-18 0 2-6 19 0zM2665 3764l-20-1 2-6 21 1zM2695 3757l-21-1 1-7 24 1zM2726 3750l-24-1 2-8 26 1zM3382 3584l-25-1 3-9 25 2zM3411 3576l-23-1 3-8 22 2zM3440 3568l-21-1 2-7 21 1zM3469 3560l-19-1 2-6 19 1zM3498 3552l-17 0 2-6M2589 3772l17 1-2 6M2738 3732l20 1-1-6-15 0zM2772 3723l12 1 0-4-9 0zM2806 3715l5 0-1-1-3-1zM3253 3601l5 1 0-2-4 0zM3280 3595l11 1 1-4-11 0zM3306 3588l18 2 2-7-17 0zM2612 3762l-20-1 2-7 21 1zM2643 3755l-22-1 2-8 23 1zM3417 3559l-23-1 3-8 23 1zM3446 3551l-21-1 3-7 21 1zM3475 3543l-18-1 2-6M2565 3762l19 1-3 6M2686 3729l18 1-1-5-13 0zM2721 3721l9 0-1-3-6 0zM3288 3577l8 1 1-3-8 0zM3314 3570l16 2 2-6-16 0zM2590 3753l-22-1 2-8 24 1zM3424 3541l-23-1 3-7 23 1zM3453 3533l-21 0 3-7M2541 3752l21 1-3 7M2633 3727l18 1-1-5-12-1zM2669 3718l7 0 0-2-5 0zM3296 3559l6 1 1-2-6 0zM3322 3553l14 1 2-5-15 0zM2567 3743l-23-1 2-8 26 1zM3402 3532l-25-1 3-9 25 2zM3431 3524l-23-1 3-8M2517 3742l23 1-3 7M2580 3725l18 1 0-5-14-1zM2616 3716l7 0 0-2-5 0zM3303 3542l6 0 0-2-6 0zM3328 3535l15 2 3-6-17 0zM3408 3514l-24-1 3-8M2493 3732l26 1-5 8M2526 3723l20 1 0-6-15-1zM2562 3714l9 0 0-2-7-1zM3309 3525l7 0 1-3-8 1zM3334 3518l17 2 3-7-19 0zM3386 3505l-25-1-2 8 24 2-3 8-24 0-2 7 22 2-3 9-23 0-3 6 23 2 3-8 25 1-3 8-25-1-3 9 25 2-4 7-25 0 3-9-23 0-3 7 23 2-3 8-24 0-3 7 23 2-3 9-25-1-3 8 24 2M2470 3721l25 1-1-7-18-1zM2507 3712l13 1-1-4-9-1zM3314 3508l10 1 2-4-11 0zM3339 3501l20 2 4-8-22 0zM2451 3711l18 0 0-5-13-1zM2488 3701l5 0 0-1-3 0zM3294 3497l4 0 1-1-5 0zM3319 3491l14 1 3-6-16 0zM2431 3700l12 0 0-3-8-1zM3298 3480l9 1 3-4-11 1zM2412 3689l6 0 0-1-5-1zM3277 3470l5 0 1-2-5 1zM2392 3679M3256 3460M2184 3590M3049 3371M2158 3581l6 0 0-1-5-1zM3024 3362l4 0 2-2-6 0zM2132 3572l11 0 0-3-9-1zM2998 3353l9 0 3-3-12-1zM2105 3563l17 0 1-4-15-2zM2143 3554l4 0 0-2-3 0zM2948 3350l4 0 1-2-5 0zM2973 3343l13 1 5-5-18-1zM2079 3554l22 0 2-6-20-2zM2115 3545l12 0 1-3-11-1zM2922 3341l9 0 4-4-13 0zM2947 3334l18 1 6-7-24-1zM2055 3545l25 0 2-7-23-2 3-9 24 0 2-7-23-2 3-8 24 0 2-7-22-2-4 9-25-2 3-8 26 1 3-9-25-1 3-8 25 1-3 8 23 0 3-6-23-2 4-9 24 0 3-7-24-2 4-8 24 0 4-7-24-2M2088 3536l18 0 2-5-17-1zM2124 3527l8 0 1-2-8-1zM2871 3338l6 0 2-2-9-1zM2896 3331l15 1 5-6-21 0zM2948 3318l-25-1 4-8M2033 3535l25 1-4 8M2096 3518l16 0 2-4-15-1zM2132 3509l6 0 1-1-6-1zM2819 3335l5 1 1-2-7-1zM2844 3329l13 1 4-5-17-1zM2061 3527l-24-1 3-8 25 1zM2896 3316l-26-1 4-9 24 2zM2924 3308l-23-1 4-8M2011 3526l22 1-3 7M2103 3501l15 0 2-4-14-2zM2139 3492l6 0 1-2-6 0zM2766 3333l5 0 2-2-8 0zM2791 3327l13 0 4-5-17 0zM2037 3517l-22-1 2-8 23 1zM2872 3305l-24-1 4-7 22 1zM2900 3297l-21 0 4-7M1989 3516l20 1-3 7M2110 3484l15 0 2-5-15-1zM2145 3475l7 0 1-2-8-1zM2712 3331l6 0 3-2-9-1zM2738 3324l13 1 4-5-17-1zM2013 3507l-20-2 2-6 21 1zM2044 3500l-23-2 3-7 23 1zM2819 3303l-24-1 4-7 22 1zM2848 3295l-22-1 4-6 19 0zM2876 3287l-19-1 3-6M1966 3507l19 0-3 7M2115 3467l18-1 2-4-18-2zM2149 3458l11 0 2-3-11-1zM2183 3449l5 0 0-1-4 0zM2631 3336l4 0 1-1-5-1zM2658 3329l9 0 3-3-13-1zM2684 3322l15 1 5-6-20-1zM1989 3496l-18-1 2-6 19 1zM2020 3489l-21-1 3-6 21 0zM2051 3482l-23-1 3-7 23 0zM2082 3475l-25-1 3-8 25 0zM2737 3309l-26-1 5-8 23 1zM2766 3301l-24-1 4-8 22 1zM2795 3293l-22-1 4-7 20 1zM2824 3285l-20-1 3-6 18 1zM2853 3277l-18-1 3-5M1944 3497l17 1-2 6M2120 3450l21 0 3-6-22-2zM2153 3441l16 0 2-4-16-2zM2187 3433l9 0 2-3-11-1zM2220 3424l4 0 1-1-5-1zM2252 3416M2520 3348M2548 3341l4 0 2-1-6-1zM2575 3334l9 1 2-3-11-1zM2602 3328l14 0 4-5-18-1zM2629 3321l18 0 6-6-24-2zM1937 3488l-2 5M1968 3480l-3 6-16-1M1998 3473l-2 6-19-1M2029 3465l-2 7-21-1M2060 3457l-3 8-22-2M2091 3449l-3 8-24-1M2657 3306l-1 8 23 1 6-8 26 1 0 8 20 1 6-8 27 1 0 8 20 1 6-8-26-1 4-8 24 1-2 8 27 1 4-8 24 1-2 9-26-2 0 8 20 1 6-7 26 1 0 8 21 1 6-8 26 1-1 8 23 1 5-8M2686 3298l-2 8-25-1M2715 3291l-2 8-23-2M2744 3284l-2 7-21-1M2773 3277l-2 6-19-1M2801 3269l-1 6-18-1M2829 3267l-16-1"/>
</g>
<g fill="url(#gf)" stroke="url(#gf)" stroke-width="4" stroke-linejoin="round">
<path transform="translate(-686 -293)" d="M2625 3343l15-16 15 11 15-17 15 12 15-16 15 11 15-16 14 11 15-16 15 11 15-16 15 12 15-16 15 11 15-16 15 11 15-16 14 11 15-16 15 11 15-16 15 11 15-17 15 11 15-17 15 10 15-16 14 10 15-17 15 9 15-17 15 10 15-18 15 9 15-18 15 9 15-18 14 9 15-18 15 9 15-19 15 9 15-19 15 8 15-18 15 8 15-19 14 9 15-19 15 8 15-19 15 9 15-19 15 9 15-19 15 8 15-18 14 8 15-18 15 8-11 31-15-32-15 42-15-32-15 42-15-32-15 42-15-32-14 42-15-32-15 42-15-32-15 42-15-31-15 42-15-32-15 42-15-32-14 42-15-32-15 41-15-32-15 42-15-33-15 42-15-33-15 42-15-33-14 41-15-33-15 41-15-34-15 41-15-33-15 40-15-34-15 40-15-34-14 40-15-34-15 40-15-34-15 39-15-34-15 39-15-34-15 39-15-34-14 39-15-34-15 39-15-34-15 39-15-34-15 39-15-34-15 39-15-34-14 39-15-34-15 40z"/>
<path transform="translate(-674 -288)" d="M2625 3381l15-40 15 35 15-40 15 35 15-39 15 34 15-39 14 35 15-39 15 34 15-39 15 35 15-39 15 34 15-39 15 35 15-39 14 34 15-39 15 34 15-39 15 34 15-40 15 35 15-40 15 33 15-40 14 34 15-41 15 34 15-41 15 33 15-41 15 32 15-41 15 32 15-41 14 32 15-42 15 32 15-42 15 32 15-42 15 31 15-42 15 32 15-43 14 32 15-42 15 31 15-42 15 32 15-43 15 32 15-42 15 32 15-42 14 32 15-43 15 32-11-43-15-8-15 18-15-8-15 18-15-8-15 19-15-9-14 19-15-9-15 19-15-8-15 19-15-9-15 19-15-8-15 18-15-8-14 19-15-9-15 19-15-9-15 18-15-9-15 19-15-10-15 18-15-9-14 18-15-10-15 18-15-10-15 17-15-10-15 17-15-11-15 17-15-11-14 17-15-11-15 16-15-11-15 16-15-11-15 16-15-11-15 16-15-11-14 16-15-12-15 16-15-11-15 16-15-11-15 16-15-11-15 16-15-11-14 16-15-11-15 16z"/>
<path transform="translate(-663 -283)" d="M2625 3345l15-16 15 11 15-16 15 12 15-16 15 11 15-16 14 12 15-16 15 12 15-16 15 11 15-15 15 11 15-15 15 11 15-16 14 12 15-16 15 11 15-16 15 11 15-16 15 11 15-17 15 11 15-17 14 10 15-17 15 10 15-18 15 10 15-18 15 9 15-18 15 9 15-18 14 9 15-19 15 9 15-19 15 8 15-19 15 8 15-19 15 8 15-19 14 9 15-20 15 9 15-19 15 8 15-19 15 8 15-19 15 8 15-19 14 9 15-19 15 9-11 31-15-32-15 42-15-32-15 42-15-32-15 42-15-31-14 42-15-32-15 42-15-31-15 42-15-32-15 43-15-32-15 42-15-31-14 42-15-32-15 42-15-32-15 42-15-32-15 41-15-32-15 41-15-32-14 41-15-33-15 41-15-34-15 41-15-34-15 41-15-34-15 40-15-34-14 39-15-34-15 39-15-34-15 39-15-34-15 39-15-35-15 40-15-35-14 39-15-35-15 39-15-34-15 39-15-35-15 39-15-34-15 39-15-34-14 39-15-34-15 39z"/>
<path transform="translate(-651 -278)" d="M2625 3383l15-39 15 35 15-40 15 35 15-39 15 35 15-39 14 35 15-39 15 35 15-39 15 35 15-39 15 35 15-39 15 35 15-39 14 35 15-39 15 35 15-39 15 34 15-39 15 34 15-40 15 34 15-40 14 34 15-41 15 34 15-41 15 33 15-42 15 33 15-42 15 33 15-42 14 32 15-42 15 31 15-42 15 32 15-43 15 32 15-43 15 31 15-42 14 31 15-43 15 32 15-43 15 32 15-43 15 32 15-43 15 32 15-42 14 31 15-42 15 32-11-43-15-9-15 19-15-8-15 18-15-8-15 19-15-8-14 19-15-8-15 19-15-8-15 19-15-9-15 20-15-9-15 19-15-8-14 19-15-8-15 19-15-9-15 19-15-9-15 18-15-9-15 19-15-10-14 18-15-10-15 18-15-10-15 17-15-10-15 17-15-11-15 17-15-11-14 16-15-11-15 16-15-11-15 16-15-12-15 16-15-11-15 15-15-11-14 15-15-11-15 16-15-12-15 16-15-12-15 16-15-11-15 16-15-12-14 16-15-11-15 16z"/>
<path transform="translate(-640 -273)" d="M2625 3348l15-16 15 11 15-16 15 12 15-16 15 12 15-16 14 12 15-15 15 11 15-15 15 12 15-16 15 12 15-15 15 12 15-16 14 12 15-16 15 12 15-16 15 12 15-16 15 11 15-17 15 11 15-17 14 11 15-17 15 10 15-18 15 10 15-18 15 9 15-18 15 8 15-18 14 8 15-19 15 8 15-19 15 8 15-19 15 8 15-19 15 7 15-19 14 8 15-20 15 8 15-19 15 8 15-19 15 8 15-20 15 9 15-20 14 9 15-19 15 8-11 31-15-32-15 42-15-31-15 42-15-32-15 43-15-32-14 43-15-32-15 43-15-31-15 42-15-31-15 42-15-31-15 43-15-32-14 43-15-32-15 42-15-31-15 42-15-32-15 42-15-33-15 42-15-33-14 42-15-33-15 41-15-34-15 41-15-34-15 40-15-34-15 40-15-34-14 39-15-34-15 39-15-35-15 39-15-35-15 39-15-35-15 39-15-35-14 39-15-35-15 39-15-35-15 39-15-35-15 39-15-35-15 39-15-35-14 40-15-35-15 39z"/>
<path transform="translate(-628 -268)" d="M2625 3386l15-39 15 34 15-39 15 35 15-38 15 35 15-39 14 35 15-39 15 36 15-39 15 36 15-39 15 35 15-38 15 35 15-38 14 35 15-39 15 35 15-39 15 35 15-39 15 35 15-40 15 34 15-40 14 34 15-40 15 33 15-41 15 33 15-41 15 32 15-42 15 32 15-42 14 32 15-43 15 32 15-43 15 31 15-43 15 32 15-43 15 31 15-43 14 31 15-43 15 31 15-43 15 31 15-43 15 32 15-43 15 31 15-42 14 31 15-42 15 31-11-43-15-8-15 19-15-8-15 19-15-9-15 20-15-8-14 19-15-8-15 19-15-7-15 19-15-8-15 20-15-8-15 19-15-8-14 19-15-8-15 20-15-9-15 19-15-8-15 18-15-8-15 18-15-9-14 18-15-10-15 18-15-10-15 17-15-11-15 17-15-11-15 17-15-11-14 16-15-12-15 16-15-12-15 16-15-12-15 16-15-12-15 15-15-12-14 16-15-12-15 15-15-11-15 15-15-12-15 16-15-12-15 16-15-12-14 16-15-11-15 16z"/>
<path transform="translate(-617 -263)" d="M2625 3350l15-16 15 12 15-16 15 12 15-15 15 12 15-16 14 12 15-15 15 12 15-15 15 13 15-15 15 12 15-15 15 12 15-15 14 12 15-15 15 12 15-15 15 11 15-15 15 11 15-16 15 11 15-17 14 11 15-17 15 10 15-18 15 10 15-18 15 9 15-19 15 9 15-19 14 8 15-19 15 7 15-19 15 8 15-20 15 7 15-19 15 7 15-20 14 8 15-20 15 7 15-19 15 7 15-19 15 7 15-19 15 8 15-19 14 8 15-20 15 9-11 30-15-31-15 42-15-31-15 42-15-31-15 43-15-32-14 43-15-31-15 43-15-31-15 43-15-31-15 43-15-31-15 43-15-31-14 42-15-31-15 43-15-32-15 43-15-32-15 42-15-32-15 42-15-32-14 41-15-33-15 41-15-33-15 40-15-34-15 40-15-34-15 40-15-35-14 39-15-35-15 39-15-35-15 39-15-35-15 38-15-35-15 39-15-36-14 39-15-36-15 39-15-35-15 38-15-35-15 39-15-35-15 39-15-35-14 39-15-35-15 39z"/>
<path transform="translate(-605 -258)" d="M2625 3388l15-39 15 35 15-38 15 35 15-39 15 36 15-39 14 36 15-39 15 36 15-38 15 36 15-38 15 35 15-38 15 36 15-38 14 36 15-39 15 36 15-39 15 36 15-39 15 35 15-40 15 35 15-40 14 34 15-40 15 33 15-41 15 33 15-42 15 33 15-42 15 31 15-42 14 31 15-43 15 31 15-43 15 31 15-43 15 30 15-43 15 31 15-44 14 31 15-44 15 31 15-43 15 31 15-43 15 31 15-43 15 31 15-43 14 31 15-43 15 32-11-43-15-9-15 20-15-8-15 19-15-8-15 20-15-8-14 19-15-7-15 20-15-8-15 20-15-8-15 20-15-7-15 19-15-7-14 20-15-8-15 19-15-7-15 19-15-8-15 19-15-9-15 19-15-9-14 18-15-10-15 18-15-10-15 17-15-11-15 17-15-11-15 16-15-11-14 15-15-11-15 15-15-12-15 15-15-12-15 15-15-12-15 15-15-12-14 15-15-13-15 16-15-13-15 16-15-12-15 15-15-12-15 15-15-11-14 15-15-12-15 16z"/>
<path transform="translate(-594 -253)" d="M2625 3353l15-16 15 12 15-15 15 12 15-15 15 12 15-15 14 12 15-15 15 13 15-15 15 13 15-15 15 13 15-15 15 13 15-14 14 12 15-14 15 12 15-15 15 12 15-15 15 12 15-16 15 11 15-16 14 10 15-16 15 10 15-18 15 9 15-18 15 9 15-19 15 8 15-19 14 8 15-20 15 7 15-20 15 8 15-21 15 7 15-20 15 7 15-20 14 7 15-20 15 7 15-20 15 7 15-20 15 8 15-20 15 7 15-19 14 8 15-20 15 8-11 31-15-32-15 43-15-31-15 43-15-31-15 43-15-31-14 43-15-31-15 43-15-30-15 43-15-31-15 44-15-31-15 43-15-30-14 43-15-31-15 43-15-31-15 43-15-31-15 42-15-31-15 42-15-33-14 42-15-33-15 41-15-33-15 40-15-34-15 40-15-35-15 40-15-35-14 39-15-36-15 39-15-36-15 39-15-36-15 38-15-36-15 38-15-35-14 38-15-36-15 38-15-35-15 38-15-36-15 39-15-36-15 39-15-35-14 39-15-36-15 39z"/>
<path transform="translate(-582 -248)" d="M2625 3391l15-39 15 36 15-39 15 36 15-39 15 36 15-38 14 36 15-38 15 36 15-38 15 36 15-37 15 36 15-38 15 37 15-38 14 36 15-38 15 36 15-38 15 36 15-38 15 35 15-39 15 35 15-40 14 35 15-41 15 34 15-41 15 32 15-41 15 32 15-43 15 32 15-43 14 31 15-44 15 31 15-44 15 31 15-44 15 30 15-44 15 30 15-44 14 30 15-43 15 30 15-44 15 31 15-44 15 31 15-44 15 31 15-43 14 31 15-43 15 31-11-43-15-8-15 20-15-8-15 20-15-8-15 20-15-8-14 20-15-7-15 20-15-7-15 20-15-7-15 20-15-7-15 21-15-7-14 20-15-7-15 20-15-8-15 20-15-8-15 19-15-8-15 19-15-9-14 18-15-9-15 18-15-10-15 17-15-11-15 16-15-11-15 16-15-12-14 15-15-12-15 15-15-12-15 14-15-12-15 14-15-12-15 14-15-13-14 15-15-13-15 15-15-12-15 14-15-12-15 15-15-12-15 15-15-12-14 15-15-12-15 16z"/>
<path transform="translate(-570 -243)" d="M2625 3355l15-15 15 12 15-15 15 12 15-14 15 12 15-15 14 13 15-14 15 13 15-14 15 13 15-14 15 13 15-14 15 13 15-14 14 13 15-14 15 13 15-14 15 12 15-14 15 12 15-15 15 11 15-16 14 11 15-17 15 10 15-17 15 9 15-18 15 8 15-19 15 8 15-20 14 7 15-20 15 7 15-21 15 7 15-21 15 6 15-20 15 6 15-21 14 7 15-21 15 7 15-21 15 7 15-20 15 7 15-20 15 7 15-20 14 8 15-20 15 8-11 31-15-32-15 43-15-31-15 43-15-30-15 43-15-31-14 44-15-31-15 44-15-30-15 43-15-30-15 44-15-30-15 44-15-30-14 44-15-31-15 44-15-31-15 44-15-31-15 43-15-32-15 43-15-32-14 42-15-33-15 41-15-34-15 41-15-34-15 39-15-35-15 39-15-35-14 38-15-36-15 38-15-36-15 38-15-36-15 38-15-37-15 38-15-36-14 37-15-36-15 38-15-36-15 38-15-36-15 38-15-36-15 39-15-36-14 39-15-36-15 39z"/>
<path transform="translate(-559 -238)" d="M2625 3394l15-39 15 36 15-39 15 36 15-38 15 36 15-38 14 37 15-38 15 37 15-38 15 37 15-37 15 37 15-37 15 37 15-37 14 37 15-38 15 37 15-37 15 36 15-38 15 36 15-38 15 35 15-39 14 34 15-40 15 34 15-41 15 32 15-42 15 32 15-43 15 31 15-43 14 30 15-44 15 30 15-45 15 30 15-44 15 29 15-44 15 29 15-44 14 29 15-44 15 30 15-44 15 30 15-44 15 30 15-44 15 31 15-43 14 30 15-43 15 31-11-43-15-8-15 20-15-8-15 20-15-7-15 20-15-7-14 20-15-7-15 21-15-7-15 21-15-7-15 21-15-6-15 20-15-6-14 21-15-7-15 21-15-7-15 20-15-7-15 20-15-8-15 19-15-8-14 18-15-9-15 17-15-10-15 17-15-11-15 16-15-11-15 15-15-12-14 15-15-13-15 14-15-13-15 14-15-13-15 14-15-13-15 14-15-13-14 14-15-13-15 14-15-13-15 14-15-12-15 14-15-12-15 14-15-12-14 15-15-12-15 15z"/>
<path transform="translate(-547 -234)" d="M2625 3358l15-15 15 12 15-15 15 13 15-14 15 12 15-14 14 13 15-14 15 14 15-14 15 14 15-14 15 14 15-13 15 14 15-14 14 14 15-13 15 14 15-14 15 13 15-14 15 13 15-15 15 12 15-15 14 11 15-17 15 10 15-17 15 9 15-19 15 8 15-19 15 7 15-21 14 7 15-21 15 6 15-21 15 6 15-22 15 6 15-22 15 6 15-21 14 6 15-21 15 6 15-21 15 6 15-20 15 6 15-20 15 7 15-20 14 7 15-20 15 7-11 31-15-31-15 43-15-30-15 43-15-30-15 43-15-30-14 44-15-30-15 44-15-30-15 44-15-29-15 44-15-29-15 44-15-29-14 44-15-29-15 44-15-30-15 44-15-30-15 43-15-31-15 43-15-32-14 42-15-32-15 41-15-34-15 40-15-34-15 39-15-35-15 38-15-36-14 38-15-36-15 37-15-36-15 37-15-37-15 37-15-37-15 37-15-37-14 37-15-36-15 37-15-37-15 38-15-36-15 37-15-36-15 38-15-36-14 39-15-36-15 39z"/>
<path transform="translate(-536 -229)" d="M2625 3396l15-38 15 36 15-38 15 36 15-38 15 37 15-38 14 37 15-37 15 37 15-37 15 37 15-36 15 37 15-36 15 38 15-37 14 38 15-36 15 37 15-36 15 37 15-37 15 36 15-37 15 35 15-38 14 34 15-40 15 34 15-41 15 32 15-42 15 31 15-43 15 30 15-44 14 29 15-44 15 29 15-45 15 28 15-45 15 29 15-45 15 29 15-45 14 29 15-45 15 29 15-45 15 30 15-44 15 29 15-44 15 31 15-44 14 30 15-43 15 31-11-44-15-7-15 20-15-7-15 20-15-7-15 20-15-6-14 20-15-6-15 21-15-6-15 21-15-6-15 21-15-5-15 21-15-6-14 22-15-6-15 21-15-6-15 21-15-7-15 21-15-7-15 19-15-8-14 19-15-9-15 18-15-11-15 17-15-11-15 15-15-12-15 15-15-13-14 14-15-13-15 14-15-14-15 13-15-14-15 14-15-14-15 13-15-14-14 14-15-14-15 14-15-13-15 13-15-13-15 15-15-13-15 14-15-12-14 14-15-12-15 15z"/>
<path transform="translate(-524 -224)" d="M2625 3360l15-14 15 12 15-14 15 13 15-14 15 13 15-14 14 14 15-14 15 14 15-13 15 14 15-13 15 15 15-13 15 15 15-13 14 15 15-12 15 14 15-13 15 15 15-14 15 14 15-14 15 13 15-15 14 11 15-16 15 10 15-18 15 9 15-19 15 8 15-21 15 7 15-21 14 5 15-22 15 6 15-23 15 5 15-22 15 5 15-22 15 5 15-22 14 5 15-22 15 6 15-21 15 6 15-22 15 7 15-21 15 6 15-20 14 7 15-20 15 7-11 31-15-31-15 43-15-30-15 44-15-30-15 44-15-30-14 44-15-30-15 45-15-29-15 45-15-29-15 45-15-29-15 45-15-29-14 46-15-29-15 45-15-29-15 44-15-29-15 44-15-30-15 43-15-31-14 42-15-32-15 41-15-33-15 39-15-34-15 38-15-35-15 37-15-36-14 37-15-37-15 36-15-37-15 36-15-38-15 37-15-38-15 36-15-37-14 37-15-38-15 37-15-37-15 37-15-37-15 38-15-37-15 38-15-36-14 38-15-36-15 38z"/>
<path transform="translate(-513 -219)" d="M2625 3399l15-38 15 36 15-38 15 37 15-38 15 37 15-37 14 37 15-36 15 37 15-36 15 38 15-36 15 38 15-35 15 38 15-35 14 38 15-35 15 38 15-35 15 38 15-36 15 37 15-37 15 37 15-38 14 35 15-40 15 34 15-41 15 32 15-43 15 31 15-44 15 29 15-45 14 29 15-46 15 28 15-46 15 28 15-46 15 27 15-46 15 28 15-45 14 28 15-46 15 29 15-45 15 29 15-45 15 30 15-45 15 30 15-44 14 30 15-43 15 30-11-43-15-7-15 20-15-7-15 21-15-7-15 21-15-7-14 22-15-6-15 21-15-5-15 21-15-5-15 22-15-5-15 22-15-5-14 23-15-5-15 22-15-5-15 21-15-5-15 21-15-7-15 21-15-8-14 19-15-9-15 18-15-10-15 16-15-11-15 15-15-13-15 14-15-13-14 13-15-15-15 13-15-14-15 12-15-15-15 13-15-15-15 13-15-15-14 13-15-14-15 13-15-14-15 14-15-14-15 14-15-13-15 14-15-13-14 14-15-12-15 15z"/>
<path transform="translate(-501 -214)" d="M2625 3363l15-15 15 13 15-14 15 13 15-13 15 13 15-13 14 14 15-13 15 14 15-12 15 15 15-13 15 16 15-12 15 15 15-11 14 16 15-12 15 16 15-12 15 16 15-13 15 15 15-13 15 14 15-15 14 13 15-17 15 11 15-18 15 8 15-19 15 7 15-22 15 6 15-22 14 4 15-23 15 4 15-23 15 4 15-23 15 4 15-23 15 4 15-23 14 5 15-23 15 5 15-22 15 6 15-22 15 6 15-21 15 6 15-21 14 7 15-21 15 7-11 31-15-30-15 43-15-30-15 44-15-29-15 44-15-30-14 45-15-29-15 45-15-28-15 45-15-28-15 46-15-29-15 46-15-27-14 46-15-28-15 46-15-28-15 46-15-29-15 45-15-29-15 44-15-31-14 43-15-32-15 41-15-33-15 39-15-35-15 38-15-36-15 36-15-37-14 36-15-38-15 35-15-38-15 35-15-38-15 35-15-38-15 35-15-38-14 36-15-38-15 36-15-37-15 36-15-37-15 37-15-37-15 38-15-37-14 38-15-36-15 38z"/>
<path transform="translate(-490 -209)" d="M2625 3401l15-38 15 37 15-38 15 37 15-37 15 37 15-36 14 37 15-36 15 38 15-35 15 38 15-35 15 39 15-35 15 40 15-35 14 40 15-34 15 39 15-34 15 40 15-35 15 38 15-35 15 37 15-37 14 36 15-39 15 33 15-41 15 32 15-44 15 30 15-45 15 28 15-46 14 27 15-47 15 27 15-47 15 26 15-47 15 27 15-47 15 27 15-46 14 27 15-46 15 28 15-45 15 28 15-45 15 29 15-45 15 30 15-45 14 30 15-44 15 31-11-43-15-7-15 20-15-7-15 21-15-6-15 21-15-6-14 22-15-6-15 22-15-5-15 23-15-5-15 23-15-4-15 23-15-4-14 23-15-4-15 23-15-4-15 23-15-4-15 22-15-6-15 22-15-7-14 19-15-8-15 18-15-10-15 16-15-13-15 15-15-14-15 13-15-14-14 12-15-16-15 12-15-16-15 12-15-16-15 12-15-16-15 12-15-15-14 12-15-15-15 12-15-14-15 13-15-14-15 13-15-13-15 13-15-13-14 14-15-12-15 14z"/>
<path transform="translate(-478 -204)" d="M2625 3365l15-14 15 13 15-14 15 14 15-14 15 14 15-13 14 15 15-13 15 15 15-12 15 16 15-12 15 17 15-11 15 16 15-10 14 17 15-11 15 17 15-10 15 17 15-11 15 16 15-11 15 14 15-13 14 13 15-16 15 11 15-18 15 8 15-21 15 6 15-22 15 4 15-24 14 3 15-24 15 3 15-25 15 3 15-24 15 2 15-24 15 4 15-24 14 4 15-23 15 4 15-22 15 5 15-22 15 5 15-22 15 6 15-21 14 7 15-21 15 7-11 31-15-31-15 44-15-29-15 44-15-30-15 45-15-29-14 45-15-28-15 45-15-28-15 46-15-27-15 46-15-27-15 47-15-27-14 48-15-27-15 47-15-27-15 47-15-27-15 46-15-28-15 45-15-30-14 44-15-32-15 41-15-33-15 39-15-36-15 37-15-37-15 36-15-39-14 35-15-40-15 35-15-40-15 34-15-40-15 35-15-40-15 35-15-39-14 35-15-38-15 35-15-38-15 36-15-37-15 36-15-37-15 37-15-37-14 38-15-37-15 38z"/>
<path transform="translate(-467 -199)" d="M2625 3403l15-37 15 36 15-37 15 37 15-36 15 37 15-36 14 38 15-36 15 39 15-35 15 39 15-34 15 40 15-34 15 40 15-33 14 41 15-33 15 41 15-33 15 41 15-33 15 40 15-34 15 39 15-36 14 37 15-39 15 34 15-41 15 31 15-44 15 28 15-46 15 26 15-48 14 26 15-49 15 26 15-49 15 25 15-48 15 26 15-48 15 26 15-47 14 27 15-47 15 27 15-46 15 28 15-46 15 29 15-45 15 29 15-45 14 30 15-44 15 30-11-43-15-7-15 21-15-7-15 21-15-5-15 21-15-5-14 22-15-5-15 22-15-4-15 23-15-4-15 24-15-4-15 25-15-3-14 24-15-3-15 25-15-3-15 25-15-4-15 24-15-4-15 22-15-6-14 21-15-8-15 18-15-10-15 15-15-13-15 13-15-14-15 11-15-16-14 11-15-17-15 10-15-17-15 11-15-17-15 10-15-16-15 11-15-16-14 11-15-16-15 12-15-15-15 13-15-15-15 13-15-14-15 14-15-14-14 14-15-13-15 14z"/>
<path transform="translate(-455 -194)" d="M2625 3367l15-14 15 14 15-14 15 14 15-13 15 14 15-13 14 15 15-12 15 16 15-11 15 16 15-11 15 17 15-10 15 18 15-10 14 18 15-8 15 18 15-8 15 18 15-9 15 18 15-10 15 17 15-12 14 14 15-15 15 11 15-18 15 7 15-22 15 5 15-24 15 2 15-26 14 2 15-26 15 1 15-26 15 1 15-26 15 2 15-25 15 2 15-24 14 3 15-24 15 4 15-23 15 4 15-22 15 5 15-22 15 5 15-21 14 6 15-21 15 7-11 31-15-30-15 44-15-30-15 45-15-29-15 45-15-29-14 46-15-28-15 46-15-27-15 47-15-27-15 47-15-26-15 48-15-26-14 49-15-26-15 49-15-26-15 49-15-26-15 48-15-26-15 46-15-28-14 44-15-31-15 41-15-33-15 38-15-37-15 36-15-39-15 35-15-41-14 33-15-41-15 33-15-41-15 33-15-41-15 34-15-41-15 34-15-40-14 34-15-39-15 35-15-38-15 35-15-38-15 36-15-37-15 36-15-37-14 37-15-36-15 37z"/>
<path transform="translate(-444 -189)" d="M2625 3405l15-37 15 37 15-37 15 37 15-36 15 38 15-36 14 38 15-35 15 39 15-34 15 40 15-34 15 41 15-33 15 42 15-33 14 43 15-32 15 43 15-31 15 43 15-31 15 42 15-32 15 41 15-34 14 38 15-38 15 35 15-42 15 30 15-46 15 27 15-49 15 25 15-50 14 23 15-50 15 23 15-50 15 24 15-50 15 25 15-49 15 25 15-48 14 26 15-47 15 26 15-46 15 27 15-46 15 28 15-45 15 29 15-45 14 29 15-44 15 30-11-43-15-7-15 21-15-6-15 22-15-6-15 22-15-5-14 22-15-4-15 23-15-4-15 24-15-3-15 24-15-2-15 25-15-2-14 26-15-1-15 26-15-1-15 26-15-2-15 26-15-2-15 24-15-5-14 22-15-7-15 18-15-11-15 15-15-14-15 12-15-17-15 10-15-18-14 9-15-18-15 8-15-18-15 9-15-19-15 10-15-18-15 10-15-17-14 11-15-16-15 11-15-16-15 12-15-15-15 13-15-14-15 13-15-14-14 14-15-14-15 14z"/>
<path transform="translate(-432 -184)" d="M2625 3369l15-14 15 14 15-14 15 14 15-13 15 15 15-12 14 15 15-11 15 16 15-11 15 17 15-10 15 18 15-9 15 18 15-8 14 20 15-8 15 20 15-6 15 20 15-6 15 20 15-7 15 19 15-10 14 16 15-14 15 12 15-19 15 6 15-24 15 2 15-26 15 0 15-28 14-1 15-28 15-1 15-28 15 0 15-27 15 1 15-27 15 2 15-25 14 2 15-24 15 3 15-24 15 4 15-23 15 5 15-22 15 5 15-22 14 6 15-21 15 7-11 31-15-30-15 44-15-29-15 45-15-29-15 46-15-29-14 46-15-27-15 47-15-27-15 47-15-26-15 48-15-25-15 49-15-25-14 50-15-24-15 51-15-24-15 50-15-23-15 50-15-25-15 49-15-27-14 46-15-30-15 42-15-35-15 38-15-38-15 34-15-41-15 32-15-42-14 31-15-43-15 31-15-43-15 32-15-42-15 32-15-42-15 33-15-41-14 34-15-40-15 35-15-40-15 35-15-38-15 36-15-38-15 36-15-37-14 37-15-37-15 37z"/>
<path transform="translate(-421 -179)" d="M2625 3407l15-37 15 37 15-37 15 37 15-36 15 39 15-36 14 39 15-35 15 40 15-34 15 41 15-33 15 41 15-32 15 43 15-31 14 43 15-30 15 45 15-30 15 46 15-29 15 45 15-29 15 44 15-32 14 41 15-36 15 35 15-43 15 29 15-48 15 24 15-52 15 22 15-53 14 21 15-53 15 22 15-52 15 23 15-52 15 24 15-50 15 24 15-49 14 26 15-48 15 26 15-47 15 27 15-47 15 28 15-45 15 28 15-45 14 29 15-44 15 29-11-42-15-7-15 21-15-5-15 21-15-5-15 22-15-5-14 23-15-4-15 24-15-3-15 24-15-2-15 25-15-2-15 27-15-1-14 27-15 0-15 28-15 1-15 28-15 1-15 28-15 0-15 27-15-2-14 23-15-6-15 19-15-11-15 13-15-16-15 10-15-19-15 7-15-20-14 6-15-20-15 7-15-21-15 8-15-20-15 8-15-18-15 9-15-18-14 10-15-17-15 11-15-16-15 11-15-15-15 12-15-14-15 12-15-14-14 14-15-14-15 14z"/>
<path transform="translate(-409 -175)" d="M2625 3370l15-13 15 13 15-13 15 14 15-12 15 15 15-12 14 15 15-11 15 17 15-10 15 17 15-9 15 18 15-8 15 19 15-7 14 21 15-6 15 22 15-5 15 23 15-4 15 24 15-4 15 22 15-6 14 19 15-11 15 11 15-19 15 4 15-27 15-1 15-30 15-4 15-31 14-3 15-31 15-2 15-30 15-1 15-29 15 0 15-27 15 0 15-26 14 2 15-25 15 3 15-24 15 3 15-23 15 5 15-23 15 5 15-22 14 6 15-21 15 6-11 31-15-29-15 44-15-29-15 45-15-28-15 45-15-27-14 46-15-27-15 47-15-26-15 48-15-26-15 49-15-24-15 50-15-23-14 51-15-23-15 52-15-21-15 52-15-21-15 53-15-22-15 52-15-24-14 48-15-29-15 43-15-35-15 36-15-41-15 32-15-44-15 29-15-45-14 29-15-45-15 29-15-45-15 30-15-43-15 31-15-43-15 32-15-41-14 33-15-41-15 34-15-40-15 35-15-39-15 36-15-39-15 37-15-38-14 37-15-37-15 37z"/>
<path transform="translate(-398 -170)" d="M2625 3408l15-37 15 37 15-37 15 38 15-36 15 39 15-35 14 39 15-35 15 40 15-33 15 41 15-33 15 43 15-32 15 44 15-30 14 44 15-28 15 46 15-27 15 47 15-26 15 48 15-25 15 48 15-27 14 45 15-33 15 36 15-44 15 25 15-52 15 20 15-56 15 18 15-56 14 19 15-55 15 19 15-53 15 21 15-52 15 22 15-51 15 24 15-50 14 25 15-49 15 26 15-47 15 27 15-47 15 28 15-46 15 28 15-45 14 29 15-45 15 29-11-42-15-6-15 21-15-6-15 22-15-5-15 23-15-5-14 23-15-3-15 24-15-3-15 25-15-2-15 26-15 0-15 27-15 0-14 29-15 1-15 30-15 2-15 31-15 3-15 31-15 4-15 30-15 1-14 27-15-4-15 20-15-12-15 11-15-19-15 6-15-22-15 4-15-24-14 4-15-23-15 5-15-22-15 6-15-21-15 8-15-20-15 8-15-18-14 9-15-17-15 10-15-17-15 12-15-16-15 12-15-15-15 13-15-15-14 13-15-13-15 14z"/>
<path transform="translate(-386 -165)" d="M2625 3371l15-13 15 14 15-14 15 15 15-13 15 16 15-12 14 16 15-11 15 17 15-10 15 17 15-8 15 19 15-8 15 20 15-6 14 22 15-5 15 24 15-3 15 25 15-2 15 27 15-1 15 28 15-1 14 24 15-6 15 13 15-21 15-1 15-32 15-7 15-34 15-8 15-34 14-6 15-32 15-5 15-31 15-3 15-29 15-1 15-28 15 0 15-27 14 2 15-26 15 3 15-25 15 4 15-24 15 4 15-22 15 5 15-22 14 5 15-21 15 6-11 32-15-30-15 45-15-29-15 45-15-28-15 46-15-28-14 47-15-27-15 47-15-25-15 48-15-25-15 50-15-24-15 51-15-22-14 52-15-21-15 53-15-19-15 55-15-19-15 56-15-18-15 56-15-20-14 52-15-25-15 44-15-36-15 33-15-45-15 27-15-48-15 25-15-48-14 26-15-47-15 27-15-46-15 28-15-44-15 30-15-44-15 32-15-42-14 32-15-41-15 33-15-40-15 35-15-39-15 35-15-39-15 36-15-37-14 36-15-37-15 37z"/>
<path transform="translate(-375 -160)" d="M2625 3409l15-37 15 37 15-37 15 38 15-35 15 38 15-35 14 39 15-34 15 41 15-34 15 42 15-32 15 42 15-31 15 44 15-29 14 46 15-28 15 47 15-26 15 50 15-24 15 51 15-22 15 53 15-21 14 52 15-26 15 40 15-47 15 18 15-60 15 14 15-61 15 15 15-59 14 16 15-57 15 19 15-55 15 20 15-53 15 22 15-52 15 23 15-50 14 25 15-49 15 26 15-48 15 26 15-47 15 28 15-46 15 28 15-45 14 29 15-45 15 29-11-42-15-6-15 21-15-5-15 22-15-5-15 22-15-4-14 24-15-4-15 25-15-3-15 26-15-2-15 27-15 0-15 28-15 1-14 29-15 3-15 31-15 5-15 32-15 6-15 34-15 8-15 34-15 7-14 32-15 1-15 21-15-13-15 6-15-24-15 1-15-27-15 0-15-27-14 2-15-25-15 3-15-24-15 5-15-22-15 6-15-20-15 8-15-19-14 9-15-18-15 10-15-17-15 11-15-16-15 12-15-16-15 13-15-14-14 13-15-14-15 13z"/>
<path transform="translate(-363 -155)" d="M2625 3372l15-14 15 14 15-13 15 15 15-13 15 15 15-11 14 16 15-11 15 17 15-10 15 18 15-8 15 19 15-7 15 21 15-6 14 22 15-4 15 24 15-2 15 27 15 0 15 29 15 3 15 31 15 5 14 33 15 5 15 21 15-29 15-12 15-41 15-12 15-39 15-10 15-37 14-8 15-34 15-5 15-32 15-3 15-30 15-2 15-28 15-1 15-27 14 1 15-25 15 2 15-24 15 3 15-24 15 4 15-23 15 5 15-22 14 6 15-22 15 6-11 32-15-29-15 45-15-29-15 45-15-28-15 46-15-28-14 47-15-26-15 48-15-26-15 49-15-25-15 50-15-23-15 52-15-22-14 53-15-20-15 55-15-18-15 56-15-16-15 59-15-14-15 60-15-13-14 59-15-18-15 47-15-39-15 25-15-52-15 21-15-53-15 22-15-51-14 24-15-50-15 26-15-47-15 28-15-46-15 29-15-44-15 31-15-42-14 32-15-42-15 34-15-41-15 34-15-39-15 35-15-38-15 35-15-37-14 36-15-37-15 37z"/>
<path transform="translate(-352 -150)" d="M2625 3409l15-37 15 37 15-36 15 38 15-36 15 39 15-35 14 39 15-34 15 40 15-33 15 42 15-32 15 42 15-30 15 44 15-29 14 46 15-28 15 48 15-25 15 50 15-23 15 52 15-20 15 56 15-17 14 58 15-13 15 63 15-70 15 5 15-66 15 10 15-63 15 12 15-60 14 15 15-57 15 18 15-56 15 20 15-53 15 21 15-51 15 23 15-51 14 25 15-49 15 25 15-48 15 27 15-47 15 27 15-46 15 28 15-45 14 29 15-45 15 29-11-42-15-6-15 22-15-6-15 22-15-4-15 22-15-4-14 24-15-3-15 24-15-2-15 26-15-1-15 26-15 1-15 28-15 2-14 30-15 3-15 32-15 6-15 33-15 8-15 37-15 10-15 39-15 13-14 40-15 12-15 29-15-21-15-5-15-33-15-5-15-31-15-3-15-29-14 0-15-26-15 1-15-24-15 4-15-22-15 6-15-21-15 7-15-19-14 8-15-18-15 10-15-17-15 11-15-16-15 12-15-16-15 13-15-15-14 13-15-14-15 14z"/>
<path transform="translate(-340 -145)" d="M2625 3372l15-14 15 14 15-13 15 15 15-13 15 15 15-11 14 16 15-11 15 17 15-10 15 18 15-8 15 19 15-7 15 21 15-6 14 22 15-4 15 24 15-2 15 27 15 0 15 29 15 3 15 31 15 5 14 33 15 5 15 21 15-29 15-12 15-41 15-12 15-39 15-10 15-37 14-8 15-34 15-5 15-32 15-3 15-30 15-2 15-28 15-1 15-27 14 1 15-25 15 2 15-24 15 3 15-24 15 4 15-23 15 5 15-22 14 6 15-22 15 6-11 33-15-30-15 45-15-29-15 45-15-28-15 46-15-27-14 47-15-27-15 48-15-25-15 49-15-25-15 51-15-23-15 51-15-21-14 53-15-20-15 56-15-18-15 58-15-16-15 60-15-12-15 63-15-10-14 66-15-5-15 70-15-63-15 14-15-59-15 17-15-56-15 21-15-53-14 23-15-50-15 25-15-47-15 27-15-46-15 29-15-44-15 30-15-42-14 32-15-42-15 33-15-40-15 34-15-39-15 35-15-39-15 36-15-38-14 36-15-37-15 37z"/>
<path transform="translate(-328 -140)" d="M2625 3409l15-37 15 37 15-37 15 38 15-35 15 38 15-35 14 39 15-34 15 41 15-34 15 42 15-32 15 42 15-31 15 44 15-29 14 46 15-28 15 47 15-26 15 50 15-24 15 51 15-22 15 53 15-21 14 52 15-26 15 40 15-47 15 18 15-60 15 14 15-61 15 15 15-59 14 16 15-57 15 19 15-55 15 20 15-53 15 22 15-52 15 23 15-50 14 25 15-49 15 26 15-48 15 26 15-47 15 28 15-46 15 28 15-45 14 29 15-45 15 29-11-42-15-6-15 22-15-6-15 22-15-4-15 22-15-4-14 24-15-3-15 24-15-2-15 26-15-1-15 26-15 1-15 28-15 2-14 30-15 3-15 32-15 6-15 33-15 8-15 37-15 10-15 39-15 13-14 40-15 12-15 29-15-21-15-5-15-33-15-5-15-31-15-3-15-29-14 0-15-26-15 1-15-24-15 4-15-22-15 6-15-21-15 7-15-19-14 8-15-18-15 10-15-17-15 11-15-16-15 12-15-16-15 13-15-15-14 13-15-14-15 14z"/>
<path transform="translate(-317 -135)" d="M2625 3371l15-13 15 14 15-14 15 15 15-13 15 16 15-12 14 16 15-11 15 17 15-10 15 17 15-8 15 19 15-8 15 20 15-6 14 22 15-5 15 24 15-3 15 25 15-2 15 27 15-1 15 28 15-1 14 24 15-6 15 13 15-21 15-1 15-32 15-7 15-34 15-8 15-34 14-6 15-32 15-5 15-31 15-3 15-29 15-1 15-28 15 0 15-27 14 2 15-26 15 3 15-25 15 4 15-24 15 4 15-22 15 5 15-22 14 5 15-21 15 6-11 32-15-29-15 45-15-29-15 45-15-28-15 46-15-28-14 47-15-26-15 48-15-26-15 49-15-25-15 50-15-23-15 52-15-22-14 53-15-20-15 55-15-18-15 56-15-16-15 59-15-14-15 60-15-13-14 59-15-18-15 47-15-39-15 25-15-52-15 21-15-53-15 22-15-51-14 24-15-50-15 26-15-47-15 28-15-46-15 29-15-44-15 31-15-42-14 32-15-42-15 34-15-41-15 34-15-39-15 35-15-38-15 35-15-37-14 36-15-37-15 37z"/>
<path transform="translate(-305 -130)" d="M2625 3408l15-37 15 37 15-37 15 38 15-36 15 39 15-35 14 39 15-35 15 40 15-33 15 41 15-33 15 43 15-32 15 44 15-30 14 44 15-28 15 46 15-27 15 47 15-26 15 48 15-25 15 48 15-27 14 45 15-33 15 36 15-44 15 25 15-52 15 20 15-56 15 18 15-56 14 19 15-55 15 19 15-53 15 21 15-52 15 22 15-51 15 24 15-50 14 25 15-49 15 26 15-47 15 27 15-47 15 28 15-46 15 28 15-45 14 29 15-45 15 29-11-41-15-6-15 21-15-5-15 22-15-5-15 22-15-4-14 24-15-4-15 25-15-3-15 26-15-2-15 27-15 0-15 28-15 1-14 29-15 3-15 31-15 5-15 32-15 6-15 34-15 8-15 34-15 7-14 32-15 1-15 21-15-13-15 6-15-24-15 1-15-27-15 0-15-27-14 2-15-25-15 3-15-24-15 5-15-22-15 6-15-20-15 8-15-19-14 9-15-18-15 10-15-17-15 11-15-16-15 12-15-16-15 13-15-14-14 13-15-14-15 13z"/>
<path transform="translate(-294 -125)" d="M2625 3370l15-13 15 13 15-13 15 14 15-12 15 15 15-12 14 15 15-11 15 17 15-10 15 17 15-9 15 18 15-8 15 19 15-7 14 21 15-6 15 22 15-5 15 23 15-4 15 24 15-4 15 22 15-6 14 19 15-11 15 11 15-19 15 4 15-27 15-1 15-30 15-4 15-31 14-3 15-31 15-2 15-30 15-1 15-29 15 0 15-27 15 0 15-26 14 2 15-25 15 3 15-24 15 3 15-23 15 5 15-23 15 5 15-22 14 6 15-21 15 6-11 33-15-30-15 45-15-29-15 45-15-28-15 46-15-28-14 47-15-27-15 47-15-25-15 48-15-25-15 50-15-24-15 51-15-22-14 52-15-21-15 53-15-19-15 55-15-19-15 56-15-18-15 56-15-20-14 52-15-25-15 44-15-36-15 33-15-45-15 27-15-48-15 25-15-48-14 26-15-47-15 27-15-46-15 28-15-44-15 30-15-44-15 32-15-42-14 32-15-41-15 33-15-40-15 35-15-39-15 35-15-39-15 36-15-37-14 36-15-37-15 37z"/>
<path transform="translate(-282 -120)" d="M2625 3407l15-37 15 37 15-37 15 37 15-36 15 39 15-36 14 39 15-35 15 40 15-34 15 41 15-33 15 41 15-32 15 43 15-31 14 43 15-30 15 45 15-30 15 46 15-29 15 45 15-29 15 44 15-32 14 41 15-36 15 35 15-43 15 29 15-48 15 24 15-52 15 22 15-53 14 21 15-53 15 22 15-52 15 23 15-52 15 24 15-50 15 24 15-49 14 26 15-48 15 26 15-47 15 27 15-47 15 28 15-45 15 28 15-45 14 29 15-44 15 29-11-41-15-6-15 21-15-6-15 22-15-5-15 23-15-5-14 23-15-3-15 24-15-3-15 25-15-2-15 26-15 0-15 27-15 0-14 29-15 1-15 30-15 2-15 31-15 3-15 31-15 4-15 30-15 1-14 27-15-4-15 20-15-12-15 11-15-19-15 6-15-22-15 4-15-24-14 4-15-23-15 5-15-22-15 6-15-21-15 8-15-20-15 8-15-18-14 9-15-17-15 10-15-17-15 12-15-16-15 12-15-15-15 13-15-15-14 13-15-13-15 14z"/>
<path transform="translate(-271 -116)" d="M2625 3369l15-14 15 14 15-14 15 14 15-13 15 15 15-12 14 15 15-11 15 16 15-11 15 17 15-10 15 18 15-9 15 18 15-8 14 20 15-8 15 20 15-6 15 20 15-6 15 20 15-7 15 19 15-10 14 16 15-14 15 12 15-19 15 6 15-24 15 2 15-26 15 0 15-28 14-1 15-28 15-1 15-28 15 0 15-27 15 1 15-27 15 2 15-25 14 2 15-24 15 3 15-24 15 4 15-23 15 5 15-22 15 5 15-22 14 6 15-21 15 7-11 32-15-29-15 44-15-29-15 45-15-28-15 45-15-27-14 46-15-27-15 47-15-26-15 48-15-26-15 49-15-24-15 50-15-23-14 51-15-23-15 52-15-21-15 52-15-21-15 53-15-22-15 52-15-24-14 48-15-29-15 43-15-35-15 36-15-41-15 32-15-44-15 29-15-45-14 29-15-45-15 29-15-45-15 30-15-43-15 31-15-43-15 32-15-41-14 33-15-41-15 34-15-40-15 35-15-39-15 36-15-39-15 37-15-38-14 37-15-37-15 37z"/>
<path transform="translate(-259 -111)" d="M2625 3405l15-37 15 37 15-37 15 37 15-36 15 38 15-36 14 38 15-35 15 39 15-34 15 40 15-34 15 41 15-33 15 42 15-33 14 43 15-32 15 43 15-31 15 43 15-31 15 42 15-32 15 41 15-34 14 38 15-38 15 35 15-42 15 30 15-46 15 27 15-49 15 25 15-50 14 23 15-50 15 23 15-50 15 24 15-50 15 25 15-49 15 25 15-48 14 26 15-47 15 26 15-46 15 27 15-46 15 28 15-45 15 29 15-45 14 29 15-44 15 30-11-41-15-7-15 21-15-5-15 21-15-5-15 22-15-5-14 23-15-4-15 24-15-3-15 24-15-2-15 25-15-2-15 27-15-1-14 27-15 0-15 28-15 1-15 28-15 1-15 28-15 0-15 27-15-2-14 23-15-6-15 19-15-11-15 13-15-16-15 10-15-19-15 7-15-20-14 6-15-20-15 7-15-21-15 8-15-20-15 8-15-18-15 9-15-18-14 10-15-17-15 11-15-16-15 11-15-15-15 12-15-14-15 12-15-14-14 14-15-14-15 14z"/>
<path transform="translate(-248 -106)" d="M2625 3367l15-14 15 14 15-14 15 14 15-13 15 14 15-13 14 15 15-12 15 16 15-11 15 16 15-11 15 17 15-10 15 18 15-10 14 18 15-8 15 18 15-8 15 18 15-9 15 18 15-10 15 17 15-12 14 14 15-15 15 11 15-18 15 7 15-22 15 5 15-24 15 2 15-26 14 2 15-26 15 1 15-26 15 1 15-26 15 2 15-25 15 2 15-24 14 3 15-24 15 4 15-23 15 4 15-22 15 5 15-22 15 5 15-21 14 6 15-21 15 7-11 33-15-30-15 44-15-29-15 45-15-29-15 46-15-29-14 46-15-27-15 47-15-27-15 47-15-26-15 48-15-25-15 49-15-25-14 50-15-24-15 51-15-24-15 50-15-23-15 50-15-25-15 49-15-27-14 46-15-30-15 42-15-35-15 38-15-38-15 34-15-41-15 32-15-42-14 31-15-43-15 31-15-43-15 32-15-42-15 32-15-42-15 33-15-41-14 34-15-40-15 35-15-40-15 35-15-38-15 36-15-38-15 36-15-37-14 37-15-37-15 37z"/>
<path transform="translate(-236 -101)" d="M2625 3403l15-37 15 36 15-37 15 37 15-36 15 37 15-36 14 38 15-36 15 39 15-35 15 39 15-34 15 40 15-34 15 40 15-33 14 41 15-33 15 41 15-33 15 41 15-33 15 40 15-34 15 39 15-36 14 37 15-39 15 34 15-41 15 31 15-44 15 28 15-46 15 26 15-48 14 26 15-49 15 26 15-49 15 25 15-48 15 26 15-48 15 26 15-47 14 27 15-47 15 27 15-46 15 28 15-46 15 29 15-45 15 29 15-45 14 30 15-44 15 30-11-41-15-7-15 21-15-6-15 22-15-6-15 22-15-5-14 22-15-4-15 23-15-4-15 24-15-3-15 24-15-2-15 25-15-2-14 26-15-1-15 26-15-1-15 26-15-2-15 26-15-2-15 24-15-5-14 22-15-7-15 18-15-11-15 15-15-14-15 12-15-17-15 10-15-18-14 9-15-18-15 8-15-18-15 9-15-19-15 10-15-18-15 10-15-17-14 11-15-16-15 11-15-16-15 12-15-15-15 13-15-14-15 13-15-14-14 14-15-14-15 14z"/>
<path transform="translate(-225 -96)" d="M2625 3365l15-14 15 13 15-14 15 14 15-14 15 14 15-13 14 15 15-13 15 15 15-12 15 16 15-12 15 17 15-11 15 16 15-10 14 17 15-11 15 17 15-10 15 17 15-11 15 16 15-11 15 14 15-13 14 13 15-16 15 11 15-18 15 8 15-21 15 6 15-22 15 4 15-24 14 3 15-24 15 3 15-25 15 3 15-24 15 2 15-24 15 4 15-24 14 4 15-23 15 4 15-22 15 5 15-22 15 5 15-22 15 6 15-21 14 7 15-21 15 7-11 33-15-30-15 44-15-30-15 45-15-29-15 45-15-29-14 46-15-28-15 46-15-27-15 47-15-27-15 47-15-26-15 48-15-26-14 49-15-26-15 49-15-26-15 49-15-26-15 48-15-26-15 46-15-28-14 44-15-31-15 41-15-33-15 38-15-37-15 36-15-39-15 35-15-41-14 33-15-41-15 33-15-41-15 33-15-41-15 34-15-41-15 34-15-40-14 34-15-39-15 35-15-38-15 35-15-38-15 36-15-37-15 36-15-37-14 37-15-36-15 37z"/>
<path transform="translate(-213 -91)" d="M2625 3401l15-38 15 37 15-38 15 37 15-37 15 37 15-36 14 37 15-36 15 38 15-35 15 38 15-35 15 39 15-35 15 40 15-35 14 40 15-34 15 39 15-34 15 40 15-35 15 38 15-35 15 37 15-37 14 36 15-39 15 33 15-41 15 32 15-44 15 30 15-45 15 28 15-46 14 27 15-47 15 27 15-47 15 26 15-47 15 27 15-47 15 27 15-46 14 27 15-46 15 28 15-45 15 28 15-45 15 29 15-45 15 30 15-45 14 30 15-44 15 31-11-41-15-7-15 21-15-7-15 21-15-5-15 21-15-5-14 22-15-5-15 22-15-4-15 23-15-4-15 24-15-4-15 25-15-3-14 24-15-3-15 25-15-3-15 25-15-4-15 24-15-4-15 22-15-6-14 21-15-8-15 18-15-10-15 15-15-13-15 13-15-14-15 11-15-16-14 11-15-17-15 10-15-17-15 11-15-17-15 10-15-16-15 11-15-16-14 11-15-16-15 12-15-15-15 13-15-15-15 13-15-14-15 14-15-14-14 14-15-13-15 14z"/>
<path transform="translate(-202 -86)" d="M2625 3363l15-15 15 13 15-14 15 13 15-13 15 13 15-13 14 14 15-13 15 14 15-12 15 15 15-13 15 16 15-12 15 15 15-11 14 16 15-12 15 16 15-12 15 16 15-13 15 15 15-13 15 14 15-15 14 13 15-17 15 11 15-18 15 8 15-19 15 7 15-22 15 6 15-22 14 4 15-23 15 4 15-23 15 4 15-23 15 4 15-23 15 4 15-23 14 5 15-23 15 5 15-22 15 6 15-22 15 6 15-21 15 6 15-21 14 7 15-21 15 7-11 34-15-31-15 44-15-29-15 44-15-30-15 45-15-29-14 45-15-28-15 45-15-28-15 46-15-27-15 46-15-27-15 47-15-27-14 48-15-27-15 47-15-27-15 47-15-27-15 46-15-28-15 45-15-30-14 44-15-32-15 41-15-33-15 39-15-36-15 37-15-37-15 36-15-39-14 35-15-40-15 35-15-40-15 34-15-40-15 35-15-40-15 35-15-39-14 35-15-38-15 35-15-38-15 36-15-37-15 36-15-37-15 37-15-37-14 38-15-37-15 38z"/>
<path transform="translate(-190 -81)" d="M2625 3399l15-38 15 36 15-38 15 37 15-38 15 37 15-37 14 37 15-36 15 37 15-36 15 38 15-36 15 38 15-35 15 38 15-35 14 38 15-35 15 38 15-35 15 38 15-36 15 37 15-37 15 37 15-38 14 35 15-40 15 34 15-41 15 32 15-43 15 31 15-44 15 29 15-45 14 29 15-46 15 28 15-46 15 28 15-46 15 27 15-46 15 28 15-45 14 28 15-46 15 29 15-45 15 29 15-45 15 30 15-45 15 30 15-44 14 30 15-43 15 30-11-40-15-7-15 20-15-7-15 21-15-6-15 21-15-6-14 22-15-6-15 22-15-5-15 23-15-5-15 23-15-4-15 23-15-4-14 23-15-4-15 23-15-4-15 23-15-4-15 22-15-6-15 22-15-7-14 19-15-8-15 18-15-10-15 16-15-13-15 15-15-14-15 13-15-14-14 12-15-16-15 12-15-16-15 12-15-16-15 12-15-16-15 12-15-15-14 12-15-15-15 12-15-14-15 13-15-14-15 13-15-13-15 13-15-13-14 14-15-12-15 14z"/>
<path transform="translate(-179 -76)" d="M2625 3360l15-14 15 12 15-14 15 13 15-14 15 13 15-14 14 14 15-14 15 14 15-13 15 14 15-13 15 15 15-13 15 15 15-13 14 15 15-12 15 14 15-13 15 15 15-14 15 14 15-14 15 13 15-15 14 11 15-16 15 10 15-18 15 9 15-19 15 8 15-21 15 7 15-21 14 5 15-22 15 6 15-23 15 5 15-22 15 5 15-22 15 5 15-22 14 5 15-22 15 6 15-21 15 6 15-22 15 7 15-21 15 6 15-20 14 7 15-20 15 7-11 33-15-30-15 43-15-30-15 44-15-29-15 44-15-30-14 45-15-29-15 45-15-28-15 45-15-28-15 46-15-29-15 46-15-27-14 46-15-28-15 46-15-28-15 46-15-29-15 45-15-29-15 44-15-31-14 43-15-32-15 41-15-33-15 39-15-35-15 38-15-36-15 36-15-37-14 36-15-38-15 35-15-38-15 35-15-38-15 35-15-38-15 35-15-38-14 36-15-38-15 36-15-37-15 36-15-37-15 37-15-37-15 38-15-37-14 38-15-36-15 38z"/>
<path transform="translate(-167 -71)" d="M2625 3396l15-38 15 36 15-38 15 36 15-38 15 37 15-38 14 37 15-37 15 37 15-37 15 37 15-36 15 37 15-36 15 38 15-37 14 38 15-36 15 37 15-36 15 37 15-37 15 36 15-37 15 35 15-38 14 34 15-40 15 34 15-41 15 32 15-42 15 31 15-43 15 30 15-44 14 29 15-44 15 29 15-45 15 28 15-45 15 29 15-45 15 29 15-45 14 29 15-45 15 29 15-45 15 30 15-44 15 29 15-44 15 31 15-44 14 30 15-43 15 31-11-41-15-7-15 20-15-7-15 21-15-7-15 21-15-7-14 22-15-6-15 21-15-5-15 21-15-5-15 22-15-5-15 22-15-5-14 23-15-5-15 22-15-5-15 21-15-5-15 21-15-7-15 21-15-8-14 19-15-9-15 18-15-10-15 16-15-11-15 15-15-13-15 14-15-13-14 13-15-15-15 13-15-14-15 12-15-15-15 13-15-15-15 13-15-15-14 13-15-14-15 13-15-14-15 14-15-14-15 14-15-13-15 14-15-13-14 14-15-12-15 15z"/>
<path transform="translate(-156 -66)" d="M2625 3358l15-15 15 12 15-15 15 13 15-14 15 12 15-14 14 13 15-14 15 14 15-14 15 14 15-14 15 14 15-13 15 14 15-14 14 14 15-13 15 14 15-14 15 13 15-14 15 13 15-15 15 12 15-15 14 11 15-17 15 10 15-17 15 9 15-19 15 8 15-19 15 7 15-21 14 7 15-21 15 6 15-21 15 6 15-22 15 6 15-22 15 6 15-21 14 6 15-21 15 6 15-21 15 6 15-20 15 6 15-20 15 7 15-20 14 7 15-20 15 7-11 34-15-31-15 43-15-30-15 44-15-30-15 44-15-30-14 44-15-30-15 45-15-29-15 45-15-29-15 45-15-29-15 45-15-29-14 46-15-29-15 45-15-29-15 44-15-29-15 44-15-30-15 43-15-31-14 42-15-32-15 41-15-33-15 39-15-34-15 38-15-35-15 37-15-36-14 37-15-37-15 36-15-37-15 36-15-38-15 37-15-38-15 36-15-37-14 37-15-38-15 37-15-37-15 37-15-37-15 38-15-37-15 38-15-36-14 38-15-36-15 38z"/>
<path transform="translate(-144 -61)" d="M2625 3394l15-39 15 36 15-39 15 36 15-38 15 36 15-38 14 37 15-38 15 37 15-38 15 37 15-37 15 37 15-37 15 37 15-37 14 37 15-38 15 37 15-37 15 36 15-38 15 36 15-38 15 35 15-39 14 34 15-40 15 34 15-41 15 32 15-42 15 32 15-43 15 31 15-43 14 30 15-44 15 30 15-45 15 30 15-44 15 29 15-44 15 29 15-44 14 29 15-44 15 30 15-44 15 30 15-44 15 30 15-44 15 31 15-43 14 30 15-43 15 31-11-41-15-7-15 20-15-7-15 20-15-7-15 20-15-6-14 20-15-6-15 21-15-6-15 21-15-6-15 21-15-5-15 21-15-6-14 22-15-6-15 21-15-6-15 21-15-7-15 21-15-7-15 19-15-8-14 19-15-9-15 18-15-11-15 17-15-11-15 15-15-12-15 15-15-13-14 14-15-13-15 14-15-14-15 13-15-14-15 14-15-14-15 13-15-14-14 14-15-14-15 14-15-13-15 13-15-13-15 15-15-13-15 14-15-12-14 14-15-12-15 15z"/>
<path transform="translate(-133 -57)" d="M2625 3355l15-15 15 12 15-15 15 12 15-14 15 12 15-15 14 13 15-14 15 13 15-14 15 13 15-14 15 13 15-14 15 13 15-14 14 13 15-14 15 13 15-14 15 12 15-14 15 12 15-15 15 11 15-16 14 11 15-17 15 10 15-17 15 9 15-18 15 8 15-19 15 8 15-20 14 7 15-20 15 7 15-21 15 7 15-21 15 6 15-20 15 6 15-21 14 7 15-21 15 7 15-21 15 7 15-20 15 7 15-20 15 7 15-20 14 8 15-20 15 8-11 33-15-31-15 43-15-30-15 43-15-30-15 43-15-30-14 44-15-30-15 44-15-30-15 44-15-29-15 44-15-29-15 44-15-29-14 44-15-29-15 44-15-30-15 44-15-30-15 43-15-31-15 43-15-32-14 42-15-32-15 41-15-34-15 40-15-34-15 39-15-35-15 38-15-36-14 38-15-36-15 37-15-36-15 37-15-37-15 37-15-37-15 37-15-37-14 37-15-36-15 37-15-37-15 38-15-36-15 37-15-36-15 38-15-36-14 39-15-36-15 39z"/>
<path transform="translate(-121 -52)" d="M2625 3391l15-39 15 36 15-39 15 36 15-39 15 36 15-38 14 36 15-38 15 36 15-38 15 36 15-37 15 36 15-38 15 37 15-38 14 36 15-38 15 36 15-38 15 36 15-38 15 35 15-39 15 35 15-40 14 35 15-41 15 34 15-41 15 32 15-41 15 32 15-43 15 32 15-43 14 31 15-44 15 31 15-44 15 31 15-44 15 30 15-44 15 30 15-44 14 30 15-43 15 30 15-44 15 31 15-44 15 31 15-44 15 31 15-43 14 31 15-43 15 31-11-40-15-8-15 20-15-8-15 20-15-7-15 20-15-7-14 20-15-7-15 21-15-7-15 21-15-7-15 21-15-6-15 20-15-6-14 21-15-7-15 21-15-7-15 20-15-7-15 20-15-8-15 19-15-8-14 18-15-9-15 17-15-10-15 17-15-11-15 16-15-11-15 15-15-12-14 15-15-13-15 14-15-13-15 14-15-13-15 14-15-13-15 14-15-13-14 14-15-13-15 14-15-13-15 14-15-12-15 14-15-12-15 14-15-12-14 15-15-12-15 15z"/>
<path transform="translate(-109 -47)" d="M2625 3353l15-16 15 12 15-15 15 12 15-15 15 12 15-15 14 12 15-15 15 13 15-15 15 13 15-15 15 13 15-15 15 13 15-14 14 12 15-14 15 12 15-15 15 12 15-15 15 12 15-16 15 11 15-16 14 10 15-16 15 10 15-18 15 9 15-18 15 9 15-19 15 8 15-19 14 8 15-20 15 7 15-20 15 8 15-21 15 7 15-20 15 7 15-20 14 7 15-20 15 7 15-20 15 7 15-20 15 8 15-20 15 7 15-19 14 8 15-20 15 8-11 34-15-32-15 43-15-31-15 43-15-30-15 43-15-31-14 44-15-31-15 44-15-30-15 43-15-30-15 44-15-30-15 44-15-30-14 44-15-31-15 44-15-31-15 44-15-31-15 43-15-32-15 43-15-32-14 42-15-33-15 41-15-34-15 41-15-34-15 39-15-35-15 39-15-35-14 38-15-36-15 38-15-36-15 38-15-36-15 38-15-37-15 38-15-36-14 37-15-36-15 38-15-36-15 38-15-36-15 38-15-36-15 39-15-36-14 39-15-36-15 39z"/>
<path transform="translate(-98 -42)" d="M2625 3388l15-39 15 35 15-38 15 35 15-39 15 36 15-39 14 36 15-39 15 36 15-38 15 36 15-38 15 35 15-38 15 36 15-38 14 36 15-39 15 36 15-39 15 36 15-39 15 35 15-40 15 35 15-40 14 34 15-40 15 33 15-41 15 33 15-42 15 33 15-42 15 31 15-42 14 31 15-43 15 31 15-43 15 31 15-43 15 30 15-43 15 31 15-44 14 31 15-44 15 31 15-43 15 31 15-43 15 31 15-43 15 31 15-43 14 31 15-43 15 32-11-41-15-8-15 20-15-8-15 20-15-8-15 20-15-8-14 20-15-7-15 20-15-7-15 20-15-7-15 20-15-7-15 21-15-7-14 20-15-7-15 20-15-8-15 20-15-8-15 19-15-8-15 19-15-9-14 18-15-9-15 18-15-10-15 17-15-11-15 16-15-11-15 16-15-12-14 15-15-12-15 15-15-12-15 14-15-12-15 14-15-12-15 14-15-13-14 15-15-13-15 15-15-12-15 14-15-12-15 15-15-12-15 15-15-12-14 15-15-12-15 16z"/>
<path transform="translate(-86 -37)" d="M2625 3350l15-16 15 12 15-16 15 12 15-15 15 12 15-16 14 12 15-15 15 12 15-15 15 13 15-15 15 12 15-15 15 12 15-15 14 12 15-15 15 12 15-15 15 11 15-15 15 11 15-16 15 11 15-17 14 11 15-17 15 10 15-18 15 10 15-18 15 9 15-19 15 9 15-19 14 8 15-19 15 7 15-19 15 8 15-20 15 7 15-19 15 7 15-20 14 8 15-20 15 7 15-19 15 7 15-19 15 7 15-19 15 8 15-19 14 8 15-20 15 9-11 33-15-32-15 43-15-31-15 43-15-31-15 43-15-31-14 43-15-31-15 43-15-30-15 43-15-31-15 44-15-31-15 43-15-30-14 43-15-31-15 43-15-31-15 43-15-31-15 42-15-31-15 42-15-33-14 42-15-33-15 41-15-33-15 40-15-34-15 40-15-35-15 40-15-35-14 39-15-36-15 39-15-36-15 39-15-36-15 38-15-36-15 38-15-35-14 38-15-36-15 38-15-35-15 38-15-36-15 39-15-36-15 39-15-35-14 39-15-36-15 39z"/>
<path transform="translate(-75 -32)" d="M2625 3386l15-39 15 34 15-39 15 35 15-38 15 35 15-39 14 35 15-39 15 36 15-39 15 36 15-39 15 35 15-38 15 35 15-38 14 35 15-39 15 35 15-39 15 35 15-39 15 35 15-40 15 34 15-40 14 34 15-40 15 33 15-41 15 33 15-41 15 32 15-42 15 32 15-42 14 32 15-43 15 32 15-43 15 31 15-43 15 32 15-43 15 31 15-43 14 31 15-43 15 31 15-43 15 31 15-43 15 32 15-43 15 31 15-42 14 31 15-42 15 31-11-40-15-9-15 20-15-8-15 19-15-8-15 20-15-8-14 19-15-7-15 20-15-8-15 20-15-8-15 20-15-7-15 19-15-7-14 20-15-8-15 19-15-7-15 19-15-8-15 19-15-9-15 19-15-9-14 18-15-10-15 18-15-10-15 17-15-11-15 17-15-11-15 16-15-11-14 15-15-11-15 15-15-12-15 15-15-12-15 15-15-12-15 15-15-12-14 15-15-13-15 16-15-13-15 16-15-12-15 15-15-12-15 15-15-11-14 15-15-12-15 16z"/>
<path transform="translate(-63 -27)" d="M2625 3348l15-16 15 11 15-16 15 12 15-16 15 12 15-16 14 12 15-15 15 11 15-15 15 12 15-16 15 12 15-15 15 12 15-16 14 12 15-16 15 12 15-16 15 12 15-16 15 11 15-17 15 11 15-17 14 11 15-17 15 10 15-18 15 10 15-18 15 9 15-18 15 8 15-18 14 8 15-19 15 8 15-19 15 8 15-19 15 8 15-19 15 7 15-19 14 8 15-20 15 8 15-19 15 8 15-19 15 8 15-20 15 9 15-20 14 9 15-19 15 8-11 33-15-31-15 42-15-31-15 42-15-31-15 43-15-32-14 43-15-31-15 43-15-31-15 43-15-31-15 43-15-31-15 43-15-31-14 42-15-31-15 43-15-32-15 43-15-32-15 42-15-32-15 42-15-32-14 41-15-33-15 41-15-33-15 40-15-34-15 40-15-34-15 40-15-35-14 39-15-35-15 39-15-35-15 39-15-35-15 38-15-35-15 39-15-36-14 39-15-36-15 39-15-35-15 38-15-35-15 39-15-35-15 39-15-35-14 39-15-35-15 39z"/>
<path transform="translate(-52 -22)" d="M2625 3383l15-39 15 35 15-40 15 35 15-39 15 35 15-39 14 35 15-39 15 35 15-39 15 35 15-39 15 35 15-39 15 35 15-39 14 35 15-39 15 35 15-39 15 34 15-39 15 34 15-40 15 34 15-40 14 34 15-41 15 34 15-41 15 33 15-42 15 33 15-42 15 33 15-42 14 32 15-42 15 31 15-42 15 32 15-43 15 32 15-43 15 31 15-42 14 31 15-43 15 32 15-43 15 32 15-43 15 32 15-43 15 32 15-42 14 31 15-42 15 32-11-41-15-8-15 19-15-8-15 19-15-9-15 20-15-8-14 19-15-8-15 19-15-7-15 19-15-8-15 20-15-8-15 19-15-8-14 19-15-8-15 20-15-9-15 19-15-8-15 18-15-8-15 18-15-9-14 18-15-10-15 18-15-10-15 17-15-11-15 17-15-11-15 17-15-11-14 16-15-12-15 16-15-12-15 16-15-12-15 16-15-12-15 15-15-12-14 16-15-12-15 15-15-11-15 15-15-12-15 16-15-12-15 16-15-12-14 16-15-11-15 16z"/>
<path transform="translate(-40 -17)" d="M2625 3345l15-16 15 11 15-16 15 12 15-16 15 11 15-16 14 12 15-16 15 12 15-16 15 11 15-15 15 11 15-15 15 11 15-16 14 12 15-16 15 11 15-16 15 11 15-16 15 11 15-17 15 11 15-17 14 10 15-17 15 10 15-18 15 10 15-18 15 9 15-18 15 9 15-18 14 9 15-19 15 9 15-19 15 8 15-19 15 8 15-19 15 8 15-19 14 9 15-20 15 9 15-19 15 8 15-19 15 8 15-19 15 8 15-19 14 9 15-19 15 9-11 33-15-32-15 42-15-31-15 42-15-32-15 43-15-32-14 43-15-32-15 43-15-31-15 42-15-31-15 42-15-31-15 43-15-32-14 43-15-32-15 42-15-31-15 42-15-32-15 42-15-33-15 42-15-33-14 42-15-33-15 41-15-34-15 41-15-34-15 40-15-34-15 40-15-34-14 39-15-34-15 39-15-35-15 39-15-35-15 39-15-35-15 39-15-35-14 39-15-35-15 39-15-35-15 39-15-35-15 39-15-35-15 39-15-35-14 40-15-35-15 39z"/>
<path transform="translate(-29 -12)" d="M2625 3381l15-40 15 35 15-40 15 35 15-39 15 34 15-39 14 35 15-39 15 34 15-39 15 35 15-39 15 34 15-39 15 35 15-39 14 34 15-39 15 34 15-39 15 34 15-40 15 35 15-40 15 33 15-40 14 34 15-41 15 34 15-41 15 33 15-41 15 32 15-41 15 32 15-41 14 32 15-42 15 32 15-42 15 32 15-42 15 31 15-42 15 32 15-43 14 32 15-42 15 31 15-42 15 32 15-43 15 32 15-42 15 32 15-42 14 32 15-43 15 32-11-40-15-9-15 19-15-8-15 18-15-8-15 19-15-8-14 19-15-8-15 19-15-8-15 19-15-9-15 20-15-9-15 19-15-8-14 19-15-8-15 19-15-9-15 19-15-9-15 18-15-9-15 19-15-10-14 18-15-10-15 18-15-10-15 17-15-10-15 17-15-11-15 17-15-11-14 16-15-11-15 16-15-11-15 16-15-12-15 16-15-11-15 15-15-11-14 15-15-11-15 16-15-12-15 16-15-12-15 16-15-11-15 16-15-12-14 16-15-11-15 16z"/>
<path transform="translate(-17 -7)" d="M2625 3343l15-16 15 11 15-17 15 12 15-16 15 11 15-16 14 11 15-16 15 11 15-16 15 12 15-16 15 11 15-16 15 11 15-16 14 11 15-16 15 11 15-16 15 11 15-17 15 11 15-17 15 10 15-16 14 10 15-17 15 9 15-17 15 10 15-18 15 9 15-18 15 9 15-18 14 9 15-18 15 9 15-19 15 9 15-19 15 8 15-18 15 8 15-19 14 9 15-19 15 8 15-19 15 9 15-19 15 9 15-19 15 8 15-18 14 8 15-18 15 8-11 34-15-32-15 42-15-32-15 42-15-32-15 42-15-31-14 42-15-32-15 42-15-31-15 42-15-32-15 43-15-32-15 42-15-31-14 42-15-32-15 42-15-32-15 42-15-32-15 41-15-32-15 41-15-32-14 41-15-33-15 41-15-34-15 41-15-34-15 41-15-34-15 40-15-34-14 39-15-34-15 39-15-34-15 39-15-34-15 39-15-35-15 40-15-35-14 39-15-35-15 39-15-34-15 39-15-35-15 39-15-34-15 39-15-34-14 39-15-34-15 39z"/>
<path transform="translate(-6 -2)" d="M2625 3379l15-40 15 34 15-39 15 34 15-39 15 34 15-39 14 34 15-39 15 34 15-39 15 34 15-39 15 34 15-39 15 34 15-39 14 34 15-39 15 34 15-40 15 34 15-40 15 34 15-40 15 34 15-41 14 34 15-41 15 34 15-41 15 33 15-41 15 33 15-42 15 33 15-42 14 33 15-42 15 32 15-42 15 33 15-42 15 32 15-42 15 32 15-43 14 32 15-42 15 32 15-42 15 32 15-42 15 32 15-42 15 32 15-42 14 32 15-42 15 32-11-41-15-8-15 18-15-8-15 18-15-8-15 19-15-9-14 19-15-9-15 19-15-8-15 19-15-9-15 19-15-8-15 18-15-8-14 19-15-9-15 19-15-9-15 18-15-9-15 19-15-10-15 18-15-9-14 18-15-10-15 18-15-10-15 17-15-10-15 17-15-11-15 17-15-11-14 17-15-11-15 16-15-11-15 16-15-11-15 16-15-11-15 16-15-11-14 16-15-12-15 16-15-11-15 16-15-11-15 16-15-11-15 16-15-11-14 16-15-11-15 16z"/>
</g></g>
<path d="M553.7 749.5l2.8 1.2M613.3 734.5l2.8 1.2M672.9 719.3l2.8 1.2M500.8 747.3l-3 0.8M454.8 727.6l-3 0.8M408.7 707.9l-3 0.8M385.6 698.1l-3 0.8M385.6 655l-3 0.8M385.6 612l-3 0.8M385.6 568.9l-3 0.8" fill="none" stroke="#3c3c3c" stroke-width=".9"/>
<path d="M523.9 757.1L702.7 711.8M523.9 757.1L385.6 698.1" fill="none" stroke="#3c3c3c" stroke-width="1"/>
<path d="M385.6 698.1L385.6 568.9" fill="none" stroke="#3c3c3c" stroke-width="1"/>
<g font-size="12.9"><text x="559.1" y="764.4">-10</text><text x="618.7" y="749.3">0</text><text x="678.3" y="734.2">10</text><g text-anchor="end"><text x="493.9" y="761.2">-10</text><text x="447.8" y="741.5">0</text><text x="401.7" y="721.9">10</text><text x="378.9" y="701.2">0</text><text x="378.9" y="658.1">10</text><text x="378.9" y="615.1">20</text><text x="378.9" y="572">30</text></g></g></g>
<g clip-path="url(#cg)"><path d="M208.1 1015.9L67.7 955.1M67.7 955.1L67.7 825.1M265.4 1001.1L125 940.4M125 940.4L125 810.4M322.8 986.4L182.4 925.6M182.4 925.6L182.4 795.6M149.9 1013.3L330 967M330 967L330 837M105.2 993.9L285.3 947.6M285.3 947.6L285.3 817.6M60.5 974.5L240.6 928.2M240.6 928.2L240.6 798.2M35 963.5L215.1 917.2M215.1 917.2L355.5 978M35 931L215.1 884.7M215.1 884.7L355.5 945.5M35 898.5L215.1 852.2M215.1 852.2L355.5 913M35 866L215.1 819.7M215.1 819.7L355.5 880.5M35 833.5L215.1 787.2M215.1 787.2L355.5 848M35 963.5L215.1 917.2M355.5 978L215.1 917.2" fill="none" stroke="#ccd6d9" stroke-width=".65"/>
<g transform="scale(.2)"><g fill="none" stroke-width="3">
<path stroke="#1f30ff" d="M1108 4703l-14-1-1-3 4-3 8-3 9-2 13-1 11 1 1 2 0 2-3 2-6 4z"/>
<path stroke="#2570ff" d="M1133 4708l-43 2-28 3-36 7-42 11 69-19 18-10 19-13 8-2 71-5 44-10-37 10-15 8-15 15-4 1zM991 4646l-11 1-10-1 0-2 9-6 9-2 13 0 4 1 2 3-1 1-6 3z"/>
<path stroke="#40f7e8" d="M1620 4930l-24-10-7-5 0-1 3-4 7-3 15-2 15 0 10 3 25 11M1582 4903l-13 0-11-1-7-2-72-31-4-3 0-4 5-4 13-3 13 0 16 3 75 32 2 2 0 4-2 1-5 4zM1266 4669l-72 18-15 5-9 6 0 4 3 3 23 11 245 107 10 5 5 4-2 5-9 3-17 1-18-3-269-115-16-6-21-2-24 3-39 8-479 123-25 4-25 1-4-1-1-4 2-2 9-5 16-5 478-123 32-9 14-6 6-4 0-4-4-3-72-31-8-2-11-1-31 0 10-8 2-3 0-2-7-4-25-11M336 4887l86-21 24-3 18 1 2 2-1 2-3 3-12 7-84 22M962 4615l25 11 10 3 35 1-1 4-4 5 0 3 2 2 67 29 16 6 17 1 22-3 86-21"/>
<path stroke="#84ff83" d="M877 5122M1327 5006l113-29 27-14-3-2 36-10-4-2 2-3 30-9 7-6 14-4 12-7 7-6 1-3-18-1-24 1-41 6-8-1-29 7-11 0-9-3-41 9-1-1-47 5-75 20 73-20-10-4 38-10-8-6 34-9 1-7 25-7 0-6 17-7 28-19 11-5 14-3 23-1 50-1 13 1 28-6 19 5 45-6 22 9-37 10 10 5 1 2-25 8 0 2-11 8-6 6-1 2 2 4 14 1 44-2 25-5 12-1 10 3 31-8 9-1 12 5M1427 4738l83 36-9 10-17 5 20 10-20 14-1 2 1 4-1 2-4 9-7 8-7 5-13 3-121 5-8-3-37 7-16-4-6-2-42 7-14-5-47 5-11-5-20 6-29-1-11-5-35 9-25-9-37 10-33-14-38 9-25-9-35 9-11-5-28 0-21 5-11-5-47 6-14-5-42 7-5-3-16-3-37 6-8-3-103 4-24 2-8 3-7 5-7 9-5 9 2 5-2 2-20 14 21 10-18 4-8 10 83 37M175 4817l11 5 10 0 30-8 11 3 11-1 26-5 44-2 14 1 2 3-2 2-6 7-11 7 0 3-24 7 0 3 10 4-37 10 22 10 45-7 19 6 28-6 14 1 49-1 23-2 15-2 10-5 28-20 17-7 0-5 26-7 0-8 34-9-7-5 37-10-9-4 73-20-75 19-47 6-2-1-41 8-9-3-11 1-29 7-8-1-41 5-24 2-17-2 1-3 7-5 12-7 14-5 7-6 29-9 2-3-4-2 36-10-2-1 27-14 112-29M1076 4586"/>
<path stroke="#ddfd34" d="M1034 5081l-25-11-6-4 0-2 2-2 9-8-31 0-11-1-7-2-72-31-4-3 0-4 5-5 15-5 32-9 478-124 15-5 9-5 3-2-1-4-4-1-25 1-25 4-480 123-38 9-24 2-22-2-16-5-269-116-18-3-17 1-9 4-1 4 4 5 10 5 245 106 24 11 2 3 0 4-9 7-15 4-72 19M716 5052l85-22 22-2 18 1 16 5 66 30 2 1 1 4-5 5 0 4 34 0 11 4 24 10M1587 4807l-84 23-13 6-3 4 0 2 2 1 17 1 24-2 86-22M457 4853l12-2 6-4 2-2 0-3-1-2-75-33-7-2-10-1-14 1-9 2-7 5 0 4 4 2 73 32 15 3zM288 4788l25 11 11 3 14 1 16-2 6-3 3-4 0-2-6-4-25-11"/>
<path stroke="#ff601f" d="M961 5071l9-1 7-2 6-4-1-2-14-1-16 2-6 5 1 3zM848 5021l14-3 19-12 19-10 69-19-42 11-37 6-27 4-43 2-10 1-6 4-12 12-16 8-37 11 44-11z"/>
<path stroke="#df1f1f" d="M834 5017l14-2 7-3 4-3 0-4-11-1-10 0-11 2-8 2-5 5-1 2 2 1 10 2z"/>
</g>
<g fill="url(#gg)">
<path transform="translate(-696 -302)" d="M883 4799l67-18 9-4 8-7 9-14 4-10 9-29 17-65 4-10 5-6 4-2 4 3 5 7 5 13 16 48 9 19 8 12 5 4 8 4 29-3 450-116 28-2 9 4 4 3 9 13 9 19 16 48 5 12 4 7 5 3 4-1 4-6 5-11 17-65 8-28 5-11 8-14 9-7 8-4 68-18-11-4-68 17-8 4-9 7-8 14-5 11-8 29-18 64-4 11-4 6-4 1-5-3-4-7-5-12-17-48-8-19-9-12-4-4-9-4-28 3-450 115-29 3-9-4-4-4-8-12-9-19-16-48-6-12-4-8-4-3-4 2-5 6-4 10-17 65-9 29-4 10-9 15-8 7-9 3-68 18z"/>
<path transform="translate(-690 -299)" d="M878 4797l68-18 8-3 9-7 9-15 4-10 9-29 17-65 4-10 4-6 5-2 4 3 4 7 5 13 17 48 8 19 9 12 4 4 9 4 28-3 451-115 28-3 9 4 4 4 9 12 8 19 17 48 5 12 4 7 4 3 5-1 4-6 4-11 17-65 9-28 4-11 9-14 9-7 8-4 68-17-14-6-67 17-9 4-9 7-8 14-5 11-8 29-17 64-5 11-4 6-4 1-5-3-4-7-5-12-16-48-9-19-9-12-4-4-8-4-29 3-450 115-29 3-8-4-5-4-8-12-9-19-16-48-5-12-5-8-4-3-4 2-5 6-4 10-17 65-9 29-4 11-9 14-8 7-9 3-67 18z"/>
<path transform="translate(-686 -297)" d="M880 4798l67-18 9-4 9-7 8-14 4-11 9-28 17-65 5-11 4-6 4-1 4 3 5 7 5 13 16 47 9 20 8 12 5 3 8 4 29-2 450-116 29-2 8 3 5 4 8 12 9 20 16 47 5 13 5 7 4 3 4-1 5-7 4-10 17-65 9-29 4-10 9-14 8-7 9-4 67-18-8-3-67 17-9 4-9 7-8 14-4 11-9 29-17 64-5 11-4 6-4 2-4-4-5-7-5-12-16-48-9-19-8-12-5-4-8-4-29 3-450 115-29 3-8-4-5-4-8-12-9-19-16-48-5-12-5-7-4-4-4 2-4 6-5 11-17 64-9 29-4 11-8 14-9 7-9 3-67 18z"/>
<path transform="translate(-681 -295)" d="M879 4797l67-18 9-3 8-7 9-14 4-11 9-29 17-64 4-11 5-6 4-2 4 4 5 7 5 12 16 48 9 19 8 12 5 4 8 4 29-3 450-115 28-3 9 4 4 4 9 12 9 19 16 48 5 12 4 7 5 4 4-2 4-6 5-11 17-64 8-29 5-11 8-14 9-7 8-4 68-17-9-4-67 18-9 3-8 7-9 15-4 10-9 29-17 65-4 10-5 6-4 2-4-3-5-8-5-12-16-48-9-19-8-12-5-4-8-4-29 3-450 115-29 3-8-4-4-4-9-12-9-19-16-48-5-12-4-7-5-3-4 1-4 6-5 11-17 64-8 29-5 11-8 14-9 7-9 4-67 17z"/>
<path transform="translate(-678 -294)" d="M878 4797l68-18 8-3 9-7 9-14 4-11 9-29 17-65 4-10 4-6 5-2 4 3 4 8 5 12 17 48 8 19 9 12 4 4 9 4 28-3 451-115 28-3 9 4 4 4 9 12 8 19 17 48 5 12 4 7 4 3 5-1 4-6 4-11 17-64 9-29 4-11 9-14 9-7 8-4 68-17-6-3-67 18-9 4-9 7-8 14-5 10-8 29-17 65-5 10-4 7-4 1-5-3-4-7-5-13-16-47-9-20-9-12-4-4-8-3-29 2-450 116-29 2-8-4-5-3-8-13-9-19-16-48-5-12-5-7-4-3-4 1-5 6-4 11-17 65-9 28-4 11-9 14-8 7-9 4-67 18z"/>
<path transform="translate(-674 -292)" d="M880 4800l67-18 9-3 9-8 8-14 4-10 9-29 17-65 5-10 4-6 4-2 4 3 5 7 5 13 16 48 9 19 8 12 5 4 8 4 29-3 450-116 29-2 8 4 5 3 8 13 9 19 16 48 5 12 5 7 4 3 4-1 5-6 4-11 17-65 9-28 4-11 9-14 8-7 9-4 67-18-8-5-67 17-9 4-9 7-8 14-4 11-9 29-17 64-5 11-4 6-4 2-4-4-5-7-5-12-16-48-9-19-8-12-5-4-8-4-29 3-450 115-29 3-8-4-5-4-8-12-9-19-16-48-5-12-5-7-4-4-4 2-4 6-5 11-17 64-9 29-4 11-8 14-9 7-9 4-67 17z"/>
<path transform="translate(-670 -290)" d="M879 4804l67-18 9-3 8-7 9-14 4-11 9-29 17-64 4-11 5-6 4-2 4 4 5 7 5 12 16 48 9 19 8 12 5 4 8 4 29-3 450-115 28-3 9 4 4 4 9 12 9 19 16 48 5 12 4 7 5 4 4-2 4-6 5-11 17-64 8-29 5-11 8-14 9-7 8-4 68-17-9-11-67 18-9 3-8 8-9 14-4 10-9 29-17 65-4 10-5 6-4 2-4-3-5-7-5-13-16-48-9-19-8-12-5-4-8-4-29 3-450 116-29 2-8-4-4-3-9-13-9-19-16-48-5-12-4-7-5-3-4 1-4 6-5 11-17 65-8 28-5 11-8 14-9 7-9 4-67 18z"/>
<path transform="translate(-667 -289)" d="M878 4812l68-18 8-4 9-7 9-14 4-11 9-28 17-65 4-10 4-7 5-1 4 3 4 7 5 13 17 47 8 20 9 12 4 3 9 4 28-2 451-116 28-2 9 3 4 4 9 12 8 20 17 47 5 13 4 7 4 3 5-1 4-7 4-10 17-65 9-29 4-10 9-14 9-7 8-4 68-18-6-15-67 18-9 4-9 7-8 14-5 11-8 28-17 65-5 11-4 6-4 1-5-3-4-7-5-12-16-48-9-19-9-13-4-3-8-4-29 2-450 116-29 2-8-3-5-4-8-12-9-20-16-47-5-13-5-7-4-3-4 1-5 7-4 10-17 65-9 29-4 10-9 14-8 7-9 4-67 18z"/>
<path transform="translate(-663 -287)" d="M880 4841l67-17 9-4 9-7 8-14 4-11 9-28 17-65 5-11 4-6 4-1 4 3 5 7 5 12 16 48 9 19 8 13 5 3 8 4 29-3 450-115 29-3 8 4 5 4 8 12 9 19 16 48 5 13 5 7 4 3 4-2 5-6 4-10 17-65 9-29 4-10 9-14 8-8 9-3 67-18-8-40-67 17-9 4-9 7-8 14-4 11-9 29-17 64-5 11-4 6-4 2-4-4-5-7-5-12-16-48-9-19-8-12-5-4-8-4-29 3-450 115-29 3-8-4-5-4-8-12-9-19-16-48-5-12-5-7-4-4-4 2-5 6-4 11-17 64-9 29-4 11-9 14-8 7-9 4-67 17z"/>
<path transform="translate(-659 -285)" d="M879 4857l67-18 9-4 8-7 9-14 4-11 9-28 17-65 4-11 5-6 4-1 4 3 5 7 5 12 16 48 9 20 8 12 5 3 8 4 29-2 450-116 28-2 9 3 4 4 9 12 9 20 16 47 5 13 4 7 5 3 4-1 4-7 5-10 17-65 8-29 5-10 8-14 9-7 8-4 68-18-9-48-67 17-9 4-8 7-9 14-4 11-9 29-17 64-4 11-5 6-4 1-4-3-5-7-5-12-16-48-9-19-8-12-5-4-8-4-29 3-450 115-29 3-8-4-4-4-9-12-9-19-16-48-5-12-4-8-5-3-4 2-4 6-5 10-17 65-8 29-5 10-8 15-9 7-9 3-67 18z"/>
<path transform="translate(-656 -284)" d="M878 4864l68-18 8-4 9-7 9-14 4-11 9-28 17-65 4-11 4-6 5-1 4 3 4 7 5 12 17 48 8 19 9 13 4 3 9 4 28-2 451-116 28-3 9 4 4 4 9 12 8 19 17 48 5 13 4 7 4 3 5-2 4-6 4-10 17-65 9-29 4-10 9-14 9-8 8-3 68-18-6-25-67 18-9 3-9 7-8 15-5 10-8 29-17 65-5 10-4 6-4 2-4-3-5-8-5-12-16-48-9-19-8-12-5-4-8-4-29 3-450 115-29 3-8-4-5-4-8-12-9-19-16-48-5-12-5-7-4-3-4 1-5 6-4 11-17 64-9 29-4 11-9 14-8 7-9 4-67 17z"/>
<path transform="translate(-652 -282)" d="M880 4852l67-18 9-3 9-7 8-14 4-11 9-29 17-65 5-10 4-6 4-2 4 3 5 8 5 12 16 48 9 19 8 12 5 4 8 4 29-3 450-115 29-3 8 4 5 4 8 12 9 19 16 48 5 12 5 7 4 4 4-2 5-6 4-11 17-64 9-29 4-11 9-14 8-7 9-4 67-17-8 1-67 18-9 4-9 7-8 14-5 10-8 29-17 65-5 10-4 7-4 1-5-3-4-7-5-13-16-47-9-20-9-12-4-4-8-3-29 2-450 116-29 2-8-4-5-3-8-12-9-20-16-47-5-13-5-7-4-3-4 1-5 6-4 11-17 65-9 28-4 11-9 14-8 7-9 4-67 18z"/>
<path transform="translate(-648 -281)" d="M879 4835l67-18 9-3 8-7 9-14 4-11 9-29 17-64 4-11 5-6 4-2 4 4 4 7 6 12 16 48 9 19 8 12 4 4 9 4 29-3 450-115 28-3 9 4 4 4 9 12 9 19 16 48 5 12 4 7 5 4 4-2 4-6 5-11 17-64 8-29 5-11 8-14 9-7 8-4 68-17-9 24-67 18-9 4-8 7-9 14-4 11-9 28-17 65-4 11-5 6-4 1-4-3-5-7-5-12-16-48-9-19-8-13-5-3-8-4-29 2-450 116-29 3-8-4-4-4-9-12-9-19-16-48-5-13-4-7-5-3-4 2-4 6-5 10-17 65-8 29-5 10-8 14-9 8-9 3-67 18z"/>
<path transform="translate(-645 -279)" d="M878 4822l68-18 8-4 9-7 9-14 4-11 9-28 17-65 4-11 4-6 5-1 4 3 4 7 5 12 17 48 8 19 9 13 4 3 9 4 28-2 451-116 28-3 9 4 4 4 9 12 8 19 17 48 5 13 4 7 4 3 5-2 4-6 4-10 17-65 9-29 4-10 9-14 9-8 8-3 68-18-6 28-67 17-9 4-9 7-8 14-4 11-9 29-17 64-5 11-4 6-4 1-4-3-5-7-5-12-16-48-9-19-8-12-5-4-8-4-29 3-450 115-29 3-8-4-5-4-8-12-9-19-16-48-5-12-5-8-4-3-4 2-5 6-4 10-17 65-9 29-4 10-9 15-8 7-9 3-67 18z"/>
<path transform="translate(-641 -278)" d="M880 4804l67-18 9-4 9-7 8-14 4-11 9-28 17-65 5-11 4-6 4-1 4 3 5 7 5 12 16 48 9 19 8 13 5 3 8 4 29-2 450-116 29-2 8 3 5 4 8 12 9 20 16 47 5 13 5 7 4 3 4-1 5-7 4-10 17-65 9-29 4-10 9-14 8-7 9-4 67-18-8 29-67 17-9 4-9 7-8 14-5 11-8 29-17 64-5 11-4 6-4 2-5-4-4-7-5-12-16-48-9-19-9-12-4-4-8-4-29 3-450 115-29 3-8-4-5-4-8-12-9-19-16-48-5-12-5-7-4-4-4 2-5 6-4 11-17 64-9 29-4 11-9 14-8 7-9 4-67 17z"/>
<path transform="translate(-637 -276)" d="M878 4799l68-17 9-4 8-7 9-14 4-11 9-29 17-64 4-11 5-6 4-2 4 4 4 7 6 12 16 48 9 19 8 12 4 4 9 4 29-3 450-115 28-3 9 4 4 4 9 12 9 19 16 48 5 12 4 7 5 4 4-2 4-6 5-11 17-64 8-29 5-11 8-14 9-7 8-4 68-17-9 18-67 18-9 4-8 7-9 14-4 11-9 28-17 65-4 11-5 6-4 1-4-3-5-7-5-12-16-48-9-19-8-13-5-3-8-4-29 2-450 116-29 3-8-4-4-4-9-12-9-19-16-48-5-13-4-7-5-3-4 2-4 6-5 10-17 65-8 29-5 10-8 14-9 8-8 3-68 18z"/>
<path transform="translate(-634 -274)" d="M878 4798l68-18 8-4 9-7 9-14 4-10 9-29 17-65 4-10 4-7 5-1 4 3 4 7 5 13 17 47 8 20 9 12 4 4 9 3 28-2 451-116 28-2 9 4 4 3 9 12 8 20 17 47 5 13 4 7 4 3 5-1 4-6 4-11 18-65 8-28 4-11 9-14 9-7 8-4 68-18-6 3-67 18-9 3-9 8-8 14-4 10-9 29-17 65-5 10-4 6-4 2-4-3-5-7-5-13-16-48-9-19-8-12-5-4-8-4-29 3-450 116-29 2-8-4-5-3-8-13-9-19-16-48-5-12-5-7-4-3-4 1-5 6-4 11-17 65-9 28-4 11-9 14-8 7-9 4-67 18z"/>
<path transform="translate(-630 -273)" d="M880 4798l67-18 9-4 9-7 8-14 4-11 9-28 17-65 5-10 4-7 4-1 4 3 5 7 5 13 16 47 9 20 8 12 5 3 8 4 29-2 450-116 29-2 8 4 5 3 8 12 9 20 16 47 5 13 5 7 4 3 4-1 5-7 4-10 17-65 9-28 4-11 9-14 8-7 9-4 67-18-8-1-67 18-9 3-9 7-8 14-5 11-8 29-17 64-5 11-4 6-4 2-5-4-4-7-5-12-16-48-9-19-9-12-4-4-8-4-29 3-450 115-29 3-8-4-5-4-8-12-9-19-16-48-5-12-5-7-4-4-4 2-5 6-4 11-17 64-9 29-4 11-9 14-8 7-9 4-67 17z"/>
<path transform="translate(-625 -271)" d="M878 4797l68-18 9-3 8-7 9-14 4-11 9-29 17-65 4-10 5-6 4-2 4 3 4 8 6 12 16 48 9 19 8 12 4 4 9 4 29-3 450-115 28-3 9 4 4 4 9 12 9 19 16 48 5 12 4 7 5 3 4-1 4-6 4-11 18-64 8-29 5-11 8-14 9-7 8-4 68-17-9-3-67 17-9 4-8 7-9 14-4 11-9 29-17 64-4 11-5 6-4 2-4-4-5-7-5-12-16-48-9-19-8-12-5-4-8-4-29 3-450 115-28 3-9-4-4-4-9-12-9-19-16-48-5-12-4-8-5-3-4 2-4 6-5 10-17 65-8 29-5 11-8 14-9 7-8 3-68 18z"/>
<path transform="translate(-623 -270)" d="M878 4797l68-18 9-3 8-7 9-15 4-10 9-29 17-65 4-10 4-6 5-2 4 3 4 8 5 12 17 48 8 19 9 12 4 4 9 4 28-3 451-115 28-3 9 4 4 4 9 12 8 19 17 48 5 12 4 7 4 3 5-1 4-6 4-11 18-64 8-29 4-11 9-14 9-7 8-4 68-17-6-3-67 18-9 4-9 7-8 14-4 10-9 29-17 65-5 10-4 7-4 1-4-3-5-7-5-13-16-47-9-20-8-12-5-4-8-3-29 2-450 116-29 2-8-4-5-3-8-12-9-20-16-48-5-12-5-7-4-3-4 1-4 6-5 11-17 65-9 28-4 11-8 14-9 7-9 4-67 18z"/>
<path transform="translate(-617 -267)" d="M881 4798l68-17 8-4 9-7 9-14 4-11 9-29 17-64 4-11 4-6 5-1 4 3 4 7 5 12 17 48 8 19 9 12 4 4 9 4 28-3 451-115 28-3 9 4 4 4 9 12 8 19 17 48 5 12 4 8 4 3 5-2 4-6 4-10 17-65 9-29 4-11 9-14 9-7 8-3 68-18-11-5-68 18-9 3-8 8-9 14-4 10-9 29-17 65-4 10-4 6-5 2-4-3-4-7-5-13-17-48-8-19-9-12-4-4-9-4-29 3-450 115-28 3-9-4-4-3-9-13-8-19-17-48-5-12-4-7-5-3-4 1-4 6-4 11-18 65-8 28-5 11-8 14-9 7-8 4-68 18z"/>
<path transform="translate(-607 -263)" d="M883 4799l67-18 9-4 8-7 9-14 4-10 9-29 17-65 4-10 5-6 4-2 4 3 5 7 5 13 16 48 9 19 8 12 5 4 8 4 29-3 450-116 28-2 9 4 4 3 9 13 9 19 16 48 5 12 4 7 5 3 4-1 4-6 5-11 17-65 8-28 5-11 8-14 9-7 8-4 68-18-20-8-67 18-9 3-8 7-9 14-4 11-9 29-17 65-4 10-5 6-4 2-4-3-5-8-5-12-16-48-9-19-8-12-5-4-8-4-29 3-450 115-29 3-8-4-4-4-9-12-9-19-16-48-5-12-4-7-5-3-4 1-4 6-5 11-17 64-8 29-5 11-8 14-9 7-9 4-67 17z"/>
<path transform="translate(-596 -258)" d="M883 4799l67-18 9-4 8-7 9-14 4-10 9-29 17-65 4-10 5-6 4-2 4 3 5 7 5 13 16 48 9 19 8 12 5 4 8 4 29-3 450-116 28-2 9 4 4 3 9 13 9 19 16 48 5 12 4 7 5 3 4-1 4-6 5-11 17-65 8-28 5-11 8-14 9-7 8-4 68-18-22-9-68 17-8 4-9 7-9 14-4 11-8 29-18 64-4 11-4 6-5 2-4-4-4-7-5-12-17-48-8-19-9-12-4-4-9-4-28 3-451 115-28 3-9-4-4-4-9-12-8-19-17-48-5-12-4-7-4-4-5 2-4 6-4 11-17 64-9 29-4 11-9 14-9 7-8 4-68 17z"/>
<path transform="translate(-585 -253)" d="M883 4799l67-18 9-4 8-7 9-14 4-10 9-29 17-65 4-10 5-6 4-2 4 3 5 7 5 13 16 48 9 19 8 12 5 4 8 4 29-3 450-116 28-2 9 4 4 3 9 13 9 19 16 48 5 12 4 7 5 3 4-1 4-6 5-11 17-65 8-28 5-11 8-14 9-7 8-4 68-18-22-9-68 17-8 4-9 7-9 14-4 11-8 29-18 64-4 11-4 6-5 2-4-4-4-7-5-12-17-48-8-19-9-12-4-4-9-4-28 3-451 115-28 3-9-4-4-4-9-12-8-19-17-48-5-12-4-7-4-4-5 2-4 6-4 11-17 64-9 29-4 11-9 14-9 7-8 4-68 17z"/>
<path transform="translate(-574 -249)" d="M883 4799l67-18 9-3 8-8 9-14 4-10 9-29 17-65 4-10 5-6 4-2 4 3 5 7 5 13 16 48 9 19 8 12 5 4 8 4 29-3 450-116 28-2 9 4 4 3 9 13 9 19 16 48 5 12 4 7 5 3 4-1 4-6 5-11 17-65 8-28 5-11 8-14 9-7 8-4 68-18-22-9-68 17-8 4-9 7-9 14-4 11-9 29-17 64-4 11-4 6-5 2-4-4-4-7-5-12-17-48-8-19-9-12-4-4-9-4-28 3-451 115-28 3-9-4-4-4-9-12-8-19-17-48-5-12-4-7-4-4-5 2-4 6-4 11-17 64-9 29-4 11-9 14-9 7-8 4-68 17z"/>
<path transform="translate(-564 -244)" d="M881 4800l68-18 8-4 9-7 9-14 4-11 8-28 18-65 4-10 4-7 5-1 4 3 4 7 5 13 17 47 8 20 9 12 4 3 9 4 28-2 450-116 29-2 9 3 4 4 9 12 8 20 17 47 5 13 4 7 4 3 5-1 4-7 4-10 17-65 9-29 4-10 9-14 8-7 9-4 68-18-20-10-67 18-9 4-9 7-8 14-4 11-9 28-17 65-5 11-4 6-4 1-4-3-5-7-5-12-16-48-9-19-8-13-5-3-8-4-29 2-450 116-29 2-8-3-5-4-8-12-9-19-16-48-5-13-5-7-4-3-4 1-4 7-5 10-17 65-9 29-4 10-8 14-9 7-9 4-67 18z"/>
<path transform="translate(-559 -242)" d="M878 4801l68-18 9-4 8-7 9-14 4-11 9-28 17-65 4-11 5-6 4-1 4 3 4 7 6 12 16 48 9 20 8 12 4 3 9 4 29-2 450-116 28-2 9 3 4 4 9 12 8 20 17 47 5 13 4 7 5 3 4-1 4-7 4-10 18-65 8-29 5-10 8-14 9-7 8-4 68-18-11-8-68 18-8 3-9 7-9 14-4 11-8 29-18 65-4 10-4 6-5 2-4-3-4-8-5-12-17-48-8-19-9-12-4-4-9-4-28 3-451 115-28 3-9-4-4-4-9-12-8-19-17-48-5-12-4-7-4-3-5 1-4 6-4 11-17 64-9 29-4 11-9 14-9 7-8 4-68 17z"/>
<path transform="translate(-556 -241)" d="M878 4804l68-17 9-4 8-7 9-14 4-11 9-29 17-64 4-11 4-6 5-1 4 3 4 7 5 12 17 48 8 19 9 12 4 4 9 4 28-3 451-115 28-3 9 4 4 4 9 12 8 19 17 48 5 12 4 8 4 3 5-2 4-6 4-10 18-65 8-29 4-11 9-14 9-7 8-3 68-18-6-8-67 17-9 4-9 7-8 14-4 11-9 29-17 64-5 11-4 6-4 1-4-3-5-7-5-12-16-48-9-19-8-12-5-4-8-4-29 3-450 115-29 3-8-4-5-4-8-12-9-19-16-48-5-12-5-8-4-3-4 2-4 6-5 10-17 65-9 29-4 11-8 14-9 7-9 3-67 18z"/>
<path transform="translate(-552 -239)" d="M880 4822l67-18 9-3 9-7 8-14 4-11 9-29 17-64 5-11 4-6 4-2 4 4 5 7 5 12 16 48 9 19 8 12 5 4 8 4 29-3 450-115 29-3 8 4 5 4 8 12 9 19 16 48 5 12 5 7 4 4 4-2 5-6 4-11 17-64 9-29 4-11 9-14 8-7 9-4 67-17-8-25-68 18-8 4-9 7-8 14-5 10-8 29-17 65-5 10-4 7-4 1-5-3-4-7-5-13-16-47-9-20-9-12-4-4-9-3-28 2-450 116-29 2-9-4-4-3-8-12-9-20-16-48-6-12-4-7-4-3-4 1-5 6-4 11-17 65-9 28-4 11-9 14-8 7-9 4-67 18z"/>
<path transform="translate(-547 -237)" d="M878 4837l68-18 9-3 8-7 9-15 4-10 9-29 17-65 4-10 5-6 4-2 4 3 4 7 6 13 16 48 9 19 8 12 4 4 9 4 29-3 450-115 28-3 9 4 4 3 9 13 8 19 17 48 5 12 4 7 5 3 4-1 4-6 4-11 18-65 8-28 5-11 8-14 9-7 8-4 68-17-9-37-67 18-9 4-8 7-9 14-4 11-9 28-17 65-4 10-5 7-4 1-4-3-5-7-5-13-16-47-9-20-8-12-4-3-9-4-29 2-450 116-28 2-9-4-4-3-9-12-9-20-16-47-5-13-4-7-5-3-4 1-4 7-5 10-17 65-8 28-5 11-8 14-9 7-8 4-68 18z"/>
<path transform="translate(-545 -236)" d="M878 4856l68-18 9-4 8-7 9-14 4-11 9-28 17-65 4-10 4-7 5-1 4 3 4 7 5 13 17 47 8 20 9 12 4 3 9 4 28-2 451-116 28-2 9 4 4 3 9 12 8 20 17 47 5 13 4 7 4 3 5-1 4-7 4-10 18-65 8-28 4-11 9-14 9-7 8-4 68-18-6-36-67 17-9 4-9 7-8 14-4 11-9 29-17 64-5 11-4 6-4 2-4-4-5-7-5-12-16-48-9-19-8-12-5-4-8-4-29 3-450 115-29 3-8-4-5-4-8-12-9-19-16-48-5-12-5-8-4-3-4 2-4 6-5 10-17 65-9 29-4 11-8 14-9 7-9 3-67 18z"/>
<path transform="translate(-540 -234)" d="M880 4903l67-18 9-4 9-7 8-14 4-10 9-29 17-65 5-10 4-7 4-1 4 3 5 7 5 13 16 47 9 20 8 12 5 4 8 3 29-2 450-116 29-2 8 4 5 3 8 12 9 20 16 48 5 12 5 7 4 3 4-1 5-6 4-11 17-65 9-28 4-11 9-14 8-7 9-4 67-18-8-68-68 17-8 4-9 7-8 14-5 11-8 28-17 65-5 11-4 6-4 1-5-3-4-7-5-12-16-48-9-19-9-13-4-3-9-4-28 3-450 115-29 3-9-4-4-4-8-12-9-19-16-48-6-13-4-7-4-3-4 2-5 6-4 10-17 65-9 29-4 10-9 14-8 8-9 3-68 18z"/>
<path transform="translate(-536 -232)" d="M878 4925l68-18 9-3 8-7 9-14 4-11 9-29 17-65 4-10 5-6 4-2 4 3 4 8 6 12 16 48 8 19 9 12 4 4 9 4 29-3 450-115 28-3 9 4 4 4 9 12 8 19 17 48 5 12 4 7 5 3 4-1 4-6 4-11 18-64 8-29 5-11 8-14 9-7 8-4 68-17-9-73-67 17-9 4-8 7-9 14-4 11-9 29-17 64-4 11-5 6-4 1-4-3-4-7-6-12-16-48-9-19-8-12-4-4-9-4-29 3-450 115-28 3-9-4-4-4-9-12-9-19-16-48-5-12-4-8-5-3-4 2-4 6-5 10-17 65-8 29-5 11-8 14-9 7-8 3-68 18z"/>
<path transform="translate(-533 -231)" d="M878 4943l68-17 9-4 8-7 9-14 4-11 9-29 17-64 4-11 4-6 5-2 4 4 4 7 5 12 17 48 8 19 9 12 4 4 9 4 28-3 451-115 28-3 9 4 4 4 9 12 8 19 17 48 5 12 4 8 4 3 5-2 4-6 4-11 18-64 8-29 4-11 9-14 9-7 8-3 68-18-6-44-67 18-9 4-8 7-9 14-4 11-9 28-17 65-4 10-5 7-4 1-4-3-5-7-5-13-16-47-9-20-8-12-5-3-8-4-29 2-450 116-29 2-8-3-5-4-8-12-9-20-16-47-5-13-5-7-4-3-4 1-4 7-5 10-17 65-9 29-4 10-8 14-9 7-9 4-67 18z"/>
<path transform="translate(-529 -229)" d="M880 4960l67-18 9-3 9-7 8-14 4-11 9-29 17-64 5-11 4-6 4-2 4 4 5 7 5 12 16 48 9 19 8 12 5 4 8 4 29-3 450-115 29-3 8 4 5 4 8 12 9 19 16 48 5 12 5 7 4 4 4-2 5-6 4-11 17-64 9-29 4-11 9-14 8-7 9-4 67-17-8-38-68 17-8 4-9 7-8 14-5 11-8 29-18 64-4 11-4 6-4 1-5-3-4-7-5-12-17-48-8-19-9-12-4-4-9-4-28 3-450 115-29 3-9-4-4-4-8-12-9-19-16-48-6-12-4-8-4-3-4 2-5 6-4 10-17 65-9 29-4 11-9 14-8 7-9 3-68 18z"/>
<path transform="translate(-525 -227)" d="M878 4956l68-18 9-4 8-7 9-14 4-11 9-28 17-65 4-11 4-6 5-1 4 3 4 7 5 12 17 48 8 19 9 13 4 3 9 4 29-2 450-116 28-2 9 3 4 4 9 12 8 20 17 47 5 13 4 7 5 3 4-1 4-7 4-10 18-65 8-29 5-10 8-14 9-7 8-4 68-18-8-16-68 18-9 4-8 7-9 14-4 10-9 29-17 65-4 10-5 7-4 1-4-3-4-7-6-13-16-47-9-20-8-12-4-4-9-3-29 2-450 116-28 2-9-4-4-3-9-12-9-20-16-47-5-13-4-7-5-3-4 1-4 6-5 11-17 65-8 28-5 11-8 14-9 7-8 4-68 18z"/>
<path transform="translate(-522 -226)" d="M878 4945l68-18 9-4 8-7 9-14 4-11 9-28 17-65 4-11 4-6 5-1 4 3 4 7 5 12 17 48 8 19 9 13 4 3 9 4 29-3 450-115 28-3 9 4 4 4 9 12 8 19 17 48 5 13 4 7 5 3 4-2 4-6 4-10 18-65 8-29 5-10 8-14 9-8 8-3 68-18-6 13-67 17-9 4-8 7-9 14-4 11-9 29-17 64-4 11-5 6-4 2-4-4-5-7-5-12-16-48-9-19-8-12-5-4-8-4-29 3-450 115-29 3-8-4-5-4-8-12-9-19-16-48-5-12-5-8-4-3-4 2-4 6-5 11-17 64-9 29-4 11-8 14-9 7-9 3-67 18z"/>
<path transform="translate(-518 -224)" d="M880 4909l67-18 9-4 9-7 8-14 4-11 9-28 17-65 5-10 4-7 4-1 4 3 5 7 5 13 16 47 9 20 8 12 5 3 8 4 29-2 450-116 29-2 8 4 5 3 8 12 9 20 16 47 5 13 5 7 4 3 4-1 5-7 4-10 17-65 9-28 4-11 9-14 8-7 9-4 67-18-8 44-68 18-8 4-9 7-8 14-5 10-8 29-18 65-4 10-4 7-4 1-5-3-4-7-5-13-17-47-8-20-9-12-4-4-9-3-28 2-450 116-29 2-9-4-4-3-8-13-9-19-16-48-6-12-4-7-4-3-4 1-5 6-4 11-17 65-9 28-4 11-9 14-8 7-9 4-68 18z"/>
<path transform="translate(-514 -223)" d="M878 4887l68-17 9-4 8-7 9-14 4-11 9-28 17-65 4-11 4-6 5-1 4 3 4 7 5 12 17 48 8 19 9 12 4 4 9 4 29-3 450-115 28-3 9 4 4 4 9 12 8 19 17 48 5 13 4 7 5 3 4-2 4-6 4-10 18-65 8-29 5-10 8-15 9-7 8-3 68-18-8 53-68 18-9 4-8 7-9 14-4 11-9 28-17 65-4 11-5 6-4 1-4-3-4-7-6-12-16-48-9-19-8-13-4-3-9-4-29 2-450 116-28 2-9-3-4-4-9-12-8-19-17-48-5-13-4-7-5-3-4 1-4 7-4 10-18 65-8 29-5 10-8 14-9 7-8 4-68 18z"/>
<path transform="translate(-511 -221)" d="M878 4868l68-18 9-4 8-7 9-14 4-11 9-28 17-65 4-11 4-6 5-1 4 3 4 7 5 12 17 48 8 19 9 13 4 3 9 4 29-3 450-115 28-3 9 4 4 4 9 12 8 19 17 48 5 13 4 7 5 3 4-2 4-6 4-10 18-65 8-29 5-10 8-14 9-8 8-3 68-18-6 38-67 18-9 4-8 7-9 14-4 10-9 29-17 65-4 10-5 7-4 1-4-3-5-7-5-13-16-47-9-20-8-12-5-4-8-3-29 2-450 116-29 2-8-4-5-3-8-12-9-20-16-47-5-13-5-7-4-3-4 1-4 7-5 10-17 65-8 28-5 11-8 14-9 7-9 4-67 18z"/>
<path transform="translate(-507 -220)" d="M880 4836l67-18 9-4 9-7 8-14 4-11 9-28 17-65 5-11 4-6 4-1 4 3 5 7 5 12 16 48 9 20 8 12 5 3 8 4 29-2 450-116 29-2 8 3 5 4 8 12 9 20 16 47 5 13 5 7 4 3 4-1 5-7 4-10 17-65 9-29 4-10 9-14 8-7 9-4 67-18-8 49-68 18-8 3-9 7-8 15-5 10-8 29-18 65-4 10-4 6-4 2-5-3-4-8-5-12-17-48-8-19-9-12-4-4-9-4-28 3-450 115-29 3-9-4-4-4-9-12-8-19-17-48-5-12-4-7-4-3-5 1-4 6-4 11-17 64-9 29-4 11-9 14-8 7-9 4-68 17z"/>
<path transform="translate(-503 -218)" d="M878 4824l68-18 9-4 8-7 9-14 4-11 9-28 17-65 4-11 4-6 5-1 4 3 4 7 5 12 17 48 8 19 9 13 4 3 9 4 28-2 451-116 28-3 9 4 4 4 9 12 8 19 17 48 5 13 4 7 4 3 5-2 4-6 4-10 18-65 8-29 4-10 9-14 9-8 8-3 68-18-8 40-68 18-9 4-8 7-9 14-4 11-9 28-17 65-4 11-5 6-4 1-4-3-4-7-6-12-16-48-9-19-8-13-4-3-9-4-29 2-450 116-28 2-9-3-4-4-9-12-8-20-17-47-5-13-4-7-5-3-4 1-4 7-4 10-18 65-8 29-5 10-8 14-9 7-8 4-68 18z"/>
<path transform="translate(-500 -217)" d="M878 4815l68-18 9-4 8-7 9-14 4-11 9-28 17-65 4-11 5-6 4-1 4 3 4 7 6 12 16 48 8 20 9 12 4 3 9 4 29-2 450-116 28-2 9 3 4 4 9 12 8 20 17 47 5 13 4 7 5 3 4-1 4-7 4-10 18-65 8-29 5-10 8-14 9-7 8-4 68-18-6 18-67 18-9 4-8 7-9 14-4 10-9 29-17 65-4 10-5 7-4 1-4-3-5-7-5-13-16-47-9-20-8-12-5-4-8-3-29 2-450 116-29 2-8-4-4-3-9-12-9-20-16-48-5-12-4-7-5-3-4 1-4 6-5 11-17 65-8 28-5 11-8 14-9 7-9 4-67 18z"/>
<path transform="translate(-496 -215)" d="M880 4805l67-18 9-4 9-7 8-14 4-11 9-28 17-65 5-10 4-7 4-1 4 3 5 7 5 13 16 47 9 20 8 12 5 3 8 4 29-2 450-116 29-2 8 3 5 4 8 12 9 20 16 47 5 13 5 7 4 3 4-1 5-7 4-10 17-65 9-29 4-10 9-14 8-7 9-4 67-18-8 16-68 18-8 3-9 8-9 14-4 10-8 29-18 65-4 10-4 6-5 2-4-3-4-7-5-13-17-48-8-19-9-12-4-4-9-4-28 3-451 115-28 3-9-4-4-3-9-13-8-19-17-48-5-12-4-7-4-3-5 1-4 6-4 11-17 65-9 28-4 11-9 14-8 7-9 4-68 18z"/>
<path transform="translate(-492 -213)" d="M878 4801l68-17 9-4 8-7 9-14 4-11 9-29 17-64 4-11 4-6 5-1 4 3 4 7 5 12 17 48 8 19 9 12 4 4 9 4 28-3 451-115 28-3 9 4 4 4 9 12 8 19 17 48 5 12 4 8 4 3 5-2 4-6 4-10 18-65 8-29 4-11 9-14 9-7 8-3 68-18-8 10-68 17-9 4-8 7-9 14-4 11-9 28-17 65-4 11-5 6-4 1-4-3-4-7-6-12-16-48-9-19-8-12-4-4-9-4-29 3-450 115-28 3-9-4-4-4-9-12-8-19-17-48-5-13-4-7-5-3-4 2-4 6-4 10-18 65-8 29-5 10-8 15-9 7-8 3-68 18z"/>
<path transform="translate(-485 -210)" d="M883 4799l67-17 9-4 8-7 9-14 4-11 9-29 17-64 4-11 5-6 4-2 4 4 5 7 5 12 16 48 9 19 8 12 5 4 8 4 29-3 450-115 28-3 9 4 4 4 9 12 9 19 16 48 5 12 4 7 5 4 4-2 4-6 5-11 17-64 8-29 5-11 8-14 9-7 8-3 68-18-14 0-67 18-9 4-9 7-8 14-4 11-9 28-17 65-5 11-4 6-4 1-4-3-5-7-5-12-16-48-9-19-8-13-5-3-8-4-29 2-450 116-29 3-8-4-5-4-8-12-9-19-16-48-5-13-5-7-4-3-4 2-5 6-4 10-17 65-9 29-4 10-9 14-8 7-9 4-67 18z"/>
<path transform="translate(-474 -205)" d="M883 4799l67-18 9-3 8-8 9-14 4-10 9-29 17-65 4-10 5-6 4-2 4 3 5 7 5 13 16 48 9 19 8 12 5 4 8 4 29-3 450-116 28-2 9 4 4 3 9 13 9 19 16 48 5 12 4 7 5 3 4-1 4-6 5-11 17-65 8-28 5-11 8-14 9-7 8-4 68-18-22-5-68 18-8 3-9 8-9 14-4 10-9 29-17 65-4 10-4 6-5 2-4-3-4-7-5-13-17-48-8-19-9-12-4-4-9-4-28 3-451 115-28 3-9-4-4-3-9-13-8-19-17-48-5-12-4-7-4-3-5 1-4 6-4 11-17 65-9 28-4 11-9 14-9 7-8 4-68 18z"/>
<path transform="translate(-462 -200)" d="M883 4799l67-18 9-4 8-7 9-14 4-10 9-29 17-65 4-10 5-6 4-2 4 3 5 7 5 13 16 48 9 19 8 12 5 4 8 4 29-3 450-116 28-2 9 4 4 3 9 13 9 19 16 48 5 12 4 7 5 3 4-1 4-6 5-11 17-65 8-28 5-11 8-14 9-7 8-4 68-18-22-9-68 18-8 4-9 7-9 14-4 10-8 29-18 65-4 10-4 7-5 1-4-3-4-7-5-13-17-47-8-20-9-12-4-4-9-3-28 2-451 116-28 2-9-4-4-3-9-12-8-20-17-48-5-12-4-7-4-3-5 1-4 6-4 11-17 65-9 28-4 11-9 14-9 7-8 4-68 18z"/>
<path transform="translate(-451 -195)" d="M883 4799l67-18 9-4 8-7 9-14 4-10 9-29 17-65 4-10 5-6 4-2 4 3 5 7 5 13 16 48 9 19 8 12 5 4 8 4 29-3 450-116 28-2 9 4 4 3 9 13 9 19 16 48 5 12 4 7 5 3 4-1 4-6 5-11 17-65 8-28 5-11 8-14 9-7 8-4 68-18-22-9-68 18-8 3-9 7-9 14-4 11-8 29-18 64-4 11-4 6-5 2-4-4-4-7-5-12-17-48-8-19-9-12-4-4-9-4-28 3-451 115-28 3-9-4-4-4-9-12-8-19-17-48-5-12-4-7-4-4-5 2-4 6-4 11-17 64-9 29-4 11-9 14-9 7-8 4-68 17z"/>
<path transform="translate(-440 -191)" d="M883 4799l67-18 9-4 8-7 9-14 4-10 9-29 17-65 4-10 5-6 4-2 4 3 5 7 5 13 16 48 9 19 8 12 5 4 8 4 29-3 450-116 28-2 9 4 4 3 9 13 9 19 16 48 5 12 4 7 5 3 4-1 4-6 5-11 17-65 8-28 5-11 8-14 9-7 8-4 68-18-22-9-68 17-8 4-9 7-9 14-4 11-9 29-17 64-4 11-4 6-5 2-4-4-4-7-5-12-17-48-8-19-9-12-4-4-9-4-28 3-451 115-28 3-9-4-4-4-9-12-8-19-17-48-5-12-4-7-4-4-5 2-4 6-4 11-17 64-9 29-4 11-9 14-9 7-8 4-68 17z"/>
<path transform="translate(-429 -186)" d="M883 4799l67-18 9-4 8-7 9-14 4-10 9-29 17-65 4-10 5-6 4-2 4 3 5 7 5 13 16 48 9 19 8 12 5 4 8 4 29-3 450-116 28-2 9 4 4 3 9 13 9 19 16 48 5 12 4 7 5 3 4-1 4-6 5-11 17-65 8-28 5-11 8-14 9-7 8-4 68-18-22-9-68 17-8 4-9 7-9 14-4 11-8 29-18 64-4 11-4 6-5 2-4-4-4-7-5-12-17-48-8-19-9-12-4-4-9-4-28 3-451 115-28 3-9-4-4-4-9-12-8-19-17-48-5-12-4-7-4-4-5 2-4 6-4 11-17 64-9 29-4 11-9 14-9 7-8 4-68 17z"/>
<path transform="translate(-418 -181)" d="M883 4799l67-18 9-4 8-7 9-14 4-10 9-29 17-65 4-10 5-6 4-2 4 3 5 7 5 13 16 48 9 19 8 12 5 4 8 4 29-3 450-116 28-2 9 4 4 3 9 13 9 19 16 48 5 12 4 7 5 3 4-1 4-6 5-11 17-65 8-28 5-11 8-14 9-7 8-4 68-18-22-9-68 17-8 4-9 7-9 14-4 11-8 29-18 64-4 11-4 6-5 2-4-4-4-7-5-12-17-48-8-19-9-12-4-4-9-4-28 3-451 115-28 3-9-4-4-4-9-12-8-19-17-48-5-12-4-7-4-4-5 2-4 6-4 11-17 64-9 29-4 11-9 14-9 7-8 4-68 17z"/>
<path transform="translate(-407 -176)" d="M883 4799l67-18 9-4 8-7 9-14 4-10 9-29 17-65 4-10 5-6 4-2 4 3 5 7 5 13 16 48 9 19 8 12 5 4 8 4 29-3 450-116 28-2 9 4 4 3 9 13 9 19 16 48 5 12 4 7 5 3 4-1 4-6 5-11 17-65 8-28 5-11 8-14 9-7 8-4 68-18-22-9-68 17-8 4-9 7-9 14-4 11-9 29-17 64-4 11-4 6-5 2-4-4-4-7-5-12-17-48-8-19-9-12-4-4-9-4-28 3-451 115-28 3-9-4-4-4-9-12-8-19-17-48-5-12-4-7-4-4-5 2-4 6-4 11-17 64-9 29-4 11-9 14-9 7-8 4-68 17z"/>
<path transform="translate(-396 -171)" d="M883 4799l67-18 9-4 8-7 9-14 4-10 9-29 17-65 4-10 5-6 4-2 4 3 5 7 5 13 16 48 9 19 8 12 5 4 8 4 29-3 450-116 28-2 9 4 4 3 9 13 9 19 16 48 5 12 4 7 5 3 4-1 4-6 5-11 17-65 8-28 5-11 8-14 9-7 8-4 68-18-22-9-68 17-8 4-9 7-9 14-4 11-8 29-18 64-4 11-4 6-5 2-4-4-4-7-5-12-17-48-8-19-9-12-4-4-9-4-28 3-451 115-28 3-9-4-4-4-9-12-8-19-17-48-5-12-4-7-4-4-5 2-4 6-4 11-17 64-9 29-4 11-9 14-9 7-8 4-68 17z"/>
<path transform="translate(-384 -166)" d="M883 4799l67-18 9-4 8-7 9-14 4-10 9-29 17-65 4-10 5-6 4-2 4 3 5 7 5 13 16 48 9 19 8 12 5 4 8 4 29-3 450-116 28-2 9 4 4 3 9 13 9 19 16 48 5 12 4 7 5 3 4-1 4-6 5-11 17-65 8-28 5-11 8-14 9-7 8-4 68-18-22-9-68 17-8 4-9 7-9 14-4 11-8 29-18 64-4 11-4 6-5 2-4-4-4-7-5-12-17-48-8-19-9-12-4-4-9-4-28 3-451 115-28 3-9-4-4-4-9-12-8-19-17-48-5-12-4-7-4-4-5 2-4 6-4 11-17 64-9 29-4 11-9 14-9 7-8 4-68 17z"/>
<path transform="translate(-373 -162)" d="M883 4799l67-18 9-4 8-7 9-14 4-10 9-29 17-65 4-10 5-6 4-2 4 3 5 7 5 13 16 48 9 19 8 12 5 4 8 4 29-3 450-116 28-2 9 4 4 3 9 13 9 19 16 48 5 12 4 7 5 3 4-1 4-6 5-11 17-65 8-28 5-11 8-14 9-7 8-4 68-18-22-9-68 17-8 4-9 7-9 14-4 11-9 29-17 64-4 11-4 6-5 2-4-4-4-7-5-12-17-48-8-19-9-12-4-4-9-4-28 3-451 115-28 3-9-4-4-4-9-12-8-19-17-48-5-12-4-7-4-4-5 2-4 6-4 11-17 64-9 29-4 11-9 14-9 7-8 4-68 17z"/>
<path transform="translate(-362 -157)" d="M883 4799l67-18 9-4 8-7 9-14 4-10 9-29 17-65 4-10 5-6 4-2 4 3 5 7 5 13 16 48 9 19 8 12 5 4 8 4 29-3 450-116 28-2 9 4 4 3 9 13 9 19 16 48 5 12 4 7 5 3 4-1 4-6 5-11 17-65 8-28 5-11 8-14 9-7 8-4 68-18-22-9-68 17-8 4-9 7-9 14-4 11-8 29-18 64-4 11-4 6-5 2-4-4-4-7-5-12-17-48-8-19-9-12-4-4-9-4-28 3-451 115-28 3-9-4-4-4-9-12-8-19-17-48-5-12-4-7-4-4-5 2-4 6-4 11-17 64-9 29-4 11-9 14-9 7-8 4-68 17z"/>
<path transform="translate(-351 -152)" d="M883 4799l67-18 9-4 8-7 9-14 4-10 9-29 17-65 4-10 5-6 4-2 4 3 5 7 5 13 16 48 9 19 8 12 5 4 8 4 29-3 450-116 28-2 9 4 4 3 9 13 9 19 16 48 5 12 4 7 5 3 4-1 4-6 5-11 17-65 8-28 5-11 8-14 9-7 8-4 68-18-22-9-68 17-8 4-9 7-9 14-4 11-8 29-18 64-4 11-4 6-5 2-4-4-4-7-5-12-17-48-8-19-9-12-4-4-9-4-28 3-451 115-28 3-9-4-4-4-9-12-8-19-17-48-5-12-4-7-4-4-5 2-4 6-4 11-17 64-9 29-4 11-9 14-9 7-8 4-68 17z"/>
<path transform="translate(-340 -147)" d="M883 4799l67-18 9-4 8-7 9-14 4-10 9-29 17-65 4-10 5-6 4-2 4 3 5 7 5 13 16 48 9 19 8 12 5 4 8 4 29-3 450-116 28-2 9 4 4 3 9 13 9 19 16 48 5 12 4 7 5 3 4-1 4-6 5-11 17-65 8-28 5-11 8-14 9-7 8-4 68-18-22-9-68 17-8 4-9 7-9 14-4 11-9 29-17 64-4 11-4 6-5 2-4-4-4-7-5-12-17-48-8-19-9-12-4-4-9-4-28 3-451 115-28 3-9-4-4-4-9-12-8-19-17-48-5-12-4-7-4-4-5 2-4 6-4 11-17 64-9 29-4 11-9 14-9 7-8 4-68 17z"/>
<path transform="translate(-329 -142)" d="M883 4799l67-18 9-4 8-7 9-14 4-10 9-29 17-65 4-10 5-6 4-2 4 3 5 7 5 13 16 48 9 19 8 12 5 4 8 4 29-3 450-116 28-2 9 4 4 3 9 13 9 19 16 48 5 12 4 7 5 3 4-1 4-6 5-11 17-65 8-28 5-11 8-14 9-7 8-4 68-18-22-9-68 17-8 4-9 7-9 14-4 11-8 29-18 64-4 11-4 6-5 2-4-4-4-7-5-12-17-48-8-19-9-12-4-4-9-4-28 3-451 115-28 3-9-4-4-4-9-12-8-19-17-48-5-12-4-7-4-4-5 2-4 6-4 11-17 64-9 29-4 11-9 14-9 7-8 4-68 17z"/>
<path transform="translate(-318 -138)" d="M883 4799l67-18 9-4 8-7 9-14 4-10 9-29 17-65 4-10 5-6 4-2 4 3 5 7 5 13 16 48 9 19 8 12 5 4 8 4 29-3 450-116 28-2 9 4 4 3 9 13 9 19 16 48 5 12 4 7 5 3 4-1 4-6 5-11 17-65 8-28 5-11 8-14 9-7 8-4 68-18-22-9-68 17-8 4-9 7-9 14-4 11-8 29-18 64-4 11-4 6-5 2-4-4-4-7-5-12-17-48-8-19-9-12-4-4-9-4-28 3-451 115-28 3-9-4-4-4-9-12-8-19-17-48-5-12-4-7-4-4-5 2-4 6-4 11-17 64-9 29-4 11-9 14-9 7-8 4-68 17z"/>
<path transform="translate(-306 -133)" d="M883 4799l67-18 9-4 8-7 9-14 4-10 9-29 17-65 4-10 5-6 4-2 4 3 5 7 5 13 16 48 9 19 8 12 5 4 8 4 29-3 450-116 28-2 9 4 4 3 9 13 9 19 16 48 5 12 4 7 5 3 4-1 4-6 5-11 17-65 8-28 5-11 8-14 9-7 8-4 68-18-22-9-68 17-8 4-9 7-9 14-4 11-9 29-17 64-4 11-4 6-5 2-4-4-4-7-5-12-17-48-8-19-9-12-4-4-9-4-28 3-451 115-28 3-9-4-4-4-9-12-8-19-17-48-5-12-4-7-4-4-5 2-4 6-4 11-17 64-9 29-4 11-9 14-9 7-8 4-68 17z"/>
<path transform="translate(-295 -128)" d="M883 4799l67-18 9-4 8-7 9-14 4-10 9-29 17-65 4-10 5-6 4-2 4 3 5 7 5 13 16 48 9 19 8 12 5 4 8 4 29-3 450-116 28-2 9 4 4 3 9 13 9 19 16 48 5 12 4 7 5 3 4-1 4-6 5-11 17-65 8-28 5-11 8-14 9-7 8-4 68-18-22-9-68 17-8 4-9 7-9 14-4 11-8 29-18 64-4 11-4 6-5 2-4-4-4-7-5-12-17-48-8-19-9-12-4-4-9-4-28 3-451 115-28 3-9-4-4-4-9-12-8-19-17-48-5-12-4-7-4-4-5 2-4 6-4 11-17 64-9 29-4 11-9 14-9 7-8 4-68 17z"/>
<path transform="translate(-284 -123)" d="M883 4799l67-18 9-4 8-7 9-14 4-10 9-29 17-65 4-10 5-6 4-2 4 3 5 7 5 13 16 48 9 19 8 12 5 4 8 4 29-3 450-116 28-2 9 4 4 3 9 13 9 19 16 48 5 12 4 7 5 3 4-1 4-6 5-11 17-65 8-28 5-11 8-14 9-7 8-4 68-18-22-9-68 17-8 4-9 7-9 14-4 11-8 29-18 64-4 11-4 6-5 2-4-4-4-7-5-12-17-48-8-19-9-12-4-4-9-4-28 3-451 115-28 3-9-4-4-4-9-12-8-19-17-48-5-12-4-7-4-4-5 2-4 6-4 11-17 64-9 29-4 11-9 14-9 7-8 4-68 17z"/>
<path transform="translate(-273 -118)" d="M883 4799l67-18 9-4 8-7 9-14 4-10 9-29 17-65 4-10 5-6 4-2 4 3 5 7 5 13 16 48 9 19 8 12 5 4 8 4 29-3 450-116 28-2 9 4 4 3 9 13 9 19 16 48 5 12 4 7 5 3 4-1 4-6 5-11 17-65 8-28 5-11 8-14 9-7 8-4 68-18-22-9-68 17-8 4-9 7-9 14-4 11-9 29-17 64-4 11-4 6-5 2-4-4-4-7-5-12-17-48-8-19-9-12-4-4-9-4-28 3-451 115-28 3-9-4-4-4-9-12-8-19-17-48-5-12-4-7-4-4-5 2-4 6-4 11-17 64-9 29-4 11-9 14-9 7-8 4-68 17z"/>
<path transform="translate(-262 -113)" d="M883 4799l67-18 9-4 8-7 9-14 4-10 9-29 17-65 4-10 5-6 4-2 4 3 5 7 5 13 16 48 9 19 8 12 5 4 8 4 29-3 450-116 28-2 9 4 4 3 9 13 9 19 16 48 5 12 4 7 5 3 4-1 4-6 5-11 17-65 8-28 5-11 8-14 9-7 8-4 68-18-22-9-68 17-8 4-9 7-9 14-4 11-8 29-18 64-4 11-4 6-5 2-4-4-4-7-5-12-17-48-8-19-9-12-4-4-9-4-28 3-451 115-28 3-9-4-4-4-9-12-8-19-17-48-5-12-4-7-4-4-5 2-4 6-4 11-17 64-9 29-4 11-9 14-9 7-8 4-68 17z"/>
<path transform="translate(-251 -109)" d="M883 4799l67-18 9-4 8-7 9-14 4-10 9-29 17-65 4-10 5-6 4-2 4 3 5 7 5 13 16 48 9 19 8 12 5 4 8 4 29-3 450-116 28-2 9 4 4 3 9 13 9 19 16 48 5 12 4 7 5 3 4-1 4-6 5-11 17-65 8-28 5-11 8-14 9-7 8-4 68-18-22-9-68 17-8 4-9 7-9 14-4 11-8 29-18 64-4 11-4 6-5 2-4-4-4-7-5-12-17-48-8-19-9-12-4-4-9-4-28 3-451 115-28 3-9-4-4-4-9-12-8-19-17-48-5-12-4-7-4-4-5 2-4 6-4 11-17 64-9 29-4 11-9 14-9 7-8 4-68 17z"/>
<path transform="translate(-240 -104)" d="M883 4799l67-18 9-4 8-7 9-14 4-10 9-29 17-65 4-10 5-7 4-1 4 3 5 7 5 13 16 48 9 19 8 12 5 4 8 3 29-2 450-116 28-2 9 4 4 3 9 13 9 19 16 48 5 12 4 7 5 3 4-1 4-6 5-11 17-65 8-28 5-11 8-14 9-7 8-4 68-18-22-9-68 17-8 4-9 7-9 14-4 11-9 29-17 64-4 11-4 6-5 2-4-4-4-7-5-12-17-48-8-19-9-12-4-4-9-4-28 3-451 115-28 3-9-4-4-4-9-12-8-19-17-48-5-12-4-7-4-4-5 2-4 6-4 11-17 64-9 29-4 11-9 14-9 7-8 4-68 17z"/>
<path transform="translate(-228 -99)" d="M883 4799l67-18 9-4 8-7 9-14 4-11 9-28 17-65 4-11 5-6 4-1 4 3 5 7 5 12 16 48 9 19 8 13 5 3 8 4 29-3 450-115 28-3 9 4 4 4 9 12 9 19 16 48 5 13 4 7 5 3 4-2 4-6 5-10 17-65 8-29 5-10 8-14 9-8 8-3 68-18-22-9-68 17-8 4-9 7-9 14-4 11-8 29-18 64-4 11-4 6-5 2-4-4-4-7-5-12-17-48-8-19-9-12-4-4-9-4-28 3-451 115-28 3-9-4-4-4-9-12-8-19-17-48-5-12-4-7-4-4-5 2-4 6-4 11-17 64-9 29-4 11-9 14-9 7-8 4-68 17z"/>
<path transform="translate(-217 -94)" d="M883 4795l67-18 9-4 8-7 9-14 4-11 9-28 17-65 4-11 5-6 4-1 4 3 5 7 5 12 16 48 9 20 8 12 5 3 8 4 29-2 450-116 28-2 9 3 4 4 9 12 9 20 16 47 5 13 4 7 5 3 4-1 4-7 5-10 17-65 8-29 5-10 8-14 9-7 8-4 68-18-22-5-68 17-8 4-9 7-9 14-4 11-8 29-18 64-4 11-4 6-5 2-4-4-4-7-5-12-17-48-8-19-9-12-4-4-9-4-28 3-451 115-28 3-9-4-4-4-9-12-8-19-17-48-5-12-4-7-4-4-5 2-4 6-4 11-17 64-9 29-4 11-9 14-9 7-8 4-68 17z"/>
<path transform="translate(-210 -91)" d="M878 4790l68-18 9-3 8-7 9-15 4-10 9-29 17-65 4-10 4-6 5-2 4 3 4 8 5 12 17 48 8 19 9 12 4 4 9 4 28-3 451-115 28-3 9 4 4 4 9 12 8 19 17 48 5 12 4 7 4 3 5-1 4-6 4-11 18-64 8-29 4-11 9-14 9-7 8-4 68-17-14 0-68 18-8 4-9 7-8 14-5 10-8 29-17 65-5 10-4 7-4 1-5-3-4-7-5-13-16-47-9-20-9-12-4-4-9-3-28 2-450 116-29 2-9-4-4-3-8-12-9-20-16-48-6-12-4-7-4-3-4 1-5 6-4 11-17 65-9 28-4 11-9 14-8 7-9 4-68 18z"/>
<path transform="translate(-206 -89)" d="M880 4780l67-18 9-3 9-7 8-14 4-11 9-29 17-65 5-10 4-6 4-2 4 3 5 8 5 12 16 48 9 19 8 12 5 4 8 4 29-3 450-115 29-3 8 4 5 4 8 12 9 19 16 48 5 12 5 7 4 3 4-1 5-6 4-11 17-64 9-29 4-11 9-14 8-7 9-4 67-17-8 9-68 18-8 4-9 7-8 14-5 11-8 28-17 65-5 11-4 6-4 1-5-3-4-7-5-12-16-48-9-19-9-13-4-3-9-4-28 2-450 116-29 2-9-3-4-4-8-12-9-20-16-47-6-13-4-7-4-3-4 1-5 7-4 10-17 65-9 29-4 10-9 14-8 7-9 4-68 18z"/>
<path transform="translate(-202 -87)" d="M878 4771l68-18 9-4 8-7 9-14 4-11 9-28 17-65 4-11 5-6 4-1 4 3 4 7 6 12 16 48 8 19 9 13 4 3 9 4 29-2 450-116 28-2 9 3 4 4 9 12 8 20 17 47 5 13 4 7 5 3 4-1 4-7 4-10 18-65 8-29 5-10 8-14 9-7 8-4 68-18-9 16-67 18-9 3-8 7-9 15-4 10-9 29-17 65-4 10-5 6-4 2-4-3-4-7-6-13-16-48-9-19-8-12-4-4-9-4-29 3-450 115-28 3-9-4-4-4-9-12-9-19-16-48-5-12-4-7-5-3-4 1-4 6-5 11-17 65-8 28-5 11-8 14-9 7-8 4-68 17z"/>
<path transform="translate(-199 -86)" d="M878 4759l68-18 9-3 8-7 9-14 4-11 9-29 17-65 4-10 4-6 5-2 4 3 4 8 5 12 17 48 8 19 9 12 4 4 9 4 28-3 451-115 28-3 9 4 4 4 9 12 8 19 17 48 5 12 4 7 4 3 5-1 4-6 4-11 18-64 8-29 4-11 9-14 9-7 8-4 68-17-6 18-67 17-9 4-8 7-9 14-4 11-9 29-17 64-4 11-5 6-4 1-4-3-5-7-5-12-16-48-9-19-8-12-5-4-8-4-29 3-450 115-29 3-8-4-5-4-8-12-9-19-16-48-5-12-5-8-4-3-4 2-4 6-5 10-17 65-9 29-4 11-8 14-9 7-9 3-67 18z"/>
<path transform="translate(-195 -84)" d="M880 4727l67-17 9-4 9-7 8-14 4-11 9-29 17-64 5-11 4-6 4-2 4 4 5 7 5 12 16 48 9 19 8 12 5 4 8 4 29-3 450-115 29-3 8 4 5 4 8 12 9 19 16 48 5 12 5 8 4 3 4-2 5-6 4-11 17-64 9-29 4-11 9-14 8-7 9-3 67-18-8 40-68 18-8 4-9 7-8 14-5 10-8 29-18 65-4 10-4 7-4 1-5-3-4-7-5-13-17-47-8-20-9-12-4-4-9-3-28 2-450 116-29 2-9-4-4-3-8-13-9-19-16-48-6-12-4-7-4-3-4 1-5 6-4 11-17 65-9 28-4 11-9 14-8 7-9 4-68 18z"/>
<path transform="translate(-191 -83)" d="M878 4707l68-18 9-4 8-7 9-14 4-11 9-28 17-65 4-10 4-7 5-1 4 3 4 7 5 13 17 47 8 20 9 12 4 3 9 4 29-2 450-116 28-2 9 4 4 3 9 12 8 20 17 47 5 13 4 7 5 3 4-1 4-7 4-10 18-65 8-28 5-11 8-14 9-7 8-4 68-18-8 49-68 18-9 3-8 8-9 14-4 10-9 29-17 65-4 10-5 6-4 2-4-3-4-7-6-13-16-48-9-19-8-12-4-4-9-4-29 3-450 115-28 3-9-4-4-3-9-13-9-19-16-48-5-12-4-7-5-3-4 1-4 6-5 11-17 65-8 28-5 11-8 14-9 7-8 4-68 18z"/>
<path transform="translate(-188 -81)" d="M878 4686l68-18 9-3 8-7 9-15 4-10 9-29 17-65 4-10 4-6 5-2 4 3 4 8 5 12 17 48 8 19 9 12 4 4 9 4 29-3 450-115 28-3 9 4 4 4 9 12 8 19 17 48 5 12 4 7 5 3 4-1 4-6 4-11 18-64 8-29 5-11 8-14 9-7 8-4 68-17-6 38-67 18-9 3-8 7-9 14-4 11-9 29-17 64-4 11-5 6-4 2-4-4-5-7-5-12-16-48-9-19-8-12-5-4-8-4-29 3-450 115-29 3-8-4-5-4-8-12-9-19-16-48-5-12-5-7-4-4-4 2-4 6-5 11-17 64-9 29-4 11-8 14-9 7-9 4-67 17z"/>
<path transform="translate(-184 -80)" d="M880 4650l67-17 9-4 9-7 8-14 4-11 9-29 17-64 5-11 4-6 4-2 4 4 5 7 5 12 16 48 9 19 8 12 5 4 8 4 29-3 450-115 29-3 8 4 5 4 8 12 9 19 16 48 5 12 5 7 4 4 4-2 5-6 4-11 17-64 9-29 4-11 9-14 8-7 9-3 67-18-8 53-68 18-8 4-9 7-8 14-5 10-8 29-18 65-4 10-4 7-4 1-5-3-4-7-5-13-17-47-8-20-9-12-4-4-9-3-28 2-450 116-29 2-9-4-4-3-8-12-9-20-16-47-6-13-4-7-4-3-4 1-5 7-4 10-17 65-9 28-4 11-9 14-8 7-9 4-68 18z"/>
<path transform="translate(-180 -78)" d="M878 4639l68-18 9-4 8-7 9-14 4-11 9-28 17-65 4-11 4-6 5-1 4 3 4 7 5 12 17 48 8 19 9 13 4 3 9 4 29-2 450-116 28-3 9 4 4 4 9 12 8 19 17 48 5 13 4 7 5 3 4-2 4-6 4-10 18-65 8-29 5-10 8-14 9-8 8-3 68-18-8 44-68 18-9 3-8 7-9 15-4 10-9 29-17 65-4 10-5 6-4 2-4-3-4-8-6-12-16-48-9-19-8-12-4-4-9-4-29 3-450 115-28 3-9-4-4-4-9-12-8-19-17-48-5-12-4-7-5-3-4 1-4 6-4 11-18 65-8 28-5 11-8 14-9 7-8 4-68 17z"/>
<path transform="translate(-177 -77)" d="M878 4635l68-18 9-4 8-7 9-14 4-11 9-28 17-65 4-11 4-6 5-1 4 3 4 7 5 12 17 48 8 19 9 13 4 3 9 4 29-2 450-116 28-2 9 3 4 4 9 12 8 19 17 48 5 13 4 7 5 3 4-2 4-6 4-10 18-65 8-29 5-10 8-14 9-7 8-4 68-18-6 13-67 18-9 3-8 7-9 14-4 11-9 29-17 64-4 11-5 6-4 2-4-4-5-7-5-12-16-48-9-19-8-12-5-4-8-4-29 3-450 115-29 3-8-4-5-4-8-12-9-19-16-48-5-12-5-7-4-4-4 2-4 6-5 11-17 64-8 29-5 11-8 14-9 7-9 4-67 17z"/>
<path transform="translate(-173 -75)" d="M880 4651l67-17 9-4 9-7 8-14 4-11 9-28 17-65 5-11 4-6 4-1 4 3 5 7 5 12 16 48 9 19 8 13 5 3 8 4 29-3 450-115 29-3 8 4 5 4 8 12 9 19 16 48 5 13 5 7 4 3 4-2 5-6 4-10 17-65 9-29 4-10 9-14 8-8 9-3 67-18-8-16-68 18-8 3-9 8-8 14-5 10-8 29-18 65-4 10-4 6-4 2-5-3-4-7-5-13-17-48-8-19-9-12-4-4-9-4-28 3-450 116-29 2-9-4-4-3-9-13-8-19-17-48-5-12-4-7-4-3-5 1-4 6-4 11-17 65-9 28-4 11-9 14-8 7-9 4-68 18z"/>
<path transform="translate(-169 -73)" d="M878 4669l68-18 9-3 8-7 9-15 4-10 9-29 17-65 4-10 4-6 5-2 4 3 4 8 5 12 17 48 8 19 9 12 4 4 9 4 28-3 451-115 28-3 9 4 4 4 9 12 8 19 17 48 5 12 4 7 4 3 5-1 4-6 4-11 18-65 8-28 4-11 9-14 9-7 8-4 68-17-8-39-68 18-9 4-8 7-9 14-4 11-9 28-17 65-4 11-5 6-4 1-4-3-4-7-6-12-16-48-9-19-8-13-4-3-9-4-29 3-450 115-28 3-9-4-4-4-9-12-8-19-17-48-5-13-4-7-5-3-4 2-4 6-4 10-18 65-8 29-5 10-8 14-9 8-8 3-68 18z"/>
<path transform="translate(-166 -72)" d="M878 4692l68-18 9-3 8-8 9-14 4-10 9-29 17-65 4-10 5-6 4-2 4 3 4 7 6 13 16 48 8 19 9 12 4 4 9 4 29-3 450-115 28-3 9 4 4 3 9 13 8 19 17 48 5 12 4 7 5 3 4-1 4-6 4-11 18-65 8-28 5-11 8-14 9-7 8-4 68-17-6-44-67 18-9 3-8 7-9 15-4 10-9 29-17 65-4 10-5 6-4 2-4-3-5-7-5-13-16-48-9-19-8-12-5-4-8-4-29 3-450 115-29 3-8-4-4-4-9-12-9-19-16-48-5-12-4-7-5-3-4 1-4 6-5 11-17 65-8 28-5 11-8 14-9 7-9 4-67 17z"/>
<path transform="translate(-162 -70)" d="M880 4739l67-18 9-3 9-7 8-15 4-10 9-29 17-65 5-10 4-6 4-2 4 3 5 7 5 13 16 48 9 19 8 12 5 4 8 4 29-3 450-115 29-3 8 4 5 4 8 12 9 19 16 48 5 12 5 7 4 3 4-1 5-6 4-11 17-65 9-28 4-11 9-14 8-7 9-4 67-17-8-73-68 17-8 4-9 7-9 14-4 11-8 28-18 65-4 11-4 6-5 1-4-3-4-7-5-12-17-48-8-19-9-13-4-3-9-4-28 3-451 115-28 3-9-4-4-4-9-12-8-19-17-48-5-13-4-7-4-3-5 2-4 6-4 10-17 65-9 29-4 10-9 14-8 8-9 3-68 18z"/>
<path transform="translate(-157 -68)" d="M878 4757l68-18 9-3 8-7 9-14 4-11 9-29 17-64 4-11 4-6 5-2 4 3 4 8 5 12 17 48 8 19 9 12 4 4 9 4 28-3 451-115 28-3 9 4 4 4 9 12 8 19 17 48 5 12 4 7 4 4 5-2 4-6 4-11 18-64 8-29 4-11 9-14 9-7 8-4 68-17-8-69-68 18-9 3-8 7-9 14-4 11-9 29-17 65-4 10-5 6-4 2-4-3-4-8-6-12-16-48-9-19-8-12-4-4-9-4-29 3-450 115-28 3-9-4-4-4-9-12-8-19-17-48-5-12-4-7-5-3-4 1-4 6-4 11-18 64-8 29-5 11-8 14-9 7-8 4-68 17z"/>
<path transform="translate(-155 -67)" d="M878 4773l68-18 9-4 8-7 9-14 4-11 9-28 17-65 4-11 5-6 4-1 4 3 4 7 6 12 16 48 9 19 8 13 4 3 9 4 29-2 450-116 28-2 9 3 4 4 9 12 8 20 17 47 5 13 4 7 5 3 4-1 4-7 4-10 18-65 8-29 5-10 8-14 9-7 8-4 68-18-6-36-67 17-9 4-8 7-9 14-4 11-9 28-17 65-4 11-5 6-4 1-4-3-5-7-5-12-16-48-9-19-8-12-5-4-8-4-29 3-450 115-29 3-8-4-4-4-9-12-9-19-16-48-5-13-4-7-5-3-4 2-4 6-5 10-17 65-8 29-5 10-8 15-9 7-9 3-67 18z"/>
<path transform="translate(-150 -65)" d="M880 4790l67-17 9-4 9-7 8-14 4-11 9-29 17-64 5-11 4-6 4-1 4 3 5 7 5 12 16 48 9 19 8 12 5 4 8 4 29-3 450-115 29-3 8 4 5 4 8 12 9 19 16 48 5 12 5 8 4 3 4-2 5-6 4-10 17-65 9-29 4-10 9-15 8-7 9-3 67-18-8-36-68 17-8 4-9 7-9 14-4 11-8 29-18 64-4 11-4 6-5 1-4-3-4-7-5-12-17-48-8-19-9-12-4-4-9-4-28 3-451 115-28 3-9-4-4-4-9-12-8-19-17-48-5-12-4-8-4-3-5 2-4 6-4 10-17 65-9 29-4 11-9 14-8 7-9 3-68 18z"/>
<path transform="translate(-146 -63)" d="M878 4794l68-18 9-4 8-7 9-14 4-11 9-28 17-65 4-11 4-6 5-1 4 3 4 7 5 12 17 48 8 19 9 13 4 3 9 4 28-2 451-116 28-3 9 4 4 4 9 12 8 19 17 48 5 13 4 7 4 3 5-2 4-6 4-10 18-65 8-29 4-10 9-14 9-8 8-3 68-18-8-25-68 18-9 4-8 7-9 14-4 11-9 28-17 65-4 11-5 6-4 1-4-3-4-7-6-12-16-48-9-19-8-13-4-3-9-4-29 3-450 115-28 3-9-4-4-4-9-12-8-19-17-48-5-13-4-7-5-3-4 2-4 6-4 10-18 65-8 29-5 10-8 14-9 8-8 3-68 18z"/>
<path transform="translate(-143 -62)" d="M878 4796l68-18 9-4 8-7 9-14 4-11 9-28 17-65 4-11 5-6 4-1 4 3 4 7 6 12 16 48 9 20 8 12 4 3 9 4 29-2 450-116 28-2 9 3 4 4 9 12 8 20 17 47 5 13 4 7 5 3 4-1 4-7 4-10 18-65 8-29 5-10 8-14 9-7 8-4 68-18-6-8-67 18-9 3-8 7-9 15-4 10-9 29-17 65-4 10-5 6-4 2-4-3-5-8-5-12-16-48-9-19-8-12-5-4-8-4-29 3-450 115-29 3-8-4-4-4-9-12-9-19-16-48-5-12-4-7-5-3-4 1-4 6-5 11-17 64-8 29-5 11-8 14-9 7-9 4-67 17z"/>
<path transform="translate(-138 -60)" d="M881 4798l68-17 8-4 9-7 9-14 4-11 8-29 18-64 4-11 4-6 5-2 4 4 4 7 5 12 17 48 8 19 9 12 4 4 9 4 28-3 450-115 29-3 9 4 4 4 9 12 8 19 17 48 5 12 4 7 4 4 5-2 4-6 4-11 17-64 9-29 4-11 9-14 8-7 9-4 68-17-12-9-67 18-9 4-8 7-9 14-4 11-9 28-17 65-4 11-5 6-4 1-4-3-4-7-6-12-16-48-9-19-8-13-4-3-9-4-29 2-450 116-28 3-9-4-4-4-9-12-9-19-16-48-5-13-4-7-5-3-4 2-4 6-5 10-17 65-8 29-5 10-8 14-9 8-8 3-68 18z"/>
<path transform="translate(-128 -55)" d="M883 4799l67-18 9-4 8-7 9-14 4-10 9-29 17-65 4-10 5-6 4-2 4 3 5 7 5 13 16 48 9 19 8 12 5 4 8 4 29-3 450-116 28-2 9 4 4 3 9 13 9 19 16 48 5 12 4 7 5 3 4-1 4-6 5-11 17-65 8-28 5-11 8-14 9-7 8-4 68-18-19-9-68 17-9 4-8 7-9 14-4 11-9 29-17 64-4 11-4 6-5 1-4-3-4-7-5-12-17-48-8-19-9-12-4-4-9-4-28 3-451 115-28 3-9-4-4-4-9-12-8-19-17-48-5-12-4-8-4-3-5 2-4 6-4 10-18 65-8 29-4 10-9 15-9 7-8 3-68 18z"/>
<path transform="translate(-117 -51)" d="M883 4799l67-18 9-4 8-7 9-14 4-10 9-29 17-65 4-10 5-6 4-2 4 3 5 7 5 13 16 48 9 19 8 12 5 4 8 4 29-3 450-116 28-2 9 4 4 3 9 13 9 19 16 48 5 12 4 7 5 3 4-1 4-6 5-11 17-65 8-28 5-11 8-14 9-7 8-4 68-18-22-9-68 17-8 4-9 7-9 14-4 11-8 29-18 64-4 11-4 6-5 2-4-4-4-7-5-12-17-48-8-19-9-12-4-4-9-4-28 3-451 115-28 3-9-4-4-4-9-12-8-19-17-48-5-12-4-7-4-4-5 2-4 6-4 11-17 64-9 29-4 11-9 14-9 7-8 3-68 18z"/>
<path transform="translate(-106 -46)" d="M883 4799l67-18 9-4 8-7 9-14 4-10 9-29 17-65 4-10 5-6 4-2 4 3 5 7 5 13 16 48 9 19 8 12 5 4 8 4 29-3 450-116 28-2 9 4 4 3 9 13 9 19 16 48 5 12 4 7 5 3 4-1 4-6 5-11 17-65 8-28 5-11 8-14 9-7 8-4 68-18-22-9-68 17-8 4-9 7-9 14-4 11-9 29-17 64-4 11-4 6-5 2-4-4-4-7-5-12-17-48-8-19-9-12-4-4-9-4-28 3-451 115-28 3-9-4-4-4-9-12-8-19-17-48-5-12-4-7-4-4-5 2-4 6-4 11-17 64-9 29-4 11-9 14-9 7-8 4-68 17z"/>
<path transform="translate(-95 -41)" d="M883 4799l67-18 9-4 8-7 9-14 4-10 9-29 17-65 4-10 5-6 4-2 4 3 5 7 5 13 16 48 9 19 8 12 5 4 8 4 29-3 450-116 28-2 9 4 4 3 9 13 9 19 16 48 5 12 4 7 5 3 4-1 4-6 5-11 17-65 8-28 5-11 8-14 9-7 8-4 68-18-22-9-68 17-8 4-9 7-9 14-4 11-8 29-18 64-4 11-4 6-5 2-4-4-4-7-5-12-17-48-8-19-9-12-4-4-9-4-28 3-451 115-28 3-9-4-4-4-9-12-8-19-17-48-5-12-4-7-4-4-5 2-4 6-4 11-17 64-9 29-4 11-9 14-9 7-8 4-68 17z"/>
<path transform="translate(-85 -37)" d="M881 4798l68-17 8-4 9-7 9-14 4-11 9-29 17-64 4-11 4-6 5-1 4 3 4 7 5 12 17 48 8 19 9 12 4 4 9 4 28-3 451-115 28-3 9 4 4 4 9 12 8 19 17 48 5 12 4 8 4 3 5-2 4-6 4-10 17-65 9-29 4-11 9-14 9-7 8-3 68-18-20-9-67 18-9 4-9 7-8 14-5 11-8 28-17 65-5 11-4 6-4 1-5-3-4-7-5-12-16-48-9-20-9-12-4-3-8-4-29 2-450 116-29 2-8-3-5-4-8-12-9-20-16-47-5-13-5-7-4-3-4 1-5 7-4 10-17 65-9 29-4 10-9 14-8 7-9 4-67 18z"/>
<path transform="translate(-79 -34)" d="M878 4797l68-18 9-3 8-7 9-15 4-10 9-29 17-65 4-10 4-6 5-2 4 3 4 8 5 12 17 48 8 19 9 12 4 4 9 4 28-3 451-115 28-3 9 4 4 4 9 12 8 19 17 48 5 12 4 7 4 3 5-1 4-6 4-11 18-64 8-29 4-11 9-14 9-7 8-4 68-17-11-5-68 17-9 4-8 7-9 14-4 11-9 29-17 64-4 11-4 6-5 2-4-4-4-7-5-12-17-48-8-19-9-12-4-4-9-4-28 3-451 115-28 3-9-4-4-4-9-12-8-19-17-48-5-12-4-7-4-4-5 2-4 6-4 11-18 64-8 29-4 11-9 14-9 7-8 4-68 17z"/>
<path transform="translate(-77 -33)" d="M878 4797l68-18 9-3 8-7 9-14 4-11 9-29 17-65 4-10 5-6 4-2 4 3 4 8 6 12 16 48 9 19 8 12 4 4 9 4 29-3 450-115 28-3 9 4 4 4 9 12 9 19 16 48 5 12 4 7 5 3 4-1 4-6 4-11 18-64 8-29 5-11 8-14 9-7 8-4 68-17-6-3-67 18-9 4-8 7-9 14-4 10-9 29-17 65-4 10-5 7-4 1-4-3-5-7-5-13-16-47-9-20-8-12-5-4-8-3-29 2-450 116-29 2-8-4-4-3-9-12-9-20-16-47-5-13-4-7-5-3-4 1-4 7-5 10-17 65-8 28-5 11-8 14-9 7-9 4-67 18z"/>
<path transform="translate(-72 -31)" d="M880 4797l67-18 9-3 9-8 8-14 4-10 9-29 17-65 5-10 4-6 4-2 4 3 5 7 5 13 16 48 9 19 8 12 5 4 8 4 29-3 450-115 29-3 8 4 5 3 8 13 9 19 16 48 5 12 5 7 4 3 4-1 5-6 4-11 17-65 9-28 4-11 9-14 8-7 9-4 67-18-8-2-68 17-8 4-9 7-9 14-4 11-9 28-17 65-4 11-4 6-5 1-4-3-4-7-5-12-17-48-8-19-9-13-4-3-9-4-28 3-451 115-28 3-9-4-4-4-9-12-8-19-17-48-5-13-4-7-4-3-5 2-4 6-4 10-17 65-9 29-4 10-9 14-9 8-8 3-68 18z"/>
<path transform="translate(-68 -30)" d="M878 4795l68-18 8-3 9-8 9-14 4-10 9-29 17-65 4-10 4-6 5-2 4 3 4 7 5 13 17 48 8 19 9 12 4 4 9 4 28-3 451-116 28-2 9 4 4 3 9 13 8 19 17 48 5 12 4 7 4 3 5-1 4-6 4-11 18-65 8-28 4-11 9-14 9-7 8-4 68-18-8-1-68 18-9 3-8 8-9 14-4 10-9 29-17 65-4 10-4 6-5 2-4-3-4-7-5-13-17-48-8-19-9-12-4-4-9-4-29 3-450 115-28 3-9-4-4-3-9-13-8-19-17-48-5-12-4-7-5-3-4 1-4 6-4 11-18 65-8 28-4 11-9 14-9 7-8 4-68 17z"/>
<path transform="translate(-65 -28)" d="M878 4791l68-18 9-3 8-7 9-14 4-11 9-29 17-64 4-11 5-6 4-2 4 4 4 7 6 12 16 48 9 19 8 12 4 4 9 4 29-3 450-115 28-3 9 4 4 4 9 12 9 19 16 48 5 12 4 7 5 4 4-2 4-6 5-11 17-64 8-29 5-11 8-14 9-7 8-4 68-17-6 2-67 18-9 4-8 7-9 14-4 11-9 28-17 65-4 11-5 6-4 1-4-3-5-7-5-12-16-48-9-19-8-13-5-3-8-4-29 3-450 115-29 3-8-4-4-4-9-12-9-19-16-48-5-13-4-7-5-3-4 2-4 6-5 10-17 65-8 29-5 10-8 14-9 8-9 3-67 18z"/>
<path transform="translate(-61 -26)" d="M880 4773l67-18 9-3 9-7 8-14 4-11 9-29 17-64 5-11 4-6 4-2 4 4 5 7 5 12 16 48 9 19 8 12 5 4 8 4 29-3 450-115 29-3 8 4 5 4 8 12 9 19 16 48 5 12 5 7 4 4 4-2 5-6 4-11 17-64 9-29 4-11 9-14 8-7 9-4 67-17-8 18-68 18-8 4-9 7-9 14-4 11-9 28-17 65-4 11-4 6-5 1-4-3-4-7-5-12-17-48-8-19-9-13-4-3-9-4-28 2-451 116-28 2-9-3-4-4-9-12-8-20-17-47-5-13-4-7-4-3-5 1-4 7-4 10-18 65-8 29-4 10-9 14-9 7-8 4-68 18z"/>
<path transform="translate(-57 -25)" d="M878 4759l68-18 8-3 9-8 9-14 4-10 9-29 17-65 4-10 4-6 5-2 4 3 4 7 5 13 17 48 8 19 9 12 4 4 9 4 28-3 451-115 28-3 9 4 4 3 9 13 8 19 17 48 5 12 4 7 4 3 5-1 4-6 4-11 17-65 9-28 4-11 9-14 9-7 8-4 68-17-8 28-68 18-9 4-8 7-9 14-4 10-9 29-17 65-4 10-4 6-5 2-4-3-4-7-5-13-17-48-8-19-9-12-4-4-9-4-28 3-451 116-28 2-9-4-4-3-9-13-8-19-17-48-5-12-4-7-4-3-5 1-4 6-4 11-18 65-8 28-4 11-9 14-9 7-8 4-68 18z"/>
<path transform="translate(-54 -23)" d="M879 4743l67-18 9-4 8-7 9-14 4-11 9-28 17-65 4-11 5-6 4-1 4 3 4 7 6 12 16 48 9 20 8 12 4 3 9 4 29-2 450-116 28-2 9 3 4 4 9 12 9 20 16 47 5 13 4 7 5 3 4-1 4-7 5-10 17-65 8-29 5-10 8-14 9-7 8-4 68-18-6 28-67 17-9 4-8 7-9 14-4 11-9 29-17 64-4 11-5 6-4 2-4-4-5-7-5-12-16-48-9-19-8-12-5-4-8-4-29 3-450 115-28 3-9-4-4-4-9-12-9-19-16-48-5-12-4-7-5-4-4 2-4 6-5 11-17 64-8 29-5 11-8 14-9 7-8 4-68 17z"/>
<path transform="translate(-50 -22)" d="M880 4731l67-18 9-3 9-7 8-14 4-11 9-29 17-64 5-11 4-6 4-2 4 4 5 7 5 12 16 48 9 19 8 12 5 4 8 4 29-3 450-115 29-3 8 4 5 4 8 12 9 19 16 48 5 12 5 7 4 4 4-2 5-6 4-11 17-64 9-29 4-11 9-14 8-7 9-4 67-17-8 24-68 18-9 4-8 7-9 14-4 11-9 28-17 65-4 11-4 6-5 1-4-3-4-7-5-12-17-48-8-19-9-13-4-3-9-4-28 2-451 116-28 3-9-4-4-4-9-12-8-19-17-48-5-13-4-7-4-3-5 2-4 6-4 10-18 65-8 29-4 10-9 14-9 8-8 3-68 18z"/>
<path transform="translate(-46 -20)" d="M878 4738l68-18 8-4 9-7 9-14 4-11 9-28 17-65 4-11 4-6 5-1 4 3 4 7 5 12 17 48 8 19 9 13 4 3 9 4 28-3 451-115 28-3 9 4 4 4 9 12 8 19 17 48 5 13 4 7 4 3 5-2 4-6 4-10 17-65 9-29 4-10 9-14 9-8 8-3 68-18-8 2-68 17-9 4-8 7-9 14-4 11-9 29-17 64-4 11-4 6-5 1-4-3-4-7-5-12-17-48-8-19-9-12-4-4-9-4-28 3-451 115-28 3-9-4-4-4-9-12-8-19-17-48-5-12-4-8-4-3-5 2-4 6-4 10-18 65-8 29-4 10-9 15-9 7-8 3-68 18z"/>
<path transform="translate(-43 -19)" d="M879 4753l67-17 9-4 8-7 9-14 4-11 9-29 17-64 4-11 5-6 4-1 4 3 5 7 5 12 16 48 9 19 8 12 5 4 8 4 29-3 450-115 28-3 9 4 4 4 9 12 9 19 16 48 5 12 4 8 5 3 4-2 4-6 5-10 17-65 8-29 5-11 8-14 9-7 8-3 68-18-6-25-67 17-9 4-8 7-9 14-4 11-9 29-17 64-4 11-5 6-4 2-4-4-5-7-5-12-16-48-9-19-8-12-5-4-8-4-29 3-450 115-28 3-9-4-4-4-9-12-9-19-16-48-5-12-4-7-5-4-4 2-4 6-5 11-17 64-8 29-5 11-8 14-9 7-8 4-68 17z"/>
<path transform="translate(-39 -17)" d="M880 4783l67-18 9-3 9-7 8-15 4-10 9-29 17-65 5-10 4-6 4-2 4 3 5 7 5 13 16 48 9 19 8 12 5 4 8 4 29-3 450-115 29-3 8 4 5 4 8 12 9 19 16 48 5 12 5 7 4 3 4-1 5-6 4-11 17-65 9-28 4-11 9-14 8-7 9-4 67-17-8-49-68 18-9 3-8 7-9 15-4 10-9 29-17 65-4 10-4 6-5 2-4-3-4-7-5-13-17-48-8-19-9-12-4-4-9-4-28 3-451 115-28 3-9-4-4-4-9-12-8-19-17-48-5-12-4-7-4-3-5 1-4 6-4 11-18 65-8 28-4 11-9 14-9 7-8 4-68 17z"/>
<path transform="translate(-35 -15)" d="M878 4790l68-18 8-3 9-8 9-14 4-10 9-29 17-65 4-10 4-6 5-2 4 3 4 7 5 13 17 48 8 19 9 12 4 4 9 4 28-3 451-115 28-3 9 4 4 3 9 13 8 19 17 48 5 12 4 7 4 3 5-1 4-6 4-11 17-65 9-28 4-11 9-14 9-7 8-4 68-17-8-41-68 18-9 4-8 7-9 14-4 11-9 28-17 65-4 10-4 7-5 1-4-3-4-7-5-13-17-47-8-20-9-12-4-3-9-4-28 2-451 116-28 2-9-4-4-3-9-12-8-20-17-47-5-13-4-7-4-3-5 1-4 7-4 10-18 65-8 29-4 10-9 14-9 7-8 4-68 18z"/>
<path transform="translate(-32 -14)" d="M879 4795l67-18 9-3 8-8 9-14 4-10 9-29 17-65 4-10 5-6 4-2 4 3 5 7 5 13 16 48 9 19 8 12 5 4 8 4 29-3 450-116 28-2 9 4 4 3 9 13 9 19 16 48 5 12 4 7 5 3 4-1 4-6 5-11 17-65 8-28 5-11 8-14 9-7 8-4 68-18-6-14-67 17-9 4-8 7-9 14-4 11-9 29-17 64-4 11-5 6-4 1-4-3-5-7-5-12-16-48-9-19-8-12-5-4-8-4-29 3-450 115-28 3-9-4-4-4-9-12-9-19-16-48-5-12-4-8-5-3-4 2-4 6-5 10-17 65-8 29-5 10-8 15-9 7-8 3-68 18z"/>
<path transform="translate(-28 -12)" d="M880 4798l67-18 9-4 9-7 8-14 4-11 9-28 17-65 5-11 4-6 4-1 4 3 5 7 5 12 16 48 9 19 8 13 5 3 8 4 29-2 450-116 29-3 8 4 5 4 8 12 9 19 16 48 5 13 5 7 4 3 4-2 5-6 4-10 17-65 9-29 4-10 9-14 8-8 9-3 67-18-8-11-68 18-9 4-8 7-9 14-4 11-9 28-17 65-4 11-4 6-5 1-4-3-4-7-5-12-17-48-8-19-9-13-4-3-9-4-29 2-450 116-28 3-9-4-4-4-9-12-8-19-17-48-5-13-4-7-4-3-5 2-4 6-4 10-18 65-8 29-4 10-9 14-9 8-8 3-68 18z"/>
<path transform="translate(-24 -10)" d="M878 4797l68-18 8-3 9-8 9-14 4-10 9-29 17-65 4-10 4-6 5-2 4 3 4 7 5 13 17 48 8 19 9 12 4 4 9 4 28-3 451-115 28-3 9 4 4 3 9 13 8 19 17 48 5 12 4 7 4 3 5-1 4-6 4-11 17-65 9-28 4-11 9-14 9-7 8-4 68-17-8-6-68 18-9 3-8 7-9 14-4 11-9 29-17 64-4 11-4 6-5 2-4-4-4-7-5-12-17-48-8-19-9-12-4-4-9-4-28 3-451 115-28 3-9-4-4-4-9-12-8-19-17-48-5-12-4-7-4-4-5 2-4 6-4 11-18 64-8 29-4 11-9 14-9 7-8 4-68 17z"/>
<path transform="translate(-21 -9)" d="M879 4797l67-18 9-3 8-7 9-14 4-11 9-29 17-64 4-11 5-6 4-2 4 3 5 8 5 12 16 48 9 19 8 12 5 4 8 4 29-3 450-115 28-3 9 4 4 4 9 12 9 19 16 48 5 12 4 7 5 4 4-2 4-6 5-11 17-64 8-29 5-11 8-14 9-7 8-4 68-17-6-3-67 18-9 4-8 7-9 14-4 10-9 29-17 65-4 10-5 7-4 1-4-3-5-7-5-13-16-47-9-20-8-12-5-4-8-3-29 2-450 116-28 2-9-4-4-3-9-13-9-19-16-48-5-12-4-7-5-3-4 1-4 6-5 11-17 65-8 28-5 11-8 14-9 7-8 4-68 18z"/>
<path transform="translate(-16 -7)" d="M880 4798l67-18 9-4 9-7 8-14 4-11 9-28 17-65 5-11 4-6 4-1 4 3 5 7 5 13 16 47 9 20 8 12 5 3 8 4 29-2 450-116 29-2 8 3 5 4 8 12 9 20 16 47 5 13 5 7 4 3 4-1 5-7 4-10 17-65 9-29 4-10 9-14 8-7 9-4 67-18-8-4-68 18-9 4-8 7-9 14-4 11-9 28-17 65-4 11-4 6-5 1-4-3-4-7-5-12-17-48-8-19-9-13-4-3-9-4-29 2-450 116-28 3-9-4-4-4-9-12-8-19-17-48-5-13-4-7-5-3-4 2-4 6-4 10-18 65-8 29-5 10-8 14-9 7-8 4-68 18z"/>
<path transform="translate(-12 -5)" d="M878 4797l68-18 8-3 9-7 9-15 4-10 9-29 17-65 4-10 4-6 5-2 4 3 4 7 5 13 17 48 8 19 9 12 4 4 9 4 28-3 451-115 28-3 9 4 4 4 9 12 8 19 17 48 5 12 4 7 4 3 5-1 4-6 4-11 17-65 9-28 4-11 9-14 9-7 8-4 68-17-8-4-68 18-8 3-9 8-9 14-4 10-9 29-17 65-4 10-4 6-5 2-4-3-4-7-5-13-17-48-8-19-9-12-4-4-9-4-28 3-451 116-28 2-9-4-4-3-9-13-8-19-17-48-5-12-4-7-4-3-5 1-4 6-4 11-18 65-8 28-4 11-9 14-9 7-8 4-68 18z"/>
<path transform="translate(-6 -2)" d="M883 4799l67-18 9-4 8-7 9-14 4-10 9-29 17-65 4-10 5-6 4-2 4 3 5 7 5 13 16 48 9 19 8 12 5 4 8 4 29-3 450-116 28-2 9 4 4 3 9 13 9 19 16 48 5 12 4 7 5 3 4-1 4-6 5-11 17-65 8-28 5-11 8-14 9-7 8-4 68-18-14-5-67 17-9 4-8 7-9 14-4 11-9 28-17 65-4 11-5 6-4 1-4-3-4-7-6-12-16-48-9-19-8-12-4-4-9-4-29 3-450 115-28 3-9-4-4-4-9-12-9-19-16-48-5-13-4-7-5-3-4 2-4 6-5 10-17 65-8 29-5 10-8 15-9 7-8 3-68 18z"/>
</g></g>
<path d="M208.1 1015.9l2.9 1.2M265.4 1001.1l2.9 1.2M322.8 986.4l2.9 1.2M149.9 1013.3l-3 0.8M105.2 993.9l-3 0.8M60.5 974.5l-3 0.8M35 963.5l-3 0.8M35 931l-3 0.8M35 898.5l-3 0.8M35 866l-3 0.8M35 833.5l-3 0.8" fill="none" stroke="#3c3c3c" stroke-width=".9"/>
<path d="M175.4 1024.3L355.5 978M175.4 1024.3L35 963.5" fill="none" stroke="#3c3c3c" stroke-width="1"/>
<path d="M35 963.5L35 833.5" fill="none" stroke="#b9c3c6" stroke-width=".8"/>
<g font-size="13.0"><text x="213.5" y="1030.9">-2</text><text x="270.9" y="1016.1">0</text><text x="328.2" y="1001.4">2</text><g text-anchor="end"><text x="142.9" y="1027.3">-2</text><text x="98.2" y="1007.9">0</text><text x="53.5" y="988.6">2</text><text x="28.2" y="966.6">-2</text><text x="28.2" y="934.1">-1</text><text x="28.2" y="901.6">0</text><text x="28.2" y="869.1">1</text><text x="28.2" y="836.6">2</text></g></g></g>
<g clip-path="url(#ch)"><path d="M553.3 1016.9L415.4 957.4M415.4 957.4L415.4 827.4M613 1002L475.1 942.5M475.1 942.5L475.1 812.5M672.8 987.2L534.9 927.7M534.9 927.7L534.9 797.7M500.4 1014.4L679.7 969.9M679.7 969.9L679.7 839.9M454.4 994.5L633.8 950M633.8 950L633.8 820M408.5 974.7L587.8 930.2M587.8 930.2L587.8 800.2M385.5 964.8L564.8 920.3M564.8 920.3L702.7 979.8M385.5 899.8L564.8 855.3M564.8 855.3L702.7 914.8M385.5 834.8L564.8 790.3M564.8 790.3L702.7 849.8M385.5 964.8L564.8 920.3M702.7 979.8L564.8 920.3" fill="none" stroke="#ccd6d9" stroke-width=".65"/>
<g transform="scale(.2)"><g fill="none" stroke-width="3">
<path stroke="#1f3fff" d="M2778 4977l-68 12-32 4-27 1-31 0-22-2-26-4-22-4-37-11-32-12-131-57-19-11-18-12-8-11-1-5 0-5 2-6 6-6 11-8 22-11 33-11 92-26 134-33 60-13 67-12 32-4 27-1 31 0 22 2 26 4 22 4 37 11 32 12 96 41 42 20 18 10 14 12 6 8 1 6-1 6-7 10-18 12-23 10-33 11-94 25z"/>
<path stroke="#2d8dff" d="M2805 4996l-85 16-39 4-33 3-38 0-32-2-27-4-33-6-38-11-40-15-112-47-49-23-25-14-11-7-9-8-4-5-4-8-1-10 2-5 7-8 17-12 28-13 34-12 45-13 66-17 163-40 69-16 75-13 36-4 40-2 31 0 25 2 27 4 33 6 38 11 40 15 119 50 49 23 29 18 13 12 5 9 0 7-1 6-8 10-6 5-14 9-26 11-33 12-92 25z"/>
<path stroke="#5bfdc1" d="M3248 4829l10 9 7 8 4 9 0 9-4 7-7 8-10 8-13 8-30 13-51 17-65 18-114 28-115 28-70 16-63 12-47 6-53 3-47-1-51-6-46-10M2193 4894l-10-9-7-8-4-9 0-9 4-7 7-8 10-8 13-8 30-13 51-17 65-18 114-28 115-28 70-16 63-12 47-6 53-3 47 1 51 6 46 10"/>
<path stroke="#94ff73" d="M3310 4856l0 6-3 9-5 6-7 7-23 14-30 13-42 14-45 13-161 41-164 40-51 11-53 9-47 6-47 3-42 1-45-3M2131 4867l0-6 3-9 5-6 7-7 23-14 30-13 42-14 45-13 161-41 164-40 51-11 53-9 47-6 47-3 42-1 45 3"/>
<path stroke="#f1fb27" d="M3341 4869l-7 10-8 7-11 8-24 12-32 12-43 14-45 13-162 41-163 40-51 11-52 10-45 6-42 4-49 3-31-1M2100 4854l7-10 8-7 11-8 24-12 32-12 43-14 45-13 162-41 163-40 51-11 52-10 45-6 42-4 49-3 31 1"/>
<path stroke="#ff4a1f" d="M2748 5055l-46 7-36 4-67 3M3364 4879l-13 11-16 9-21 11-33 12M2077 4844l13-11 16-9 21-11 33-12M2693 4668l46-7 36-4 67-3"/>
<path stroke="#d01f1f" d="M2677 5072l-60 5M3382 4887l-13 8-17 10M2059 4836l13-8 17-10M2764 4651l60-5"/>
<path stroke="#6d1f1f" d="M2634 5083l-3 0M3396 4893l-1 1M2045 4830l1-1M2807 4640l3 0"/>
</g>
<g fill="url(#gh)">
<path transform="translate(-635 -274)" d="M2686 4617l20 28 19 22 19 19 19 15 19 11 19 9 19 6 19 4 20 2 19 0 38-3 57-10 96-24 96-24 57-18 38-16 19-10 19-11 20-13 19-16 19-18 19-21 19-24 19-28 19-33 19-37-7-37-19 37-19 33-19 28-19 24-20 21-19 18-19 16-19 13-19 12-19 9-38 16-58 18-95 25-96 23-57 10-39 3-19 0-19-2-19-4-19-6-19-8-19-12-20-15-19-18-19-23-19-28z"/>
<path transform="translate(-628 -271)" d="M2686 4648l20 28 19 23 19 18 19 15 19 12 19 8 19 6 19 4 20 2 19 0 38-3 57-10 96-23 96-25 57-18 38-16 19-10 19-11 20-13 19-16 19-18 19-21 19-24 19-28 19-33 19-37-14-71-19 37-20 33-19 28-19 24-19 21-19 18-19 16-19 13-19 11-20 10-38 16-57 18-96 25-95 23-58 10-38 3-19 0-19-2-19-4-20-6-19-8-19-12-19-15-19-19-19-22-19-28z"/>
<path transform="translate(-621 -268)" d="M2686 4677l20 27 19 23 19 19 19 15 19 11 19 9 19 6 19 4 20 2 19 0 38-3 57-11 96-23 96-24 57-18 38-16 19-10 19-11 20-13 19-16 19-18 19-21 19-24 19-29 19-32 19-37-14-66-19 37-20 32-19 28-19 25-19 21-19 18-19 15-19 14-19 11-20 10-38 16-57 18-96 24-95 23-58 11-38 3-19-1-19-2-19-3-20-6-19-9-19-11-19-15-19-19-19-23-19-27z"/>
<path transform="translate(-613 -265)" d="M2686 4703l20 28 19 23 19 18 19 15 19 12 19 8 19 6 19 4 20 2 19 0 38-3 57-10 96-23 96-25 57-18 38-15 19-10 19-12 20-13 19-15 19-19 19-21 19-24 19-28 19-32 19-38-14-61-19 37-20 32-19 28-19 25-19 21-19 18-19 15-19 14-19 11-20 10-38 16-57 18-96 24-95 23-58 11-38 3-19 0-19-2-19-4-20-6-19-9-19-11-19-15-19-19-19-23-19-27z"/>
<path transform="translate(-606 -261)" d="M2686 4728l20 27 19 23 19 19 19 15 19 11 19 9 19 6 19 4 20 2 19 0 38-3 57-11 96-23 96-24 57-18 38-16 19-10 19-11 20-14 19-15 19-18 19-21 19-24 19-29 19-32 19-37-14-57-19 37-20 32-19 28-19 25-19 21-19 18-19 15-19 13-19 12-20 10-38 16-57 18-96 24-95 23-58 11-38 3-19-1-19-2-19-3-20-6-19-9-19-12-19-14-19-19-19-23-19-28z"/>
<path transform="translate(-598 -258)" d="M2686 4750l20 28 19 23 19 18 19 15 19 12 19 8 19 6 19 4 20 2 19 0 38-3 57-10 96-23 96-25 57-18 38-16 19-10 19-11 20-13 19-16 19-18 19-21 19-24 19-28 19-33 19-37-14-53-19 37-20 33-19 28-19 24-19 21-19 18-19 16-19 13-19 11-20 10-38 16-57 18-96 25-95 23-58 10-38 3-19 0-19-2-19-4-20-6-19-8-19-12-19-15-19-19-19-22-19-28z"/>
<path transform="translate(-591 -255)" d="M2686 4771l20 27 19 23 19 19 19 15 19 11 19 9 19 6 19 4 20 1 19 1 38-3 57-11 96-23 96-24 57-18 38-16 19-10 19-11 20-14 19-15 19-18 19-21 19-25 19-28 19-32 19-37-14-49-19 37-20 32-19 28-19 25-19 21-19 18-19 15-19 13-19 12-20 10-38 15-57 19-96 24-95 23-58 10-38 3-19 0-19-2-19-4-20-6-19-8-19-12-19-14-19-19-19-23-19-28z"/>
<path transform="translate(-584 -252)" d="M2686 4789l20 28 19 23 19 19 19 14 19 12 19 8 19 6 19 4 20 2 19 0 38-3 57-10 96-23 96-25 57-18 38-15 19-10 19-12 20-13 19-15 19-19 19-21 19-24 19-28 19-32 19-38-14-45-19 37-20 32-19 29-19 24-19 21-19 18-19 15-19 14-19 11-20 10-38 16-57 18-96 24-95 23-58 11-38 3-19 0-19-2-19-4-20-6-19-9-19-11-19-15-19-19-19-23-19-27z"/>
<path transform="translate(-576 -249)" d="M2686 4806l20 28 19 23 19 19 19 14 19 12 19 9 19 6 19 3 20 2 19 1 38-4 57-10 96-23 96-24 57-18 38-16 19-10 19-12 20-13 19-15 19-18 19-21 19-25 19-28 19-32 19-37-14-43-19 38-20 32-19 28-19 24-19 21-19 18-19 16-19 13-19 12-20 9-38 16-57 18-96 25-95 23-58 10-38 3-19 0-19-2-19-4-20-6-19-8-19-12-19-15-19-18-19-23-19-28z"/>
<path transform="translate(-569 -246)" d="M2686 4822l20 27 19 23 19 19 19 15 19 11 19 9 19 6 19 4 20 2 19 0 38-3 57-11 96-23 96-24 57-18 38-16 19-10 19-11 20-13 19-16 19-18 19-21 19-24 19-28 19-33 19-37-14-39-19 37-20 33-19 28-19 24-19 21-19 18-19 16-19 13-19 11-20 10-38 16-57 18-96 25-95 23-58 10-38 3-19 0-19-2-19-4-20-6-19-8-19-12-19-15-19-18-19-23-19-28z"/>
<path transform="translate(-562 -242)" d="M2686 4836l20 27 19 23 19 19 19 15 19 11 19 9 19 6 19 4 20 2 19 0 38-3 57-11 96-23 96-24 57-18 38-16 19-10 19-11 20-13 19-16 19-18 19-21 19-24 19-28 19-33 19-37-14-36-19 37-20 33-19 28-19 24-19 21-19 18-19 16-19 13-19 11-20 10-38 16-57 18-96 25-95 23-58 10-38 3-19 0-19-2-19-4-20-6-19-8-19-12-19-15-19-18-19-23-19-28z"/>
<path transform="translate(-554 -239)" d="M2686 4849l20 27 19 23 19 19 19 15 19 11 19 9 19 6 19 3 20 2 19 1 38-3 57-11 96-23 96-24 57-18 38-16 19-10 19-12 20-13 19-15 19-18 19-21 19-25 19-28 19-32 19-37-14-33-19 37-20 32-19 28-19 25-19 21-19 18-19 15-19 14-19 11-20 10-38 16-57 18-96 24-95 23-58 11-38 3-19-1-19-2-19-3-20-6-19-9-19-11-19-15-19-19-19-23-19-27z"/>
<path transform="translate(-547 -236)" d="M2686 4860l20 27 19 23 19 19 19 15 19 11 19 9 19 6 19 4 20 2 19 0 38-3 57-11 96-23 96-24 57-18 38-16 19-10 19-11 20-13 19-16 19-18 19-21 19-24 19-29 19-32 19-37-14-30-19 37-20 32-19 28-19 25-19 21-19 18-19 15-19 14-19 11-20 10-38 16-57 18-96 24-95 23-58 11-38 3-19-1-19-2-19-3-20-6-19-9-19-11-19-15-19-19-19-23-19-27z"/>
<path transform="translate(-540 -233)" d="M2686 4870l20 28 19 23 19 18 19 15 19 12 19 8 19 6 19 4 20 2 19 0 38-3 57-10 96-23 96-25 57-18 38-16 19-10 19-11 20-13 19-16 19-18 19-21 19-24 19-28 19-33 19-37-14-28-19 37-20 33-19 28-19 24-19 21-19 18-19 16-19 13-19 12-20 9-38 16-57 18-96 25-95 23-58 10-38 3-19 0-19-2-19-4-20-6-19-8-19-12-19-15-19-18-19-23-19-28z"/>
<path transform="translate(-532 -230)" d="M2686 4879l20 28 19 23 19 18 19 15 19 12 19 8 19 6 19 4 20 2 19 0 38-3 57-10 96-23 96-25 57-18 38-16 19-10 19-11 20-13 19-16 19-18 19-21 19-24 19-28 19-33 19-37-14-25-19 37-20 32-19 28-19 25-19 21-19 18-19 15-19 13-19 12-20 10-38 16-57 18-96 24-95 23-58 11-38 3-19-1-19-2-19-3-20-6-19-9-19-11-19-15-19-19-19-23-19-28z"/>
<path transform="translate(-525 -226)" d="M2686 4887l20 28 19 23 19 18 19 15 19 12 19 8 19 6 19 4 20 2 19 0 38-3 57-10 96-23 96-25 57-18 38-16 19-10 19-11 20-13 19-16 19-18 19-21 19-24 19-28 19-33 19-37-14-23-19 37-20 32-19 28-19 25-19 21-19 18-19 15-19 14-19 11-20 10-38 16-57 18-96 24-95 23-58 11-38 3-19-1-19-1-19-4-20-6-19-9-19-11-19-15-19-19-19-23-19-27z"/>
<path transform="translate(-518 -223)" d="M2686 4894l20 28 19 23 19 18 19 15 19 12 19 8 19 6 19 4 20 2 19 0 38-3 57-10 96-23 96-25 57-18 38-16 19-9 19-12 20-13 19-16 19-18 19-21 19-24 19-28 19-33 19-37-14-21-19 37-20 32-19 28-19 25-19 21-19 18-19 15-19 14-19 11-20 10-38 16-57 18-96 24-95 23-58 11-38 3-19-1-19-1-19-4-20-6-19-9-19-11-19-15-19-19-19-23-19-27z"/>
<path transform="translate(-510 -220)" d="M2686 4900l20 28 19 23 19 19 19 14 19 12 19 8 19 6 19 4 20 2 19 0 38-3 57-10 96-23 96-25 57-18 38-15 19-10 19-12 20-13 19-15 19-19 19-21 19-24 19-28 19-32 19-38-14-19-19 37-20 32-19 28-19 25-19 21-19 18-19 15-19 14-19 11-20 10-38 16-57 18-96 24-95 23-58 11-38 3-19 0-19-2-19-4-20-6-19-9-19-11-19-15-19-19-19-23-19-27z"/>
<path transform="translate(-503 -217)" d="M2686 4906l20 27 19 23 19 19 19 15 19 11 19 9 19 6 19 4 20 2 19 0 38-3 57-11 96-23 96-24 57-18 38-16 19-10 19-11 20-14 19-15 19-18 19-21 19-24 19-29 19-32 19-37-14-18-19 37-20 32-19 29-19 24-19 21-19 18-19 15-19 14-19 11-20 10-38 16-57 18-96 24-95 23-58 11-38 3-19 0-19-2-19-4-20-6-19-9-19-11-19-15-19-19-19-23-19-27z"/>
<path transform="translate(-496 -214)" d="M2686 4910l20 28 19 23 19 19 19 15 19 11 19 9 19 6 19 3 20 2 19 1 38-3 57-11 96-23 96-24 57-18 38-16 19-10 19-12 20-13 19-15 19-18 19-21 19-25 19-28 19-32 19-37-14-17-19 37-20 33-19 28-19 24-19 21-19 18-19 16-19 13-19 11-20 10-38 16-57 18-96 25-95 23-58 10-38 3-19 0-19-2-19-4-20-6-19-8-19-12-19-15-19-18-19-23-19-28z"/>
<path transform="translate(-488 -211)" d="M2686 4915l20 27 19 23 19 19 19 15 19 11 19 9 19 6 19 3 20 2 19 1 38-3 57-11 96-23 96-24 57-18 38-16 19-10 19-12 20-13 19-15 19-18 19-21 19-25 19-28 19-32 19-37-14-15-19 37-20 32-19 28-19 25-19 21-19 18-19 15-19 13-19 12-20 10-38 16-57 18-96 24-95 23-58 10-38 4-19-1-19-2-19-3-20-6-19-9-19-12-19-14-19-19-19-23-19-28z"/>
<path transform="translate(-481 -207)" d="M2686 4918l20 28 19 22 19 19 19 15 19 12 19 8 19 6 19 4 20 2 19 0 38-3 57-10 96-23 96-25 57-18 38-16 19-10 19-11 20-13 19-16 19-18 19-21 19-24 19-28 19-33 19-37-14-14-19 37-20 33-19 28-19 24-19 21-19 18-19 16-19 13-19 11-20 10-38 16-57 18-96 25-95 23-58 10-38 3-19 0-19-2-19-4-20-6-19-8-19-12-19-15-19-18-19-23-19-28z"/>
<path transform="translate(-473 -204)" d="M2686 4921l20 28 19 22 19 19 19 15 19 11 19 9 19 6 19 4 20 2 19 0 38-3 57-10 96-24 96-24 57-18 38-16 19-10 19-11 20-13 19-16 19-18 19-21 19-24 19-28 19-33 19-37-14-13-19 37-20 33-19 28-19 24-19 21-19 18-19 16-19 13-19 12-20 9-38 16-57 18-96 25-95 23-58 10-38 3-19 0-19-2-19-4-20-6-19-8-19-12-19-15-19-18-19-23-19-28z"/>
<path transform="translate(-466 -201)" d="M2686 4923l20 28 19 23 19 19 19 14 19 12 19 8 19 6 19 4 20 2 19 0 38-3 57-10 96-23 96-25 57-18 38-15 19-10 19-12 20-13 19-15 19-19 19-21 19-24 19-28 19-32 19-38-14-11-19 37-20 32-19 28-19 25-19 21-19 18-19 15-19 14-19 11-20 10-38 16-57 18-96 24-95 23-58 11-38 3-19-1-19-1-19-4-20-6-19-9-19-11-19-15-19-19-19-23-19-27z"/>
<path transform="translate(-459 -198)" d="M2686 4925l20 28 19 23 19 19 19 14 19 12 19 8 19 6 19 4 20 2 19 0 38-3 57-10 96-23 96-24 57-19 38-15 19-10 19-12 20-13 19-15 19-18 19-21 19-25 19-28 19-32 19-37-14-11-19 37-20 32-19 28-19 25-19 21-19 18-19 15-19 14-19 11-20 10-38 16-57 18-96 24-95 23-58 11-38 3-19-1-19-2-19-3-20-6-19-9-19-11-19-15-19-19-19-23-19-27z"/>
<path transform="translate(-451 -195)" d="M2686 4927l20 28 19 23 19 18 19 15 19 12 19 8 19 6 19 4 20 2 19 0 38-3 57-10 96-23 96-25 57-18 38-16 19-10 19-11 20-13 19-16 19-18 19-21 19-24 19-28 19-33 19-37-14-10-19 37-20 33-19 28-19 24-19 21-19 18-19 16-19 13-19 11-20 10-38 16-57 18-96 25-95 23-58 10-38 3-19 0-19-2-19-4-20-6-19-8-19-12-19-15-19-18-19-23-19-28z"/>
<path transform="translate(-444 -192)" d="M2686 4928l20 28 19 23 19 19 19 14 19 12 19 9 19 6 19 3 20 2 19 1 38-4 57-10 96-23 96-24 57-18 38-16 19-10 19-12 20-13 19-15 19-18 19-21 19-25 19-28 19-32 19-37-14-10-19 37-20 33-19 28-19 24-19 21-19 18-19 16-19 13-19 11-20 10-38 16-57 18-96 25-95 23-58 10-38 3-19 0-19-2-19-4-20-6-19-8-19-12-19-15-19-18-19-23-19-28z"/>
<path transform="translate(-437 -188)" d="M2686 4929l20 28 19 23 19 19 19 14 19 12 19 9 19 6 19 3 20 2 19 1 38-3 57-11 96-23 96-24 57-18 38-16 19-10 19-12 20-13 19-15 19-18 19-21 19-25 19-28 19-32 19-37-14-9-19 37-20 32-19 28-19 25-19 21-19 18-19 15-19 14-19 11-20 10-38 16-57 18-96 24-95 23-58 11-38 3-19 0-19-2-19-4-20-6-19-9-19-11-19-15-19-19-19-23-19-27z"/>
<path transform="translate(-429 -185)" d="M2686 4930l20 28 19 23 19 18 19 15 19 12 19 8 19 6 19 4 20 2 19 0 38-3 57-10 96-23 96-25 57-18 38-16 19-9 19-12 20-13 19-16 19-18 19-21 19-24 19-28 19-32 19-38-14-8-19 37-20 33-19 28-19 24-19 21-19 18-19 16-19 13-19 11-20 10-38 16-57 18-96 25-95 23-58 10-38 3-19 0-19-2-19-4-20-6-19-8-19-12-19-15-19-18-19-23-19-28z"/>
<path transform="translate(-422 -182)" d="M2686 4931l20 28 19 22 19 19 19 15 19 11 19 9 19 6 19 4 20 2 19 0 38-3 57-10 96-24 96-24 57-18 38-16 19-10 19-11 20-13 19-16 19-18 19-21 19-24 19-28 19-33 19-37-14-8-19 37-20 33-19 28-19 24-19 21-19 18-19 16-19 13-19 11-20 10-38 16-57 18-96 25-95 23-58 10-38 3-19 0-19-2-19-4-20-6-19-8-19-12-19-15-19-18-19-23-19-28z"/>
<path transform="translate(-415 -179)" d="M2686 4931l20 28 19 23 19 19 19 14 19 12 19 9 19 6 19 3 20 2 19 1 38-4 57-10 96-23 96-24 57-18 38-16 19-10 19-12 20-13 19-15 19-18 19-21 19-25 19-28 19-32 19-37-14-8-19 37-20 33-19 28-19 24-19 21-19 18-19 16-19 13-19 11-20 10-38 16-57 18-96 24-95 24-58 10-38 3-19 0-19-2-19-4-20-6-19-9-19-11-19-15-19-19-19-22-19-28z"/>
<path transform="translate(-407 -176)" d="M2686 4932l20 27 19 23 19 19 19 15 19 11 19 9 19 6 19 4 20 2 19 0 38-3 57-11 96-23 96-24 57-18 38-16 19-10 19-11 20-14 19-15 19-18 19-21 19-24 19-29 19-32 19-37-14-7-19 37-20 32-19 28-19 25-19 21-19 18-19 15-19 14-19 11-20 10-38 16-57 18-96 24-95 23-58 11-38 3-19-1-19-2-19-3-20-6-19-9-19-11-19-15-19-19-19-23-19-27z"/>
<path transform="translate(-400 -173)" d="M2686 4932l20 28 19 22 19 19 19 15 19 12 19 8 19 6 19 4 20 2 19 0 38-3 57-10 96-23 96-25 57-18 38-16 19-10 19-11 20-13 19-16 19-18 19-21 19-24 19-28 19-33 19-37-14-7-19 37-20 33-19 28-19 24-19 21-19 18-19 16-19 13-19 11-20 10-38 16-57 18-96 25-95 23-58 10-38 3-19 0-19-2-19-4-20-6-19-8-19-12-19-15-19-18-19-23-19-28z"/>
<path transform="translate(-393 -169)" d="M2686 4932l20 28 19 23 19 18 19 15 19 12 19 8 19 6 19 4 20 2 19 0 38-3 57-10 96-23 96-25 57-18 38-16 19-10 19-11 20-13 19-16 19-18 19-21 19-24 19-28 19-33 19-37-14-6-19 37-20 32-19 28-19 25-19 21-19 18-19 15-19 13-19 12-20 10-38 15-57 19-96 24-95 23-58 10-38 3-19 0-19-2-19-4-20-6-19-8-19-12-19-14-19-19-19-23-19-28z"/>
<path transform="translate(-385 -166)" d="M2686 4932l20 28 19 23 19 18 19 15 19 12 19 8 19 6 19 4 20 2 19 0 38-3 57-10 96-23 96-25 57-18 38-16 19-9 19-12 20-13 19-16 19-18 19-21 19-24 19-28 19-33 19-37-14-6-19 37-20 32-19 28-19 25-19 21-19 18-19 15-19 14-19 11-20 10-38 16-57 18-96 24-95 23-58 11-38 3-19-1-19-1-19-4-20-6-19-9-19-11-19-15-19-19-19-23-19-27z"/>
<path transform="translate(-378 -163)" d="M2686 4932l20 28 19 23 19 18 19 15 19 12 19 8 19 6 19 4 20 2 19 0 38-3 57-10 96-23 96-25 57-18 38-16 19-9 19-12 20-13 19-16 19-18 19-21 19-24 19-28 19-33 19-37-14-6-19 37-20 32-19 29-19 24-19 21-19 18-19 15-19 14-19 11-20 10-38 16-57 18-96 24-95 23-58 11-38 3-19 0-19-2-19-4-20-6-19-9-19-11-19-15-19-19-19-23-19-27z"/>
<path transform="translate(-370 -160)" d="M2686 4932l20 28 19 23 19 18 19 15 19 12 19 8 19 6 19 4 20 2 19 0 38-3 57-10 96-23 96-25 57-18 38-16 19-9 19-12 20-13 19-16 19-18 19-21 19-24 19-28 19-32 19-38-14-6-19 37-20 32-19 29-19 24-19 21-19 18-19 16-19 13-19 11-20 10-38 16-57 18-96 24-95 23-58 11-38 3-19 0-19-2-19-4-20-6-19-9-19-11-19-15-19-19-19-23-19-27z"/>
<path transform="translate(-363 -157)" d="M2686 4932l20 28 19 23 19 18 19 15 19 12 19 8 19 6 19 4 20 2 19 0 38-3 57-10 96-23 96-25 57-18 38-16 19-9 19-12 20-13 19-16 19-18 19-21 19-24 19-28 19-32 19-38-14-6-19 37-20 33-19 28-19 24-19 21-19 18-19 16-19 13-19 11-20 10-38 16-57 18-96 24-95 24-58 10-38 3-19 0-19-2-19-4-20-6-19-9-19-11-19-15-19-19-19-22-19-28z"/>
<path transform="translate(-356 -154)" d="M2686 4932l20 28 19 23 19 18 19 15 19 12 19 8 19 6 19 4 20 2 19 0 38-3 57-10 96-23 96-25 57-18 38-16 19-9 19-12 20-13 19-16 19-18 19-21 19-24 19-28 19-32 19-38-14-6-19 37-20 33-19 28-19 24-19 21-19 18-19 16-19 13-19 11-20 10-38 16-57 18-96 24-95 24-58 10-38 3-19 0-19-2-19-4-20-6-19-9-19-11-19-15-19-19-19-22-19-28z"/>
<path transform="translate(-348 -150)" d="M2686 4932l20 28 19 23 19 18 19 15 19 12 19 8 19 6 19 4 20 2 19 0 38-3 57-10 96-23 96-25 57-18 38-16 19-9 19-12 20-13 19-16 19-18 19-21 19-24 19-28 19-32 19-38-14-6-19 37-20 33-19 28-19 24-19 21-19 18-19 16-19 13-19 11-20 10-38 16-57 18-96 24-95 24-58 10-38 3-19 0-19-2-19-4-20-6-19-9-19-11-19-15-19-19-19-22-19-28z"/>
<path transform="translate(-341 -147)" d="M2686 4932l20 28 19 23 19 18 19 15 19 12 19 8 19 6 19 4 20 2 19 0 38-3 57-10 96-23 96-25 57-18 38-16 19-9 19-12 20-13 19-16 19-18 19-21 19-24 19-28 19-32 19-38-14-6-19 37-20 33-19 28-19 24-19 21-19 18-19 16-19 13-19 11-20 10-38 16-57 18-96 24-95 24-58 10-38 3-19 0-19-2-19-4-20-6-19-9-19-11-19-15-19-19-19-22-19-28z"/>
<path transform="translate(-334 -144)" d="M2686 4932l20 28 19 23 19 18 19 15 19 12 19 8 19 6 19 4 20 2 19 0 38-3 57-10 96-23 96-25 57-18 38-16 19-9 19-12 20-13 19-16 19-18 19-21 19-24 19-28 19-32 19-38-14-6-19 37-20 33-19 28-19 24-19 21-19 18-19 16-19 13-19 11-20 10-38 16-57 18-96 24-95 24-58 10-38 3-19 0-19-2-19-4-20-6-19-9-19-11-19-15-19-19-19-22-19-28z"/>
<path transform="translate(-326 -141)" d="M2686 4932l20 28 19 23 19 18 19 15 19 12 19 8 19 6 19 4 20 2 19 0 38-3 57-10 96-23 96-25 57-18 38-16 19-9 19-12 20-13 19-16 19-18 19-21 19-24 19-28 19-32 19-38-14-6-19 37-20 33-19 28-19 24-19 21-19 18-19 16-19 13-19 11-20 10-38 16-57 18-96 24-95 24-58 10-38 3-19 0-19-2-19-4-20-6-19-9-19-11-19-15-19-19-19-22-19-28z"/>
<path transform="translate(-319 -138)" d="M2686 4932l20 28 19 23 19 18 19 15 19 12 19 8 19 6 19 4 20 2 19 0 38-3 57-10 96-23 96-25 57-18 38-16 19-9 19-12 20-13 19-16 19-18 19-21 19-24 19-28 19-33 19-37-14-6-19 37-20 33-19 28-19 24-19 21-19 18-19 16-19 13-19 11-20 10-38 16-57 18-96 24-95 24-58 10-38 3-19 0-19-2-19-4-20-6-19-9-19-11-19-15-19-19-19-22-19-28z"/>
<path transform="translate(-312 -134)" d="M2686 4932l20 28 19 23 19 18 19 15 19 12 19 8 19 6 19 4 20 2 19 0 38-3 57-10 96-23 96-25 57-18 38-16 19-9 19-12 20-13 19-16 19-18 19-21 19-24 19-28 19-33 19-37-14-6-19 37-20 33-19 28-19 24-19 21-19 18-19 16-19 13-19 11-20 10-38 16-57 18-96 24-95 24-58 10-38 3-19 0-19-2-19-4-20-6-19-9-19-11-19-15-19-19-19-22-19-28z"/>
<path transform="translate(-304 -131)" d="M2686 4932l20 28 19 23 19 18 19 15 19 12 19 8 19 6 19 4 20 2 19 0 38-3 57-10 96-23 96-25 57-18 38-16 19-10 19-11 20-13 19-16 19-18 19-21 19-24 19-28 19-33 19-37-14-6-19 37-20 33-19 28-19 24-19 21-19 18-19 16-19 13-19 11-20 10-38 16-57 18-96 24-95 24-58 10-38 3-19 0-19-2-19-4-20-6-19-9-19-11-19-15-19-19-19-22-19-28z"/>
<path transform="translate(-297 -128)" d="M2686 4932l20 28 19 22 19 19 19 15 19 12 19 8 19 6 19 4 20 2 19 0 38-3 57-10 96-23 96-25 57-18 38-16 19-10 19-11 20-13 19-16 19-18 19-21 19-24 19-28 19-33 19-37-14-6-19 37-20 32-19 29-19 24-19 21-19 18-19 16-19 13-19 11-20 10-38 16-57 18-96 24-95 23-58 11-38 3-19 0-19-2-19-4-20-6-19-9-19-11-19-15-19-19-19-23-19-27z"/>
<path transform="translate(-290 -125)" d="M2686 4932l20 27 19 23 19 19 19 15 19 11 19 9 19 6 19 4 20 2 19 0 38-3 57-11 96-23 96-24 57-18 38-16 19-10 19-11 20-14 19-15 19-18 19-21 19-24 19-29 19-32 19-37-14-6-19 37-20 32-19 29-19 24-19 21-19 18-19 15-19 14-19 11-20 10-38 16-57 18-96 24-95 23-58 11-38 3-19 0-19-2-19-4-20-6-19-9-19-11-19-15-19-19-19-23-19-27z"/>
<path transform="translate(-282 -122)" d="M2686 4931l20 28 19 23 19 19 19 14 19 12 19 9 19 6 19 3 20 2 19 1 38-4 57-10 96-23 96-24 57-18 38-16 19-10 19-12 20-13 19-15 19-18 19-21 19-25 19-28 19-32 19-37-14-6-19 37-20 32-19 28-19 25-19 21-19 18-19 15-19 14-19 11-20 10-38 16-57 18-96 24-95 23-58 11-38 3-19-1-19-1-19-4-20-6-19-9-19-11-19-15-19-19-19-23-19-27z"/>
<path transform="translate(-275 -119)" d="M2686 4931l20 28 19 22 19 19 19 15 19 11 19 9 19 6 19 4 20 2 19 0 38-3 57-10 96-24 96-24 57-18 38-16 19-10 19-11 20-13 19-16 19-18 19-21 19-24 19-28 19-33 19-37-14-5-19 37-20 32-19 28-19 25-19 21-19 18-19 15-19 13-19 12-20 10-38 15-57 19-96 24-95 23-58 10-38 3-19 0-19-2-19-4-20-6-19-8-19-12-19-14-19-19-19-23-19-28z"/>
<path transform="translate(-268 -115)" d="M2686 4930l20 28 19 23 19 18 19 15 19 12 19 8 19 6 19 4 20 2 19 0 38-3 57-10 96-23 96-25 57-18 38-16 19-9 19-12 20-13 19-16 19-18 19-21 19-24 19-28 19-32 19-38-14-5-19 37-20 33-19 28-19 24-19 21-19 18-19 16-19 13-19 11-20 10-38 16-57 18-96 25-95 23-58 10-38 3-19 0-19-2-19-4-20-6-19-8-19-12-19-15-19-18-19-23-19-28z"/>
<path transform="translate(-260 -112)" d="M2686 4929l20 28 19 23 19 19 19 14 19 12 19 9 19 6 19 3 20 2 19 1 38-3 57-11 96-23 96-24 57-18 38-16 19-10 19-12 20-13 19-15 19-18 19-21 19-25 19-28 19-32 19-37-14-5-19 37-20 32-19 28-19 25-19 21-19 18-19 15-19 14-19 11-20 10-38 16-57 18-96 24-95 23-58 11-38 3-19-1-19-2-19-3-20-6-19-9-19-11-19-15-19-19-19-23-19-27z"/>
<path transform="translate(-253 -109)" d="M2686 4928l20 28 19 23 19 19 19 14 19 12 19 9 19 6 19 3 20 2 19 1 38-4 57-10 96-23 96-24 57-18 38-16 19-10 19-12 20-13 19-15 19-18 19-21 19-25 19-28 19-32 19-37-14-5-19 37-20 33-19 28-19 24-19 21-19 18-19 16-19 13-19 11-20 10-38 16-57 18-96 24-95 24-58 10-38 3-19 0-19-2-19-4-20-6-19-9-19-11-19-15-19-19-19-22-19-28z"/>
<path transform="translate(-245 -106)" d="M2686 4927l20 28 19 23 19 18 19 15 19 12 19 8 19 6 19 4 20 2 19 0 38-3 57-10 96-23 96-25 57-18 38-16 19-10 19-11 20-13 19-16 19-18 19-21 19-24 19-28 19-33 19-37-14-4-19 37-20 33-19 28-19 24-19 21-19 18-19 16-19 13-19 11-20 10-38 16-57 18-96 25-95 23-58 10-38 3-19 0-19-2-19-4-20-6-19-8-19-12-19-15-19-18-19-23-19-28z"/>
<path transform="translate(-238 -103)" d="M2686 4925l20 28 19 23 19 19 19 14 19 12 19 8 19 6 19 4 20 2 19 0 38-3 57-10 96-23 96-24 57-19 38-15 19-10 19-12 20-13 19-15 19-18 19-21 19-25 19-28 19-32 19-37-14-4-19 37-20 33-19 28-19 24-19 21-19 18-19 16-19 13-19 11-20 10-38 16-57 18-96 25-95 23-58 10-38 3-19 0-19-2-19-4-20-6-19-8-19-12-19-15-19-18-19-23-19-28z"/>
<path transform="translate(-231 -100)" d="M2686 4923l20 28 19 23 19 19 19 14 19 12 19 8 19 6 19 4 20 2 19 0 38-3 57-10 96-23 96-25 57-18 38-15 19-10 19-12 20-13 19-15 19-19 19-21 19-24 19-28 19-32 19-38-14-2-19 37-20 32-19 28-19 25-19 21-19 18-19 15-19 14-19 11-20 10-38 16-57 18-96 24-95 23-58 11-38 3-19 0-19-2-19-4-20-6-19-9-19-11-19-15-19-19-19-23-19-27z"/>
<path transform="translate(-223 -96)" d="M2686 4921l20 28 19 22 19 19 19 15 19 11 19 9 19 6 19 4 20 2 19 0 38-3 57-10 96-24 96-24 57-18 38-16 19-10 19-11 20-13 19-16 19-18 19-21 19-24 19-28 19-33 19-37-14-2-19 37-20 33-19 28-19 24-19 21-19 18-19 16-19 13-19 11-20 10-38 16-57 18-96 25-95 23-58 10-38 3-19 0-19-2-19-4-20-6-19-8-19-12-19-15-19-18-19-23-19-28z"/>
<path transform="translate(-216 -93)" d="M2686 4918l20 28 19 22 19 19 19 15 19 12 19 8 19 6 19 4 20 2 19 0 38-3 57-10 96-23 96-25 57-18 38-16 19-10 19-11 20-13 19-16 19-18 19-21 19-24 19-28 19-33 19-37-14-1-19 37-20 33-19 28-19 24-19 21-19 18-19 16-19 13-19 11-20 10-38 16-57 18-96 25-95 23-58 10-38 3-19 0-19-2-19-4-20-6-19-8-19-12-19-15-19-18-19-23-19-28z"/>
<path transform="translate(-209 -90)" d="M2686 4915l20 27 19 23 19 19 19 15 19 11 19 9 19 6 19 3 20 2 19 1 38-3 57-11 96-23 96-24 57-18 38-16 19-10 19-12 20-13 19-15 19-18 19-21 19-25 19-28 19-32 19-37-14 0-19 37-20 32-19 28-19 25-19 21-19 18-19 15-19 14-19 11-20 10-38 16-57 18-96 24-95 23-58 11-38 3-19-1-19-2-19-3-20-6-19-9-19-11-19-15-19-19-19-23-19-27z"/>
<path transform="translate(-201 -87)" d="M2686 4910l20 28 19 23 19 19 19 15 19 11 19 9 19 6 19 3 20 2 19 1 38-3 57-11 96-23 96-24 57-18 38-16 19-10 19-12 20-13 19-15 19-18 19-21 19-25 19-28 19-32 19-37-14 1-19 37-20 32-19 28-19 25-19 21-19 18-19 15-19 14-19 11-20 10-38 16-57 18-96 24-95 23-58 11-38 3-19-1-19-1-19-4-20-6-19-9-19-11-19-15-19-19-19-23-19-27z"/>
<path transform="translate(-194 -84)" d="M2686 4906l20 27 19 23 19 19 19 15 19 11 19 9 19 6 19 4 20 2 19 0 38-3 57-11 96-23 96-24 57-18 38-16 19-10 19-11 20-14 19-15 19-18 19-21 19-24 19-29 19-32 19-37-14 2-19 37-20 33-19 28-19 24-19 21-19 18-19 16-19 13-19 12-20 9-38 16-57 18-96 25-95 23-58 10-38 3-19 0-19-2-19-4-20-6-19-8-19-12-19-15-19-18-19-23-19-28z"/>
<path transform="translate(-187 -81)" d="M2686 4900l20 28 19 23 19 19 19 14 19 12 19 8 19 6 19 4 20 2 19 0 38-3 57-10 96-23 96-25 57-18 38-15 19-10 19-12 20-13 19-15 19-19 19-21 19-24 19-28 19-32 19-38-14 4-19 37-20 33-19 28-19 24-19 21-19 18-19 16-19 13-19 11-20 10-38 16-57 18-96 25-95 23-58 10-38 3-19 0-19-2-19-4-20-6-19-8-19-12-19-15-19-18-19-23-19-28z"/>
<path transform="translate(-179 -77)" d="M2686 4894l20 28 19 23 19 18 19 15 19 12 19 8 19 6 19 4 20 2 19 0 38-3 57-10 96-23 96-25 57-18 38-16 19-9 19-12 20-13 19-16 19-18 19-21 19-24 19-28 19-33 19-37-14 6-19 37-20 32-19 28-19 25-19 21-19 18-19 15-19 13-19 12-20 10-38 16-57 18-96 24-95 23-58 10-38 4-19-1-19-2-19-3-20-6-19-9-19-12-19-14-19-19-19-23-19-28z"/>
<path transform="translate(-172 -74)" d="M2686 4887l20 28 19 23 19 18 19 15 19 12 19 8 19 6 19 4 20 2 19 0 38-3 57-10 96-23 96-25 57-18 38-16 19-10 19-11 20-13 19-16 19-18 19-21 19-24 19-28 19-33 19-37-14 7-19 37-20 33-19 28-19 24-19 21-19 18-19 16-19 13-19 11-20 10-38 16-57 18-96 25-95 23-58 10-38 3-19 0-19-2-19-4-20-6-19-8-19-12-19-15-19-18-19-23-19-28z"/>
<path transform="translate(-165 -71)" d="M2686 4879l20 28 19 23 19 18 19 15 19 12 19 8 19 6 19 4 20 2 19 0 38-3 57-10 96-23 96-25 57-18 38-16 19-10 19-11 20-13 19-16 19-18 19-21 19-24 19-28 19-33 19-37-14 9-19 37-20 32-19 29-19 24-19 21-19 18-19 15-19 14-19 11-20 10-38 16-57 18-96 24-95 23-58 11-38 3-19 0-19-2-19-4-20-6-19-9-19-11-19-15-19-19-19-23-19-27z"/>
<path transform="translate(-157 -68)" d="M2686 4870l20 28 19 23 19 18 19 15 19 12 19 8 19 6 19 4 20 2 19 0 38-3 57-10 96-23 96-25 57-18 38-16 19-10 19-11 20-13 19-16 19-18 19-21 19-24 19-28 19-33 19-37-14 11-19 37-20 32-19 28-19 25-19 21-19 18-19 15-19 14-19 11-20 10-38 16-57 18-96 24-95 23-58 11-38 3-19 0-19-2-19-4-20-6-19-9-19-11-19-15-19-19-19-23-19-27z"/>
<path transform="translate(-150 -65)" d="M2686 4860l20 27 19 23 19 19 19 15 19 11 19 9 19 6 19 4 20 2 19 0 38-3 57-11 96-23 96-24 57-18 38-16 19-10 19-11 20-13 19-16 19-18 19-21 19-24 19-29 19-32 19-37-14 13-19 37-20 32-19 28-19 25-19 21-19 18-19 15-19 14-19 11-20 10-38 16-57 18-96 24-95 23-58 11-38 3-19-1-19-1-19-4-20-6-19-9-19-11-19-15-19-19-19-23-19-27z"/>
<path transform="translate(-142 -61)" d="M2686 4849l20 27 19 23 19 19 19 15 19 11 19 9 19 6 19 3 20 2 19 1 38-3 57-11 96-23 96-24 57-18 38-16 19-10 19-12 20-13 19-15 19-18 19-21 19-25 19-28 19-32 19-37-14 15-19 37-20 32-19 28-19 25-19 21-19 18-19 15-19 14-19 11-20 10-38 16-57 18-96 24-95 23-58 11-38 3-19-1-19-1-19-4-20-6-19-9-19-11-19-15-19-19-19-23-19-27z"/>
<path transform="translate(-135 -58)" d="M2686 4836l20 27 19 23 19 19 19 15 19 11 19 9 19 6 19 4 20 2 19 0 38-3 57-11 96-23 96-24 57-18 38-16 19-10 19-11 20-13 19-16 19-18 19-21 19-24 19-28 19-33 19-37-14 18-19 37-20 32-19 28-19 25-19 21-19 18-19 15-19 13-19 12-20 10-38 16-57 18-96 24-95 23-58 11-38 3-19-1-19-2-19-3-20-6-19-9-19-11-19-15-19-19-19-23-19-28z"/>
<path transform="translate(-128 -55)" d="M2686 4822l20 27 19 23 19 19 19 15 19 11 19 9 19 6 19 4 20 2 19 0 38-3 57-11 96-23 96-24 57-18 38-16 19-10 19-11 20-13 19-16 19-18 19-21 19-24 19-28 19-33 19-37-14 20-19 37-20 33-19 28-19 24-19 21-19 18-19 16-19 13-19 12-20 9-38 16-57 18-96 25-95 23-58 10-38 3-19 0-19-2-19-4-20-6-19-8-19-12-19-15-19-18-19-23-19-28z"/>
<path transform="translate(-120 -52)" d="M2686 4806l20 28 19 23 19 19 19 14 19 12 19 9 19 6 19 3 20 2 19 1 38-4 57-10 96-23 96-24 57-18 38-16 19-10 19-12 20-13 19-15 19-18 19-21 19-25 19-28 19-32 19-37-14 23-19 37-20 32-19 28-19 25-19 21-19 18-19 15-19 14-19 11-20 10-38 16-57 18-96 24-95 23-58 11-38 3-19-1-19-2-19-3-20-6-19-9-19-11-19-15-19-19-19-23-19-27z"/>
<path transform="translate(-113 -49)" d="M2686 4789l20 28 19 23 19 19 19 14 19 12 19 8 19 6 19 4 20 2 19 0 38-3 57-10 96-23 96-25 57-18 38-15 19-10 19-12 20-13 19-15 19-19 19-21 19-24 19-28 19-32 19-38-14 27-19 37-20 32-19 28-19 25-19 21-19 18-19 15-19 14-19 11-20 10-38 16-57 18-96 24-95 23-58 11-38 3-19-1-19-2-19-3-20-6-19-9-19-11-19-15-19-19-19-23-19-27z"/>
<path transform="translate(-106 -46)" d="M2686 4771l20 27 19 23 19 19 19 15 19 11 19 9 19 6 19 4 20 1 19 1 38-3 57-11 96-23 96-24 57-18 38-16 19-10 19-11 20-14 19-15 19-18 19-21 19-25 19-28 19-32 19-37-14 29-19 37-20 33-19 28-19 24-19 21-19 18-19 16-19 13-19 11-20 10-38 16-57 18-96 25-95 23-58 10-38 3-19 0-19-2-19-4-20-6-19-8-19-12-19-15-19-18-19-23-19-28z"/>
<path transform="translate(-98 -42)" d="M2686 4750l20 28 19 23 19 18 19 15 19 12 19 8 19 6 19 4 20 2 19 0 38-3 57-10 96-23 96-25 57-18 38-16 19-10 19-11 20-13 19-16 19-18 19-21 19-24 19-28 19-33 19-37-14 33-19 37-20 33-19 28-19 24-19 21-19 18-19 16-19 13-19 11-20 10-38 16-57 18-96 25-95 23-58 10-38 3-19 0-19-2-19-4-20-6-19-8-19-12-19-15-19-18-19-23-19-28z"/>
<path transform="translate(-91 -39)" d="M2686 4728l20 27 19 23 19 19 19 15 19 11 19 9 19 6 19 4 20 2 19 0 38-3 57-11 96-23 96-24 57-18 38-16 19-10 19-11 20-14 19-15 19-18 19-21 19-24 19-29 19-32 19-37-14 36-19 38-20 32-19 28-19 24-19 21-19 18-19 16-19 13-19 12-20 9-38 16-57 18-96 25-95 23-58 10-38 3-19 0-19-2-19-4-20-6-19-8-19-12-19-15-19-18-19-23-19-28z"/>
<path transform="translate(-84 -36)" d="M2686 4703l20 28 19 23 19 18 19 15 19 12 19 8 19 6 19 4 20 2 19 0 38-3 57-10 96-23 96-25 57-18 38-15 19-10 19-12 20-13 19-15 19-19 19-21 19-24 19-28 19-32 19-38-14 41-19 37-20 32-19 29-19 24-19 21-19 18-19 15-19 14-19 11-20 10-38 16-57 18-96 24-95 23-58 11-38 3-19 0-19-2-19-4-20-6-19-9-19-11-19-15-19-19-19-23-19-27z"/>
<path transform="translate(-76 -33)" d="M2686 4677l20 27 19 23 19 19 19 15 19 11 19 9 19 6 19 4 20 2 19 0 38-3 57-11 96-23 96-24 57-18 38-16 19-10 19-11 20-13 19-16 19-18 19-21 19-24 19-29 19-32 19-37-14 45-19 37-20 32-19 28-19 25-19 21-19 18-19 15-19 13-19 12-20 10-38 15-57 19-96 24-95 23-58 10-38 3-19 0-19-2-19-4-20-6-19-8-19-12-19-14-19-19-19-23-19-28z"/>
<path transform="translate(-69 -30)" d="M2686 4648l20 28 19 23 19 18 19 15 19 12 19 8 19 6 19 4 20 2 19 0 38-3 57-10 96-23 96-25 57-18 38-16 19-10 19-11 20-13 19-16 19-18 19-21 19-24 19-28 19-33 19-37-14 49-19 37-20 33-19 28-19 24-19 21-19 18-19 16-19 13-19 11-20 10-38 16-57 18-96 25-95 23-58 10-38 3-19 0-19-2-19-4-20-6-19-8-19-12-19-15-19-19-19-22-19-28z"/>
<path transform="translate(-62 -27)" d="M2686 4617l20 28 19 22 19 19 19 15 19 11 19 9 19 6 19 4 20 2 19 0 38-3 57-10 96-24 96-24 57-18 38-16 19-10 19-11 20-13 19-16 19-18 19-21 19-24 19-28 19-33 19-37-14 54-19 37-20 32-19 28-19 25-19 21-19 18-19 15-19 13-19 12-20 10-38 16-57 18-96 24-95 23-58 11-38 3-19-1-19-2-19-3-20-6-19-9-19-12-19-14-19-19-19-23-19-28z"/>
<path transform="translate(-54 -23)" d="M2686 4583l20 28 19 23 19 18 19 15 19 12 19 8 19 6 19 4 20 2 19 0 38-3 57-10 96-23 96-25 57-18 38-16 19-9 19-12 20-13 19-15 19-19 19-21 19-24 19-28 19-32 19-38-14 59-19 37-20 32-19 28-19 25-19 21-19 18-19 15-19 14-19 11-20 10-38 16-57 18-96 24-95 23-58 11-38 3-19 0-19-2-19-4-20-6-19-9-19-11-19-15-19-19-19-23-19-27z"/>
</g></g>
<path d="M553.3 1016.9l2.8 1.2M613 1002l2.8 1.2M672.8 987.2l2.8 1.2M500.4 1014.4l-3 0.7M454.4 994.5l-3 0.7M408.5 974.7l-3 0.7M385.5 964.8l-3 0.7M385.5 899.8l-3 0.7M385.5 834.8l-3 0.7" fill="none" stroke="#3c3c3c" stroke-width=".9"/>
<path d="M523.4 1024.3L702.7 979.8M523.4 1024.3L385.5 964.8" fill="none" stroke="#3c3c3c" stroke-width="1"/>
<path d="M385.5 964.8L385.5 834.8" fill="none" stroke="#3c3c3c" stroke-width="1"/>
<g font-size="12.9"><text x="558.6" y="1031.7">-1</text><text x="618.4" y="1016.9">0</text><text x="678.2" y="1002.1">1</text><g text-anchor="end"><text x="493.5" y="1028.3">-1</text><text x="447.5" y="1008.5">0</text><text x="401.6" y="988.6">1</text><text x="378.8" y="967.9">0</text><text x="378.8" y="902.9">5</text><text x="378.8" y="837.9">10</text></g></g></g>
<text x="390" y="294.3" font-size="12.5">x 10</text><text x="414.4" y="287.2" font-size="9.2">5</text>
<g font-family="'Liberation Serif','Times New Roman',serif" font-size="15" fill="#000"><text x="30.7" y="252.1">(a) Three-dimension figure of Rastrigin</text><text x="416.4" y="252.0" textLength="235.6" lengthAdjust="spacingAndGlyphs">(b) Three-dimension figure of Spherical</text><text x="28.8" y="516.4">(c) Three-dimension figure of Griewank</text><text x="407.7" y="516.4">(d) Three-dimension figure of Rosenbrock</text><text x="26.9" y="782.1">(e) Three-dimension figure of Schewefel</text><text x="416.4" y="782.1">(f) Three-dimension figure of Ackley</text><text x="42.9" y="1050.9">(g) Three-dimension figure of Sine</text><text x="388.9" y="1051">(h) Three-dimension figure without the random</text><text x="479.5" y="1068.5" textLength="117.4" lengthAdjust="spacingAndGlyphs">noise term of Noisy</text></g>
</svg></body></html>
